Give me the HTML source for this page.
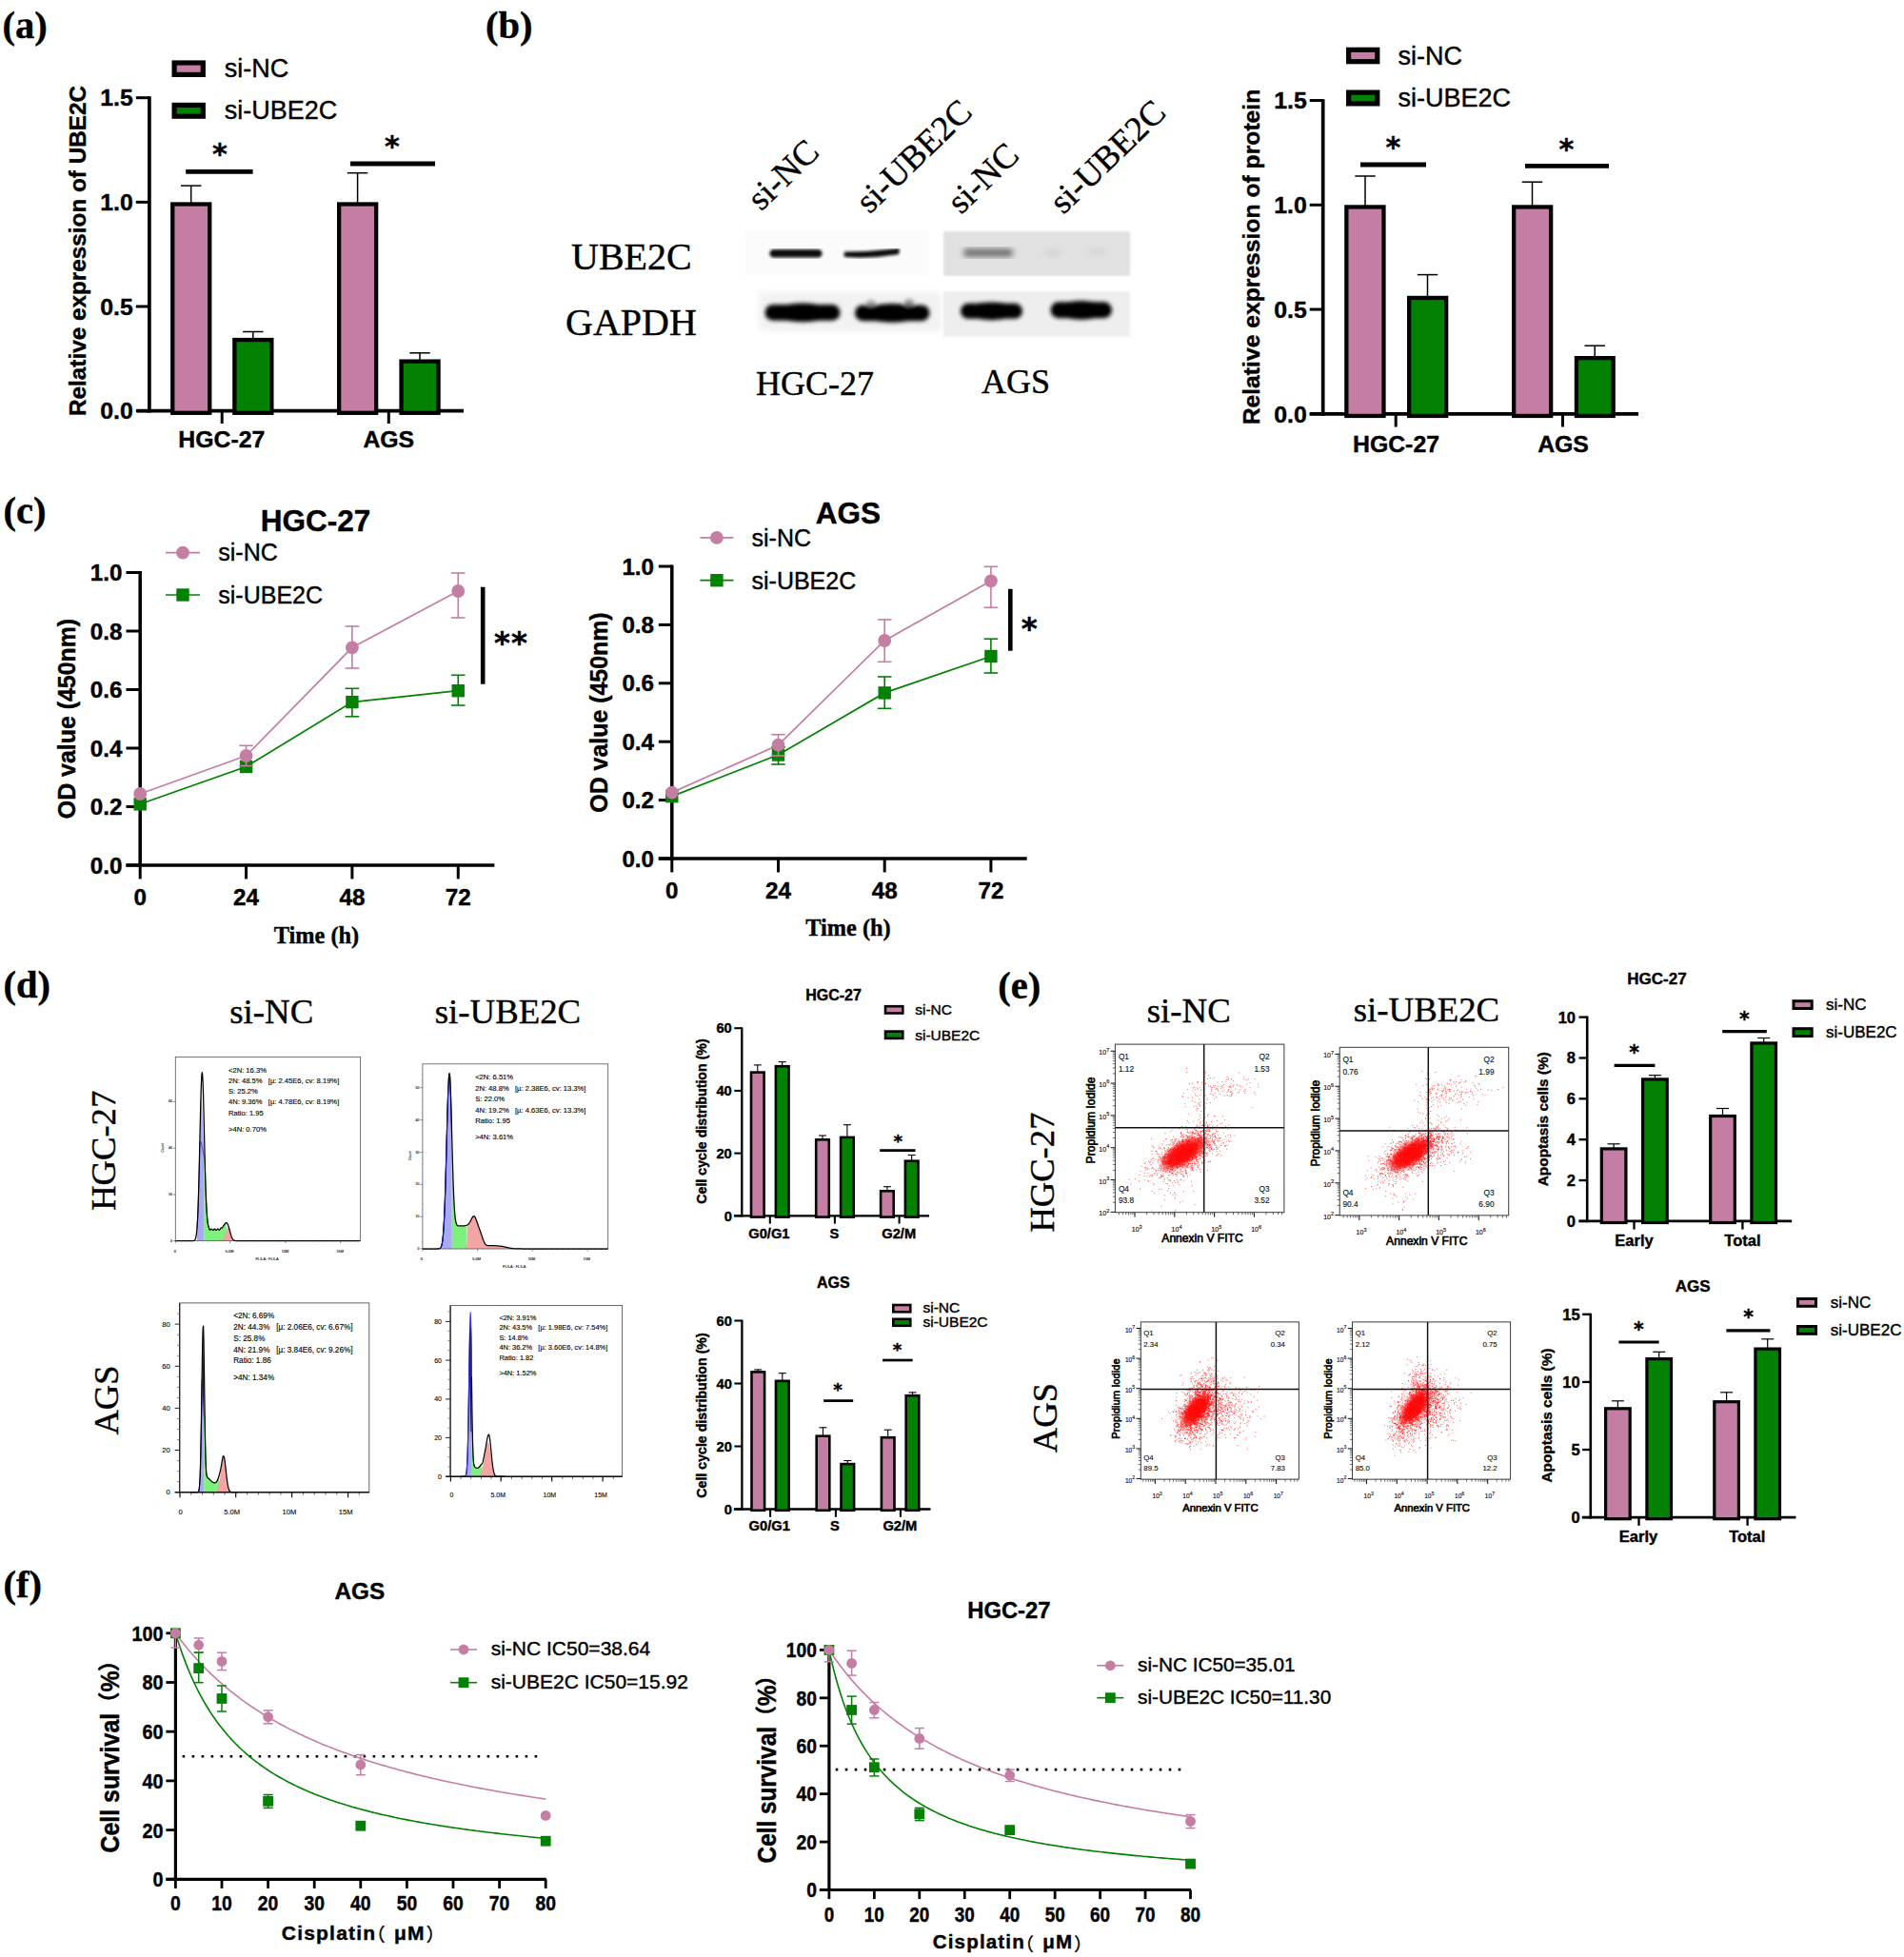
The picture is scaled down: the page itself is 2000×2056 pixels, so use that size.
<!DOCTYPE html>
<html><head><meta charset="utf-8"><title>Figure</title>
<style>
html,body{margin:0;padding:0;background:#fff}
svg{display:block}
text{font-family:'Liberation Sans',Arial,sans-serif;fill:#000;stroke-width:0.4px}
text:not([stroke]){stroke:#000}
.sb{font-weight:bold}
.t{font-family:'Liberation Serif','Times New Roman',serif}
.tb{font-family:'Liberation Serif','Times New Roman',serif;font-weight:bold}
.a{font-family:'DejaVu Sans',sans-serif;font-weight:bold}
.cb{font-family:'Liberation Sans','Noto Sans CJK SC',sans-serif;font-weight:bold}
.c{font-family:'Liberation Sans','Noto Sans CJK SC',sans-serif;font-weight:normal}
line:not([stroke]){stroke:#000}
</style></head><body>
<svg width="2000" height="2056" viewBox="0 0 2000 2056">
<defs>
<filter id="bl2" x="-5%" y="-20%" width="110%" height="140%"><feGaussianBlur stdDeviation="1.2"/></filter>
<filter id="bl3" x="-10%" y="-10%" width="120%" height="120%"><feGaussianBlur stdDeviation="1.6"/></filter>
<filter id="bl4" x="-10%" y="-30%" width="120%" height="160%"><feGaussianBlur stdDeviation="2.3"/></filter>
<filter id="bl5" x="-10%" y="-30%" width="120%" height="160%"><feGaussianBlur stdDeviation="3"/></filter>
<radialGradient id="rg"><stop offset="0" stop-color="#ff0a0a" stop-opacity="1"/><stop offset="0.55" stop-color="#ff0a0a" stop-opacity="0.9"/><stop offset="0.8" stop-color="#ff1a1a" stop-opacity="0.45"/><stop offset="1" stop-color="#ff2a2a" stop-opacity="0"/></radialGradient>
</defs>
<rect x="0" y="0" width="2000" height="2056" fill="#fff"/>
<text class="tb" x="2.5" y="40" font-size="40.5">(a)</text>
<line x1="156.9" y1="101.3" x2="156.9" y2="433.5" stroke-width="3.7"/>
<line x1="143.6" y1="431.65" x2="487" y2="431.65" stroke-width="3.7"/>
<line x1="142.8" y1="431.65" x2="156.9" y2="431.65" stroke-width="3"/>
<text class="sb" x="139.8" y="440.35" font-size="24.8" text-anchor="end">0.0</text>
<line x1="142.8" y1="322" x2="156.9" y2="322" stroke-width="3"/>
<text class="sb" x="139.8" y="330.7" font-size="24.8" text-anchor="end">0.5</text>
<line x1="142.8" y1="212.35" x2="156.9" y2="212.35" stroke-width="3"/>
<text class="sb" x="139.8" y="221.05" font-size="24.8" text-anchor="end">1.0</text>
<line x1="142.8" y1="102.7" x2="156.9" y2="102.7" stroke-width="3"/>
<text class="sb" x="139.8" y="111.4" font-size="24.8" text-anchor="end">1.5</text>
<line x1="233.2" y1="431.65" x2="233.2" y2="445" stroke-width="3"/>
<line x1="408.3" y1="431.65" x2="408.3" y2="445" stroke-width="3"/>
<text class="sb" x="232.8" y="470" font-size="24.8" text-anchor="middle">HGC-27</text>
<text class="sb" x="408.3" y="470" font-size="24.8" text-anchor="middle">AGS</text>
<line x1="200.7" y1="214" x2="200.7" y2="195.1" stroke-width="1.5"/>
<line x1="190" y1="195.1" x2="211.4" y2="195.1" stroke-width="1.5"/>
<line x1="265.8" y1="357" x2="265.8" y2="348.5" stroke-width="1.5"/>
<line x1="255.1" y1="348.5" x2="276.5" y2="348.5" stroke-width="1.5"/>
<line x1="375.6" y1="214" x2="375.6" y2="181.7" stroke-width="1.5"/>
<line x1="364.9" y1="181.7" x2="386.3" y2="181.7" stroke-width="1.5"/>
<line x1="441" y1="379" x2="441" y2="370.8" stroke-width="1.5"/>
<line x1="430.3" y1="370.8" x2="451.7" y2="370.8" stroke-width="1.5"/>
<rect x="181.25" y="214.5" width="39" height="219.3" fill="#c57ea3" stroke="#000" stroke-width="4.3"/>
<rect x="246.35" y="357.04" width="39" height="76.75" fill="#028102" stroke="#000" stroke-width="4.3"/>
<rect x="356.15" y="214.5" width="39" height="219.3" fill="#c57ea3" stroke="#000" stroke-width="4.3"/>
<rect x="421.55" y="379.63" width="39" height="54.17" fill="#028102" stroke="#000" stroke-width="4.3"/>
<line x1="195.2" y1="180.3" x2="265.6" y2="180.3" stroke-width="4.8"/>
<text class="a" x="223.12" y="171.71" font-size="30.11">*</text>
<line x1="368" y1="172" x2="457" y2="172" stroke-width="4.8"/>
<text class="a" x="404.12" y="163.91" font-size="30.11">*</text>
<text class="sb" x="90.4" y="263.5" font-size="24.3" text-anchor="middle" transform="rotate(-90 90.4 263.5)">Relative expression of UBE2C</text>
<rect x="183.1" y="66" width="30.2" height="12.4" fill="#c57ea3" stroke="#000" stroke-width="5.2"/>
<rect x="183.1" y="110.4" width="30.2" height="11.8" fill="#028102" stroke="#000" stroke-width="5.2"/>
<text class="s" x="235.8" y="81" font-size="27">si-NC</text>
<text class="s" x="235.8" y="125" font-size="27">si-UBE2C</text>
<text class="tb" x="510" y="40" font-size="40.5">(b)</text>
<text class="t" x="799.5" y="222.5" font-size="36.5" transform="rotate(-44 799.5 222.5)">si-NC</text>
<text class="t" x="913.5" y="225.5" font-size="36.5" transform="rotate(-44 913.5 225.5)">si-UBE2C</text>
<text class="t" x="1009.5" y="226" font-size="36.5" transform="rotate(-44 1009.5 226)">si-NC</text>
<text class="t" x="1117" y="226" font-size="36.5" transform="rotate(-44 1117 226)">si-UBE2C</text>
<text class="t" x="600" y="282.6" font-size="40">UBE2C</text>
<text class="t" x="594" y="352" font-size="40">GAPDH</text>
<text class="t" x="794" y="415" font-size="36">HGC-27</text>
<text class="t" x="1031" y="413" font-size="36">AGS</text>
<g filter="url(#bl2)">
<rect x="782" y="243.1" width="194" height="46.7" fill="#fbfbfb" stroke="none"/>
<rect x="991.1" y="243.1" width="196" height="46.7" fill="#e1e1e1" stroke="none"/>
<rect x="991.1" y="306" width="196" height="47.6" fill="#eeeeee" stroke="none"/>
</g>
<g filter="url(#bl5)">
<rect x="797" y="307" width="192" height="41" fill="#f2f2f2" stroke="none"/>
</g>
<g filter="url(#bl3)">
<rect x="808.5" y="262" width="55" height="8.6" rx="4.3" fill="#0a0a0a"/>
<path d="M888 268.8 Q915 270.8 943 266 L943.5 262.2 Q915 265.5 888 265.8Z" fill="#111" stroke="#111" stroke-width="2.6" stroke-linejoin="round"/>
</g>
<g filter="url(#bl4)">
<ellipse cx="843" cy="328.3" rx="30" ry="9.9" fill="#000"/><rect x="803.5" y="320" width="79" height="16.8" rx="8.4" fill="#000"/>
<ellipse cx="937" cy="328.8" rx="30" ry="9.9" fill="#000"/><rect x="898" y="320.4" width="78.5" height="16.8" rx="8.4" fill="#000"/>
<ellipse cx="915" cy="318.5" rx="5" ry="3" fill="#999"/><ellipse cx="955" cy="318" rx="5" ry="3.5" fill="#888"/>
<ellipse cx="1041.5" cy="326.8" rx="25" ry="9.4" fill="#000"/><rect x="1009" y="318.8" width="65" height="16" rx="8" fill="#000"/>
<ellipse cx="1135.7" cy="325.8" rx="25" ry="9.9" fill="#000"/><rect x="1103.5" y="317.3" width="64.5" height="17" rx="8.5" fill="#000"/>
</g>
<g filter="url(#bl5)">
<rect x="1012" y="261.5" width="52" height="8" rx="4" fill="#666"/>
<rect x="1098" y="263.5" width="16" height="5" rx="2.5" fill="#cfcfcf"/>
<rect x="1144" y="262" width="18" height="5" rx="2.5" fill="#d2d2d2"/>
</g>
<line x1="1389.7" y1="104.15" x2="1389.7" y2="436.65" stroke-width="3.7"/>
<line x1="1375.7" y1="434.8" x2="1721" y2="434.8" stroke-width="3.7"/>
<line x1="1375.7" y1="434.8" x2="1389.7" y2="434.8" stroke-width="3"/>
<text class="sb" x="1372.7" y="443.5" font-size="24.8" text-anchor="end">0.0</text>
<line x1="1375.7" y1="325.05" x2="1389.7" y2="325.05" stroke-width="3"/>
<text class="sb" x="1372.7" y="333.75" font-size="24.8" text-anchor="end">0.5</text>
<line x1="1375.7" y1="215.3" x2="1389.7" y2="215.3" stroke-width="3"/>
<text class="sb" x="1372.7" y="224" font-size="24.8" text-anchor="end">1.0</text>
<line x1="1375.7" y1="105.55" x2="1389.7" y2="105.55" stroke-width="3"/>
<text class="sb" x="1372.7" y="114.25" font-size="24.8" text-anchor="end">1.5</text>
<line x1="1466.2" y1="434.8" x2="1466.2" y2="448.5" stroke-width="3"/>
<line x1="1641.5" y1="434.8" x2="1641.5" y2="448.5" stroke-width="3"/>
<text class="sb" x="1466.5" y="474.6" font-size="24.8" text-anchor="middle">HGC-27</text>
<text class="sb" x="1642" y="474.6" font-size="24.8" text-anchor="middle">AGS</text>
<line x1="1434" y1="218" x2="1434" y2="185" stroke-width="1.5"/>
<line x1="1423.3" y1="185" x2="1444.7" y2="185" stroke-width="1.5"/>
<line x1="1499.5" y1="313" x2="1499.5" y2="288.6" stroke-width="1.5"/>
<line x1="1488.8" y1="288.6" x2="1510.2" y2="288.6" stroke-width="1.5"/>
<line x1="1609.5" y1="218" x2="1609.5" y2="191.2" stroke-width="1.5"/>
<line x1="1598.8" y1="191.2" x2="1620.2" y2="191.2" stroke-width="1.5"/>
<line x1="1675.2" y1="376" x2="1675.2" y2="363.2" stroke-width="1.5"/>
<line x1="1664.5" y1="363.2" x2="1685.9" y2="363.2" stroke-width="1.5"/>
<rect x="1414.35" y="217.45" width="39.1" height="219.5" fill="#c57ea3" stroke="#000" stroke-width="4.3"/>
<rect x="1480.15" y="312.93" width="39" height="124.02" fill="#028102" stroke="#000" stroke-width="4.3"/>
<rect x="1590.15" y="217.45" width="39" height="219.5" fill="#c57ea3" stroke="#000" stroke-width="4.3"/>
<rect x="1655.95" y="376.15" width="38.7" height="60.8" fill="#028102" stroke="#000" stroke-width="4.3"/>
<line x1="1429" y1="173" x2="1498" y2="173" stroke-width="4.8"/>
<text class="a" x="1455.42" y="165.31" font-size="30.11">*</text>
<line x1="1602" y1="174.3" x2="1690" y2="174.3" stroke-width="4.8"/>
<text class="a" x="1637.62" y="166.71" font-size="30.11">*</text>
<text class="sb" x="1323.3" y="270" font-size="24.7" text-anchor="middle" transform="rotate(-90 1323.3 270)">Relative expression of protein</text>
<rect x="1416.6" y="52.3" width="30.2" height="12.4" fill="#c57ea3" stroke="#000" stroke-width="5.2"/>
<rect x="1416.6" y="97.1" width="30.2" height="11.8" fill="#028102" stroke="#000" stroke-width="5.2"/>
<text class="s" x="1468.4" y="67.6" font-size="27">si-NC</text>
<text class="s" x="1468.4" y="112" font-size="27">si-UBE2C</text>
<text class="tb" x="3.5" y="550" font-size="40.5">(c)</text>
<line x1="147.2" y1="600.1" x2="147.2" y2="910.75" stroke-width="3.5"/>
<line x1="132.5" y1="909" x2="519.4" y2="909" stroke-width="3.5"/>
<line x1="132.5" y1="909" x2="147.2" y2="909" stroke-width="3"/>
<text class="sb" x="128.4" y="917.6" font-size="24.2" text-anchor="end">0.0</text>
<line x1="132.5" y1="847.5" x2="147.2" y2="847.5" stroke-width="3"/>
<text class="sb" x="128.4" y="856.1" font-size="24.2" text-anchor="end">0.2</text>
<line x1="132.5" y1="786" x2="147.2" y2="786" stroke-width="3"/>
<text class="sb" x="128.4" y="794.6" font-size="24.2" text-anchor="end">0.4</text>
<line x1="132.5" y1="724.5" x2="147.2" y2="724.5" stroke-width="3"/>
<text class="sb" x="128.4" y="733.1" font-size="24.2" text-anchor="end">0.6</text>
<line x1="132.5" y1="663" x2="147.2" y2="663" stroke-width="3"/>
<text class="sb" x="128.4" y="671.6" font-size="24.2" text-anchor="end">0.8</text>
<line x1="132.5" y1="601.5" x2="147.2" y2="601.5" stroke-width="3"/>
<text class="sb" x="128.4" y="610.1" font-size="24.2" text-anchor="end">1.0</text>
<line x1="147.2" y1="909" x2="147.2" y2="923.4" stroke-width="3"/>
<text class="sb" x="147.2" y="950.6" font-size="24.2" text-anchor="middle">0</text>
<line x1="258.55" y1="909" x2="258.55" y2="923.4" stroke-width="3"/>
<text class="sb" x="258.55" y="950.6" font-size="24.2" text-anchor="middle">24</text>
<line x1="369.9" y1="909" x2="369.9" y2="923.4" stroke-width="3"/>
<text class="sb" x="369.9" y="950.6" font-size="24.2" text-anchor="middle">48</text>
<line x1="481.25" y1="909" x2="481.25" y2="923.4" stroke-width="3"/>
<text class="sb" x="481.25" y="950.6" font-size="24.2" text-anchor="middle">72</text>
<text class="sb" x="331.5" y="558" font-size="31.5" text-anchor="middle">HGC-27</text>
<text class="sb" x="78.8" y="755" font-size="24.9" text-anchor="middle" transform="rotate(-90 78.8 755)">OD value (450nm)</text>
<text class="tb" x="332.5" y="990.5" font-size="24.3" text-anchor="middle">Time (h)</text>
<line x1="369.9" y1="723.3" x2="369.9" y2="752.8" stroke-width="1.6" stroke="#028102"/>
<line x1="362.6" y1="723.3" x2="377.2" y2="723.3" stroke-width="1.6" stroke="#028102"/>
<line x1="362.6" y1="752.8" x2="377.2" y2="752.8" stroke-width="1.6" stroke="#028102"/>
<line x1="481.25" y1="709.3" x2="481.25" y2="741" stroke-width="1.6" stroke="#028102"/>
<line x1="473.95" y1="709.3" x2="488.55" y2="709.3" stroke-width="1.6" stroke="#028102"/>
<line x1="473.95" y1="741" x2="488.55" y2="741" stroke-width="1.6" stroke="#028102"/>
<polyline points="147.2,834 258.55,794 369.9,680.3 481.25,621" fill="none" stroke="#c57ea3" stroke-width="1.7"/>
<polyline points="147.2,844.8 258.55,805.5 369.9,737.6 481.25,725.7" fill="none" stroke="#028102" stroke-width="1.7"/>
<rect x="140.5" y="838.1" width="13.4" height="13.4" fill="#028102" stroke="none"/>
<rect x="251.85" y="798.8" width="13.4" height="13.4" fill="#028102" stroke="none"/>
<rect x="363.2" y="730.9" width="13.4" height="13.4" fill="#028102" stroke="none"/>
<rect x="474.55" y="719" width="13.4" height="13.4" fill="#028102" stroke="none"/>
<line x1="258.55" y1="783.3" x2="258.55" y2="804.6" stroke-width="1.6" stroke="#c57ea3"/>
<line x1="251.25" y1="783.3" x2="265.85" y2="783.3" stroke-width="1.6" stroke="#c57ea3"/>
<line x1="251.25" y1="804.6" x2="265.85" y2="804.6" stroke-width="1.6" stroke="#c57ea3"/>
<line x1="369.9" y1="658" x2="369.9" y2="702" stroke-width="1.6" stroke="#c57ea3"/>
<line x1="362.6" y1="658" x2="377.2" y2="658" stroke-width="1.6" stroke="#c57ea3"/>
<line x1="362.6" y1="702" x2="377.2" y2="702" stroke-width="1.6" stroke="#c57ea3"/>
<line x1="481.25" y1="602" x2="481.25" y2="649" stroke-width="1.6" stroke="#c57ea3"/>
<line x1="473.95" y1="602" x2="488.55" y2="602" stroke-width="1.6" stroke="#c57ea3"/>
<line x1="473.95" y1="649" x2="488.55" y2="649" stroke-width="1.6" stroke="#c57ea3"/>
<circle cx="147.2" cy="834" r="6.9" fill="#c57ea3"/>
<circle cx="258.55" cy="794" r="6.9" fill="#c57ea3"/>
<circle cx="369.9" cy="680.3" r="6.9" fill="#c57ea3"/>
<circle cx="481.25" cy="621" r="6.9" fill="#c57ea3"/>
<line x1="174" y1="580.7" x2="210" y2="580.7" stroke-width="1.7" stroke="#c57ea3"/>
<circle cx="192" cy="580.7" r="6.9" fill="#c57ea3"/>
<line x1="174" y1="625" x2="210" y2="625" stroke-width="1.7" stroke="#028102"/>
<rect x="185.3" y="618.3" width="13.4" height="13.4" fill="#028102" stroke="none"/>
<text class="s" x="229.3" y="589.2" font-size="25">si-NC</text>
<text class="s" x="229.3" y="633.8" font-size="25">si-UBE2C</text>
<line x1="507.2" y1="616.7" x2="507.2" y2="718.7" stroke-width="4.6"/>
<text class="a" x="519.07" y="685.71" font-size="32.26">*</text>
<text class="a" x="537.07" y="685.71" font-size="32.26">*</text>
<line x1="705.8" y1="593.6" x2="705.8" y2="903.75" stroke-width="3.5"/>
<line x1="691.8" y1="902" x2="1078.7" y2="902" stroke-width="3.5"/>
<line x1="691.8" y1="902" x2="705.8" y2="902" stroke-width="3"/>
<text class="sb" x="687" y="910.6" font-size="24.2" text-anchor="end">0.0</text>
<line x1="691.8" y1="840.6" x2="705.8" y2="840.6" stroke-width="3"/>
<text class="sb" x="687" y="849.2" font-size="24.2" text-anchor="end">0.2</text>
<line x1="691.8" y1="779.2" x2="705.8" y2="779.2" stroke-width="3"/>
<text class="sb" x="687" y="787.8" font-size="24.2" text-anchor="end">0.4</text>
<line x1="691.8" y1="717.8" x2="705.8" y2="717.8" stroke-width="3"/>
<text class="sb" x="687" y="726.4" font-size="24.2" text-anchor="end">0.6</text>
<line x1="691.8" y1="656.4" x2="705.8" y2="656.4" stroke-width="3"/>
<text class="sb" x="687" y="665" font-size="24.2" text-anchor="end">0.8</text>
<line x1="691.8" y1="595" x2="705.8" y2="595" stroke-width="3"/>
<text class="sb" x="687" y="603.6" font-size="24.2" text-anchor="end">1.0</text>
<line x1="705.8" y1="902" x2="705.8" y2="916.4" stroke-width="3"/>
<text class="sb" x="705.8" y="943.8" font-size="24.2" text-anchor="middle">0</text>
<line x1="817.5" y1="902" x2="817.5" y2="916.4" stroke-width="3"/>
<text class="sb" x="817.5" y="943.8" font-size="24.2" text-anchor="middle">24</text>
<line x1="929.2" y1="902" x2="929.2" y2="916.4" stroke-width="3"/>
<text class="sb" x="929.2" y="943.8" font-size="24.2" text-anchor="middle">48</text>
<line x1="1040.9" y1="902" x2="1040.9" y2="916.4" stroke-width="3"/>
<text class="sb" x="1040.9" y="943.8" font-size="24.2" text-anchor="middle">72</text>
<text class="sb" x="890.8" y="550.3" font-size="31.5" text-anchor="middle">AGS</text>
<text class="sb" x="637.5" y="748.5" font-size="24.9" text-anchor="middle" transform="rotate(-90 637.5 748.5)">OD value (450nm)</text>
<text class="tb" x="891" y="983.2" font-size="24.3" text-anchor="middle">Time (h)</text>
<line x1="817.5" y1="784.8" x2="817.5" y2="803" stroke-width="1.6" stroke="#028102"/>
<line x1="810.2" y1="784.8" x2="824.8" y2="784.8" stroke-width="1.6" stroke="#028102"/>
<line x1="810.2" y1="803" x2="824.8" y2="803" stroke-width="1.6" stroke="#028102"/>
<line x1="929.2" y1="711" x2="929.2" y2="744.3" stroke-width="1.6" stroke="#028102"/>
<line x1="921.9" y1="711" x2="936.5" y2="711" stroke-width="1.6" stroke="#028102"/>
<line x1="921.9" y1="744.3" x2="936.5" y2="744.3" stroke-width="1.6" stroke="#028102"/>
<line x1="1040.9" y1="671.2" x2="1040.9" y2="707" stroke-width="1.6" stroke="#028102"/>
<line x1="1033.6" y1="671.2" x2="1048.2" y2="671.2" stroke-width="1.6" stroke="#028102"/>
<line x1="1033.6" y1="707" x2="1048.2" y2="707" stroke-width="1.6" stroke="#028102"/>
<polyline points="705.8,832.6 817.5,782.7 929.2,673 1040.9,610.3" fill="none" stroke="#c57ea3" stroke-width="1.7"/>
<polyline points="705.8,836.6 817.5,793 929.2,727.9 1040.9,689.5" fill="none" stroke="#028102" stroke-width="1.7"/>
<rect x="699.1" y="829.9" width="13.4" height="13.4" fill="#028102" stroke="none"/>
<rect x="810.8" y="786.3" width="13.4" height="13.4" fill="#028102" stroke="none"/>
<rect x="922.5" y="721.2" width="13.4" height="13.4" fill="#028102" stroke="none"/>
<rect x="1034.2" y="682.8" width="13.4" height="13.4" fill="#028102" stroke="none"/>
<line x1="817.5" y1="771.7" x2="817.5" y2="794" stroke-width="1.6" stroke="#c57ea3"/>
<line x1="810.2" y1="771.7" x2="824.8" y2="771.7" stroke-width="1.6" stroke="#c57ea3"/>
<line x1="810.2" y1="794" x2="824.8" y2="794" stroke-width="1.6" stroke="#c57ea3"/>
<line x1="929.2" y1="651" x2="929.2" y2="695.3" stroke-width="1.6" stroke="#c57ea3"/>
<line x1="921.9" y1="651" x2="936.5" y2="651" stroke-width="1.6" stroke="#c57ea3"/>
<line x1="921.9" y1="695.3" x2="936.5" y2="695.3" stroke-width="1.6" stroke="#c57ea3"/>
<line x1="1040.9" y1="595.3" x2="1040.9" y2="638.3" stroke-width="1.6" stroke="#c57ea3"/>
<line x1="1033.6" y1="595.3" x2="1048.2" y2="595.3" stroke-width="1.6" stroke="#c57ea3"/>
<line x1="1033.6" y1="638.3" x2="1048.2" y2="638.3" stroke-width="1.6" stroke="#c57ea3"/>
<circle cx="705.8" cy="832.6" r="6.9" fill="#c57ea3"/>
<circle cx="817.5" cy="782.7" r="6.9" fill="#c57ea3"/>
<circle cx="929.2" cy="673" r="6.9" fill="#c57ea3"/>
<circle cx="1040.9" cy="610.3" r="6.9" fill="#c57ea3"/>
<line x1="735.4" y1="564.9" x2="770.4" y2="564.9" stroke-width="1.7" stroke="#c57ea3"/>
<circle cx="752.9" cy="564.9" r="6.9" fill="#c57ea3"/>
<line x1="735.4" y1="609.7" x2="770.4" y2="609.7" stroke-width="1.7" stroke="#028102"/>
<rect x="746.2" y="603" width="13.4" height="13.4" fill="#028102" stroke="none"/>
<text class="s" x="789.5" y="573.8" font-size="25">si-NC</text>
<text class="s" x="789.5" y="618.6" font-size="25">si-UBE2C</text>
<line x1="1061.3" y1="618.8" x2="1061.3" y2="683.7" stroke-width="4.6"/>
<text class="a" x="1072.77" y="670.51" font-size="32.26">*</text>
<text class="tb" x="3.5" y="1048" font-size="40.5">(d)</text>
<text class="t" x="241.3" y="1075.4" font-size="36.8">si-NC</text>
<text class="t" x="456.8" y="1075.4" font-size="36.8">si-UBE2C</text>
<text class="t" x="120.9" y="1208.8" font-size="36.6" text-anchor="middle" transform="rotate(-90 120.9 1208.8)">HGC-27</text>
<text class="t" x="124" y="1471" font-size="36.6" text-anchor="middle" transform="rotate(-90 124 1471)">AGS</text>
<polygon points="206.9,1303.6 206.9,1290.97 207.3,1285.19 207.7,1277.54 208.1,1267.76 208.5,1255.72 208.9,1241.45 209.3,1225.24 209.7,1207.62 210.1,1189.4 210.5,1171.6 210.9,1155.38 211.3,1141.92 214.5,1215.6 214.5,1303.6" fill="#a9a9f5" fill-opacity="1"/>
<polygon points="214.5,1303.6 214.5,1215.6 214.9,1215.6 215.3,1222.24 215.7,1236.87 216.1,1249.37 216.5,1259.72 216.9,1268.08 217.3,1274.69 217.7,1279.81 218.1,1283.66 218.5,1286.46 218.9,1288.41 219.3,1289.28 219.7,1290.62 220.1,1291.61 220.5,1292.1 220.9,1292.07 221.3,1291.69 221.7,1291.27 222.1,1291.07 222.5,1291.25 222.9,1291.71 223.3,1292.22 223.7,1292.49 224.1,1292.38 224.5,1291.95 224.9,1291.44 225.3,1291.12 225.7,1291.18 226.1,1291.58 226.5,1292.1 226.9,1292.45 227.3,1292.44 227.7,1292.07 228.1,1291.54 228.5,1291.13 228.9,1291.07 229.3,1291.36 229.7,1291.83 230.1,1292.19 230.5,1292.2 230.9,1291.81 231.3,1291.16 231.7,1290.52 232.1,1290.13 232.5,1290.07 232.9,1290.21 233.3,1289.77 233.7,1289.3 234.1,1288.78 234.5,1288.21 234.9,1287.61 235.3,1286.99 235.7,1286.4 236.1,1285.84 236.5,1285.35 236.9,1284.97 237.3,1284.72 237.7,1284.64 238,1303.6" fill="#7df07d" fill-opacity="1"/>
<polygon points="232.5,1303.6 232.5,1303.06 232.9,1302.85 233.3,1302.56 233.7,1302.2 234.1,1301.73 234.5,1301.16 234.9,1300.47 235.3,1299.66 235.7,1298.72 236.1,1297.67 236.5,1296.52 236.9,1295.29 237.3,1294.02 237.7,1292.75 238.1,1291.53 238.5,1290.4 238.9,1289.43 239.3,1288.65 239.7,1288.11 240.1,1288.5 240.5,1289.82 240.9,1291.25 241.3,1292.74 241.7,1294.24 242.1,1295.71 242.5,1297.08 242.9,1298.34 243.3,1299.45 243.7,1300.4 244.1,1301.19 244.5,1301.82 244.9,1302.32 245.3,1302.7 245.7,1302.98 246.1,1303.18 246.5,1303.32 246.9,1303.42 247.3,1303.49 247.7,1303.53 248.1,1303.56 248.5,1303.57 248.9,1303.58 249.3,1303.59 249.7,1303.59 250,1303.6" fill="#f2a0a0" fill-opacity="0.95"/>
<line x1="211.2" y1="1199.6" x2="214.5" y2="1215.6" stroke-width="0.8" stroke="#3030d0"/>
<polyline points="206.9,1290.97 207.3,1285.19 207.7,1277.54 208.1,1267.76 208.5,1255.72 208.9,1241.45 209.3,1225.24 209.7,1207.62 210.1,1199.6 210.5,1199.6 210.9,1199.6" fill="none" stroke="#3030d0" stroke-width="0.8" stroke-linejoin="round"/>
<polyline points="214.5,1215.6 214.9,1215.6 215.3,1222.24 215.7,1236.87 216.1,1249.37 216.5,1259.72 216.9,1268.08 217.3,1274.69 217.7,1279.81 218.1,1283.66 218.5,1286.46 218.9,1288.41 219.3,1289.28 219.7,1290.62 220.1,1291.61 220.5,1292.1 220.9,1292.07 221.3,1291.69 221.7,1291.27 222.1,1291.07 222.5,1291.25 222.9,1291.71 223.3,1292.22 223.7,1292.49 224.1,1292.38 224.5,1291.95 224.9,1291.44 225.3,1291.12 225.7,1291.18 226.1,1291.58 226.5,1292.1 226.9,1292.45 227.3,1292.44 227.7,1292.07 228.1,1291.54 228.5,1291.13 228.9,1291.07 229.3,1291.36 229.7,1291.83 230.1,1292.19 230.5,1292.2 230.9,1291.81 231.3,1291.16 231.7,1290.52 232.1,1290.13 232.5,1290.07 232.9,1290.21 233.3,1289.77 233.7,1289.3 234.1,1288.78 234.5,1288.21 234.9,1287.61 235.3,1286.99 235.7,1286.4" fill="none" stroke="#10c010" stroke-width="0.9" stroke-linejoin="round"/>
<rect x="184.3" y="1110.4" width="194.3" height="193.2" fill="none" stroke="#555" stroke-width="0.8"/>
<polyline points="184.3,1303.6 184.7,1303.6 185.1,1303.6 185.5,1303.6 185.9,1303.6 186.3,1303.6 186.7,1303.6 187.1,1303.6 187.5,1303.6 187.9,1303.6 188.3,1303.6 188.7,1303.6 189.1,1303.6 189.5,1303.6 189.9,1303.6 190.3,1303.6 190.7,1303.6 191.1,1303.6 191.5,1303.6 191.9,1303.6 192.3,1303.6 192.7,1303.6 193.1,1303.6 193.5,1303.6 193.9,1303.6 194.3,1303.6 194.7,1303.6 195.1,1303.6 195.5,1303.6 195.9,1303.6 196.3,1303.6 196.7,1303.6 197.1,1303.6 197.5,1303.6 197.9,1303.6 198.3,1303.6 198.7,1303.6 199.1,1303.6 199.5,1303.6 199.9,1303.6 200.3,1303.6 200.7,1303.6 201.1,1303.6 201.5,1303.6 201.9,1303.59 202.3,1303.58 202.7,1303.56 203.1,1303.52 203.5,1303.44 203.9,1303.3 204.3,1303.06 204.7,1302.65 205.1,1301.98 205.5,1300.91 205.9,1299.26 206.3,1296.8 206.7,1293.25 207.1,1288.3 207.5,1281.62 207.9,1272.93 208.3,1262.02 208.7,1248.85 209.1,1233.56 209.5,1216.56 209.9,1198.53 210.3,1180.38 210.7,1163.22 211.1,1148.24 211.5,1136.56 211.9,1129.14 212.3,1126.6 212.7,1129.13 213.1,1136.53 213.5,1148.13 213.9,1162.94 214.3,1179.73 214.7,1197.23 215.1,1214.23 215.5,1229.8 215.9,1243.39 216.3,1254.81 216.7,1264.13 217.1,1271.59 217.5,1277.43 217.9,1281.88 218.3,1285.18 218.7,1287.53 219.1,1288.52 219.5,1289.98 219.9,1291.17 220.3,1291.92 220.7,1292.14 221.1,1291.91 221.5,1291.47 221.9,1291.13 222.3,1291.11 222.7,1291.46 223.1,1291.98 223.5,1292.4 223.9,1292.48 224.3,1292.19 224.7,1291.69 225.1,1291.24 225.5,1291.1 225.9,1291.35 226.3,1291.84 226.7,1292.31 227.1,1292.49 227.5,1292.29 227.9,1291.81 228.3,1291.3 228.7,1291.05 229.1,1291.17 229.5,1291.59 229.9,1292.04 230.3,1292.25 230.7,1292.05 231.1,1291.5 231.5,1290.82 231.9,1290.28 232.3,1290.06 232.7,1290.13 233.1,1289.99 233.5,1289.54 233.9,1289.05 234.3,1288.5 234.7,1287.91 235.1,1287.3 235.5,1286.69 235.9,1286.11 236.3,1285.58 236.7,1285.14 237.1,1284.83 237.5,1284.66 237.9,1284.67 238.3,1284.88 238.7,1285.31 239.1,1285.96 239.5,1286.83 239.9,1287.9 240.3,1289.15 240.7,1290.52 241.1,1291.99 241.5,1293.5 241.9,1294.98 242.3,1296.41 242.7,1297.73 243.1,1298.91 243.5,1299.94 243.9,1300.81 244.3,1301.52 244.7,1302.09 245.1,1302.52 245.5,1302.85 245.9,1303.09 246.3,1303.26 246.7,1303.38 247.1,1303.46 247.5,1303.51 247.9,1303.54 248.3,1303.57 248.7,1303.58 249.1,1303.59 249.5,1303.59 249.9,1303.6 250.3,1303.6 250.7,1303.6 251.1,1303.6 251.5,1303.6 251.9,1303.6 252.3,1303.6 252.7,1303.6 253.1,1303.6 253.5,1303.6 253.9,1303.6 254.3,1303.6 254.7,1303.6 255.1,1303.6 255.5,1303.6 255.9,1303.6 256.3,1303.6 256.7,1303.6 257.1,1303.6 257.5,1303.6 257.9,1303.6 258.3,1303.6 258.7,1303.6 259.1,1303.6 259.5,1303.6 259.9,1303.6 260.3,1303.6 260.7,1303.6 261.1,1303.6 261.5,1303.6 261.9,1303.6 262.3,1303.6 262.7,1303.6 263.1,1303.6 263.5,1303.6 263.9,1303.6 264.3,1303.6 264.7,1303.6 265.1,1303.6 265.5,1303.6 265.9,1303.6 266.3,1303.6 266.7,1303.6 267.1,1303.6 267.5,1303.6 267.9,1303.6 268.3,1303.6 268.7,1303.6 269.1,1303.6 269.5,1303.6 269.9,1303.6 270.3,1303.6 270.7,1303.6 271.1,1303.6 271.5,1303.6 271.9,1303.6 272.3,1303.6 272.7,1303.6 273.1,1303.6 273.5,1303.6 273.9,1303.6 274.3,1303.6 274.7,1303.6 275.1,1303.6 275.5,1303.6 275.9,1303.6 276.3,1303.6 276.7,1303.6 277.1,1303.6 277.5,1303.6 277.9,1303.6 278.3,1303.6 278.7,1303.6 279.1,1303.6 279.5,1303.6 279.9,1303.6 280.3,1303.6 280.7,1303.6 281.1,1303.6 281.5,1303.6 281.9,1303.6 282.3,1303.6 282.7,1303.6 283.1,1303.6 283.5,1303.6 283.9,1303.6 284.3,1303.6 284.7,1303.6 285.1,1303.6 285.5,1303.6 285.9,1303.6 286.3,1303.6 286.7,1303.6 287.1,1303.6 287.5,1303.6 287.9,1303.6 288.3,1303.6 288.7,1303.6 289.1,1303.6 289.5,1303.6 289.9,1303.6 290.3,1303.6 290.7,1303.6 291.1,1303.6 291.5,1303.6 291.9,1303.6 292.3,1303.6 292.7,1303.6 293.1,1303.6 293.5,1303.6 293.9,1303.6 294.3,1303.6 294.7,1303.6 295.1,1303.6 295.5,1303.6 295.9,1303.6 296.3,1303.6 296.7,1303.6 297.1,1303.6 297.5,1303.6 297.9,1303.6 298.3,1303.6 298.7,1303.6 299.1,1303.6 299.5,1303.6 299.9,1303.6 300.3,1303.6 300.7,1303.6 301.1,1303.6 301.5,1303.6 301.9,1303.6 302.3,1303.6 302.7,1303.6 303.1,1303.6 303.5,1303.6 303.9,1303.6 304.3,1303.6 304.7,1303.6 305.1,1303.6 305.5,1303.6 305.9,1303.6 306.3,1303.6 306.7,1303.6 307.1,1303.6 307.5,1303.6 307.9,1303.6 308.3,1303.6 308.7,1303.6 309.1,1303.6 309.5,1303.6 309.9,1303.6 310.3,1303.6 310.7,1303.6 311.1,1303.6 311.5,1303.6 311.9,1303.6 312.3,1303.6 312.7,1303.6 313.1,1303.6 313.5,1303.6 313.9,1303.6 314.3,1303.6 314.7,1303.6 315.1,1303.6 315.5,1303.6 315.9,1303.6 316.3,1303.6 316.7,1303.6 317.1,1303.6 317.5,1303.6 317.9,1303.6 318.3,1303.6 318.7,1303.6 319.1,1303.6 319.5,1303.6 319.9,1303.6 320.3,1303.6 320.7,1303.6 321.1,1303.6 321.5,1303.6 321.9,1303.6 322.3,1303.6 322.7,1303.6 323.1,1303.6 323.5,1303.6 323.9,1303.6 324.3,1303.6 324.7,1303.6 325.1,1303.6 325.5,1303.6 325.9,1303.6 326.3,1303.6 326.7,1303.6 327.1,1303.6 327.5,1303.6 327.9,1303.6 328.3,1303.6 328.7,1303.6 329.1,1303.6 329.5,1303.6 329.9,1303.6 330.3,1303.6 330.7,1303.6 331.1,1303.6 331.5,1303.6 331.9,1303.6 332.3,1303.6 332.7,1303.6 333.1,1303.6 333.5,1303.6 333.9,1303.6 334.3,1303.6 334.7,1303.6 335.1,1303.6 335.5,1303.6 335.9,1303.6 336.3,1303.6 336.7,1303.6 337.1,1303.6 337.5,1303.6 337.9,1303.6 338.3,1303.6 338.7,1303.6 339.1,1303.6 339.5,1303.6 339.9,1303.6 340.3,1303.6 340.7,1303.6 341.1,1303.6 341.5,1303.6 341.9,1303.6 342.3,1303.6 342.7,1303.6 343.1,1303.6 343.5,1303.6 343.9,1303.6 344.3,1303.6 344.7,1303.6 345.1,1303.6 345.5,1303.6 345.9,1303.6 346.3,1303.6 346.7,1303.6 347.1,1303.6 347.5,1303.6 347.9,1303.6 348.3,1303.6 348.7,1303.6 349.1,1303.6 349.5,1303.6 349.9,1303.6 350.3,1303.6 350.7,1303.6 351.1,1303.6 351.5,1303.6 351.9,1303.6 352.3,1303.6 352.7,1303.6 353.1,1303.6 353.5,1303.6 353.9,1303.6 354.3,1303.6 354.7,1303.6 355.1,1303.6 355.5,1303.6 355.9,1303.6 356.3,1303.6 356.7,1303.6 357.1,1303.6 357.5,1303.6 357.9,1303.6 358.3,1303.6 358.7,1303.6 359.1,1303.6 359.5,1303.6 359.9,1303.6 360.3,1303.6 360.7,1303.6 361.1,1303.6 361.5,1303.6 361.9,1303.6 362.3,1303.6 362.7,1303.6 363.1,1303.6 363.5,1303.6 363.9,1303.6 364.3,1303.6 364.7,1303.6 365.1,1303.6 365.5,1303.6 365.9,1303.6 366.3,1303.6 366.7,1303.6 367.1,1303.6 367.5,1303.6 367.9,1303.6 368.3,1303.6 368.7,1303.6 369.1,1303.6 369.5,1303.6 369.9,1303.6 370.3,1303.6 370.7,1303.6 371.1,1303.6 371.5,1303.6 371.9,1303.6 372.3,1303.6 372.7,1303.6 373.1,1303.6 373.5,1303.6 373.9,1303.6 374.3,1303.6 374.7,1303.6 375.1,1303.6 375.5,1303.6 375.9,1303.6 376.3,1303.6 376.7,1303.6 377.1,1303.6 377.5,1303.6 377.9,1303.6 378.3,1303.6" fill="none" stroke="#000" stroke-width="1.25" stroke-linejoin="round"/>
<text class="s" x="240" y="1126.5" font-size="7.6" fill="#1a1a1a" stroke="#1a1a1a" xml:space="preserve" style="stroke-width:0.15px">&lt;2N: 16.3%</text>
<text class="s" x="240" y="1137.8" font-size="7.6" fill="#1a1a1a" stroke="#1a1a1a" xml:space="preserve" style="stroke-width:0.15px">2N: 48.5%   [µ: 2.45E6, cv: 8.19%]</text>
<text class="s" x="240" y="1149.1" font-size="7.6" fill="#1a1a1a" stroke="#1a1a1a" xml:space="preserve" style="stroke-width:0.15px">S: 25.2%</text>
<text class="s" x="240" y="1160.4" font-size="7.6" fill="#1a1a1a" stroke="#1a1a1a" xml:space="preserve" style="stroke-width:0.15px">4N: 9.36%   [µ: 4.78E6, cv: 8.19%]</text>
<text class="s" x="240" y="1172" font-size="7.6" fill="#1a1a1a" stroke="#1a1a1a" xml:space="preserve" style="stroke-width:0.15px">Ratio: 1.95</text>
<text class="s" x="240" y="1189" font-size="7.6" fill="#1a1a1a" stroke="#1a1a1a" xml:space="preserve" style="stroke-width:0.15px">&gt;4N: 0.70%</text>
<line x1="181.8" y1="1157.4" x2="184.3" y2="1157.4" stroke-width="0.6" stroke="#444"/>
<text class="s" x="180.8" y="1158.4" font-size="3.4" text-anchor="end" fill="#444" stroke="#444"  style="stroke-width:0.15px">60</text>
<line x1="181.8" y1="1206.2" x2="184.3" y2="1206.2" stroke-width="0.6" stroke="#444"/>
<text class="s" x="180.8" y="1207.2" font-size="3.4" text-anchor="end" fill="#444" stroke="#444"  style="stroke-width:0.15px">40</text>
<line x1="181.8" y1="1255" x2="184.3" y2="1255" stroke-width="0.6" stroke="#444"/>
<text class="s" x="180.8" y="1256" font-size="3.4" text-anchor="end" fill="#444" stroke="#444"  style="stroke-width:0.15px">20</text>
<line x1="181.8" y1="1303.6" x2="184.3" y2="1303.6" stroke-width="0.6" stroke="#444"/>
<text class="s" x="180.8" y="1304.6" font-size="3.4" text-anchor="end" fill="#444" stroke="#444"  style="stroke-width:0.15px">0</text>
<line x1="184.3" y1="1303.6" x2="184.3" y2="1306.1" stroke-width="0.6" stroke="#444"/>
<text class="s" x="183.8" y="1315.6" font-size="3.8" text-anchor="middle" fill="#444" stroke="#444"  style="stroke-width:0.15px">0</text>
<line x1="241.6" y1="1303.6" x2="241.6" y2="1306.1" stroke-width="0.6" stroke="#444"/>
<text class="s" x="241.1" y="1315.6" font-size="3.8" text-anchor="middle" fill="#444" stroke="#444"  style="stroke-width:0.15px">5.0M</text>
<line x1="300" y1="1303.6" x2="300" y2="1306.1" stroke-width="0.6" stroke="#444"/>
<text class="s" x="299.5" y="1315.6" font-size="3.8" text-anchor="middle" fill="#444" stroke="#444"  style="stroke-width:0.15px">10M</text>
<line x1="357.7" y1="1303.6" x2="357.7" y2="1306.1" stroke-width="0.6" stroke="#444"/>
<text class="s" x="357.2" y="1315.6" font-size="3.8" text-anchor="middle" fill="#444" stroke="#444"  style="stroke-width:0.15px">15M</text>
<line x1="184.3" y1="1303.6" x2="184.3" y2="1304.8" stroke-width="0.4" stroke="#888"/>
<line x1="190.08" y1="1303.6" x2="190.08" y2="1304.8" stroke-width="0.4" stroke="#888"/>
<line x1="195.86" y1="1303.6" x2="195.86" y2="1304.8" stroke-width="0.4" stroke="#888"/>
<line x1="201.64" y1="1303.6" x2="201.64" y2="1304.8" stroke-width="0.4" stroke="#888"/>
<line x1="207.42" y1="1303.6" x2="207.42" y2="1304.8" stroke-width="0.4" stroke="#888"/>
<line x1="213.2" y1="1303.6" x2="213.2" y2="1304.8" stroke-width="0.4" stroke="#888"/>
<line x1="218.98" y1="1303.6" x2="218.98" y2="1304.8" stroke-width="0.4" stroke="#888"/>
<line x1="224.76" y1="1303.6" x2="224.76" y2="1304.8" stroke-width="0.4" stroke="#888"/>
<line x1="230.54" y1="1303.6" x2="230.54" y2="1304.8" stroke-width="0.4" stroke="#888"/>
<line x1="236.32" y1="1303.6" x2="236.32" y2="1304.8" stroke-width="0.4" stroke="#888"/>
<line x1="242.1" y1="1303.6" x2="242.1" y2="1304.8" stroke-width="0.4" stroke="#888"/>
<line x1="247.88" y1="1303.6" x2="247.88" y2="1304.8" stroke-width="0.4" stroke="#888"/>
<line x1="253.66" y1="1303.6" x2="253.66" y2="1304.8" stroke-width="0.4" stroke="#888"/>
<line x1="259.44" y1="1303.6" x2="259.44" y2="1304.8" stroke-width="0.4" stroke="#888"/>
<line x1="265.22" y1="1303.6" x2="265.22" y2="1304.8" stroke-width="0.4" stroke="#888"/>
<line x1="271" y1="1303.6" x2="271" y2="1304.8" stroke-width="0.4" stroke="#888"/>
<line x1="276.78" y1="1303.6" x2="276.78" y2="1304.8" stroke-width="0.4" stroke="#888"/>
<line x1="282.56" y1="1303.6" x2="282.56" y2="1304.8" stroke-width="0.4" stroke="#888"/>
<line x1="288.34" y1="1303.6" x2="288.34" y2="1304.8" stroke-width="0.4" stroke="#888"/>
<line x1="294.12" y1="1303.6" x2="294.12" y2="1304.8" stroke-width="0.4" stroke="#888"/>
<line x1="299.9" y1="1303.6" x2="299.9" y2="1304.8" stroke-width="0.4" stroke="#888"/>
<line x1="305.68" y1="1303.6" x2="305.68" y2="1304.8" stroke-width="0.4" stroke="#888"/>
<line x1="311.46" y1="1303.6" x2="311.46" y2="1304.8" stroke-width="0.4" stroke="#888"/>
<line x1="317.24" y1="1303.6" x2="317.24" y2="1304.8" stroke-width="0.4" stroke="#888"/>
<line x1="323.02" y1="1303.6" x2="323.02" y2="1304.8" stroke-width="0.4" stroke="#888"/>
<line x1="328.8" y1="1303.6" x2="328.8" y2="1304.8" stroke-width="0.4" stroke="#888"/>
<line x1="334.58" y1="1303.6" x2="334.58" y2="1304.8" stroke-width="0.4" stroke="#888"/>
<line x1="340.36" y1="1303.6" x2="340.36" y2="1304.8" stroke-width="0.4" stroke="#888"/>
<line x1="346.14" y1="1303.6" x2="346.14" y2="1304.8" stroke-width="0.4" stroke="#888"/>
<line x1="351.92" y1="1303.6" x2="351.92" y2="1304.8" stroke-width="0.4" stroke="#888"/>
<line x1="357.7" y1="1303.6" x2="357.7" y2="1304.8" stroke-width="0.4" stroke="#888"/>
<line x1="363.48" y1="1303.6" x2="363.48" y2="1304.8" stroke-width="0.4" stroke="#888"/>
<line x1="369.26" y1="1303.6" x2="369.26" y2="1304.8" stroke-width="0.4" stroke="#888"/>
<line x1="375.04" y1="1303.6" x2="375.04" y2="1304.8" stroke-width="0.4" stroke="#888"/>
<text class="s" x="280.5" y="1324" font-size="3.9" text-anchor="middle" fill="#555" stroke="#555"  style="stroke-width:0.15px">FL3-A : FL3-A</text>
<text class="s" x="172.3" y="1206" font-size="3.6" text-anchor="middle" fill="#555" stroke="#555" transform="rotate(-90 172.3 1206)"  style="stroke-width:0.15px">Count</text>
<polygon points="459.3,1312 459.3,1311.99 459.7,1311.98 460.1,1311.96 460.5,1311.93 460.9,1311.88 461.3,1311.8 461.7,1311.67 462.1,1311.46 462.5,1311.15 462.9,1310.68 463.3,1309.98 463.7,1308.97 464.1,1307.55 464.5,1305.58 464.9,1302.91 465.3,1299.38 465.7,1294.81 466.1,1289.02 466.5,1281.87 466.9,1273.23 467.3,1263.06 467.7,1251.37 468.1,1238.32 468.5,1224.14 468.9,1209.2 469.3,1193.98 469.7,1179.04 470.1,1165.01 470.5,1152.49 470.9,1142.08 471.3,1134.23 471.7,1129.3 472.1,1127.48 472.5,1129.58 472.9,1135.67 473.3,1145.18 473.7,1157.4 474.1,1171.49 474.5,1186.59 474.8,1312" fill="#a9a9f5" fill-opacity="1"/>
<polygon points="474.8,1312 474.8,1198.08 475.2,1213.06 475.6,1227.11 476,1239.78 476.4,1250.8 476.8,1260.05 477.2,1267.55 477.6,1273.44 478,1277.9 478.4,1281.19 478.8,1283.52 479.2,1285.13 479.6,1286.21 480,1286.91 480.4,1287.36 480.8,1287.63 481.2,1287.79 481.6,1287.88 482,1287.94 482.4,1287.97 482.8,1287.98 483.2,1287.99 483.6,1287.99 484,1287.99 484.4,1287.98 484.8,1287.97 485.2,1287.96 485.6,1287.95 486,1287.93 486.4,1287.91 486.8,1287.88 487.2,1287.84 487.6,1287.8 488,1287.74 488.4,1287.67 488.8,1287.59 489.2,1287.5 489.6,1287.38 490,1287.24 490.4,1287.07 490.6,1312" fill="#7df07d" fill-opacity="1"/>
<polygon points="485,1312 485,1311.95 485.4,1311.92 485.8,1311.89 486.2,1311.84 486.6,1311.77 487,1311.67 487.4,1311.54 487.8,1311.37 488.2,1311.15 488.6,1310.86 489,1310.49 489.4,1310.02 489.8,1309.43 490.2,1308.72 490.6,1307.85 491,1286.75 491.4,1286.48 491.8,1286.16 492.2,1285.77 492.6,1285.32 493,1284.79 493.4,1284.19 493.8,1283.51 494.2,1282.78 494.6,1282 495,1281.2 495.4,1280.4 495.8,1279.64 496.2,1278.96 496.6,1278.39 497,1277.97 497.4,1277.72 497.8,1277.67 498.2,1277.83 498.6,1278.2 499,1278.77 499.4,1279.51 499.8,1280.41 500.2,1281.42 500.6,1282.52 501,1283.67 501.4,1284.84 501.8,1286.01 502.2,1287.17 502.6,1288.3 503,1289.42 503.4,1290.52 503.8,1291.62 504.2,1292.73 504.6,1293.85 505,1295 505.4,1296.18 505.8,1297.37 506.2,1298.57 506.6,1299.76 507,1300.92 507.4,1302.04 507.8,1303.09 508.2,1304.06 508.6,1304.94 509,1305.71 509.4,1306.38 509.8,1306.94 510.2,1307.4 510.6,1307.77 511,1308.05 511.4,1308.26 511.8,1308.41 512.2,1308.52 512.6,1308.59 513,1308.62 513.4,1308.64 513.8,1308.65 514.2,1308.64 514.6,1308.63 515,1308.62 515.4,1308.61 515.8,1308.6 516.2,1308.6 516.6,1308.6 517,1308.6 517.4,1308.6 517.8,1308.61 518.2,1308.62 518.6,1308.64 519,1308.66 519.4,1308.68 519.8,1308.7 520.2,1308.72 520.6,1308.75 521,1308.77 521.4,1308.8 521.8,1308.83 522.2,1308.86 522.6,1308.89 523,1308.93 523.4,1308.96 523.8,1309 524.2,1309.04 524.6,1309.08 525,1309.12 525.4,1309.17 525.8,1309.22 526.2,1309.27 526.6,1309.32 527,1309.38 527.4,1309.45 527.8,1309.51 528.2,1309.58 528.6,1309.65 529,1309.73 529.4,1309.81 529.8,1309.89 530.2,1309.98 530.6,1310.07 531,1310.15 531.4,1310.25 531.8,1310.34 532.2,1310.43 532.6,1310.52 533,1310.61 533.4,1310.71 533.8,1310.79 534.2,1310.88 534.6,1310.97 535,1311.05 535.4,1311.13 535.8,1311.2 536,1312" fill="#f2a0a0" fill-opacity="0.95"/>
<polyline points="459.3,1311.99 459.7,1311.98 460.1,1311.96 460.5,1311.93 460.9,1311.88 461.3,1311.8 461.7,1311.67 462.1,1311.46 462.5,1311.15 462.9,1310.68 463.3,1309.98 463.7,1308.97 464.1,1307.55 464.5,1305.58 464.9,1302.91 465.3,1299.38 465.7,1294.81 466.1,1289.02 466.5,1281.87 466.9,1273.23 467.3,1263.06 467.7,1251.37 468.1,1238.32 468.5,1224.14 468.9,1209.2 469.3,1193.98 469.7,1179.04 470.1,1165.01 470.5,1152.49 470.9,1142.08 471.3,1134.23 471.7,1129.3 472.1,1127.48 472.5,1129.58 472.9,1135.67 473.3,1145.18 473.7,1157.4 474.1,1171.49 474.5,1186.59" fill="none" stroke="#2020c0" stroke-width="0.9" stroke-linejoin="round"/>
<rect x="443.9" y="1117.8" width="194.8" height="194.2" fill="none" stroke="#555" stroke-width="0.8"/>
<polyline points="443.9,1312 444.3,1312 444.7,1312 445.1,1312 445.5,1312 445.9,1312 446.3,1312 446.7,1312 447.1,1312 447.5,1312 447.9,1312 448.3,1312 448.7,1312 449.1,1312 449.5,1312 449.9,1312 450.3,1312 450.7,1312 451.1,1312 451.5,1312 451.9,1312 452.3,1312 452.7,1312 453.1,1312 453.5,1312 453.9,1312 454.3,1312 454.7,1312 455.1,1312 455.5,1312 455.9,1312 456.3,1312 456.7,1312 457.1,1312 457.5,1312 457.9,1312 458.3,1312 458.7,1312 459.1,1311.99 459.5,1311.98 459.9,1311.97 460.3,1311.95 460.7,1311.91 461.1,1311.84 461.5,1311.74 461.9,1311.58 462.3,1311.32 462.7,1310.94 463.1,1310.36 463.5,1309.52 463.9,1308.32 464.3,1306.64 464.7,1304.34 465.1,1301.27 465.5,1297.24 465.9,1292.08 466.3,1285.63 466.7,1277.74 467.1,1268.34 467.5,1257.4 467.9,1245.01 468.3,1231.35 468.7,1216.74 469.1,1201.59 469.5,1186.44 469.9,1171.87 470.3,1158.52 470.7,1146.99 471.1,1137.81 471.5,1131.39 471.9,1127.98 472.3,1128.01 472.7,1132.16 473.1,1140.04 473.5,1151.01 473.9,1164.27 474.3,1178.96 474.7,1194.26 475.1,1209.38 475.5,1223.71 475.9,1236.76 476.3,1248.21 476.7,1257.9 477.1,1265.84 477.5,1272.11 477.9,1276.91 478.3,1280.46 478.7,1283.01 479.1,1284.79 479.5,1285.98 479.9,1286.77 480.3,1287.26 480.7,1287.57 481.1,1287.76 481.5,1287.87 481.9,1287.93 482.3,1287.96 482.7,1287.98 483.1,1287.98 483.5,1287.99 483.9,1287.99 484.3,1287.98 484.7,1287.98 485.1,1287.97 485.5,1287.95 485.9,1287.94 486.3,1287.91 486.7,1287.89 487.1,1287.85 487.5,1287.81 487.9,1287.76 488.3,1287.69 488.7,1287.61 489.1,1287.52 489.5,1287.41 489.9,1287.28 490.3,1287.12 490.7,1286.92 491.1,1286.69 491.5,1286.4 491.9,1286.07 492.3,1285.66 492.7,1285.19 493.1,1284.64 493.5,1284.02 493.9,1283.33 494.3,1282.59 494.7,1281.8 495.1,1281 495.5,1280.21 495.9,1279.46 496.3,1278.81 496.7,1278.27 497.1,1277.89 497.5,1277.69 497.9,1277.69 498.3,1277.9 498.7,1278.32 499.1,1278.94 499.5,1279.72 499.9,1280.65 500.3,1281.69 500.7,1282.81 501.1,1283.96 501.5,1285.14 501.9,1286.3 502.3,1287.46 502.7,1288.59 503.1,1289.7 503.5,1290.8 503.9,1291.9 504.3,1293.01 504.7,1294.14 505.1,1295.29 505.5,1296.47 505.9,1297.67 506.3,1298.86 506.7,1300.05 507.1,1301.2 507.5,1302.31 507.9,1303.34 508.3,1304.29 508.7,1305.14 509.1,1305.89 509.5,1306.53 509.9,1307.06 510.3,1307.5 510.7,1307.84 511.1,1308.11 511.5,1308.31 511.9,1308.44 512.3,1308.54 512.7,1308.6 513.1,1308.63 513.5,1308.64 513.9,1308.65 514.3,1308.64 514.7,1308.63 515.1,1308.62 515.5,1308.61 515.9,1308.6 516.3,1308.6 516.7,1308.6 517.1,1308.6 517.5,1308.61 517.9,1308.61 518.3,1308.63 518.7,1308.64 519.1,1308.66 519.5,1308.68 519.9,1308.7 520.3,1308.73 520.7,1308.75 521.1,1308.78 521.5,1308.81 521.9,1308.84 522.3,1308.87 522.7,1308.9 523.1,1308.94 523.5,1308.97 523.9,1309.01 524.3,1309.05 524.7,1309.09 525.1,1309.13 525.5,1309.18 525.9,1309.23 526.3,1309.28 526.7,1309.34 527.1,1309.4 527.5,1309.46 527.9,1309.53 528.3,1309.6 528.7,1309.67 529.1,1309.75 529.5,1309.83 529.9,1309.91 530.3,1310 530.7,1310.09 531.1,1310.18 531.5,1310.27 531.9,1310.36 532.3,1310.45 532.7,1310.55 533.1,1310.64 533.5,1310.73 533.9,1310.82 534.3,1310.9 534.7,1310.99 535.1,1311.07 535.5,1311.15 535.9,1311.22 536.3,1311.29 536.7,1311.36 537.1,1311.42 537.5,1311.48 537.9,1311.54 538.3,1311.59 538.7,1311.63 539.1,1311.68 539.5,1311.72 539.9,1311.75 540.3,1311.78 540.7,1311.81 541.1,1311.84 541.5,1311.86 541.9,1311.88 542.3,1311.9 542.7,1311.91 543.1,1311.93 543.5,1311.94 543.9,1311.95 544.3,1311.96 544.7,1311.96 545.1,1311.97 545.5,1311.98 545.9,1311.98 546.3,1311.98 546.7,1311.99 547.1,1311.99 547.5,1311.99 547.9,1311.99 548.3,1311.99 548.7,1312 549.1,1312 549.5,1312 549.9,1312 550.3,1312 550.7,1312 551.1,1312 551.5,1312 551.9,1312 552.3,1312 552.7,1312 553.1,1312 553.5,1312 553.9,1312 554.3,1312 554.7,1312 555.1,1312 555.5,1312 555.9,1312 556.3,1312 556.7,1312 557.1,1312 557.5,1312 557.9,1312 558.3,1312 558.7,1312 559.1,1312 559.5,1312 559.9,1312 560.3,1312 560.7,1312 561.1,1312 561.5,1312 561.9,1312 562.3,1312 562.7,1312 563.1,1312 563.5,1312 563.9,1312 564.3,1312 564.7,1312 565.1,1312 565.5,1312 565.9,1312 566.3,1312 566.7,1312 567.1,1312 567.5,1312 567.9,1312 568.3,1312 568.7,1312 569.1,1312 569.5,1312 569.9,1312 570.3,1312 570.7,1312 571.1,1312 571.5,1312 571.9,1312 572.3,1312 572.7,1312 573.1,1312 573.5,1312 573.9,1312 574.3,1312 574.7,1312 575.1,1312 575.5,1312 575.9,1312 576.3,1312 576.7,1312 577.1,1312 577.5,1312 577.9,1312 578.3,1312 578.7,1312 579.1,1312 579.5,1312 579.9,1312 580.3,1312 580.7,1312 581.1,1312 581.5,1312 581.9,1312 582.3,1312 582.7,1312 583.1,1312 583.5,1312 583.9,1312 584.3,1312 584.7,1312 585.1,1312 585.5,1312 585.9,1312 586.3,1312 586.7,1312 587.1,1312 587.5,1312 587.9,1312 588.3,1312 588.7,1312 589.1,1312 589.5,1312 589.9,1312 590.3,1312 590.7,1312 591.1,1312 591.5,1312 591.9,1312 592.3,1312 592.7,1312 593.1,1312 593.5,1312 593.9,1312 594.3,1312 594.7,1312 595.1,1312 595.5,1312 595.9,1312 596.3,1312 596.7,1312 597.1,1312 597.5,1312 597.9,1312 598.3,1312 598.7,1312 599.1,1312 599.5,1312 599.9,1312 600.3,1312 600.7,1312 601.1,1312 601.5,1312 601.9,1312 602.3,1312 602.7,1312 603.1,1312 603.5,1312 603.9,1312 604.3,1312 604.7,1312 605.1,1312 605.5,1312 605.9,1312 606.3,1312 606.7,1312 607.1,1312 607.5,1312 607.9,1312 608.3,1312 608.7,1312 609.1,1312 609.5,1312 609.9,1312 610.3,1312 610.7,1312 611.1,1312 611.5,1312 611.9,1312 612.3,1312 612.7,1312 613.1,1312 613.5,1312 613.9,1312 614.3,1312 614.7,1312 615.1,1312 615.5,1312 615.9,1312 616.3,1312 616.7,1312 617.1,1312 617.5,1312 617.9,1312 618.3,1312 618.7,1312 619.1,1312 619.5,1312 619.9,1312 620.3,1312 620.7,1312 621.1,1312 621.5,1312 621.9,1312 622.3,1312 622.7,1312 623.1,1312 623.5,1312 623.9,1312 624.3,1312 624.7,1312 625.1,1312 625.5,1312 625.9,1312 626.3,1312 626.7,1312 627.1,1312 627.5,1312 627.9,1312 628.3,1312 628.7,1312 629.1,1312 629.5,1312 629.9,1312 630.3,1312 630.7,1312 631.1,1312 631.5,1312 631.9,1312 632.3,1312 632.7,1312 633.1,1312 633.5,1312 633.9,1312 634.3,1312 634.7,1312 635.1,1312 635.5,1312 635.9,1312 636.3,1312 636.7,1312 637.1,1312 637.5,1312 637.9,1312 638.3,1312 638.7,1312" fill="none" stroke="#000" stroke-width="1.25" stroke-linejoin="round"/>
<polyline points="460,1311.97 460.4,1311.94 460.8,1311.89 461.2,1311.82 461.6,1311.71 462,1311.52 462.4,1311.24 462.8,1310.81 463.2,1310.18 463.6,1309.26 464,1307.95 464.4,1306.13 464.8,1303.65 465.2,1300.35 465.6,1296.06 466,1290.59 466.4,1283.79 466.8,1275.53 467.2,1265.74 467.6,1254.43 468,1241.7 468.4,1227.77 468.8,1212.98 469.2,1197.78 469.6,1182.72 470,1168.4 470.4,1155.45 470.8,1144.46" fill="none" stroke="#2020c0" stroke-width="0.9" stroke-linejoin="round"/>
<text class="s" x="499.2" y="1134" font-size="7.6" fill="#1a1a1a" stroke="#1a1a1a" xml:space="preserve" style="stroke-width:0.15px">&lt;2N: 6.51%</text>
<text class="s" x="499.2" y="1145.6" font-size="7.6" fill="#1a1a1a" stroke="#1a1a1a" xml:space="preserve" style="stroke-width:0.15px">2N: 48.8%   [µ: 2.38E6, cv: 13.3%]</text>
<text class="s" x="499.2" y="1157" font-size="7.6" fill="#1a1a1a" stroke="#1a1a1a" xml:space="preserve" style="stroke-width:0.15px">S: 22.0%</text>
<text class="s" x="499.2" y="1168.6" font-size="7.6" fill="#1a1a1a" stroke="#1a1a1a" xml:space="preserve" style="stroke-width:0.15px">4N: 19.2%   [µ: 4.63E6, cv: 13.3%]</text>
<text class="s" x="499.2" y="1179.8" font-size="7.6" fill="#1a1a1a" stroke="#1a1a1a" xml:space="preserve" style="stroke-width:0.15px">Ratio: 1.95</text>
<text class="s" x="499.2" y="1196.6" font-size="7.6" fill="#1a1a1a" stroke="#1a1a1a" xml:space="preserve" style="stroke-width:0.15px">&gt;4N: 3.61%</text>
<line x1="441.4" y1="1142.6" x2="443.9" y2="1142.6" stroke-width="0.6" stroke="#444"/>
<text class="s" x="440.4" y="1143.6" font-size="3.4" text-anchor="end" fill="#444" stroke="#444"  style="stroke-width:0.15px">50</text>
<line x1="441.4" y1="1176.5" x2="443.9" y2="1176.5" stroke-width="0.6" stroke="#444"/>
<text class="s" x="440.4" y="1177.5" font-size="3.4" text-anchor="end" fill="#444" stroke="#444"  style="stroke-width:0.15px">40</text>
<line x1="441.4" y1="1210.5" x2="443.9" y2="1210.5" stroke-width="0.6" stroke="#444"/>
<text class="s" x="440.4" y="1211.5" font-size="3.4" text-anchor="end" fill="#444" stroke="#444"  style="stroke-width:0.15px">30</text>
<line x1="441.4" y1="1244.4" x2="443.9" y2="1244.4" stroke-width="0.6" stroke="#444"/>
<text class="s" x="440.4" y="1245.4" font-size="3.4" text-anchor="end" fill="#444" stroke="#444"  style="stroke-width:0.15px">20</text>
<line x1="441.4" y1="1278.4" x2="443.9" y2="1278.4" stroke-width="0.6" stroke="#444"/>
<text class="s" x="440.4" y="1279.4" font-size="3.4" text-anchor="end" fill="#444" stroke="#444"  style="stroke-width:0.15px">10</text>
<line x1="441.4" y1="1311.8" x2="443.9" y2="1311.8" stroke-width="0.6" stroke="#444"/>
<text class="s" x="440.4" y="1312.8" font-size="3.4" text-anchor="end" fill="#444" stroke="#444"  style="stroke-width:0.15px">0</text>
<line x1="442.7" y1="1305.21" x2="443.9" y2="1305.21" stroke-width="0.4" stroke="#888"/>
<line x1="442.7" y1="1298.42" x2="443.9" y2="1298.42" stroke-width="0.4" stroke="#888"/>
<line x1="442.7" y1="1291.63" x2="443.9" y2="1291.63" stroke-width="0.4" stroke="#888"/>
<line x1="442.7" y1="1284.84" x2="443.9" y2="1284.84" stroke-width="0.4" stroke="#888"/>
<line x1="442.7" y1="1278.05" x2="443.9" y2="1278.05" stroke-width="0.4" stroke="#888"/>
<line x1="442.7" y1="1271.26" x2="443.9" y2="1271.26" stroke-width="0.4" stroke="#888"/>
<line x1="442.7" y1="1264.47" x2="443.9" y2="1264.47" stroke-width="0.4" stroke="#888"/>
<line x1="442.7" y1="1257.68" x2="443.9" y2="1257.68" stroke-width="0.4" stroke="#888"/>
<line x1="442.7" y1="1250.89" x2="443.9" y2="1250.89" stroke-width="0.4" stroke="#888"/>
<line x1="442.7" y1="1244.1" x2="443.9" y2="1244.1" stroke-width="0.4" stroke="#888"/>
<line x1="442.7" y1="1237.31" x2="443.9" y2="1237.31" stroke-width="0.4" stroke="#888"/>
<line x1="442.7" y1="1230.52" x2="443.9" y2="1230.52" stroke-width="0.4" stroke="#888"/>
<line x1="442.7" y1="1223.73" x2="443.9" y2="1223.73" stroke-width="0.4" stroke="#888"/>
<line x1="442.7" y1="1216.94" x2="443.9" y2="1216.94" stroke-width="0.4" stroke="#888"/>
<line x1="442.7" y1="1210.15" x2="443.9" y2="1210.15" stroke-width="0.4" stroke="#888"/>
<line x1="442.7" y1="1203.36" x2="443.9" y2="1203.36" stroke-width="0.4" stroke="#888"/>
<line x1="442.7" y1="1196.57" x2="443.9" y2="1196.57" stroke-width="0.4" stroke="#888"/>
<line x1="442.7" y1="1189.78" x2="443.9" y2="1189.78" stroke-width="0.4" stroke="#888"/>
<line x1="442.7" y1="1182.99" x2="443.9" y2="1182.99" stroke-width="0.4" stroke="#888"/>
<line x1="442.7" y1="1176.2" x2="443.9" y2="1176.2" stroke-width="0.4" stroke="#888"/>
<line x1="442.7" y1="1169.41" x2="443.9" y2="1169.41" stroke-width="0.4" stroke="#888"/>
<line x1="442.7" y1="1162.62" x2="443.9" y2="1162.62" stroke-width="0.4" stroke="#888"/>
<line x1="442.7" y1="1155.83" x2="443.9" y2="1155.83" stroke-width="0.4" stroke="#888"/>
<line x1="442.7" y1="1149.04" x2="443.9" y2="1149.04" stroke-width="0.4" stroke="#888"/>
<line x1="442.7" y1="1142.25" x2="443.9" y2="1142.25" stroke-width="0.4" stroke="#888"/>
<line x1="442.7" y1="1135.46" x2="443.9" y2="1135.46" stroke-width="0.4" stroke="#888"/>
<line x1="442.7" y1="1128.67" x2="443.9" y2="1128.67" stroke-width="0.4" stroke="#888"/>
<line x1="442.7" y1="1121.88" x2="443.9" y2="1121.88" stroke-width="0.4" stroke="#888"/>
<line x1="443.9" y1="1312" x2="443.9" y2="1314.5" stroke-width="0.6" stroke="#444"/>
<text class="s" x="442.9" y="1323.8" font-size="3.8" text-anchor="middle" fill="#444" stroke="#444"  style="stroke-width:0.15px">0</text>
<line x1="501.6" y1="1312" x2="501.6" y2="1314.5" stroke-width="0.6" stroke="#444"/>
<text class="s" x="500.6" y="1323.8" font-size="3.8" text-anchor="middle" fill="#444" stroke="#444"  style="stroke-width:0.15px">5.0M</text>
<line x1="559.4" y1="1312" x2="559.4" y2="1314.5" stroke-width="0.6" stroke="#444"/>
<text class="s" x="558.4" y="1323.8" font-size="3.8" text-anchor="middle" fill="#444" stroke="#444"  style="stroke-width:0.15px">10M</text>
<line x1="617.3" y1="1312" x2="617.3" y2="1314.5" stroke-width="0.6" stroke="#444"/>
<text class="s" x="616.3" y="1323.8" font-size="3.8" text-anchor="middle" fill="#444" stroke="#444"  style="stroke-width:0.15px">15M</text>
<line x1="443.9" y1="1312" x2="443.9" y2="1313.2" stroke-width="0.4" stroke="#888"/>
<line x1="449.67" y1="1312" x2="449.67" y2="1313.2" stroke-width="0.4" stroke="#888"/>
<line x1="455.44" y1="1312" x2="455.44" y2="1313.2" stroke-width="0.4" stroke="#888"/>
<line x1="461.21" y1="1312" x2="461.21" y2="1313.2" stroke-width="0.4" stroke="#888"/>
<line x1="466.98" y1="1312" x2="466.98" y2="1313.2" stroke-width="0.4" stroke="#888"/>
<line x1="472.75" y1="1312" x2="472.75" y2="1313.2" stroke-width="0.4" stroke="#888"/>
<line x1="478.52" y1="1312" x2="478.52" y2="1313.2" stroke-width="0.4" stroke="#888"/>
<line x1="484.29" y1="1312" x2="484.29" y2="1313.2" stroke-width="0.4" stroke="#888"/>
<line x1="490.06" y1="1312" x2="490.06" y2="1313.2" stroke-width="0.4" stroke="#888"/>
<line x1="495.83" y1="1312" x2="495.83" y2="1313.2" stroke-width="0.4" stroke="#888"/>
<line x1="501.6" y1="1312" x2="501.6" y2="1313.2" stroke-width="0.4" stroke="#888"/>
<line x1="507.37" y1="1312" x2="507.37" y2="1313.2" stroke-width="0.4" stroke="#888"/>
<line x1="513.14" y1="1312" x2="513.14" y2="1313.2" stroke-width="0.4" stroke="#888"/>
<line x1="518.91" y1="1312" x2="518.91" y2="1313.2" stroke-width="0.4" stroke="#888"/>
<line x1="524.68" y1="1312" x2="524.68" y2="1313.2" stroke-width="0.4" stroke="#888"/>
<line x1="530.45" y1="1312" x2="530.45" y2="1313.2" stroke-width="0.4" stroke="#888"/>
<line x1="536.22" y1="1312" x2="536.22" y2="1313.2" stroke-width="0.4" stroke="#888"/>
<line x1="541.99" y1="1312" x2="541.99" y2="1313.2" stroke-width="0.4" stroke="#888"/>
<line x1="547.76" y1="1312" x2="547.76" y2="1313.2" stroke-width="0.4" stroke="#888"/>
<line x1="553.53" y1="1312" x2="553.53" y2="1313.2" stroke-width="0.4" stroke="#888"/>
<line x1="559.3" y1="1312" x2="559.3" y2="1313.2" stroke-width="0.4" stroke="#888"/>
<line x1="565.07" y1="1312" x2="565.07" y2="1313.2" stroke-width="0.4" stroke="#888"/>
<line x1="570.84" y1="1312" x2="570.84" y2="1313.2" stroke-width="0.4" stroke="#888"/>
<line x1="576.61" y1="1312" x2="576.61" y2="1313.2" stroke-width="0.4" stroke="#888"/>
<line x1="582.38" y1="1312" x2="582.38" y2="1313.2" stroke-width="0.4" stroke="#888"/>
<line x1="588.15" y1="1312" x2="588.15" y2="1313.2" stroke-width="0.4" stroke="#888"/>
<line x1="593.92" y1="1312" x2="593.92" y2="1313.2" stroke-width="0.4" stroke="#888"/>
<line x1="599.69" y1="1312" x2="599.69" y2="1313.2" stroke-width="0.4" stroke="#888"/>
<line x1="605.46" y1="1312" x2="605.46" y2="1313.2" stroke-width="0.4" stroke="#888"/>
<line x1="611.23" y1="1312" x2="611.23" y2="1313.2" stroke-width="0.4" stroke="#888"/>
<line x1="617" y1="1312" x2="617" y2="1313.2" stroke-width="0.4" stroke="#888"/>
<line x1="622.77" y1="1312" x2="622.77" y2="1313.2" stroke-width="0.4" stroke="#888"/>
<line x1="628.54" y1="1312" x2="628.54" y2="1313.2" stroke-width="0.4" stroke="#888"/>
<line x1="634.31" y1="1312" x2="634.31" y2="1313.2" stroke-width="0.4" stroke="#888"/>
<text class="s" x="540.2" y="1332.3" font-size="3.9" text-anchor="middle" fill="#555" stroke="#555"  style="stroke-width:0.15px">FL3-A : FL3-A</text>
<text class="s" x="431.7" y="1214.3" font-size="3.6" text-anchor="middle" fill="#555" stroke="#555" transform="rotate(-90 431.7 1214.3)"  style="stroke-width:0.15px">Count</text>
<polygon points="208.5,1567.7 208.5,1566.87 208.9,1565.79 209.3,1563.61 209.7,1559.51 210.1,1552.45 210.5,1541.24 210.9,1524.93 211.3,1503.32 211.7,1477.41 212.1,1449.68 212.5,1448.3 212.9,1448.3 213.3,1448.3 213.7,1448.3 214.1,1448.3 214.3,1567.7" fill="#a9a9f5" fill-opacity="1"/>
<polygon points="214.3,1567.7 214.3,1488.7 214.7,1488.7 215.1,1488.7 215.5,1510.12 215.9,1528.43 216.3,1540.01 216.7,1546.51 217.1,1549.81 217.5,1551.38 217.9,1552.15 218.3,1552.61 218.7,1552.96 219.1,1553.29 219.5,1553.63 219.9,1553.99 220.3,1554.36 220.7,1554.74 221.1,1555.13 221.5,1555.51 221.9,1555.88 222.3,1556.24 222.7,1556.58 223.1,1556.89 223.5,1557.17 223.9,1557.4 224.3,1557.58 224.7,1557.72 225.1,1557.79 225.5,1557.8 225.9,1557.74 226.3,1557.61 226.7,1557.39 227.1,1557.07 227.5,1556.64 227.9,1556.08 228.3,1555.36 228.7,1554.47 229.1,1553.41 229.5,1552.2 229.9,1550.87 230.2,1567.7" fill="#7df07d" fill-opacity="1"/>
<polygon points="227,1567.7 227,1566.47 227.4,1565.98 227.8,1565.33 228.2,1564.5 228.6,1563.45 229,1562.15 229.4,1560.58 229.8,1558.72 230.2,1556.59 230.6,1554.19 231,1551.56 231.4,1548.76 231.8,1545.86 232.2,1542.97 232.6,1540.19 233,1537.63 233.4,1535.41 233.8,1533.65 234.2,1532.41 234.6,1531.78 235,1531.78 235.4,1532.41 235.8,1533.65 236.2,1535.41 236.6,1538.38 237,1541.9 237.4,1545.57 237.8,1549.2 238.2,1552.63 238.6,1555.73 239,1558.43 239.4,1560.71 239.8,1562.56 240.2,1564.01 240.6,1565.12 241,1565.95 241.4,1566.53 241.8,1566.95 242.2,1567.22 242.6,1567.41 243,1567.52 243.4,1567.6 243.8,1567.64 244.2,1567.67 244.6,1567.68 245,1567.69 245,1567.7" fill="#f2a0a0" fill-opacity="0.95"/>
<polyline points="208.5,1566.87 208.9,1565.79 209.3,1563.61 209.7,1559.51 210.1,1552.45 210.5,1541.24 210.9,1524.93 211.3,1503.32 211.7,1477.41 212.1,1449.68" fill="none" stroke="#2020d0" stroke-width="1" stroke-linejoin="round"/>
<polyline points="214.6,1488.7 215,1488.7 215.4,1504.4 215.8,1524.53 216.2,1537.67 216.6,1545.25 217,1549.19 217.4,1551.09 217.8,1552 218.2,1552.51 218.6,1552.87 219,1553.21 219.4,1553.55 219.8,1553.9 220.2,1554.27 220.6,1554.65 221,1555.03 221.4,1555.41 221.8,1555.79 222.2,1556.16 222.6,1556.5 223,1556.82 223.4,1557.1 223.8,1557.35 224.2,1557.54 224.6,1557.69 225,1557.78 225.4,1557.81 225.8,1557.77 226.2,1557.65 226.6,1557.46 227,1557.16 227.4,1556.76 227.8,1556.23 228.2,1555.55 228.6,1554.71 229,1553.69 229.4,1552.52 229.8,1551.21" fill="none" stroke="#10c010" stroke-width="0.9" stroke-linejoin="round"/>
<rect x="188.7" y="1368.9" width="199.1" height="198.8" fill="none" stroke="#555" stroke-width="0.9"/>
<line x1="188.7" y1="1368.9" x2="188.7" y2="1567.7" stroke-width="1.2" stroke="#222"/>
<line x1="183.7" y1="1567.7" x2="387.8" y2="1567.7" stroke-width="1.4" stroke="#111"/>
<polyline points="200,1567.7 200.4,1567.7 200.8,1567.7 201.2,1567.7 201.6,1567.7 202,1567.7 202.4,1567.7 202.8,1567.7 203.2,1567.7 203.6,1567.7 204,1567.7 204.4,1567.7 204.8,1567.7 205.2,1567.7 205.6,1567.7 206,1567.7 206.4,1567.7 206.8,1567.69 207.2,1567.67 207.6,1567.6 208,1567.44 208.4,1567.04 208.8,1566.14 209.2,1564.3 209.6,1560.77 210,1554.56 210.4,1544.49 210.8,1529.52 211.2,1509.19 211.6,1484.18 212,1456.6 212.4,1429.87 212.8,1408.06 213.2,1394.81 213.6,1393.03 214,1406.5 214.4,1431.82 214.8,1462.39 215.2,1491.7 215.6,1515.38 216,1531.9 216.4,1542.03 216.8,1547.57 217.2,1550.32 217.6,1551.62 218,1552.28 218.4,1552.7 218.8,1553.04 219.2,1553.38 219.6,1553.72 220,1554.08 220.4,1554.46 220.8,1554.84 221.2,1555.22 221.6,1555.6 222,1555.98 222.4,1556.33 222.8,1556.66 223.2,1556.96 223.6,1557.23 224,1557.45 224.4,1557.62 224.8,1557.74 225.2,1557.8 225.6,1557.79 226,1557.72 226.4,1557.56 226.8,1557.32 227.2,1556.98 227.6,1556.51 228,1555.91 228.4,1555.15 228.8,1554.22 229.2,1553.12 229.6,1551.88 230,1550.53 230.4,1549.1 230.8,1547.61 231.2,1546.04 231.6,1544.32 232,1542.38 232.4,1540.18 232.8,1537.79 233.2,1535.34 233.6,1533.06 234,1531.21 234.4,1530 234.8,1529.62 235.2,1530.15 235.6,1531.59 236,1533.83 236.4,1536.74 236.8,1540.11 237.2,1543.73 237.6,1547.4 238,1550.95 238.4,1554.23 238.8,1557.13 239.2,1559.62 239.6,1561.68 240,1563.33 240.4,1564.61 240.8,1565.57 241.2,1566.27 241.6,1566.76 242,1567.1 242.4,1567.33 242.8,1567.47 243.2,1567.57 243.6,1567.62 244,1567.66 244.4,1567.68 244.8,1567.69 245.2,1567.69 245.6,1567.7 246,1567.7 246.4,1567.7 246.8,1567.7 247.2,1567.7 247.6,1567.7 248,1567.7 248.4,1567.7 248.8,1567.7 249.2,1567.7 249.6,1567.7 250,1567.7" fill="none" stroke="#000" stroke-width="1.25" stroke-linejoin="round"/>
<polygon points="212.3,1448.3 213.4,1392.3 214.6,1488.7 213.9,1488.7" fill="#222" fill-opacity="1"/>
<text class="s" x="245.2" y="1385.3" font-size="8.2" fill="#1a1a1a" stroke="#1a1a1a" xml:space="preserve" style="stroke-width:0.15px">&lt;2N: 6.69%</text>
<text class="s" x="245.2" y="1397" font-size="8.2" fill="#1a1a1a" stroke="#1a1a1a" xml:space="preserve" style="stroke-width:0.15px">2N: 44.3%   [µ: 2.06E6, cv: 6.67%]</text>
<text class="s" x="245.2" y="1408.8" font-size="8.2" fill="#1a1a1a" stroke="#1a1a1a" xml:space="preserve" style="stroke-width:0.15px">S: 25.8%</text>
<text class="s" x="245.2" y="1420.5" font-size="8.2" fill="#1a1a1a" stroke="#1a1a1a" xml:space="preserve" style="stroke-width:0.15px">4N: 21.9%   [µ: 3.84E6, cv: 9.26%]</text>
<text class="s" x="245.2" y="1432.2" font-size="8.2" fill="#1a1a1a" stroke="#1a1a1a" xml:space="preserve" style="stroke-width:0.15px">Ratio: 1.86</text>
<text class="s" x="245.2" y="1449.5" font-size="8.2" fill="#1a1a1a" stroke="#1a1a1a" xml:space="preserve" style="stroke-width:0.15px">&gt;4N: 1.34%</text>
<line x1="183.7" y1="1391.1" x2="188.7" y2="1391.1" stroke-width="1" stroke="#222"/>
<text class="s" x="178.8" y="1393.8" font-size="7.6" text-anchor="end" fill="#333" stroke="#333"  style="stroke-width:0.15px">80</text>
<line x1="183.7" y1="1435.3" x2="188.7" y2="1435.3" stroke-width="1" stroke="#222"/>
<text class="s" x="178.8" y="1438" font-size="7.6" text-anchor="end" fill="#333" stroke="#333"  style="stroke-width:0.15px">60</text>
<line x1="183.7" y1="1479.4" x2="188.7" y2="1479.4" stroke-width="1" stroke="#222"/>
<text class="s" x="178.8" y="1482.1" font-size="7.6" text-anchor="end" fill="#333" stroke="#333"  style="stroke-width:0.15px">40</text>
<line x1="183.7" y1="1523.5" x2="188.7" y2="1523.5" stroke-width="1" stroke="#222"/>
<text class="s" x="178.8" y="1526.2" font-size="7.6" text-anchor="end" fill="#333" stroke="#333"  style="stroke-width:0.15px">20</text>
<line x1="183.7" y1="1567.7" x2="188.7" y2="1567.7" stroke-width="1" stroke="#222"/>
<text class="s" x="178.8" y="1570.4" font-size="7.6" text-anchor="end" fill="#333" stroke="#333"  style="stroke-width:0.15px">0</text>
<line x1="186.1" y1="1556.67" x2="188.7" y2="1556.67" stroke-width="0.7" stroke="#555"/>
<line x1="186.1" y1="1545.64" x2="188.7" y2="1545.64" stroke-width="0.7" stroke="#555"/>
<line x1="186.1" y1="1534.61" x2="188.7" y2="1534.61" stroke-width="0.7" stroke="#555"/>
<line x1="186.1" y1="1512.55" x2="188.7" y2="1512.55" stroke-width="0.7" stroke="#555"/>
<line x1="186.1" y1="1501.52" x2="188.7" y2="1501.52" stroke-width="0.7" stroke="#555"/>
<line x1="186.1" y1="1490.49" x2="188.7" y2="1490.49" stroke-width="0.7" stroke="#555"/>
<line x1="186.1" y1="1468.43" x2="188.7" y2="1468.43" stroke-width="0.7" stroke="#555"/>
<line x1="186.1" y1="1457.4" x2="188.7" y2="1457.4" stroke-width="0.7" stroke="#555"/>
<line x1="186.1" y1="1446.37" x2="188.7" y2="1446.37" stroke-width="0.7" stroke="#555"/>
<line x1="186.1" y1="1424.31" x2="188.7" y2="1424.31" stroke-width="0.7" stroke="#555"/>
<line x1="186.1" y1="1413.28" x2="188.7" y2="1413.28" stroke-width="0.7" stroke="#555"/>
<line x1="186.1" y1="1402.25" x2="188.7" y2="1402.25" stroke-width="0.7" stroke="#555"/>
<line x1="186.1" y1="1380.19" x2="188.7" y2="1380.19" stroke-width="0.7" stroke="#555"/>
<line x1="189" y1="1567.7" x2="189" y2="1573.2" stroke-width="1.2" stroke="#111"/>
<text class="s" x="189.7" y="1591.4" font-size="7.6" text-anchor="middle" fill="#333" stroke="#333"  style="stroke-width:0.15px">0</text>
<line x1="247.7" y1="1567.7" x2="247.7" y2="1573.2" stroke-width="1.2" stroke="#111"/>
<text class="s" x="243.7" y="1591.4" font-size="7.6" text-anchor="middle" fill="#333" stroke="#333"  style="stroke-width:0.15px">5.0M</text>
<line x1="306.6" y1="1567.7" x2="306.6" y2="1573.2" stroke-width="1.2" stroke="#111"/>
<text class="s" x="303.9" y="1591.4" font-size="7.6" text-anchor="middle" fill="#333" stroke="#333"  style="stroke-width:0.15px">10M</text>
<line x1="365.6" y1="1567.7" x2="365.6" y2="1573.2" stroke-width="1.2" stroke="#111"/>
<text class="s" x="363.1" y="1591.4" font-size="7.6" text-anchor="middle" fill="#333" stroke="#333"  style="stroke-width:0.15px">15M</text>
<line x1="200.77" y1="1567.7" x2="200.77" y2="1570.5" stroke-width="0.8" stroke="#333"/>
<line x1="212.54" y1="1567.7" x2="212.54" y2="1570.5" stroke-width="0.8" stroke="#333"/>
<line x1="224.31" y1="1567.7" x2="224.31" y2="1570.5" stroke-width="0.8" stroke="#333"/>
<line x1="236.08" y1="1567.7" x2="236.08" y2="1570.5" stroke-width="0.8" stroke="#333"/>
<line x1="259.62" y1="1567.7" x2="259.62" y2="1570.5" stroke-width="0.8" stroke="#333"/>
<line x1="271.39" y1="1567.7" x2="271.39" y2="1570.5" stroke-width="0.8" stroke="#333"/>
<line x1="283.16" y1="1567.7" x2="283.16" y2="1570.5" stroke-width="0.8" stroke="#333"/>
<line x1="294.93" y1="1567.7" x2="294.93" y2="1570.5" stroke-width="0.8" stroke="#333"/>
<line x1="318.47" y1="1567.7" x2="318.47" y2="1570.5" stroke-width="0.8" stroke="#333"/>
<line x1="330.24" y1="1567.7" x2="330.24" y2="1570.5" stroke-width="0.8" stroke="#333"/>
<line x1="342.01" y1="1567.7" x2="342.01" y2="1570.5" stroke-width="0.8" stroke="#333"/>
<line x1="353.78" y1="1567.7" x2="353.78" y2="1570.5" stroke-width="0.8" stroke="#333"/>
<line x1="377.32" y1="1567.7" x2="377.32" y2="1570.5" stroke-width="0.8" stroke="#333"/>
<polygon points="488,1551.2 488,1551.14 488.4,1551.04 488.8,1550.8 489.2,1550.25 489.6,1549.09 490,1546.82 490.4,1542.67 490.8,1535.66 491.2,1524.73 491.6,1509 492,1488.27 492.4,1463.41 492.8,1436.61 493.2,1411.27 493.6,1391.34 494,1380.33 494.4,1381.28 494.8,1399.15 495.2,1429.44 495.6,1463.96 495.8,1551.2" fill="#a9a9f5" fill-opacity="1"/>
<polygon points="495.6,1551.2 495.6,1504.2 496,1504.2 496.4,1510.06 496.8,1524.56 497.2,1533.02 497.6,1537.42 498,1539.54 498.4,1540.55 498.8,1541.1 499.2,1541.47 499.6,1541.76 500,1542 500.4,1542.19 500.8,1542.33 501.2,1542.39 501.6,1542.38 502,1542.29 502.4,1542.11 502.8,1541.82 503.2,1541.43 503.6,1540.94 504,1540.38 504.4,1539.79 504.8,1539.26 505.2,1538.84 505.6,1538.52 506,1538.21 506.4,1537.73 506.5,1551.2" fill="#7df07d" fill-opacity="1"/>
<polygon points="503,1551.2 503,1550.47 503.4,1550.2 503.8,1549.84 504.2,1549.37 504.6,1548.78 505,1548.04 505.4,1547.13 505.8,1546.03 506.2,1544.73 506.6,1543.21 507,1541.47 507.4,1539.51 507.8,1537.35 508.2,1535.02 508.6,1532.55 509,1530.01 509.4,1527.44 509.8,1524.94 510.2,1522.56 510.6,1520.4 511,1518.54 511.4,1517.04 511.8,1515.95 512.2,1515.34 512.6,1515.22 513,1515.59 513.4,1516.44 513.8,1517.74 514.2,1519.43 514.6,1521.45 515,1523.73 515.4,1526.18 515.8,1528.72 516.2,1531.29 516.6,1533.8 517,1536.21 517.4,1538.97 517.8,1541.85 518.2,1544.23 518.6,1546.14 519,1547.62 519.4,1548.73 519.8,1549.54 520.2,1550.11 520.6,1550.5 521,1550.77 521.4,1550.94 521.8,1551.04 522.2,1551.11 522.6,1551.15 523,1551.17 523.4,1551.19 523.5,1551.2" fill="#f2a0a0" fill-opacity="0.95"/>
<polyline points="495.8,1504.2 496.2,1504.2 496.6,1518.17 497,1529.43 497.4,1535.61 497.8,1538.68 498.2,1540.13 498.6,1540.86 499,1541.29 499.4,1541.62 499.8,1541.89 500.2,1542.1 500.6,1542.27 501,1542.37 501.4,1542.4 501.8,1542.35 502.2,1542.21 502.6,1541.98 503,1541.64 503.4,1541.2 503.8,1540.67 504.2,1540.08 504.6,1539.51 505,1539.03 505.4,1538.67 505.8,1538.37 506.2,1538" fill="none" stroke="#10c010" stroke-width="0.9" stroke-linejoin="round"/>
<rect x="473.1" y="1371.6" width="180.5" height="179.6" fill="none" stroke="#555" stroke-width="0.9"/>
<line x1="473.1" y1="1371.6" x2="473.1" y2="1551.2" stroke-width="1.2" stroke="#222"/>
<line x1="468.1" y1="1551.2" x2="653.6" y2="1551.2" stroke-width="1.4" stroke="#111"/>
<polyline points="484,1551.2 484.4,1551.2 484.8,1551.2 485.2,1551.2 485.6,1551.2 486,1551.2 486.4,1551.2 486.8,1551.2 487.2,1551.19 487.6,1551.18 488,1551.15 488.4,1551.05 488.8,1550.83 489.2,1550.32 489.6,1549.24 490,1547.13 490.4,1543.28 490.8,1536.77 491.2,1526.62 491.6,1512.01 492,1492.77 492.4,1469.68 492.8,1444.78 493.2,1421.19 493.6,1402.45 494,1391.56 494.4,1390.98 494.8,1405.26 495.2,1430.75 495.6,1460.6 496,1488.38 496.4,1510.06 496.8,1524.56 497.2,1533.02 497.6,1537.42 498,1539.54 498.4,1540.55 498.8,1541.1 499.2,1541.47 499.6,1541.76 500,1542 500.4,1542.19 500.8,1542.33 501.2,1542.39 501.6,1542.38 502,1542.29 502.4,1542.11 502.8,1541.82 503.2,1541.43 503.6,1540.94 504,1540.38 504.4,1539.79 504.8,1539.26 505.2,1538.84 505.6,1538.52 506,1538.21 506.4,1537.73 506.8,1536.91 507.2,1535.69 507.6,1534.09 508,1532.24 508.4,1530.27 508.8,1528.24 509.2,1526.18 509.6,1524.07 510,1521.86 510.4,1519.56 510.8,1517.18 511.2,1514.81 511.6,1512.56 512,1510.54 512.4,1508.89 512.8,1507.74 513.2,1507.16 513.6,1507.28 514,1508.42 514.4,1510.57 514.8,1513.58 515.2,1517.24 515.6,1521.32 516,1525.58 516.4,1529.78 516.8,1533.75 517.2,1537.34 517.6,1540.47 518,1543.1 518.4,1545.25 518.8,1546.93 519.2,1548.22 519.6,1549.17 520,1549.85 520.4,1550.33 520.8,1550.65 521.2,1550.86 521.6,1551 522,1551.08 522.4,1551.13 522.8,1551.16 523.2,1551.18 523.6,1551.19 524,1551.19 524.4,1551.2 524.8,1551.2 525.2,1551.2 525.6,1551.2 526,1551.2 526.4,1551.2 526.8,1551.2 527.2,1551.2 527.6,1551.2 528,1551.2 528.4,1551.2 528.8,1551.2 529.2,1551.2 529.6,1551.2 530,1551.2" fill="none" stroke="#000" stroke-width="1.2" stroke-linejoin="round"/>
<polyline points="489,1550.58 489.4,1549.77 489.8,1548.13 490.2,1545.03 490.6,1539.59 491,1530.75 491.4,1517.5 491.8,1499.24 492.2,1476.25 492.6,1450.06 493,1423.52 493.4,1400.39 493.8,1384.54 494.2,1378.9 494.6,1388.21 495,1413.23 495.4,1446.69" fill="none" stroke="#3a3af0" stroke-width="1.1" stroke-linejoin="round"/>
<polygon points="493.3,1401.2 494.2,1391.2 495.6,1504.2 494.4,1504.2 493.2,1451.2" fill="#15157a" fill-opacity="1"/>
<text class="s" x="524.4" y="1386.6" font-size="7.45" fill="#1a1a1a" stroke="#1a1a1a" xml:space="preserve" style="stroke-width:0.15px">&lt;2N: 3.91%</text>
<text class="s" x="524.4" y="1397.2" font-size="7.45" fill="#1a1a1a" stroke="#1a1a1a" xml:space="preserve" style="stroke-width:0.15px">2N: 43.5%   [µ: 1.98E6, cv: 7.54%]</text>
<text class="s" x="524.4" y="1407.6" font-size="7.45" fill="#1a1a1a" stroke="#1a1a1a" xml:space="preserve" style="stroke-width:0.15px">S: 14.8%</text>
<text class="s" x="524.4" y="1418.3" font-size="7.45" fill="#1a1a1a" stroke="#1a1a1a" xml:space="preserve" style="stroke-width:0.15px">4N: 36.2%   [µ: 3.60E6, cv: 14.8%]</text>
<text class="s" x="524.4" y="1428.8" font-size="7.45" fill="#1a1a1a" stroke="#1a1a1a" xml:space="preserve" style="stroke-width:0.15px">Ratio: 1.82</text>
<text class="s" x="524.4" y="1444.5" font-size="7.45" fill="#1a1a1a" stroke="#1a1a1a" xml:space="preserve" style="stroke-width:0.15px">&gt;4N: 1.52%</text>
<line x1="468.1" y1="1388.4" x2="473.1" y2="1388.4" stroke-width="1" stroke="#222"/>
<text class="s" x="464" y="1390.9" font-size="7" text-anchor="end" fill="#333" stroke="#333"  style="stroke-width:0.15px">80</text>
<line x1="468.1" y1="1429.1" x2="473.1" y2="1429.1" stroke-width="1" stroke="#222"/>
<text class="s" x="464" y="1431.6" font-size="7" text-anchor="end" fill="#333" stroke="#333"  style="stroke-width:0.15px">60</text>
<line x1="468.1" y1="1469.9" x2="473.1" y2="1469.9" stroke-width="1" stroke="#222"/>
<text class="s" x="464" y="1472.4" font-size="7" text-anchor="end" fill="#333" stroke="#333"  style="stroke-width:0.15px">40</text>
<line x1="468.1" y1="1510.4" x2="473.1" y2="1510.4" stroke-width="1" stroke="#222"/>
<text class="s" x="464" y="1512.9" font-size="7" text-anchor="end" fill="#333" stroke="#333"  style="stroke-width:0.15px">20</text>
<line x1="468.1" y1="1551.2" x2="473.1" y2="1551.2" stroke-width="1" stroke="#222"/>
<text class="s" x="464" y="1553.7" font-size="7" text-anchor="end" fill="#333" stroke="#333"  style="stroke-width:0.15px">0</text>
<line x1="470.5" y1="1541.01" x2="473.1" y2="1541.01" stroke-width="0.7" stroke="#555"/>
<line x1="470.5" y1="1530.82" x2="473.1" y2="1530.82" stroke-width="0.7" stroke="#555"/>
<line x1="470.5" y1="1520.63" x2="473.1" y2="1520.63" stroke-width="0.7" stroke="#555"/>
<line x1="470.5" y1="1500.25" x2="473.1" y2="1500.25" stroke-width="0.7" stroke="#555"/>
<line x1="470.5" y1="1490.06" x2="473.1" y2="1490.06" stroke-width="0.7" stroke="#555"/>
<line x1="470.5" y1="1479.87" x2="473.1" y2="1479.87" stroke-width="0.7" stroke="#555"/>
<line x1="470.5" y1="1459.49" x2="473.1" y2="1459.49" stroke-width="0.7" stroke="#555"/>
<line x1="470.5" y1="1449.3" x2="473.1" y2="1449.3" stroke-width="0.7" stroke="#555"/>
<line x1="470.5" y1="1439.11" x2="473.1" y2="1439.11" stroke-width="0.7" stroke="#555"/>
<line x1="470.5" y1="1418.73" x2="473.1" y2="1418.73" stroke-width="0.7" stroke="#555"/>
<line x1="470.5" y1="1408.54" x2="473.1" y2="1408.54" stroke-width="0.7" stroke="#555"/>
<line x1="470.5" y1="1398.35" x2="473.1" y2="1398.35" stroke-width="0.7" stroke="#555"/>
<line x1="470.5" y1="1377.97" x2="473.1" y2="1377.97" stroke-width="0.7" stroke="#555"/>
<line x1="473.4" y1="1551.2" x2="473.4" y2="1556.4" stroke-width="1.2" stroke="#111"/>
<text class="s" x="474.5" y="1573" font-size="7" text-anchor="middle" fill="#333" stroke="#333"  style="stroke-width:0.15px">0</text>
<line x1="526.2" y1="1551.2" x2="526.2" y2="1556.4" stroke-width="1.2" stroke="#111"/>
<text class="s" x="523.2" y="1573" font-size="7" text-anchor="middle" fill="#333" stroke="#333"  style="stroke-width:0.15px">5.0M</text>
<line x1="579.7" y1="1551.2" x2="579.7" y2="1556.4" stroke-width="1.2" stroke="#111"/>
<text class="s" x="577.4" y="1573" font-size="7" text-anchor="middle" fill="#333" stroke="#333"  style="stroke-width:0.15px">10M</text>
<line x1="633.1" y1="1551.2" x2="633.1" y2="1556.4" stroke-width="1.2" stroke="#111"/>
<text class="s" x="631.1" y="1573" font-size="7" text-anchor="middle" fill="#333" stroke="#333"  style="stroke-width:0.15px">15M</text>
<line x1="484.08" y1="1551.2" x2="484.08" y2="1553.8" stroke-width="0.8" stroke="#333"/>
<line x1="494.76" y1="1551.2" x2="494.76" y2="1553.8" stroke-width="0.8" stroke="#333"/>
<line x1="505.44" y1="1551.2" x2="505.44" y2="1553.8" stroke-width="0.8" stroke="#333"/>
<line x1="516.12" y1="1551.2" x2="516.12" y2="1553.8" stroke-width="0.8" stroke="#333"/>
<line x1="537.48" y1="1551.2" x2="537.48" y2="1553.8" stroke-width="0.8" stroke="#333"/>
<line x1="548.16" y1="1551.2" x2="548.16" y2="1553.8" stroke-width="0.8" stroke="#333"/>
<line x1="558.84" y1="1551.2" x2="558.84" y2="1553.8" stroke-width="0.8" stroke="#333"/>
<line x1="569.52" y1="1551.2" x2="569.52" y2="1553.8" stroke-width="0.8" stroke="#333"/>
<line x1="590.88" y1="1551.2" x2="590.88" y2="1553.8" stroke-width="0.8" stroke="#333"/>
<line x1="601.56" y1="1551.2" x2="601.56" y2="1553.8" stroke-width="0.8" stroke="#333"/>
<line x1="612.24" y1="1551.2" x2="612.24" y2="1553.8" stroke-width="0.8" stroke="#333"/>
<line x1="622.92" y1="1551.2" x2="622.92" y2="1553.8" stroke-width="0.8" stroke="#333"/>
<line x1="644.28" y1="1551.2" x2="644.28" y2="1553.8" stroke-width="0.8" stroke="#333"/>
<line x1="779.3" y1="1079.35" x2="779.3" y2="1278.45" stroke-width="2.3"/>
<line x1="770.9" y1="1277.3" x2="976" y2="1277.3" stroke-width="2.3"/>
<line x1="771.3" y1="1277.3" x2="779.3" y2="1277.3" stroke-width="2.07"/>
<text class="sb" x="768.8" y="1282.56" font-size="14.7" text-anchor="end">0</text>
<line x1="771.3" y1="1211.6" x2="779.3" y2="1211.6" stroke-width="2.07"/>
<text class="sb" x="768.8" y="1216.86" font-size="14.7" text-anchor="end">20</text>
<line x1="771.3" y1="1145.9" x2="779.3" y2="1145.9" stroke-width="2.07"/>
<text class="sb" x="768.8" y="1151.16" font-size="14.7" text-anchor="end">40</text>
<line x1="771.3" y1="1080.2" x2="779.3" y2="1080.2" stroke-width="2.07"/>
<text class="sb" x="768.8" y="1085.46" font-size="14.7" text-anchor="end">60</text>
<line x1="808.8" y1="1277.3" x2="808.8" y2="1285.6" stroke-width="2.07"/>
<line x1="876.9" y1="1277.3" x2="876.9" y2="1285.6" stroke-width="2.07"/>
<line x1="944.6" y1="1277.3" x2="944.6" y2="1285.6" stroke-width="2.07"/>
<text class="sb" x="807.9" y="1301.2" font-size="14.7" text-anchor="middle">G0/G1</text>
<text class="sb" x="876.4" y="1301.2" font-size="14.7" text-anchor="middle">S</text>
<text class="sb" x="944.2" y="1301.2" font-size="14.7" text-anchor="middle">G2/M</text>
<text class="sb" x="875.5" y="1051.1" font-size="16" text-anchor="middle">HGC-27</text>
<line x1="795.8" y1="1127" x2="795.8" y2="1118.9" stroke-width="1.1"/>
<line x1="791.8" y1="1118.9" x2="799.8" y2="1118.9" stroke-width="1.1"/>
<line x1="821.7" y1="1120" x2="821.7" y2="1115.6" stroke-width="1.1"/>
<line x1="817.7" y1="1115.6" x2="825.7" y2="1115.6" stroke-width="1.1"/>
<line x1="864" y1="1198" x2="864" y2="1193" stroke-width="1.1"/>
<line x1="860" y1="1193" x2="868" y2="1193" stroke-width="1.1"/>
<line x1="889.9" y1="1195" x2="889.9" y2="1181.7" stroke-width="1.1"/>
<line x1="885.9" y1="1181.7" x2="893.9" y2="1181.7" stroke-width="1.1"/>
<line x1="931.9" y1="1252" x2="931.9" y2="1246.7" stroke-width="1.1"/>
<line x1="927.9" y1="1246.7" x2="935.9" y2="1246.7" stroke-width="1.1"/>
<line x1="957.7" y1="1220" x2="957.7" y2="1213.5" stroke-width="1.1"/>
<line x1="953.7" y1="1213.5" x2="961.7" y2="1213.5" stroke-width="1.1"/>
<rect x="789" y="1126.6" width="13.6" height="152" fill="#c57ea3" stroke="#000" stroke-width="2.6"/>
<rect x="814.9" y="1120.2" width="13.6" height="158.4" fill="#028102" stroke="#000" stroke-width="2.6"/>
<rect x="857.2" y="1197.3" width="13.6" height="81.3" fill="#c57ea3" stroke="#000" stroke-width="2.6"/>
<rect x="883.1" y="1194.9" width="13.6" height="83.7" fill="#028102" stroke="#000" stroke-width="2.6"/>
<rect x="925.1" y="1251.3" width="13.6" height="27.3" fill="#c57ea3" stroke="#000" stroke-width="2.6"/>
<rect x="950.9" y="1219.7" width="13.6" height="58.9" fill="#028102" stroke="#000" stroke-width="2.6"/>
<line x1="924.2" y1="1208.7" x2="961.5" y2="1208.7" stroke-width="2.7"/>
<text class="a" x="938.44" y="1205.31" font-size="18.28">*</text>
<text class="sb" font-size="14.2" text-anchor="middle" transform="translate(741.6 1178) rotate(-90) scale(1 1.08)">Cell cycle distribution (%)</text>
<rect x="930" y="1057.2" width="18.3" height="7.3" fill="#c57ea3" stroke="#000" stroke-width="2.6"/>
<rect x="930" y="1083.6" width="18.3" height="7.3" fill="#028102" stroke="#000" stroke-width="2.6"/>
<text class="s" x="961.2" y="1066.2" font-size="15.5">si-NC</text>
<text class="s" x="961.2" y="1092.6" font-size="15.5">si-UBE2C</text>
<line x1="779.4" y1="1386.65" x2="779.4" y2="1586.65" stroke-width="2.3"/>
<line x1="770.9" y1="1585.5" x2="977.5" y2="1585.5" stroke-width="2.3"/>
<line x1="771.4" y1="1585.5" x2="779.4" y2="1585.5" stroke-width="2.07"/>
<text class="sb" x="768.9" y="1590.76" font-size="14.7" text-anchor="end">0</text>
<line x1="771.4" y1="1519.5" x2="779.4" y2="1519.5" stroke-width="2.07"/>
<text class="sb" x="768.9" y="1524.76" font-size="14.7" text-anchor="end">20</text>
<line x1="771.4" y1="1453.5" x2="779.4" y2="1453.5" stroke-width="2.07"/>
<text class="sb" x="768.9" y="1458.76" font-size="14.7" text-anchor="end">40</text>
<line x1="771.4" y1="1387.5" x2="779.4" y2="1387.5" stroke-width="2.07"/>
<text class="sb" x="768.9" y="1392.76" font-size="14.7" text-anchor="end">60</text>
<line x1="809.1" y1="1585.5" x2="809.1" y2="1593.8" stroke-width="2.07"/>
<line x1="877.9" y1="1585.5" x2="877.9" y2="1593.8" stroke-width="2.07"/>
<line x1="945.9" y1="1585.5" x2="945.9" y2="1593.8" stroke-width="2.07"/>
<text class="sb" x="808.2" y="1608.4" font-size="14.7" text-anchor="middle">G0/G1</text>
<text class="sb" x="876.9" y="1608.4" font-size="14.7" text-anchor="middle">S</text>
<text class="sb" x="945.4" y="1608.4" font-size="14.7" text-anchor="middle">G2/M</text>
<text class="sb" x="875.3" y="1352.5" font-size="16" text-anchor="middle">AGS</text>
<line x1="796.3" y1="1442" x2="796.3" y2="1438.9" stroke-width="1.1"/>
<line x1="792.3" y1="1438.9" x2="800.3" y2="1438.9" stroke-width="1.1"/>
<line x1="821.8" y1="1451" x2="821.8" y2="1442.7" stroke-width="1.1"/>
<line x1="817.8" y1="1442.7" x2="825.8" y2="1442.7" stroke-width="1.1"/>
<line x1="864.5" y1="1509" x2="864.5" y2="1499.8" stroke-width="1.1"/>
<line x1="860.5" y1="1499.8" x2="868.5" y2="1499.8" stroke-width="1.1"/>
<line x1="890.3" y1="1538" x2="890.3" y2="1534.5" stroke-width="1.1"/>
<line x1="886.3" y1="1534.5" x2="894.3" y2="1534.5" stroke-width="1.1"/>
<line x1="932.7" y1="1510" x2="932.7" y2="1502.2" stroke-width="1.1"/>
<line x1="928.7" y1="1502.2" x2="936.7" y2="1502.2" stroke-width="1.1"/>
<line x1="958.5" y1="1466" x2="958.5" y2="1462.9" stroke-width="1.1"/>
<line x1="954.5" y1="1462.9" x2="962.5" y2="1462.9" stroke-width="1.1"/>
<rect x="789.5" y="1441.4" width="13.6" height="145.4" fill="#c57ea3" stroke="#000" stroke-width="2.6"/>
<rect x="815" y="1450.8" width="13.6" height="136" fill="#028102" stroke="#000" stroke-width="2.6"/>
<rect x="857.7" y="1508.7" width="13.6" height="78.1" fill="#c57ea3" stroke="#000" stroke-width="2.6"/>
<rect x="883.5" y="1538.1" width="13.6" height="48.7" fill="#028102" stroke="#000" stroke-width="2.6"/>
<rect x="925.9" y="1510.2" width="13.6" height="76.6" fill="#c57ea3" stroke="#000" stroke-width="2.6"/>
<rect x="951.7" y="1466.2" width="13.6" height="120.6" fill="#028102" stroke="#000" stroke-width="2.6"/>
<line x1="865.1" y1="1471.6" x2="896.2" y2="1471.6" stroke-width="2.7"/>
<line x1="927.1" y1="1429" x2="958.7" y2="1429" stroke-width="2.7"/>
<text class="a" x="875.24" y="1466.21" font-size="18.28">*</text>
<text class="a" x="937.74" y="1423.61" font-size="18.28">*</text>
<text class="sb" font-size="14.2" text-anchor="middle" transform="translate(741.6 1487) rotate(-90) scale(1 1.08)">Cell cycle distribution (%)</text>
<rect x="938.3" y="1371" width="18" height="7.3" fill="#c57ea3" stroke="#000" stroke-width="2.6"/>
<rect x="938.3" y="1385.8" width="18" height="7" fill="#028102" stroke="#000" stroke-width="2.6"/>
<text class="s" x="969.5" y="1378.9" font-size="15.5">si-NC</text>
<text class="s" x="969.5" y="1393.8" font-size="15.5">si-UBE2C</text>
<text class="tb" x="1048.3" y="1048.6" font-size="40.5">(e)</text>
<text class="t" x="1204.8" y="1074.4" font-size="36.8">si-NC</text>
<text class="t" x="1421.8" y="1073" font-size="36.8">si-UBE2C</text>
<text class="t" x="1107.4" y="1231.6" font-size="36.6" text-anchor="middle" transform="rotate(-90 1107.4 1231.6)">HGC-27</text>
<text class="t" x="1110.3" y="1489.6" font-size="36.6" text-anchor="middle" transform="rotate(-90 1110.3 1489.6)">AGS</text>
<ellipse cx="1242.3" cy="1211.8" rx="30" ry="13.5" transform="rotate(-33 1242.3 1211.8)" fill="url(#rg)" fill-opacity="0.97"/>
<path d="M1231.4 1220.9h1M1250.6 1203.6h1M1229.3 1219.9h1M1249.7 1213.0h1M1227.3 1214.4h1M1250.3 1209.2h1M1259.6 1206.0h1M1240.6 1211.4h1M1266.4 1194.6h1M1231.9 1212.3h1M1243.6 1211.8h1M1238.8 1213.7h1M1246.7 1212.8h1M1253.4 1205.7h1M1226.8 1225.7h1M1228.2 1220.0h1M1228.1 1221.0h1M1235.3 1217.5h1M1274.0 1190.9h1M1247.1 1201.4h1M1241.2 1216.2h1M1242.3 1213.8h1M1240.8 1207.3h1M1245.7 1205.1h1M1259.1 1198.1h1M1248.9 1207.5h1M1250.0 1203.5h1M1251.6 1205.1h1M1256.0 1206.3h1M1241.7 1207.9h1M1250.9 1208.8h1M1257.2 1200.1h1M1248.9 1210.3h1M1245.6 1210.8h1M1242.6 1208.4h1M1231.5 1216.6h1M1251.8 1213.9h1M1254.4 1209.7h1M1251.5 1209.6h1M1246.0 1213.6h1M1258.6 1199.4h1M1240.5 1223.7h1M1247.1 1214.0h1M1247.9 1201.9h1M1270.2 1203.4h1M1245.9 1213.6h1M1241.3 1207.6h1M1242.2 1213.9h1M1254.8 1207.5h1M1246.3 1216.7h1M1236.9 1219.6h1M1252.3 1203.7h1M1222.8 1219.5h1M1245.9 1212.4h1M1254.7 1198.2h1M1243.9 1214.3h1M1234.8 1203.6h1M1255.9 1215.7h1M1249.7 1202.0h1M1238.9 1215.2h1M1267.9 1198.6h1M1247.3 1217.1h1M1246.2 1219.5h1M1234.5 1214.3h1M1252.8 1212.8h1M1249.4 1208.9h1M1222.9 1220.5h1M1235.1 1213.6h1M1247.1 1206.8h1M1250.1 1207.2h1M1239.4 1214.3h1M1248.6 1212.4h1M1237.1 1213.9h1M1233.2 1226.5h1M1255.9 1202.0h1M1234.6 1210.0h1M1244.5 1211.5h1M1264.0 1199.1h1M1228.7 1207.2h1M1256.4 1203.7h1M1227.2 1222.6h1M1235.5 1235.3h1M1254.5 1207.0h1M1235.3 1204.6h1M1237.2 1206.6h1M1242.7 1199.8h1M1236.6 1222.2h1M1255.2 1196.9h1M1229.7 1224.8h1M1248.1 1202.7h1M1233.9 1213.5h1M1229.1 1216.6h1M1256.1 1206.6h1M1261.9 1198.6h1M1238.5 1208.9h1M1237.8 1207.5h1M1226.9 1225.6h1M1258.3 1206.0h1M1255.8 1204.4h1M1235.6 1216.6h1M1235.9 1209.9h1M1222.3 1216.7h1M1242.6 1212.4h1M1241.3 1220.3h1M1245.5 1212.9h1M1252.0 1201.0h1M1225.2 1227.0h1M1238.9 1221.2h1M1248.1 1213.6h1M1244.5 1199.0h1M1247.6 1204.7h1M1233.9 1214.9h1M1251.9 1210.4h1M1247.9 1199.1h1M1230.7 1206.3h1M1242.8 1214.8h1M1235.5 1217.5h1M1247.1 1214.2h1M1232.3 1213.7h1M1239.3 1223.3h1M1252.5 1204.5h1M1244.8 1210.8h1M1243.7 1209.7h1M1235.9 1209.0h1M1240.2 1222.2h1M1247.6 1208.7h1M1240.4 1213.4h1M1244.1 1207.1h1M1244.8 1211.5h1M1233.1 1213.4h1M1230.0 1214.0h1M1245.0 1197.1h1M1238.2 1211.1h1M1236.6 1216.1h1M1253.4 1205.0h1M1239.4 1210.3h1M1243.3 1216.1h1M1235.6 1209.8h1M1227.3 1215.4h1M1231.6 1224.7h1M1245.1 1208.7h1M1254.7 1200.1h1M1251.6 1210.2h1M1223.5 1215.5h1M1235.6 1221.1h1M1251.7 1198.9h1M1251.5 1203.8h1M1237.1 1212.1h1M1234.6 1206.8h1M1229.5 1213.3h1M1252.3 1216.8h1M1267.8 1193.4h1M1224.7 1221.0h1M1238.2 1225.3h1M1246.0 1205.4h1M1252.7 1208.0h1M1225.3 1219.9h1M1240.0 1213.4h1M1242.7 1209.7h1M1242.7 1208.3h1M1237.5 1223.3h1M1246.9 1211.2h1M1226.5 1221.1h1M1247.0 1201.7h1M1251.9 1203.4h1M1245.9 1208.8h1M1247.4 1215.1h1M1242.3 1220.4h1M1232.4 1213.1h1M1246.5 1203.2h1M1241.0 1217.6h1M1249.5 1197.4h1M1251.9 1215.9h1M1253.2 1203.4h1M1235.8 1214.4h1M1230.5 1218.0h1M1240.1 1212.4h1M1253.1 1203.5h1M1230.9 1225.0h1M1230.8 1216.8h1M1240.1 1211.3h1M1232.0 1217.1h1M1261.8 1195.8h1M1243.8 1217.0h1M1251.4 1210.1h1M1245.7 1198.8h1M1234.3 1217.7h1M1250.4 1213.7h1M1246.2 1207.9h1M1242.2 1210.7h1M1246.4 1212.9h1M1237.0 1210.8h1M1236.8 1221.4h1M1257.1 1207.6h1M1252.7 1209.6h1M1243.9 1214.4h1M1231.6 1217.6h1M1237.0 1219.2h1M1236.4 1215.0h1M1249.6 1214.5h1M1232.3 1213.1h1M1247.4 1202.4h1M1245.2 1206.8h1M1236.7 1205.4h1M1247.9 1205.4h1M1238.8 1225.4h1M1258.0 1220.9h1M1245.4 1207.9h1M1247.4 1217.3h1M1243.2 1213.7h1M1245.0 1205.1h1M1242.3 1209.1h1M1232.5 1223.0h1M1248.9 1207.9h1M1228.5 1209.7h1M1246.7 1208.4h1M1225.9 1222.1h1M1227.6 1221.2h1M1244.6 1212.3h1M1244.8 1211.1h1M1230.3 1217.5h1M1236.8 1214.1h1M1246.5 1212.5h1M1251.6 1191.6h1M1245.7 1208.5h1M1266.6 1201.1h1M1227.4 1223.7h1M1239.8 1218.9h1M1231.9 1218.0h1M1240.8 1212.3h1M1232.1 1208.4h1M1249.2 1212.8h1M1239.1 1208.3h1M1245.7 1212.7h1M1240.6 1212.8h1M1253.1 1198.7h1M1232.1 1207.9h1M1233.7 1213.3h1M1231.3 1215.1h1M1259.1 1199.8h1M1246.7 1221.0h1M1237.4 1205.5h1M1243.8 1205.7h1M1255.0 1196.7h1M1232.7 1209.2h1M1240.7 1207.3h1M1240.7 1210.8h1M1238.8 1219.3h1M1251.5 1206.2h1M1230.9 1213.3h1M1250.9 1219.3h1M1235.9 1211.6h1M1232.8 1211.9h1M1232.4 1217.1h1M1256.1 1202.8h1M1233.3 1208.8h1M1244.3 1210.4h1M1227.7 1215.3h1M1244.4 1216.0h1M1248.9 1208.7h1M1240.0 1215.1h1M1247.6 1220.3h1M1230.5 1217.5h1M1253.9 1202.8h1M1255.9 1202.7h1M1242.8 1209.5h1M1226.6 1216.7h1M1265.3 1200.4h1M1250.5 1211.7h1M1250.4 1212.2h1M1239.2 1212.6h1M1250.9 1204.3h1M1228.9 1219.3h1M1238.6 1217.6h1M1232.7 1212.2h1M1243.0 1219.9h1M1242.2 1212.7h1M1243.1 1212.9h1M1254.8 1211.4h1M1229.9 1227.4h1M1241.5 1210.6h1M1265.0 1196.1h1M1263.5 1203.4h1M1233.6 1220.1h1M1249.1 1206.7h1M1219.0 1225.1h1M1237.7 1208.7h1M1259.3 1199.4h1M1237.8 1213.1h1M1232.8 1213.7h1M1244.0 1212.4h1M1237.2 1214.6h1M1230.2 1222.5h1M1235.6 1217.3h1M1232.3 1215.5h1M1241.3 1205.8h1M1266.0 1196.2h1M1239.8 1209.4h1M1261.2 1207.2h1M1241.8 1204.6h1M1239.0 1217.3h1M1234.4 1210.4h1M1228.9 1216.3h1M1240.8 1209.2h1M1249.5 1222.5h1M1256.8 1196.7h1M1245.8 1210.0h1M1243.6 1216.7h1M1238.3 1212.6h1M1238.4 1213.8h1M1256.6 1206.7h1M1228.3 1218.5h1M1236.7 1219.9h1M1246.7 1213.8h1M1236.9 1204.8h1M1247.2 1209.9h1M1243.9 1203.6h1M1241.4 1208.6h1M1236.6 1217.5h1M1243.5 1206.1h1M1219.6 1213.0h1M1239.6 1219.7h1M1236.1 1203.5h1M1235.0 1218.8h1M1261.4 1205.8h1M1246.3 1210.3h1M1231.0 1216.7h1M1237.1 1210.9h1M1241.9 1209.9h1M1249.1 1215.2h1M1250.5 1208.8h1M1236.2 1207.4h1M1242.6 1214.6h1M1235.7 1223.0h1M1240.0 1215.3h1M1236.0 1209.0h1M1259.3 1194.4h1M1249.8 1203.9h1M1243.0 1206.9h1M1240.6 1218.0h1M1258.9 1196.3h1M1244.8 1215.4h1M1238.0 1218.5h1M1236.2 1219.0h1M1249.5 1213.7h1M1242.8 1204.9h1M1245.9 1203.4h1M1253.3 1212.9h1M1246.7 1205.9h1M1254.2 1205.0h1M1229.4 1218.2h1M1255.2 1201.7h1M1242.6 1209.7h1M1224.8 1220.4h1M1246.3 1210.4h1M1235.3 1204.7h1M1255.9 1206.9h1M1255.4 1210.4h1M1236.5 1212.3h1M1249.5 1216.3h1M1225.5 1221.5h1M1236.8 1218.4h1M1255.7 1201.5h1M1230.5 1219.8h1M1235.7 1207.6h1M1249.5 1204.2h1M1245.6 1202.4h1M1249.3 1199.4h1M1247.9 1198.2h1M1254.7 1201.7h1M1226.7 1220.6h1M1243.1 1205.9h1M1238.2 1215.9h1M1233.0 1201.0h1M1239.2 1216.1h1M1247.7 1213.8h1M1242.0 1226.0h1M1250.8 1208.0h1M1255.2 1208.7h1M1241.7 1208.8h1M1253.2 1207.0h1M1221.3 1219.4h1M1247.1 1209.3h1M1246.6 1212.5h1M1247.7 1217.0h1M1235.6 1214.0h1M1247.3 1212.7h1M1253.6 1212.6h1M1240.6 1219.3h1M1244.2 1204.8h1M1246.2 1220.7h1M1248.7 1205.1h1M1217.3 1224.0h1M1235.7 1216.5h1M1266.5 1200.2h1M1243.0 1206.2h1M1230.3 1218.4h1M1245.3 1226.3h1M1236.9 1212.0h1M1253.4 1205.0h1M1233.6 1224.5h1M1236.0 1208.6h1M1246.6 1211.7h1M1240.8 1216.6h1M1248.0 1203.3h1M1216.5 1215.5h1M1244.1 1217.3h1M1255.5 1210.9h1M1260.2 1200.2h1M1248.7 1199.3h1M1249.9 1209.0h1M1240.3 1210.7h1M1231.9 1219.3h1M1253.7 1202.4h1M1245.8 1205.9h1M1242.2 1206.3h1M1245.4 1208.6h1M1243.8 1207.5h1M1230.1 1217.9h1M1256.3 1211.4h1M1241.2 1216.9h1M1250.6 1208.6h1M1228.1 1222.8h1M1235.9 1222.4h1M1251.4 1209.2h1M1219.4 1230.1h1M1245.8 1202.5h1M1251.8 1206.0h1M1238.7 1210.2h1M1231.4 1216.5h1M1272.6 1193.3h1M1242.7 1208.0h1M1235.0 1213.5h1M1235.9 1220.7h1M1241.9 1216.8h1M1233.5 1222.6h1M1243.7 1214.5h1M1239.1 1209.0h1M1252.9 1202.5h1M1238.7 1209.3h1M1243.3 1209.0h1M1245.9 1211.4h1M1232.1 1210.7h1M1248.8 1212.6h1M1246.1 1203.0h1M1249.1 1209.5h1M1246.1 1211.7h1M1239.7 1214.7h1M1250.0 1204.0h1M1228.2 1220.4h1M1239.6 1203.5h1M1237.3 1218.3h1M1241.1 1213.1h1M1232.4 1223.2h1M1258.7 1200.0h1M1232.3 1211.9h1M1251.2 1206.6h1M1237.7 1221.5h1M1251.2 1209.3h1M1225.1 1222.4h1M1245.3 1203.2h1M1254.8 1211.5h1M1250.5 1202.5h1M1237.8 1219.9h1M1255.0 1210.3h1M1253.6 1203.9h1M1233.7 1207.2h1M1255.6 1215.7h1M1236.6 1212.9h1M1249.5 1209.2h1M1227.3 1217.6h1M1236.8 1226.5h1M1237.5 1219.6h1M1265.5 1207.1h1M1260.1 1209.2h1M1229.5 1218.2h1M1234.6 1215.2h1M1263.4 1188.9h1M1244.6 1203.5h1M1258.5 1208.4h1M1242.5 1223.0h1M1246.3 1216.4h1M1243.9 1207.7h1M1238.3 1213.7h1M1248.6 1208.4h1M1264.6 1196.3h1M1236.0 1211.9h1M1231.2 1211.1h1M1235.1 1221.5h1M1242.5 1210.8h1M1248.4 1213.7h1M1250.2 1210.9h1M1236.2 1214.3h1M1234.6 1216.3h1M1233.5 1215.5h1M1240.1 1212.1h1M1238.5 1211.6h1M1254.1 1202.3h1M1233.0 1218.9h1M1229.1 1214.5h1M1238.9 1204.8h1M1212.0 1233.1h1M1248.1 1198.9h1M1235.1 1219.6h1M1220.9 1220.9h1M1230.2 1218.6h1M1225.5 1227.6h1M1241.7 1213.9h1M1233.8 1205.7h1M1237.5 1207.6h1M1240.3 1208.4h1M1238.7 1213.0h1M1251.7 1209.9h1M1232.6 1218.0h1M1257.6 1204.6h1M1235.0 1215.9h1M1241.3 1217.6h1M1243.6 1213.0h1M1260.2 1192.6h1M1228.2 1211.5h1M1229.1 1225.1h1M1249.2 1216.3h1M1221.0 1220.8h1M1258.8 1206.7h1M1253.0 1209.6h1M1242.6 1211.6h1M1244.7 1214.8h1M1241.5 1214.1h1M1253.5 1198.4h1M1236.5 1218.7h1M1239.4 1212.8h1M1263.6 1200.3h1M1241.0 1218.7h1M1263.8 1191.8h1M1236.1 1216.4h1M1241.6 1224.2h1M1246.4 1207.0h1M1245.0 1205.7h1M1236.7 1216.0h1M1259.7 1188.2h1M1249.7 1214.4h1M1254.3 1214.6h1M1247.0 1209.5h1M1238.9 1209.3h1M1255.1 1197.0h1M1239.8 1210.6h1M1229.2 1208.1h1M1239.0 1214.7h1M1245.8 1214.2h1M1239.1 1210.3h1M1246.9 1212.4h1M1229.8 1211.6h1M1235.1 1222.3h1M1249.7 1202.1h1M1245.5 1214.3h1M1253.5 1200.9h1M1243.5 1218.7h1M1269.4 1202.6h1M1232.4 1220.7h1M1239.3 1213.4h1M1234.7 1214.1h1M1246.7 1218.8h1M1250.1 1209.1h1M1240.7 1208.7h1M1243.2 1218.0h1M1255.2 1214.2h1M1244.8 1210.1h1M1227.7 1223.5h1M1229.5 1228.5h1M1236.2 1215.7h1M1228.0 1218.3h1M1236.2 1222.0h1M1241.7 1205.7h1M1223.5 1223.6h1M1234.8 1210.6h1M1247.5 1207.4h1M1241.9 1208.8h1M1235.6 1213.6h1M1228.4 1224.3h1M1241.9 1202.6h1M1246.2 1215.6h1M1247.8 1215.3h1M1239.7 1213.5h1M1227.5 1216.4h1M1222.5 1219.8h1M1246.0 1212.3h1M1253.8 1205.0h1M1233.8 1219.7h1M1245.4 1219.6h1M1263.6 1203.2h1M1230.0 1216.9h1M1242.4 1207.9h1M1249.1 1211.2h1M1251.0 1207.4h1M1231.7 1214.1h1M1244.4 1217.7h1M1259.9 1205.7h1M1247.5 1212.1h1M1253.5 1211.6h1M1246.7 1200.5h1M1252.5 1207.3h1M1239.2 1216.7h1M1244.9 1209.8h1M1226.3 1222.8h1M1247.5 1208.1h1M1228.1 1223.5h1M1249.7 1208.0h1M1245.5 1207.8h1M1237.3 1217.9h1M1239.3 1214.7h1M1275.5 1194.2h1M1239.5 1204.7h1M1245.1 1214.1h1M1234.9 1215.3h1M1222.0 1228.1h1M1238.3 1218.2h1M1255.1 1202.6h1M1252.4 1206.6h1M1239.6 1212.0h1M1237.3 1222.1h1M1248.3 1202.4h1M1248.6 1203.7h1M1230.8 1225.9h1M1232.9 1224.4h1M1246.5 1214.0h1M1250.1 1213.0h1M1247.1 1211.9h1M1247.4 1214.5h1M1241.1 1218.2h1M1256.7 1202.1h1M1245.3 1207.1h1M1240.2 1214.6h1M1236.8 1210.5h1M1242.5 1212.7h1M1247.2 1212.5h1M1228.7 1228.4h1M1238.7 1209.9h1M1239.8 1215.8h1M1249.8 1204.9h1M1239.8 1204.7h1M1243.7 1210.3h1M1240.4 1217.9h1M1262.2 1204.6h1M1238.6 1222.6h1M1239.0 1213.7h1M1237.8 1217.2h1M1248.0 1208.9h1M1239.9 1212.6h1M1240.9 1218.1h1M1236.9 1214.5h1M1238.4 1210.2h1M1236.4 1207.6h1M1247.6 1211.3h1M1243.3 1219.7h1M1235.8 1219.1h1M1245.6 1206.8h1M1242.2 1216.7h1M1243.6 1212.5h1M1256.3 1203.9h1M1224.4 1219.4h1M1250.0 1206.1h1M1227.0 1210.9h1M1249.2 1215.5h1M1224.9 1211.3h1M1245.7 1206.6h1M1238.7 1212.4h1M1234.7 1219.1h1M1252.0 1207.5h1M1239.6 1219.3h1M1242.7 1214.7h1M1235.0 1220.1h1M1252.6 1212.1h1M1243.7 1213.3h1M1239.0 1218.8h1M1252.4 1211.1h1M1235.6 1209.5h1M1241.1 1211.4h1M1236.7 1218.7h1M1252.3 1207.4h1M1253.9 1206.4h1M1231.5 1215.6h1M1240.6 1216.6h1M1251.4 1206.6h1M1250.0 1202.4h1M1244.9 1218.2h1M1249.1 1213.0h1M1220.2 1217.1h1M1236.6 1221.0h1M1256.3 1199.4h1M1230.4 1214.0h1M1235.2 1219.4h1M1244.0 1220.9h1M1247.5 1204.7h1M1244.2 1209.7h1M1252.1 1210.4h1M1241.2 1217.3h1M1247.5 1208.0h1M1246.4 1212.8h1M1237.6 1211.2h1M1254.4 1204.0h1M1237.8 1217.2h1M1228.5 1221.1h1M1228.4 1218.6h1M1223.7 1220.1h1M1250.4 1205.6h1M1235.1 1225.9h1M1240.0 1221.3h1M1233.8 1209.5h1M1258.8 1198.8h1M1252.5 1211.6h1M1230.1 1220.1h1M1238.4 1217.6h1M1239.1 1207.1h1M1244.8 1214.3h1M1241.0 1215.7h1M1237.2 1214.9h1M1246.0 1210.2h1M1256.7 1207.6h1M1252.1 1209.3h1M1241.0 1206.4h1M1256.7 1211.8h1M1243.9 1209.4h1M1245.0 1216.6h1M1242.7 1206.3h1M1238.9 1209.9h1M1238.3 1209.6h1M1237.8 1222.7h1M1248.3 1199.3h1M1232.0 1216.1h1M1235.3 1208.9h1M1246.8 1200.3h1M1250.7 1210.2h1M1237.3 1211.6h1M1243.3 1212.0h1M1219.5 1219.9h1M1247.1 1208.1h1M1236.0 1210.6h1M1233.9 1213.2h1M1265.7 1189.9h1M1258.0 1204.2h1M1244.9 1211.2h1M1242.7 1220.2h1M1247.1 1208.6h1M1241.7 1213.3h1M1230.9 1217.6h1M1238.0 1217.9h1M1243.5 1201.1h1M1242.7 1216.9h1M1227.3 1215.2h1M1251.5 1205.2h1M1235.2 1210.0h1M1242.6 1208.6h1M1245.4 1212.1h1M1248.2 1206.3h1M1237.5 1215.1h1M1241.9 1213.0h1M1236.8 1214.1h1M1235.4 1213.2h1M1246.7 1215.2h1M1238.8 1217.3h1M1245.9 1210.1h1M1247.4 1205.5h1M1248.4 1209.5h1M1210.3 1234.5h1M1252.8 1215.5h1M1232.6 1218.6h1M1243.3 1206.0h1M1254.8 1206.1h1M1231.9 1212.1h1M1244.3 1223.3h1M1256.7 1189.2h1M1226.8 1225.5h1M1239.8 1210.0h1M1248.3 1208.4h1M1245.8 1211.0h1M1235.3 1223.4h1M1240.8 1218.9h1M1249.0 1207.7h1M1243.6 1210.8h1M1224.2 1221.9h1M1242.5 1203.0h1M1231.0 1225.0h1M1246.2 1201.0h1M1246.6 1208.8h1M1250.8 1204.6h1M1238.4 1210.3h1M1243.8 1210.2h1M1235.3 1214.5h1M1236.8 1218.8h1M1228.8 1212.2h1M1235.9 1221.8h1M1239.2 1217.4h1M1248.1 1205.3h1M1250.8 1209.0h1M1240.2 1209.4h1M1238.6 1207.3h1M1238.3 1211.3h1M1247.4 1210.4h1M1238.4 1219.0h1M1253.9 1204.7h1M1234.1 1223.5h1M1201.8 1232.3h1M1262.5 1221.8h1M1239.3 1231.5h1M1289.3 1203.0h1M1211.7 1244.7h1M1251.3 1218.0h1M1237.2 1209.0h1M1247.2 1226.1h1M1254.8 1201.1h1M1253.5 1214.9h1M1251.8 1205.9h1M1228.9 1212.9h1M1233.4 1212.1h1M1211.0 1217.0h1M1251.2 1194.2h1M1222.2 1225.1h1M1272.4 1207.1h1M1231.3 1208.1h1M1229.9 1210.3h1M1236.9 1221.4h1M1222.2 1216.7h1M1238.8 1214.4h1M1226.9 1213.6h1M1221.3 1217.7h1M1250.1 1204.7h1M1197.0 1248.8h1M1237.5 1205.8h1M1223.5 1190.6h1M1222.8 1238.2h1M1288.1 1207.3h1M1231.6 1219.9h1M1249.1 1194.2h1M1267.0 1188.3h1M1242.7 1199.2h1M1248.8 1208.1h1M1254.3 1191.7h1M1252.3 1226.5h1M1225.9 1227.1h1M1247.4 1203.5h1M1246.1 1226.0h1M1264.1 1204.7h1M1241.4 1200.2h1M1253.7 1225.3h1M1252.8 1190.3h1M1206.6 1228.1h1M1242.8 1205.9h1M1239.9 1217.9h1M1258.4 1204.4h1M1255.6 1187.7h1M1252.7 1210.5h1M1225.8 1237.4h1M1210.1 1217.0h1M1292.3 1194.7h1M1256.0 1218.9h1M1255.5 1191.1h1M1258.0 1218.2h1M1240.8 1214.2h1M1239.4 1222.7h1M1231.1 1213.1h1M1218.6 1217.3h1M1249.0 1213.5h1M1231.4 1207.6h1M1250.3 1211.3h1M1260.8 1194.8h1M1239.1 1220.4h1M1267.2 1195.7h1M1236.8 1205.3h1M1241.9 1223.5h1M1262.5 1212.1h1M1221.1 1235.8h1M1231.3 1226.4h1M1204.5 1235.9h1M1235.5 1231.4h1M1251.7 1221.2h1M1246.2 1232.4h1M1245.8 1231.9h1M1230.1 1209.2h1M1255.4 1199.4h1M1235.1 1201.8h1M1238.1 1216.5h1M1233.7 1222.5h1M1210.8 1243.2h1M1244.1 1228.1h1M1234.0 1210.4h1M1237.2 1218.9h1M1250.2 1202.1h1M1232.5 1223.8h1M1247.2 1189.3h1M1222.6 1217.5h1M1277.0 1204.0h1M1258.5 1207.6h1M1230.9 1232.7h1M1231.7 1210.2h1M1266.6 1180.1h1M1266.4 1199.1h1M1229.1 1223.1h1M1230.4 1222.3h1M1226.4 1209.2h1M1283.3 1180.1h1M1258.7 1201.3h1M1247.4 1194.7h1M1209.1 1196.5h1M1261.6 1205.1h1M1228.4 1231.1h1M1268.0 1229.4h1M1251.7 1216.9h1M1257.0 1211.8h1M1240.5 1208.9h1M1261.0 1214.5h1M1218.3 1215.0h1M1251.8 1227.0h1M1230.8 1200.5h1M1260.1 1209.6h1M1275.4 1193.2h1M1271.1 1185.5h1M1258.4 1203.6h1M1222.4 1222.3h1M1270.4 1207.1h1M1242.8 1224.9h1M1262.4 1209.8h1M1249.3 1211.4h1M1229.4 1220.1h1M1241.2 1204.8h1M1239.3 1216.3h1M1252.1 1218.3h1M1224.4 1219.6h1M1245.5 1206.1h1M1246.0 1204.7h1M1260.9 1197.8h1M1228.7 1229.9h1M1259.9 1179.0h1M1241.4 1213.9h1M1267.6 1213.2h1M1232.4 1201.1h1M1259.2 1213.1h1M1251.0 1207.8h1M1242.8 1240.1h1M1215.9 1212.4h1M1260.4 1204.1h1M1255.8 1207.8h1M1277.8 1205.8h1M1239.5 1225.8h1M1215.2 1210.6h1M1260.3 1195.9h1M1208.4 1234.3h1M1235.1 1223.0h1M1238.2 1206.4h1M1235.7 1225.6h1M1228.8 1222.7h1M1229.6 1226.0h1M1274.8 1197.9h1M1263.5 1204.0h1M1226.1 1219.6h1M1246.6 1214.8h1M1236.6 1223.2h1M1231.9 1220.0h1M1237.0 1202.8h1M1259.6 1201.9h1M1244.7 1210.6h1M1201.9 1222.7h1M1233.9 1229.3h1M1237.0 1222.9h1M1222.2 1215.9h1M1241.1 1225.4h1M1215.6 1227.9h1M1250.4 1208.8h1M1246.9 1218.4h1M1242.5 1200.9h1M1249.3 1199.1h1M1245.3 1227.2h1M1290.0 1198.1h1M1245.9 1201.3h1M1239.6 1233.3h1M1241.2 1197.4h1M1271.4 1200.3h1M1266.5 1201.5h1M1204.6 1228.6h1M1240.0 1212.1h1M1263.9 1190.8h1M1241.3 1212.6h1M1236.3 1204.6h1M1210.0 1204.0h1M1247.4 1206.9h1M1240.9 1201.4h1M1238.1 1204.1h1M1228.6 1225.3h1M1256.4 1210.0h1M1240.4 1209.3h1M1272.1 1207.4h1M1227.3 1209.9h1M1250.8 1210.7h1M1240.4 1239.8h1M1205.2 1227.1h1M1252.2 1217.4h1M1211.1 1227.8h1M1273.5 1208.3h1M1239.3 1214.9h1M1231.0 1224.4h1M1215.7 1206.6h1M1219.0 1228.3h1M1227.7 1234.7h1M1268.9 1206.6h1M1259.5 1214.3h1M1251.9 1216.2h1M1254.7 1213.4h1M1223.4 1217.3h1M1231.4 1229.1h1M1247.1 1200.4h1M1224.3 1217.7h1M1256.5 1202.0h1M1235.7 1209.0h1M1249.5 1226.1h1M1230.2 1216.3h1M1274.1 1200.1h1M1230.5 1232.6h1M1225.8 1229.6h1M1197.4 1230.3h1M1254.8 1197.6h1M1231.8 1220.0h1M1240.7 1208.2h1M1241.7 1233.5h1M1268.8 1199.1h1M1221.9 1219.7h1M1241.0 1218.9h1M1266.1 1191.1h1M1243.3 1207.0h1M1241.8 1205.0h1M1255.3 1217.3h1M1235.1 1213.5h1M1238.2 1200.2h1M1265.2 1182.4h1M1232.8 1208.6h1M1264.7 1192.5h1M1244.9 1232.4h1M1237.2 1207.0h1M1244.1 1213.6h1M1230.2 1218.3h1M1243.6 1220.0h1M1259.8 1210.7h1M1245.3 1219.7h1M1245.8 1223.5h1M1247.4 1204.4h1M1255.0 1187.0h1M1223.5 1215.7h1M1234.6 1203.5h1M1214.0 1209.4h1M1241.0 1204.6h1M1282.3 1195.4h1M1231.7 1234.5h1M1250.5 1219.5h1M1231.4 1232.8h1M1258.6 1197.2h1M1227.6 1217.8h1M1259.9 1228.5h1M1280.0 1205.2h1M1237.9 1211.6h1M1247.6 1205.9h1M1234.6 1215.2h1M1256.4 1202.6h1M1245.6 1207.4h1M1238.3 1211.4h1M1264.6 1200.7h1M1266.2 1195.1h1M1253.0 1189.8h1M1236.4 1215.7h1M1232.4 1217.7h1M1227.5 1220.3h1M1232.5 1218.9h1M1233.2 1207.0h1M1236.8 1216.5h1M1223.3 1226.0h1M1262.0 1197.2h1M1255.2 1211.3h1M1237.2 1230.9h1M1278.1 1177.6h1M1273.9 1184.0h1M1257.1 1182.3h1M1262.1 1201.3h1M1218.3 1218.7h1M1221.7 1215.7h1M1248.3 1206.6h1M1201.4 1235.6h1M1251.1 1207.8h1M1260.7 1179.7h1M1247.2 1209.7h1M1247.8 1193.7h1M1221.3 1224.2h1M1235.0 1196.7h1M1249.0 1208.1h1M1241.3 1183.4h1M1246.6 1199.6h1M1239.6 1223.2h1M1271.0 1195.6h1M1248.2 1223.6h1M1228.0 1220.1h1M1229.9 1209.4h1M1256.9 1226.3h1M1249.7 1213.4h1M1248.5 1221.4h1M1241.5 1203.0h1M1252.2 1222.5h1M1248.0 1222.5h1M1252.6 1229.0h1M1251.1 1214.3h1M1242.9 1221.7h1M1231.8 1202.5h1M1241.7 1199.2h1M1271.0 1202.9h1M1247.0 1217.3h1M1209.6 1251.3h1M1236.2 1224.1h1M1275.8 1172.4h1M1238.3 1219.0h1M1241.1 1194.1h1M1236.0 1233.6h1M1236.4 1222.7h1M1216.5 1218.9h1M1215.4 1233.1h1M1262.2 1200.7h1M1240.0 1216.8h1M1249.1 1204.8h1M1262.2 1221.9h1M1275.8 1184.2h1M1232.9 1240.5h1M1265.2 1211.5h1M1251.7 1203.9h1M1264.7 1210.8h1M1256.4 1191.0h1M1257.9 1198.4h1M1239.3 1218.5h1M1249.7 1234.2h1M1253.6 1208.3h1M1241.4 1216.0h1M1242.5 1219.0h1M1261.4 1209.7h1M1221.3 1222.4h1M1238.2 1201.3h1M1248.5 1206.9h1M1246.1 1214.4h1M1241.3 1230.9h1M1257.0 1196.8h1M1254.5 1213.1h1M1229.1 1217.1h1M1241.0 1184.0h1M1223.8 1228.3h1M1248.3 1198.1h1M1268.5 1220.8h1M1246.4 1209.5h1M1239.1 1203.1h1M1253.0 1207.7h1M1262.6 1215.7h1M1244.8 1213.0h1M1257.5 1222.5h1M1219.9 1227.1h1M1233.8 1219.5h1M1256.9 1203.9h1M1256.0 1205.8h1M1228.4 1214.1h1M1222.3 1228.1h1M1241.3 1222.8h1M1254.1 1194.8h1M1229.0 1228.1h1M1230.3 1222.8h1M1251.0 1202.5h1M1267.7 1187.2h1M1247.9 1204.2h1M1196.2 1240.6h1M1243.7 1218.3h1M1237.3 1207.5h1M1233.4 1214.9h1M1254.0 1201.9h1M1267.4 1206.0h1M1236.7 1228.0h1M1207.2 1235.7h1M1227.1 1221.4h1M1261.7 1200.0h1M1247.2 1224.0h1M1226.8 1213.2h1M1262.0 1206.8h1M1221.2 1228.0h1M1254.9 1202.6h1M1237.5 1217.3h1M1243.0 1204.1h1M1248.4 1190.7h1M1253.2 1229.8h1M1226.1 1222.7h1M1202.6 1229.0h1M1225.1 1224.4h1M1244.9 1231.8h1M1228.3 1221.3h1M1250.1 1214.9h1M1249.4 1190.2h1M1276.7 1186.7h1M1223.2 1206.3h1M1226.9 1202.4h1M1243.1 1205.3h1M1244.3 1202.3h1M1255.9 1229.0h1M1262.8 1201.1h1M1235.0 1233.9h1M1208.8 1218.3h1M1260.8 1193.7h1M1267.7 1202.6h1M1287.3 1203.6h1M1249.3 1200.9h1M1259.9 1217.0h1M1230.4 1187.4h1M1235.2 1213.0h1M1240.4 1209.8h1M1254.8 1190.0h1M1239.9 1191.6h1M1203.1 1226.5h1M1226.5 1212.6h1M1235.1 1224.2h1M1252.8 1206.6h1M1242.7 1204.4h1M1220.0 1210.9h1M1230.6 1207.2h1M1241.7 1221.1h1M1258.7 1216.9h1M1216.8 1204.1h1M1235.7 1239.4h1M1252.0 1201.2h1M1262.0 1195.0h1M1267.6 1191.4h1M1240.2 1221.8h1M1223.9 1222.5h1M1276.2 1195.4h1M1224.1 1221.4h1M1238.7 1206.2h1M1256.1 1217.7h1M1248.4 1218.6h1M1248.4 1210.0h1M1236.0 1227.5h1M1262.3 1194.4h1M1231.7 1225.3h1M1250.5 1219.9h1M1250.2 1205.9h1M1224.1 1231.3h1M1238.0 1200.9h1M1209.8 1212.9h1M1250.7 1202.1h1M1185.4 1239.4h1M1232.2 1217.7h1M1241.8 1208.9h1M1260.1 1212.5h1M1247.6 1226.9h1M1236.5 1206.4h1M1238.0 1199.0h1M1232.7 1206.7h1M1237.1 1218.0h1M1205.9 1240.5h1M1246.0 1207.6h1M1256.2 1207.3h1M1231.9 1207.8h1M1258.6 1210.5h1M1215.6 1221.5h1M1228.4 1230.9h1M1227.3 1208.0h1M1269.4 1200.0h1M1248.0 1211.5h1M1240.3 1214.1h1M1259.5 1206.3h1M1236.1 1217.5h1M1269.9 1188.2h1M1222.4 1226.6h1M1238.3 1244.8h1M1255.9 1210.2h1M1259.0 1223.9h1M1226.4 1222.2h1M1222.6 1239.3h1M1250.8 1226.9h1M1233.0 1206.5h1M1235.8 1225.8h1M1231.0 1222.6h1M1227.6 1213.8h1M1242.3 1230.8h1M1227.3 1225.8h1M1251.8 1197.7h1M1226.5 1239.7h1M1269.3 1192.0h1M1228.1 1231.5h1M1237.9 1205.8h1M1224.2 1196.9h1M1223.4 1210.8h1M1224.7 1230.4h1M1255.9 1222.8h1M1196.3 1234.6h1M1236.2 1231.4h1M1260.0 1202.2h1M1240.3 1205.0h1M1232.1 1213.8h1M1212.1 1253.6h1M1265.4 1221.1h1M1265.1 1203.1h1M1247.3 1189.8h1M1230.9 1229.4h1M1228.1 1203.0h1M1235.8 1201.8h1M1250.8 1224.6h1M1222.0 1220.3h1M1251.4 1206.1h1M1241.2 1203.3h1M1224.7 1196.4h1M1246.5 1224.2h1M1223.6 1222.3h1M1260.4 1214.5h1M1256.7 1192.7h1M1245.1 1230.6h1M1236.6 1219.2h1M1225.5 1215.6h1M1191.9 1238.7h1M1201.8 1226.9h1M1233.8 1233.2h1M1257.0 1207.3h1M1226.9 1206.3h1M1245.9 1200.3h1M1245.6 1220.9h1M1239.3 1213.8h1M1231.9 1230.9h1M1254.8 1212.2h1M1260.2 1181.9h1M1246.3 1217.0h1M1249.5 1211.0h1M1242.0 1194.8h1M1247.3 1222.3h1M1240.6 1211.0h1M1246.9 1189.1h1M1256.8 1220.2h1M1234.0 1208.1h1M1248.6 1202.9h1M1230.1 1222.0h1M1219.2 1234.9h1M1220.2 1220.2h1M1254.0 1204.2h1M1253.9 1220.5h1M1277.9 1213.0h1M1238.4 1225.3h1M1219.9 1235.9h1M1259.7 1192.5h1M1254.3 1214.0h1M1236.5 1208.6h1M1259.9 1185.6h1M1250.1 1218.1h1M1254.5 1222.4h1M1268.8 1200.3h1M1275.0 1199.5h1M1220.9 1222.4h1M1247.8 1210.8h1M1227.1 1248.4h1M1211.3 1219.3h1M1250.7 1209.0h1M1268.5 1197.8h1M1252.4 1214.0h1M1223.8 1209.3h1M1240.4 1225.1h1M1244.5 1225.1h1M1237.6 1224.0h1M1247.4 1218.6h1M1243.7 1213.6h1M1241.5 1227.0h1M1244.6 1216.5h1M1248.4 1198.0h1M1228.9 1220.4h1M1257.6 1190.2h1M1220.9 1214.8h1M1230.6 1207.5h1M1232.1 1224.9h1M1224.9 1223.4h1M1222.5 1222.8h1M1240.5 1190.4h1M1244.6 1213.3h1M1243.0 1214.8h1M1242.5 1197.2h1M1244.0 1218.6h1M1256.3 1187.5h1M1225.8 1207.3h1M1236.7 1203.6h1M1230.8 1228.6h1M1268.0 1171.9h1M1264.3 1187.4h1M1255.5 1207.7h1M1261.5 1197.4h1M1228.9 1220.2h1M1250.7 1196.6h1M1249.2 1207.7h1M1245.6 1210.2h1M1256.6 1212.2h1M1236.1 1212.2h1M1203.5 1227.4h1M1221.6 1233.4h1M1221.6 1217.7h1M1256.4 1214.5h1M1257.8 1192.4h1M1252.1 1218.2h1M1227.8 1219.1h1M1219.7 1219.6h1M1254.6 1205.4h1M1233.9 1211.4h1M1271.1 1202.2h1M1234.1 1242.4h1M1235.3 1215.1h1M1231.8 1212.6h1M1245.4 1193.7h1M1241.5 1209.1h1M1272.8 1197.0h1M1252.5 1211.7h1M1252.9 1206.8h1M1205.6 1241.0h1M1241.3 1221.0h1M1244.9 1204.4h1M1223.1 1213.2h1M1246.8 1208.2h1M1226.6 1218.4h1M1244.9 1203.0h1M1237.5 1208.5h1M1201.6 1239.8h1M1248.0 1217.9h1M1259.9 1192.6h1M1253.7 1208.0h1M1248.3 1217.9h1M1250.2 1192.8h1M1265.5 1195.2h1M1228.5 1213.4h1M1233.3 1205.4h1M1262.5 1204.1h1M1232.6 1228.0h1M1247.0 1210.2h1M1257.7 1201.3h1M1241.2 1218.8h1M1207.1 1221.5h1M1256.5 1215.3h1M1215.9 1229.7h1M1230.7 1216.7h1M1260.2 1217.7h1M1276.0 1201.3h1M1253.8 1206.5h1M1214.9 1234.6h1M1217.9 1215.5h1M1236.5 1198.1h1M1274.3 1198.4h1M1251.1 1212.1h1M1247.0 1210.0h1M1250.6 1199.3h1M1248.0 1210.5h1M1249.5 1195.1h1M1246.1 1208.4h1M1255.7 1209.8h1M1248.2 1213.8h1M1257.0 1218.3h1M1250.5 1213.1h1M1226.8 1220.1h1M1260.6 1212.4h1M1227.0 1221.8h1M1238.8 1215.3h1M1232.9 1213.6h1M1242.5 1213.7h1M1254.7 1194.6h1M1231.5 1228.3h1M1249.9 1205.3h1M1229.8 1232.4h1M1231.5 1232.2h1M1246.0 1208.2h1M1244.4 1220.3h1M1234.0 1198.0h1M1220.5 1202.1h1M1254.0 1215.3h1M1252.3 1190.6h1M1286.2 1204.5h1M1230.7 1197.3h1M1234.3 1229.4h1M1273.1 1186.3h1M1208.3 1223.4h1M1273.4 1192.1h1M1209.5 1209.9h1M1257.2 1211.8h1M1234.1 1215.4h1M1242.3 1208.5h1M1231.1 1213.1h1M1239.7 1228.0h1M1254.5 1216.0h1M1260.4 1174.7h1M1246.7 1220.4h1M1236.3 1209.5h1M1246.4 1203.7h1M1227.8 1218.3h1M1243.7 1211.5h1M1257.3 1202.9h1M1251.0 1241.3h1M1237.8 1212.2h1M1236.9 1207.9h1M1218.6 1229.9h1M1256.7 1182.3h1M1232.9 1223.3h1M1234.7 1223.3h1M1236.3 1203.7h1M1236.7 1210.1h1M1238.3 1186.1h1M1256.3 1218.4h1M1246.4 1212.4h1M1236.0 1220.3h1M1233.8 1203.3h1M1211.8 1205.8h1M1250.6 1208.9h1M1261.5 1202.8h1M1246.9 1194.1h1M1210.0 1226.8h1M1239.4 1218.3h1M1239.8 1212.1h1M1244.8 1213.6h1M1247.7 1212.5h1M1234.3 1216.5h1M1213.5 1218.4h1M1240.7 1218.3h1M1223.4 1208.6h1M1253.7 1195.4h1M1210.3 1222.1h1M1211.3 1205.0h1M1245.4 1229.5h1M1226.7 1213.2h1M1261.5 1200.9h1M1248.2 1223.9h1M1223.6 1223.8h1M1251.9 1208.4h1M1219.2 1216.8h1M1270.7 1192.8h1M1244.1 1223.4h1M1213.9 1230.2h1M1221.9 1241.4h1M1227.6 1223.2h1M1228.8 1222.6h1M1247.9 1208.8h1M1239.0 1217.3h1M1236.4 1210.5h1M1257.3 1212.3h1M1216.1 1218.0h1M1232.0 1222.4h1M1228.5 1238.9h1M1244.3 1212.8h1M1252.9 1197.0h1M1250.9 1211.4h1M1258.0 1190.3h1M1268.0 1202.4h1M1252.4 1217.9h1M1237.9 1213.1h1M1254.4 1200.6h1M1267.2 1211.8h1M1247.3 1211.2h1M1227.9 1211.4h1M1260.5 1188.9h1M1245.8 1213.5h1M1225.2 1215.9h1M1242.7 1236.1h1M1256.1 1219.2h1M1280.6 1199.0h1M1261.7 1194.9h1M1239.6 1230.7h1M1261.1 1188.8h1M1262.8 1202.5h1M1260.8 1211.4h1M1270.1 1187.4h1M1249.7 1222.0h1M1241.9 1219.0h1M1233.2 1199.3h1M1239.0 1224.7h1M1226.6 1205.4h1M1235.8 1218.0h1M1252.8 1209.5h1M1246.2 1198.1h1M1229.8 1212.1h1M1238.6 1220.0h1M1263.3 1196.3h1M1266.0 1209.8h1M1220.9 1217.3h1M1238.7 1199.4h1M1263.5 1177.7h1M1227.9 1230.8h1M1235.2 1225.3h1M1233.2 1230.5h1M1237.9 1223.7h1M1251.7 1189.7h1M1220.4 1207.2h1M1230.6 1230.7h1M1247.4 1219.0h1M1271.5 1205.5h1M1252.8 1201.1h1M1239.0 1218.5h1M1263.0 1211.6h1M1246.8 1206.5h1M1250.9 1225.9h1M1258.4 1224.9h1M1236.8 1226.3h1M1251.0 1215.7h1M1233.5 1222.4h1M1241.2 1210.4h1M1217.4 1213.0h1M1241.2 1219.7h1M1249.1 1211.2h1M1241.9 1197.9h1M1261.0 1201.5h1M1229.0 1215.3h1M1260.4 1203.2h1M1228.2 1245.8h1M1229.1 1240.8h1M1252.1 1195.2h1M1270.0 1209.1h1M1263.7 1206.3h1M1250.1 1210.3h1M1236.7 1219.6h1M1263.6 1197.9h1M1267.1 1179.3h1M1236.7 1199.8h1M1217.3 1232.0h1M1235.8 1210.9h1M1225.8 1221.0h1M1217.1 1227.1h1M1229.0 1207.4h1M1240.8 1192.9h1M1252.0 1209.6h1M1252.9 1207.5h1M1255.1 1201.6h1M1228.6 1226.1h1M1229.5 1217.2h1M1241.0 1203.3h1M1251.5 1189.6h1M1263.1 1199.0h1M1276.5 1203.2h1M1256.1 1207.3h1M1238.6 1199.8h1M1230.2 1210.2h1M1231.9 1218.2h1M1232.0 1221.2h1M1237.4 1210.8h1M1252.5 1211.6h1M1221.0 1223.2h1M1290.3 1181.9h1M1246.6 1200.1h1M1267.3 1214.0h1M1252.4 1204.9h1M1234.6 1196.6h1M1251.7 1203.4h1M1252.1 1210.8h1M1258.0 1226.4h1M1255.1 1197.3h1M1256.8 1210.6h1M1251.7 1222.7h1M1229.0 1201.8h1M1229.0 1225.9h1M1229.0 1223.3h1M1221.9 1230.5h1M1235.1 1207.3h1M1233.7 1215.5h1M1259.6 1204.4h1M1241.4 1215.3h1M1260.3 1206.5h1M1267.9 1188.2h1M1257.5 1204.4h1M1236.9 1223.1h1M1262.1 1211.1h1M1247.0 1200.0h1M1248.5 1213.2h1M1270.8 1195.8h1M1254.3 1222.7h1M1242.6 1207.7h1M1252.4 1215.1h1M1237.7 1197.1h1M1242.7 1224.0h1M1236.6 1226.3h1M1242.5 1203.8h1M1245.5 1186.7h1M1202.8 1221.1h1M1250.8 1204.3h1M1253.5 1204.8h1M1243.3 1206.4h1M1242.7 1223.8h1M1249.2 1193.5h1M1263.3 1222.0h1M1251.0 1196.7h1M1256.7 1206.0h1M1243.8 1222.8h1M1260.6 1195.2h1M1243.8 1207.5h1M1252.1 1224.4h1M1240.0 1220.8h1M1248.4 1209.9h1M1229.3 1228.3h1M1230.3 1228.8h1M1243.2 1213.9h1M1232.2 1209.9h1M1227.8 1222.5h1M1244.0 1215.0h1M1243.3 1220.9h1M1246.8 1211.4h1M1240.0 1214.2h1M1250.5 1199.7h1M1226.9 1227.2h1M1250.6 1207.8h1M1241.0 1199.2h1M1228.6 1221.8h1M1237.0 1202.5h1M1241.5 1192.2h1M1258.0 1191.0h1M1229.7 1209.4h1M1221.1 1223.1h1M1212.4 1228.6h1M1245.0 1207.8h1M1236.1 1200.8h1M1208.1 1220.3h1M1262.0 1203.6h1M1224.4 1243.5h1M1259.2 1214.0h1M1266.3 1211.8h1M1217.7 1229.7h1M1241.5 1235.0h1M1254.5 1204.9h1M1229.0 1197.9h1M1241.1 1204.3h1M1268.8 1203.9h1M1240.5 1209.6h1M1258.4 1196.5h1M1262.0 1202.3h1M1241.1 1217.7h1M1263.0 1181.6h1M1259.3 1210.1h1M1247.2 1226.0h1M1257.0 1209.4h1M1230.9 1226.7h1M1226.1 1229.0h1M1272.9 1182.9h1M1262.7 1187.5h1M1248.5 1216.9h1M1222.7 1229.2h1M1228.4 1215.0h1M1256.5 1202.7h1M1250.2 1207.9h1M1257.6 1220.3h1M1244.2 1208.4h1M1247.8 1217.3h1M1240.0 1190.4h1M1244.8 1216.1h1M1281.7 1180.6h1M1233.5 1205.6h1M1233.6 1198.8h1M1230.1 1219.8h1M1218.6 1225.2h1M1239.4 1228.8h1M1279.6 1212.3h1M1249.3 1215.8h1M1277.7 1182.6h1M1265.8 1187.4h1M1252.3 1188.8h1M1236.5 1214.4h1M1229.8 1199.2h1M1244.2 1208.4h1M1270.1 1201.3h1M1210.2 1235.1h1M1260.0 1200.3h1M1225.5 1208.4h1M1233.1 1208.3h1M1237.7 1212.2h1M1258.8 1191.1h1M1243.3 1199.9h1M1253.3 1217.2h1M1228.6 1208.4h1M1244.4 1211.7h1M1235.8 1221.8h1M1248.3 1216.5h1M1225.8 1232.0h1M1259.4 1192.5h1M1276.1 1193.4h1M1217.7 1216.8h1M1228.6 1214.4h1M1241.4 1216.7h1M1238.8 1211.5h1M1218.0 1205.6h1M1226.1 1209.5h1M1245.2 1183.8h1M1247.0 1177.6h1M1240.6 1214.1h1M1221.0 1215.6h1M1251.9 1194.4h1M1242.4 1213.2h1M1247.5 1195.2h1M1263.6 1197.2h1M1252.4 1190.3h1M1260.4 1200.0h1M1252.7 1198.9h1M1257.4 1203.3h1M1226.4 1251.2h1M1235.5 1222.5h1M1238.2 1210.3h1M1242.4 1223.1h1M1263.2 1209.7h1M1221.9 1235.2h1M1231.7 1245.7h1M1255.6 1217.0h1M1244.3 1213.1h1M1242.6 1235.1h1M1244.0 1224.0h1M1230.0 1219.1h1M1236.9 1215.1h1M1238.8 1222.2h1M1245.8 1192.4h1M1229.9 1206.0h1M1254.2 1190.9h1M1251.9 1208.3h1M1232.7 1197.0h1M1269.9 1193.2h1M1259.9 1213.3h1M1222.6 1214.4h1M1281.0 1209.6h1M1230.2 1219.8h1M1258.0 1200.9h1M1267.7 1203.1h1M1245.9 1218.0h1M1242.6 1226.9h1M1239.9 1229.2h1M1274.5 1172.1h1M1263.0 1182.6h1M1252.1 1227.2h1M1264.4 1206.1h1M1250.6 1209.5h1M1250.0 1205.6h1M1232.8 1205.0h1M1271.4 1193.7h1M1277.9 1198.1h1M1245.3 1198.5h1M1239.8 1214.9h1M1240.2 1210.8h1M1205.3 1232.3h1M1237.2 1210.7h1M1230.6 1202.7h1M1237.7 1232.5h1M1226.0 1217.5h1M1229.7 1219.2h1M1245.8 1233.3h1M1234.2 1233.5h1M1238.6 1220.3h1M1284.1 1185.6h1M1228.8 1189.1h1M1237.2 1213.6h1M1247.0 1212.5h1M1221.4 1215.8h1M1254.6 1201.8h1M1247.8 1216.8h1M1246.3 1212.0h1M1226.6 1223.1h1M1225.9 1243.6h1M1240.3 1233.3h1M1235.2 1216.0h1M1265.8 1200.1h1M1245.4 1207.8h1M1236.0 1208.7h1M1222.4 1205.6h1M1237.5 1207.2h1M1277.4 1214.2h1M1268.2 1182.6h1M1237.6 1214.6h1M1227.6 1240.3h1M1256.9 1206.8h1M1277.5 1195.7h1M1240.7 1217.2h1M1239.1 1220.5h1M1225.8 1229.6h1M1237.1 1211.5h1M1237.3 1214.9h1M1219.4 1234.7h1M1250.3 1228.3h1M1248.8 1219.6h1M1242.9 1211.1h1M1222.2 1220.8h1M1222.2 1198.6h1M1235.7 1209.2h1M1254.4 1216.9h1M1245.5 1224.5h1M1268.0 1205.1h1M1239.4 1216.1h1M1278.4 1207.2h1M1253.5 1186.2h1M1217.2 1249.6h1M1262.6 1215.2h1M1251.9 1203.4h1M1251.4 1206.7h1M1272.6 1203.0h1M1225.1 1215.6h1M1265.1 1208.4h1M1250.7 1211.6h1M1219.8 1218.0h1M1243.2 1191.7h1M1255.2 1211.4h1M1259.2 1211.8h1M1276.4 1194.4h1M1222.4 1206.7h1M1208.8 1236.0h1M1249.9 1189.2h1M1243.4 1204.3h1M1241.4 1216.2h1M1238.8 1202.0h1M1255.8 1202.9h1M1218.3 1237.6h1M1267.6 1192.3h1M1261.8 1182.5h1M1247.1 1224.9h1M1268.1 1202.3h1M1259.3 1197.5h1M1260.9 1212.0h1M1261.6 1205.0h1M1260.1 1206.6h1M1246.1 1193.1h1M1249.1 1198.1h1M1238.6 1216.2h1M1241.5 1198.7h1M1237.1 1219.3h1M1237.9 1216.3h1M1249.2 1211.1h1M1236.6 1219.0h1M1246.9 1195.7h1M1251.7 1195.7h1M1253.4 1212.9h1M1248.5 1195.7h1M1223.5 1211.9h1M1254.2 1207.0h1M1219.2 1236.5h1M1260.6 1195.3h1M1244.3 1214.6h1M1225.8 1218.9h1M1251.3 1203.3h1M1244.7 1212.8h1M1273.1 1196.1h1M1247.2 1204.5h1M1264.4 1199.5h1M1250.6 1222.7h1M1261.0 1190.5h1M1245.9 1225.3h1M1244.9 1229.3h1M1251.8 1229.1h1M1218.5 1206.4h1M1231.2 1242.8h1M1230.3 1215.9h1M1231.1 1211.9h1M1247.4 1211.3h1M1231.4 1214.1h1M1270.6 1205.6h1M1266.5 1211.5h1M1245.7 1220.9h1M1266.3 1188.1h1M1253.1 1178.0h1M1206.0 1220.0h1M1223.1 1214.5h1M1240.6 1223.5h1M1230.5 1216.5h1M1215.0 1212.6h1M1237.3 1207.8h1M1258.9 1203.6h1M1218.8 1236.5h1M1222.8 1221.2h1M1223.0 1216.1h1M1228.2 1208.6h1M1230.7 1217.3h1M1259.1 1210.1h1M1264.0 1180.4h1M1243.9 1225.7h1M1224.9 1222.3h1M1263.5 1216.7h1M1254.8 1208.5h1M1244.5 1218.5h1M1247.2 1213.6h1M1232.8 1217.6h1M1224.0 1212.3h1M1225.9 1214.0h1M1230.0 1214.3h1M1221.1 1230.1h1M1256.8 1221.0h1M1198.7 1225.1h1M1223.7 1215.0h1M1240.3 1204.5h1M1235.1 1225.8h1M1232.3 1201.0h1M1270.4 1220.0h1M1260.8 1198.9h1M1265.0 1197.3h1M1239.4 1217.6h1M1264.9 1199.4h1M1231.7 1204.0h1M1241.1 1201.4h1M1234.9 1201.9h1M1224.8 1213.2h1M1227.1 1209.7h1M1267.3 1205.4h1M1232.9 1207.1h1M1259.8 1198.6h1M1257.9 1214.0h1M1239.4 1219.6h1M1248.5 1203.9h1M1237.6 1208.8h1M1187.5 1244.0h1M1275.2 1203.0h1M1287.4 1184.3h1M1254.5 1197.8h1M1227.2 1212.7h1M1254.9 1213.4h1M1216.8 1237.3h1M1262.2 1208.8h1M1224.3 1226.7h1M1241.9 1197.9h1M1236.9 1241.2h1M1230.3 1215.0h1M1209.3 1227.2h1M1267.2 1201.0h1M1230.2 1221.0h1M1252.4 1212.8h1M1229.7 1225.2h1M1230.4 1214.8h1M1225.8 1214.4h1M1242.2 1192.9h1M1260.7 1231.5h1M1227.9 1218.9h1M1250.4 1225.1h1M1223.7 1231.2h1M1252.1 1228.6h1M1250.5 1229.9h1M1230.0 1224.7h1M1222.9 1218.6h1M1221.5 1221.6h1M1265.3 1191.7h1M1291.0 1199.3h1M1248.4 1208.9h1M1244.6 1202.7h1M1253.3 1206.6h1M1212.6 1232.4h1M1252.9 1206.4h1M1248.4 1208.8h1M1241.1 1225.3h1M1264.1 1195.1h1M1250.5 1195.1h1M1259.0 1192.6h1M1249.0 1219.0h1M1235.7 1217.4h1M1256.5 1197.2h1M1254.4 1217.1h1M1243.4 1203.2h1M1235.9 1214.0h1M1246.9 1216.8h1M1218.4 1227.4h1M1254.3 1221.8h1M1215.8 1220.0h1M1257.2 1202.5h1M1260.4 1200.4h1M1232.9 1218.2h1M1266.5 1205.0h1M1247.2 1211.1h1M1263.5 1205.9h1M1251.0 1215.2h1M1239.3 1202.2h1M1263.7 1212.2h1M1265.0 1197.2h1M1226.5 1227.5h1M1224.7 1203.2h1M1241.9 1204.4h1M1242.0 1207.4h1M1260.6 1210.3h1M1257.3 1216.1h1M1247.0 1235.9h1M1220.1 1235.3h1M1257.5 1198.3h1M1239.2 1201.4h1M1238.0 1218.7h1M1213.7 1209.6h1M1233.5 1209.0h1M1227.5 1220.4h1M1227.3 1234.5h1M1261.5 1200.5h1M1233.8 1217.5h1M1237.7 1206.8h1M1235.4 1221.8h1M1226.0 1216.1h1M1231.2 1208.7h1M1240.8 1199.4h1M1261.3 1208.2h1M1247.1 1218.9h1M1258.4 1197.9h1M1239.3 1207.8h1M1235.6 1212.7h1M1247.1 1215.1h1M1279.1 1192.4h1M1256.8 1200.6h1M1269.5 1196.2h1M1239.1 1211.6h1M1241.7 1208.6h1M1254.9 1223.9h1M1240.5 1205.4h1M1214.0 1229.8h1M1223.7 1216.2h1M1247.2 1213.2h1M1256.2 1216.2h1M1225.2 1216.4h1M1224.5 1213.0h1M1228.8 1212.0h1M1248.4 1196.8h1M1283.9 1172.9h1M1268.0 1183.3h1M1252.2 1192.3h1M1263.5 1203.9h1M1254.8 1196.5h1M1246.8 1197.7h1M1249.1 1198.4h1M1265.4 1206.9h1M1247.0 1186.6h1M1259.6 1208.4h1M1249.9 1207.7h1M1243.3 1194.9h1M1259.1 1183.7h1M1248.5 1179.6h1M1249.5 1207.9h1M1253.2 1196.4h1M1265.7 1189.9h1M1245.8 1201.8h1M1261.1 1201.4h1M1262.8 1210.4h1M1268.3 1196.1h1M1286.2 1176.5h1M1262.3 1192.4h1M1289.7 1192.3h1M1273.1 1199.3h1M1278.5 1188.6h1M1267.9 1181.6h1M1272.1 1206.5h1M1274.3 1200.7h1M1237.9 1209.2h1M1261.7 1213.9h1M1270.2 1202.7h1M1279.6 1198.1h1M1241.7 1199.6h1M1238.4 1219.5h1M1255.1 1190.3h1M1266.4 1194.1h1M1261.4 1211.9h1M1230.9 1197.4h1M1259.4 1198.3h1M1274.7 1191.7h1M1273.2 1211.5h1M1239.7 1194.5h1M1251.7 1201.4h1M1248.1 1207.0h1M1254.9 1212.7h1M1269.8 1203.0h1M1264.8 1200.5h1M1240.0 1205.5h1M1242.6 1218.9h1M1244.2 1197.6h1M1262.1 1220.0h1M1252.2 1218.7h1M1270.8 1220.4h1M1256.9 1196.4h1M1259.3 1195.4h1M1254.3 1209.0h1M1258.2 1209.2h1M1271.7 1204.7h1M1284.6 1201.2h1M1253.3 1215.2h1M1233.6 1221.7h1M1273.6 1185.5h1M1272.0 1178.5h1M1273.0 1191.8h1M1257.2 1199.7h1M1256.3 1208.5h1M1260.6 1199.7h1M1260.9 1196.6h1M1250.2 1209.4h1M1268.5 1186.3h1M1277.3 1205.8h1M1267.9 1211.0h1M1237.9 1221.2h1M1252.8 1205.7h1M1257.0 1224.2h1M1258.2 1207.2h1M1241.9 1204.2h1M1266.5 1196.9h1M1256.2 1215.6h1M1242.0 1207.7h1M1258.1 1197.7h1M1270.4 1198.8h1M1261.1 1206.1h1M1262.0 1204.6h1M1278.4 1195.9h1M1260.6 1194.9h1M1282.4 1201.2h1M1269.2 1199.9h1M1251.1 1204.4h1M1261.8 1189.0h1M1249.0 1203.4h1M1287.0 1194.0h1M1246.8 1217.0h1M1275.0 1201.5h1M1254.2 1201.5h1M1292.7 1198.9h1M1314.6 1163.6h1M1240.1 1203.7h1M1247.9 1198.7h1M1274.8 1207.5h1M1245.0 1211.2h1M1273.3 1198.0h1M1282.3 1203.2h1M1251.6 1204.8h1M1261.5 1188.8h1M1261.7 1209.4h1M1266.7 1198.3h1M1296.5 1193.0h1M1271.2 1188.3h1M1275.9 1190.6h1M1258.1 1197.3h1M1247.0 1210.6h1M1248.3 1212.5h1M1255.1 1214.1h1M1269.4 1208.0h1M1249.2 1209.8h1M1272.0 1198.8h1M1258.5 1195.6h1M1221.5 1219.3h1M1242.3 1197.3h1M1258.5 1176.3h1M1254.0 1209.2h1M1261.4 1198.0h1M1252.2 1205.1h1M1240.2 1202.5h1M1269.3 1188.6h1M1258.9 1197.5h1M1239.7 1189.5h1M1248.2 1197.7h1M1248.3 1204.3h1M1267.6 1203.7h1M1262.8 1188.6h1M1280.7 1196.4h1M1267.4 1185.9h1M1282.6 1213.9h1M1271.8 1206.8h1M1254.8 1204.1h1M1263.1 1205.7h1M1264.7 1201.4h1M1246.5 1194.4h1M1269.2 1220.9h1M1250.7 1209.0h1M1277.1 1188.4h1M1241.8 1210.7h1M1258.7 1193.0h1M1283.5 1198.8h1M1257.6 1188.6h1M1281.5 1203.5h1M1277.5 1209.6h1M1245.5 1196.6h1M1274.5 1199.6h1M1259.8 1196.2h1M1276.0 1197.3h1M1269.7 1186.4h1M1263.9 1203.2h1M1270.1 1181.3h1M1257.3 1195.5h1M1261.6 1198.8h1M1269.8 1204.6h1M1265.2 1198.1h1M1277.6 1207.5h1M1260.4 1193.0h1M1287.7 1199.3h1M1289.0 1186.3h1M1256.4 1200.4h1M1256.4 1188.2h1M1268.4 1183.6h1M1225.8 1212.7h1M1248.9 1207.2h1M1242.8 1194.2h1M1231.5 1199.2h1M1264.7 1219.2h1M1268.8 1191.4h1M1280.3 1195.7h1M1232.3 1194.2h1M1240.5 1202.3h1M1260.6 1194.7h1M1252.1 1194.7h1M1266.6 1205.8h1M1251.9 1215.5h1M1250.2 1201.6h1M1285.6 1197.1h1M1256.7 1183.7h1M1262.0 1196.6h1M1262.5 1210.3h1M1260.4 1217.7h1M1263.1 1201.2h1M1258.3 1202.3h1M1280.4 1195.6h1M1246.6 1198.3h1M1278.9 1199.1h1M1250.5 1203.0h1M1265.1 1204.4h1M1249.8 1205.4h1M1242.7 1199.7h1M1263.2 1212.5h1M1265.9 1214.4h1M1271.0 1209.1h1M1254.5 1185.6h1M1232.2 1206.8h1M1284.8 1190.2h1M1257.3 1207.5h1M1256.0 1198.6h1M1265.8 1202.4h1M1251.9 1196.0h1M1280.4 1185.1h1M1249.7 1202.8h1M1261.1 1203.2h1M1286.5 1203.6h1M1261.9 1201.2h1M1274.4 1194.3h1M1260.9 1190.0h1M1267.0 1197.4h1M1244.0 1208.9h1M1292.1 1192.3h1M1255.5 1214.6h1M1267.3 1199.9h1M1284.7 1200.5h1M1286.9 1183.3h1M1277.2 1143.1h1M1287.9 1134.5h1M1289.3 1132.9h1M1274.8 1142.2h1M1289.8 1144.8h1M1271.7 1146.6h1M1290.4 1141.9h1M1285.2 1139.4h1M1318.2 1149.7h1M1290.4 1151.8h1M1269.1 1140.8h1M1279.5 1146.6h1M1278.7 1137.2h1M1257.6 1137.7h1M1302.0 1144.9h1M1261.1 1158.1h1M1276.1 1140.6h1M1282.1 1143.6h1M1278.2 1143.4h1M1299.4 1148.1h1M1272.8 1142.9h1M1271.3 1141.2h1M1283.1 1141.0h1M1295.1 1135.7h1M1292.4 1147.5h1M1279.2 1141.2h1M1295.6 1139.5h1M1279.2 1145.0h1M1241.4 1151.7h1M1289.7 1146.6h1M1260.2 1142.3h1M1293.2 1146.2h1M1274.2 1140.8h1M1312.4 1142.5h1M1306.2 1131.8h1M1292.3 1138.5h1M1276.8 1152.6h1M1265.7 1138.1h1M1272.5 1142.4h1M1285.8 1145.9h1M1307.4 1144.3h1M1317.1 1147.6h1M1294.7 1141.1h1M1309.3 1138.8h1M1302.6 1141.7h1M1275.5 1148.5h1M1297.4 1144.1h1M1304.5 1142.1h1M1272.1 1144.7h1M1317.6 1133.4h1M1252.7 1145.9h1M1267.7 1153.9h1M1287.3 1136.3h1M1283.4 1136.6h1M1294.2 1148.7h1M1307.2 1148.4h1M1285.5 1151.2h1M1293.0 1133.5h1M1308.7 1134.8h1M1273.7 1133.2h1M1269.1 1129.7h1M1262.7 1139.2h1M1263.7 1142.2h1M1298.9 1139.6h1M1293.4 1150.0h1M1275.2 1154.2h1M1284.2 1142.7h1M1292.2 1151.8h1M1264.0 1151.3h1M1276.5 1144.4h1M1265.6 1127.1h1M1306.3 1146.4h1M1265.8 1138.4h1M1263.7 1144.6h1M1321.2 1138.9h1M1255.3 1150.7h1M1268.0 1133.4h1M1291.9 1142.4h1M1288.5 1147.7h1M1300.8 1127.1h1M1288.8 1150.7h1M1306.4 1133.9h1M1251.9 1138.2h1M1291.8 1141.0h1M1299.4 1140.5h1M1261.8 1137.3h1M1281.3 1149.1h1M1310.7 1133.8h1M1292.8 1141.9h1M1263.7 1136.6h1M1312.5 1137.5h1M1283.7 1146.3h1M1291.9 1147.2h1M1270.5 1141.6h1M1289.8 1145.0h1M1271.0 1132.4h1M1300.9 1147.5h1M1301.8 1140.7h1M1252.8 1143.0h1M1321.2 1141.9h1M1288.5 1131.4h1M1274.1 1150.8h1M1290.9 1141.6h1M1307.7 1146.0h1M1294.6 1141.0h1M1293.1 1149.5h1M1289.8 1133.8h1M1281.7 1141.4h1M1293.2 1151.1h1M1283.5 1140.1h1M1263.9 1156.6h1M1251.8 1156.4h1M1259.5 1154.8h1M1245.9 1122.5h1M1246.1 1126.6h1M1265.7 1163.9h1M1247.8 1170.4h1M1249.0 1138.8h1M1275.2 1132.1h1M1263.6 1161.4h1M1266.8 1159.2h1M1260.0 1171.4h1M1257.4 1151.4h1M1261.2 1145.3h1M1256.9 1166.9h1M1270.9 1158.5h1M1257.2 1143.2h1M1255.0 1144.9h1M1254.5 1148.8h1M1256.3 1165.0h1M1246.8 1144.4h1M1264.5 1144.4h1M1254.8 1157.8h1M1257.4 1136.6h1M1259.2 1158.9h1M1244.6 1162.7h1M1244.4 1159.7h1M1247.6 1153.3h1M1257.7 1164.4h1M1257.5 1144.2h1M1252.1 1153.0h1M1256.2 1162.3h1M1261.4 1167.4h1M1263.7 1152.6h1M1257.6 1158.8h1M1264.2 1131.6h1M1261.3 1145.2h1M1260.6 1161.2h1M1242.9 1148.6h1M1266.0 1126.1h1M1259.9 1150.4h1M1253.6 1162.7h1M1265.4 1150.5h1M1269.3 1170.5h1M1259.7 1161.9h1M1265.1 1174.2h1M1264.5 1159.8h1M1259.1 1160.3h1M1270.7 1149.2h1M1257.4 1136.9h1M1278.5 1144.9h1M1254.2 1142.4h1M1267.6 1155.3h1M1242.1 1152.4h1M1272.7 1149.7h1M1232.9 1253.2h1M1239.6 1239.2h1M1233.9 1253.2h1M1242.8 1251.7h1M1236.7 1242.7h1M1222.8 1255.9h1M1251.6 1245.7h1M1219.6 1267.0h1M1239.2 1263.3h1M1233.7 1257.8h1M1234.5 1255.4h1M1253.1 1251.4h1M1231.5 1255.5h1M1233.6 1272.2h1M1233.8 1259.3h1M1223.2 1260.8h1M1241.8 1261.9h1M1219.5 1249.2h1M1209.3 1272.0h1M1234.4 1271.6h1M1254.5 1265.6h1M1229.1 1253.3h1M1243.2 1236.0h1" stroke="#ff0c0c" stroke-width="1" stroke-opacity="0.62" fill="none"/>
<rect x="1171.4" y="1097.1" width="177.5" height="176.6" fill="none" stroke="#3a3a3a" stroke-width="1"/>
<line x1="1264.7" y1="1097.1" x2="1264.7" y2="1273.7" stroke-width="1.5" stroke="#111"/>
<line x1="1171.4" y1="1184.8" x2="1348.9" y2="1184.8" stroke-width="1.5" stroke="#111"/>
<line x1="1166.6" y1="1273.4" x2="1171.4" y2="1273.4" stroke-width="1.1" stroke="#222"/>
<text class="s" x="1165.2" y="1277.4" font-size="7" text-anchor="end" fill="#333" stroke="#333" style="stroke-width:0.15px">10<tspan dy="-3.6" font-size="5.46">2</tspan></text>
<line x1="1168.8" y1="1263.22" x2="1171.4" y2="1263.22" stroke-width="0.7" stroke="#333"/>
<line x1="1168.8" y1="1257.26" x2="1171.4" y2="1257.26" stroke-width="0.7" stroke="#333"/>
<line x1="1168.8" y1="1253.03" x2="1171.4" y2="1253.03" stroke-width="0.7" stroke="#333"/>
<line x1="1168.8" y1="1249.75" x2="1171.4" y2="1249.75" stroke-width="0.7" stroke="#333"/>
<line x1="1168.8" y1="1247.08" x2="1171.4" y2="1247.08" stroke-width="0.7" stroke="#333"/>
<line x1="1168.8" y1="1244.81" x2="1171.4" y2="1244.81" stroke-width="0.7" stroke="#333"/>
<line x1="1168.8" y1="1242.85" x2="1171.4" y2="1242.85" stroke-width="0.7" stroke="#333"/>
<line x1="1168.8" y1="1241.12" x2="1171.4" y2="1241.12" stroke-width="0.7" stroke="#333"/>
<line x1="1166.6" y1="1239.57" x2="1171.4" y2="1239.57" stroke-width="1.1" stroke="#222"/>
<text class="s" x="1165.2" y="1243.57" font-size="7" text-anchor="end" fill="#333" stroke="#333" style="stroke-width:0.15px">10<tspan dy="-3.6" font-size="5.46">3</tspan></text>
<line x1="1168.8" y1="1229.39" x2="1171.4" y2="1229.39" stroke-width="0.7" stroke="#333"/>
<line x1="1168.8" y1="1223.43" x2="1171.4" y2="1223.43" stroke-width="0.7" stroke="#333"/>
<line x1="1168.8" y1="1219.2" x2="1171.4" y2="1219.2" stroke-width="0.7" stroke="#333"/>
<line x1="1168.8" y1="1215.92" x2="1171.4" y2="1215.92" stroke-width="0.7" stroke="#333"/>
<line x1="1168.8" y1="1213.25" x2="1171.4" y2="1213.25" stroke-width="0.7" stroke="#333"/>
<line x1="1168.8" y1="1210.98" x2="1171.4" y2="1210.98" stroke-width="0.7" stroke="#333"/>
<line x1="1168.8" y1="1209.02" x2="1171.4" y2="1209.02" stroke-width="0.7" stroke="#333"/>
<line x1="1168.8" y1="1207.29" x2="1171.4" y2="1207.29" stroke-width="0.7" stroke="#333"/>
<line x1="1166.6" y1="1205.74" x2="1171.4" y2="1205.74" stroke-width="1.1" stroke="#222"/>
<text class="s" x="1165.2" y="1209.74" font-size="7" text-anchor="end" fill="#333" stroke="#333" style="stroke-width:0.15px">10<tspan dy="-3.6" font-size="5.46">4</tspan></text>
<line x1="1168.8" y1="1195.56" x2="1171.4" y2="1195.56" stroke-width="0.7" stroke="#333"/>
<line x1="1168.8" y1="1189.6" x2="1171.4" y2="1189.6" stroke-width="0.7" stroke="#333"/>
<line x1="1168.8" y1="1185.37" x2="1171.4" y2="1185.37" stroke-width="0.7" stroke="#333"/>
<line x1="1168.8" y1="1182.09" x2="1171.4" y2="1182.09" stroke-width="0.7" stroke="#333"/>
<line x1="1168.8" y1="1179.42" x2="1171.4" y2="1179.42" stroke-width="0.7" stroke="#333"/>
<line x1="1168.8" y1="1177.15" x2="1171.4" y2="1177.15" stroke-width="0.7" stroke="#333"/>
<line x1="1168.8" y1="1175.19" x2="1171.4" y2="1175.19" stroke-width="0.7" stroke="#333"/>
<line x1="1168.8" y1="1173.46" x2="1171.4" y2="1173.46" stroke-width="0.7" stroke="#333"/>
<line x1="1166.6" y1="1171.91" x2="1171.4" y2="1171.91" stroke-width="1.1" stroke="#222"/>
<text class="s" x="1165.2" y="1175.91" font-size="7" text-anchor="end" fill="#333" stroke="#333" style="stroke-width:0.15px">10<tspan dy="-3.6" font-size="5.46">5</tspan></text>
<line x1="1168.8" y1="1161.73" x2="1171.4" y2="1161.73" stroke-width="0.7" stroke="#333"/>
<line x1="1168.8" y1="1155.77" x2="1171.4" y2="1155.77" stroke-width="0.7" stroke="#333"/>
<line x1="1168.8" y1="1151.54" x2="1171.4" y2="1151.54" stroke-width="0.7" stroke="#333"/>
<line x1="1168.8" y1="1148.26" x2="1171.4" y2="1148.26" stroke-width="0.7" stroke="#333"/>
<line x1="1168.8" y1="1145.59" x2="1171.4" y2="1145.59" stroke-width="0.7" stroke="#333"/>
<line x1="1168.8" y1="1143.32" x2="1171.4" y2="1143.32" stroke-width="0.7" stroke="#333"/>
<line x1="1168.8" y1="1141.36" x2="1171.4" y2="1141.36" stroke-width="0.7" stroke="#333"/>
<line x1="1168.8" y1="1139.63" x2="1171.4" y2="1139.63" stroke-width="0.7" stroke="#333"/>
<line x1="1166.6" y1="1138.08" x2="1171.4" y2="1138.08" stroke-width="1.1" stroke="#222"/>
<text class="s" x="1165.2" y="1142.08" font-size="7" text-anchor="end" fill="#333" stroke="#333" style="stroke-width:0.15px">10<tspan dy="-3.6" font-size="5.46">6</tspan></text>
<line x1="1168.8" y1="1127.9" x2="1171.4" y2="1127.9" stroke-width="0.7" stroke="#333"/>
<line x1="1168.8" y1="1121.94" x2="1171.4" y2="1121.94" stroke-width="0.7" stroke="#333"/>
<line x1="1168.8" y1="1117.71" x2="1171.4" y2="1117.71" stroke-width="0.7" stroke="#333"/>
<line x1="1168.8" y1="1114.43" x2="1171.4" y2="1114.43" stroke-width="0.7" stroke="#333"/>
<line x1="1168.8" y1="1111.76" x2="1171.4" y2="1111.76" stroke-width="0.7" stroke="#333"/>
<line x1="1168.8" y1="1109.49" x2="1171.4" y2="1109.49" stroke-width="0.7" stroke="#333"/>
<line x1="1168.8" y1="1107.53" x2="1171.4" y2="1107.53" stroke-width="0.7" stroke="#333"/>
<line x1="1168.8" y1="1105.8" x2="1171.4" y2="1105.8" stroke-width="0.7" stroke="#333"/>
<line x1="1166.6" y1="1104.25" x2="1171.4" y2="1104.25" stroke-width="1.1" stroke="#222"/>
<text class="s" x="1165.2" y="1108.25" font-size="7" text-anchor="end" fill="#333" stroke="#333" style="stroke-width:0.15px">10<tspan dy="-3.6" font-size="5.46">7</tspan></text>
<line x1="1192" y1="1273.7" x2="1192" y2="1278.7" stroke-width="1.1" stroke="#222"/>
<text class="s" x="1194.2" y="1294.2" font-size="7" text-anchor="middle" fill="#333" stroke="#333" style="stroke-width:0.15px">10<tspan dy="-3.6" font-size="5.46">3</tspan></text>
<line x1="1204.58" y1="1273.7" x2="1204.58" y2="1276.3" stroke-width="0.7" stroke="#333"/>
<line x1="1211.94" y1="1273.7" x2="1211.94" y2="1276.3" stroke-width="0.7" stroke="#333"/>
<line x1="1217.17" y1="1273.7" x2="1217.17" y2="1276.3" stroke-width="0.7" stroke="#333"/>
<line x1="1221.22" y1="1273.7" x2="1221.22" y2="1276.3" stroke-width="0.7" stroke="#333"/>
<line x1="1224.53" y1="1273.7" x2="1224.53" y2="1276.3" stroke-width="0.7" stroke="#333"/>
<line x1="1227.33" y1="1273.7" x2="1227.33" y2="1276.3" stroke-width="0.7" stroke="#333"/>
<line x1="1229.75" y1="1273.7" x2="1229.75" y2="1276.3" stroke-width="0.7" stroke="#333"/>
<line x1="1231.89" y1="1273.7" x2="1231.89" y2="1276.3" stroke-width="0.7" stroke="#333"/>
<line x1="1233.8" y1="1273.7" x2="1233.8" y2="1278.7" stroke-width="1.1" stroke="#222"/>
<text class="s" x="1236" y="1294.2" font-size="7" text-anchor="middle" fill="#333" stroke="#333" style="stroke-width:0.15px">10<tspan dy="-3.6" font-size="5.46">4</tspan></text>
<line x1="1246.38" y1="1273.7" x2="1246.38" y2="1276.3" stroke-width="0.7" stroke="#333"/>
<line x1="1253.74" y1="1273.7" x2="1253.74" y2="1276.3" stroke-width="0.7" stroke="#333"/>
<line x1="1258.97" y1="1273.7" x2="1258.97" y2="1276.3" stroke-width="0.7" stroke="#333"/>
<line x1="1263.02" y1="1273.7" x2="1263.02" y2="1276.3" stroke-width="0.7" stroke="#333"/>
<line x1="1266.33" y1="1273.7" x2="1266.33" y2="1276.3" stroke-width="0.7" stroke="#333"/>
<line x1="1269.13" y1="1273.7" x2="1269.13" y2="1276.3" stroke-width="0.7" stroke="#333"/>
<line x1="1271.55" y1="1273.7" x2="1271.55" y2="1276.3" stroke-width="0.7" stroke="#333"/>
<line x1="1273.69" y1="1273.7" x2="1273.69" y2="1276.3" stroke-width="0.7" stroke="#333"/>
<line x1="1275.6" y1="1273.7" x2="1275.6" y2="1278.7" stroke-width="1.1" stroke="#222"/>
<text class="s" x="1277.8" y="1294.2" font-size="7" text-anchor="middle" fill="#333" stroke="#333" style="stroke-width:0.15px">10<tspan dy="-3.6" font-size="5.46">5</tspan></text>
<line x1="1288.18" y1="1273.7" x2="1288.18" y2="1276.3" stroke-width="0.7" stroke="#333"/>
<line x1="1295.54" y1="1273.7" x2="1295.54" y2="1276.3" stroke-width="0.7" stroke="#333"/>
<line x1="1300.77" y1="1273.7" x2="1300.77" y2="1276.3" stroke-width="0.7" stroke="#333"/>
<line x1="1304.82" y1="1273.7" x2="1304.82" y2="1276.3" stroke-width="0.7" stroke="#333"/>
<line x1="1308.13" y1="1273.7" x2="1308.13" y2="1276.3" stroke-width="0.7" stroke="#333"/>
<line x1="1310.93" y1="1273.7" x2="1310.93" y2="1276.3" stroke-width="0.7" stroke="#333"/>
<line x1="1313.35" y1="1273.7" x2="1313.35" y2="1276.3" stroke-width="0.7" stroke="#333"/>
<line x1="1315.49" y1="1273.7" x2="1315.49" y2="1276.3" stroke-width="0.7" stroke="#333"/>
<line x1="1317.4" y1="1273.7" x2="1317.4" y2="1278.7" stroke-width="1.1" stroke="#222"/>
<text class="s" x="1319.6" y="1294.2" font-size="7" text-anchor="middle" fill="#333" stroke="#333" style="stroke-width:0.15px">10<tspan dy="-3.6" font-size="5.46">6</tspan></text>
<line x1="1329.98" y1="1273.7" x2="1329.98" y2="1276.3" stroke-width="0.7" stroke="#333"/>
<line x1="1337.34" y1="1273.7" x2="1337.34" y2="1276.3" stroke-width="0.7" stroke="#333"/>
<line x1="1342.57" y1="1273.7" x2="1342.57" y2="1276.3" stroke-width="0.7" stroke="#333"/>
<line x1="1346.62" y1="1273.7" x2="1346.62" y2="1276.3" stroke-width="0.7" stroke="#333"/>
<line x1="1175.37" y1="1273.7" x2="1175.37" y2="1276.3" stroke-width="0.7" stroke="#333"/>
<line x1="1179.42" y1="1273.7" x2="1179.42" y2="1276.3" stroke-width="0.7" stroke="#333"/>
<line x1="1182.73" y1="1273.7" x2="1182.73" y2="1276.3" stroke-width="0.7" stroke="#333"/>
<line x1="1185.53" y1="1273.7" x2="1185.53" y2="1276.3" stroke-width="0.7" stroke="#333"/>
<line x1="1187.95" y1="1273.7" x2="1187.95" y2="1276.3" stroke-width="0.7" stroke="#333"/>
<line x1="1190.09" y1="1273.7" x2="1190.09" y2="1276.3" stroke-width="0.7" stroke="#333"/>
<text class="s" x="1174.9" y="1112.8" font-size="8.3" fill="#4a4a4a" stroke="#4a4a4a"  style="stroke-width:0.15px">Q1</text>
<text class="s" x="1174.9" y="1125.5" font-size="8.3" fill="#4a4a4a" stroke="#4a4a4a"  style="stroke-width:0.15px">1.12</text>
<text class="s" x="1333.6" y="1112.8" font-size="8.3" text-anchor="end" fill="#4a4a4a" stroke="#4a4a4a"  style="stroke-width:0.15px">Q2</text>
<text class="s" x="1333.6" y="1125.5" font-size="8.3" text-anchor="end" fill="#4a4a4a" stroke="#4a4a4a"  style="stroke-width:0.15px">1.53</text>
<text class="s" x="1174.9" y="1252.3" font-size="8.3" fill="#4a4a4a" stroke="#4a4a4a"  style="stroke-width:0.15px">Q4</text>
<text class="s" x="1174.9" y="1264.4" font-size="8.3" fill="#4a4a4a" stroke="#4a4a4a"  style="stroke-width:0.15px">93.8</text>
<text class="s" x="1333.6" y="1252.3" font-size="8.3" text-anchor="end" fill="#4a4a4a" stroke="#4a4a4a"  style="stroke-width:0.15px">Q3</text>
<text class="s" x="1333.6" y="1264.4" font-size="8.3" text-anchor="end" fill="#4a4a4a" stroke="#4a4a4a"  style="stroke-width:0.15px">3.52</text>
<text class="s" x="1150.2" y="1177" font-size="12.1" text-anchor="middle" transform="rotate(-90 1150.2 1177)" style="stroke-width:0.65px">Propidium Iodide</text>
<text class="s" x="1263" y="1304.9" font-size="12.1" text-anchor="middle" style="stroke-width:0.65px">Annexin V FITC</text>
<ellipse cx="1481" cy="1212.5" rx="30" ry="13.5" transform="rotate(-33 1481 1212.5)" fill="url(#rg)" fill-opacity="0.97"/>
<path d="M1467.6 1222.5h1M1477.1 1212.4h1M1490.5 1206.7h1M1482.9 1221.2h1M1473.1 1210.7h1M1466.4 1219.1h1M1489.5 1211.7h1M1496.6 1212.5h1M1499.3 1204.3h1M1495.8 1206.6h1M1478.1 1219.2h1M1481.6 1211.2h1M1502.9 1202.8h1M1476.7 1215.1h1M1503.8 1196.6h1M1490.4 1210.1h1M1488.1 1211.4h1M1475.8 1213.6h1M1479.2 1212.0h1M1493.5 1213.3h1M1474.4 1220.1h1M1470.3 1215.9h1M1479.6 1214.3h1M1470.8 1204.9h1M1494.5 1202.5h1M1477.2 1219.1h1M1472.2 1210.6h1M1487.5 1210.9h1M1475.7 1220.9h1M1482.4 1205.6h1M1499.5 1202.3h1M1471.7 1221.3h1M1485.4 1215.4h1M1471.1 1225.0h1M1492.6 1209.1h1M1491.0 1213.6h1M1489.0 1208.3h1M1476.3 1222.0h1M1492.0 1207.3h1M1485.0 1214.2h1M1457.9 1229.6h1M1457.8 1229.2h1M1496.8 1213.1h1M1478.1 1217.1h1M1475.3 1204.1h1M1488.7 1207.7h1M1479.9 1208.3h1M1481.4 1213.0h1M1494.8 1205.4h1M1514.7 1188.6h1M1478.9 1213.9h1M1477.5 1223.4h1M1484.7 1203.3h1M1485.6 1216.2h1M1468.1 1222.0h1M1485.2 1223.0h1M1484.6 1208.2h1M1480.9 1223.3h1M1482.8 1224.3h1M1465.8 1221.6h1M1477.5 1211.2h1M1481.3 1216.4h1M1471.4 1211.0h1M1498.5 1209.6h1M1475.6 1218.0h1M1459.1 1232.8h1M1467.2 1218.7h1M1499.5 1193.7h1M1479.1 1208.1h1M1460.5 1219.6h1M1480.9 1205.6h1M1477.6 1219.0h1M1476.7 1208.3h1M1496.5 1203.4h1M1492.6 1199.4h1M1494.6 1196.4h1M1463.4 1221.8h1M1478.6 1215.8h1M1477.7 1218.4h1M1493.0 1201.4h1M1467.1 1219.5h1M1491.6 1210.4h1M1475.7 1210.7h1M1483.8 1216.3h1M1477.9 1222.0h1M1484.5 1212.1h1M1478.9 1221.7h1M1478.2 1206.3h1M1488.5 1205.6h1M1492.5 1206.2h1M1475.9 1217.0h1M1474.6 1212.3h1M1483.9 1215.5h1M1482.0 1211.6h1M1477.6 1218.1h1M1486.6 1214.4h1M1490.5 1218.4h1M1466.0 1222.2h1M1489.0 1212.5h1M1463.5 1217.3h1M1483.8 1216.8h1M1488.4 1199.5h1M1485.8 1216.1h1M1479.2 1208.2h1M1471.1 1211.7h1M1492.5 1203.8h1M1475.1 1211.7h1M1477.9 1209.7h1M1471.9 1218.4h1M1480.4 1215.6h1M1485.9 1216.1h1M1481.7 1213.7h1M1481.7 1207.8h1M1491.7 1202.7h1M1469.2 1227.3h1M1486.5 1206.1h1M1493.3 1210.1h1M1485.4 1203.4h1M1480.6 1207.2h1M1474.1 1214.1h1M1474.5 1219.7h1M1475.4 1219.8h1M1481.6 1209.0h1M1484.9 1214.0h1M1492.0 1204.2h1M1499.9 1203.6h1M1490.2 1199.3h1M1474.2 1223.8h1M1480.5 1215.6h1M1489.5 1199.2h1M1490.8 1217.1h1M1489.5 1207.7h1M1487.0 1208.9h1M1492.3 1212.6h1M1480.8 1216.1h1M1486.3 1213.4h1M1486.9 1202.9h1M1495.0 1208.4h1M1470.1 1218.2h1M1466.6 1220.5h1M1481.8 1205.8h1M1471.8 1213.9h1M1472.8 1213.8h1M1472.5 1221.4h1M1477.3 1210.6h1M1489.7 1204.0h1M1487.1 1201.9h1M1494.0 1201.8h1M1473.3 1220.0h1M1465.8 1216.6h1M1482.6 1209.0h1M1485.7 1210.4h1M1484.3 1211.3h1M1488.4 1207.9h1M1494.6 1209.1h1M1458.0 1218.0h1M1495.5 1200.9h1M1483.0 1210.8h1M1489.7 1219.2h1M1474.8 1217.1h1M1478.8 1208.2h1M1472.3 1216.9h1M1482.3 1214.0h1M1458.5 1218.7h1M1497.0 1201.3h1M1488.4 1205.6h1M1479.9 1225.1h1M1467.2 1216.7h1M1488.1 1208.2h1M1465.9 1223.3h1M1484.7 1201.9h1M1478.0 1219.0h1M1494.1 1191.4h1M1474.8 1216.8h1M1470.3 1214.6h1M1477.9 1217.6h1M1473.3 1222.5h1M1491.6 1210.5h1M1495.0 1200.7h1M1483.5 1216.6h1M1496.1 1208.1h1M1475.8 1213.4h1M1467.6 1219.0h1M1471.5 1216.1h1M1479.9 1218.0h1M1489.6 1206.8h1M1470.3 1219.4h1M1487.8 1213.0h1M1485.5 1214.2h1M1476.7 1219.1h1M1487.7 1206.4h1M1477.2 1221.9h1M1473.5 1221.3h1M1478.0 1212.8h1M1477.9 1212.3h1M1485.5 1219.5h1M1495.2 1202.8h1M1488.3 1213.0h1M1481.9 1222.2h1M1483.3 1214.6h1M1469.4 1214.1h1M1470.2 1216.2h1M1490.6 1204.7h1M1488.9 1205.3h1M1472.6 1219.1h1M1473.4 1208.5h1M1484.9 1216.7h1M1476.4 1209.1h1M1471.1 1212.5h1M1476.7 1210.3h1M1480.8 1213.8h1M1491.3 1199.6h1M1465.7 1231.6h1M1484.7 1208.3h1M1484.0 1205.7h1M1479.8 1217.2h1M1478.7 1214.9h1M1486.0 1210.1h1M1480.4 1215.9h1M1497.4 1209.0h1M1474.8 1220.9h1M1459.5 1218.9h1M1486.6 1212.0h1M1490.3 1197.2h1M1490.5 1203.5h1M1478.0 1217.1h1M1492.6 1200.0h1M1463.4 1220.8h1M1483.3 1217.8h1M1484.2 1209.0h1M1475.4 1213.8h1M1486.6 1199.9h1M1472.5 1213.4h1M1492.5 1205.9h1M1476.8 1219.5h1M1502.8 1204.1h1M1468.3 1219.8h1M1487.8 1198.3h1M1468.5 1218.5h1M1484.4 1206.0h1M1482.4 1210.9h1M1481.4 1205.8h1M1454.6 1218.0h1M1485.4 1215.2h1M1482.0 1203.2h1M1463.8 1222.2h1M1467.9 1211.1h1M1473.7 1213.0h1M1481.1 1214.6h1M1483.5 1212.0h1M1486.0 1208.8h1M1476.1 1213.9h1M1492.0 1203.9h1M1493.2 1213.8h1M1492.7 1193.3h1M1485.1 1215.3h1M1475.1 1212.6h1M1465.8 1218.8h1M1476.5 1205.2h1M1479.0 1209.3h1M1478.7 1208.2h1M1482.4 1212.6h1M1472.8 1214.2h1M1491.9 1209.0h1M1474.8 1219.0h1M1468.8 1217.7h1M1451.6 1228.6h1M1486.5 1206.3h1M1485.3 1206.3h1M1483.7 1210.0h1M1477.0 1226.7h1M1469.7 1212.6h1M1483.6 1213.5h1M1484.2 1209.9h1M1488.0 1213.2h1M1483.7 1203.2h1M1497.7 1201.5h1M1463.5 1228.5h1M1480.5 1214.5h1M1499.0 1198.0h1M1472.7 1212.6h1M1484.6 1213.8h1M1485.4 1210.7h1M1461.3 1226.8h1M1490.3 1203.7h1M1473.5 1211.9h1M1479.6 1204.9h1M1499.1 1199.7h1M1472.4 1211.5h1M1488.8 1212.8h1M1476.2 1216.7h1M1486.4 1214.4h1M1490.2 1213.4h1M1474.1 1231.4h1M1473.6 1211.3h1M1473.2 1219.8h1M1494.7 1217.0h1M1491.1 1201.8h1M1476.7 1212.8h1M1475.0 1215.6h1M1478.2 1220.8h1M1486.0 1212.8h1M1476.8 1209.0h1M1484.4 1208.2h1M1503.5 1204.7h1M1467.1 1216.2h1M1475.4 1215.1h1M1491.8 1204.6h1M1484.8 1208.4h1M1482.2 1218.6h1M1486.3 1220.0h1M1481.8 1214.2h1M1486.7 1212.5h1M1498.1 1197.8h1M1473.8 1212.1h1M1499.8 1203.0h1M1486.7 1211.4h1M1465.3 1227.0h1M1483.2 1212.8h1M1481.9 1211.6h1M1479.1 1210.7h1M1480.6 1216.3h1M1462.9 1228.9h1M1484.8 1204.3h1M1486.9 1210.4h1M1480.5 1222.2h1M1482.6 1210.8h1M1474.1 1229.0h1M1484.1 1212.3h1M1484.2 1221.9h1M1483.7 1219.5h1M1493.9 1209.6h1M1490.3 1212.9h1M1474.9 1205.2h1M1458.1 1233.6h1M1464.8 1230.5h1M1506.3 1185.8h1M1488.3 1210.5h1M1469.4 1209.3h1M1484.6 1219.5h1M1480.2 1213.1h1M1482.2 1212.1h1M1489.8 1219.4h1M1468.2 1210.9h1M1488.1 1205.2h1M1472.9 1210.2h1M1478.5 1211.9h1M1484.4 1208.2h1M1468.4 1223.5h1M1475.7 1205.7h1M1479.9 1217.5h1M1479.8 1211.6h1M1485.3 1206.3h1M1475.8 1218.8h1M1478.1 1211.1h1M1484.1 1212.0h1M1492.7 1210.5h1M1482.0 1211.8h1M1472.8 1219.1h1M1479.9 1217.9h1M1490.5 1209.9h1M1481.5 1214.1h1M1500.0 1209.6h1M1468.5 1205.2h1M1483.4 1202.7h1M1482.9 1213.9h1M1495.2 1202.5h1M1478.7 1211.0h1M1481.1 1205.9h1M1487.5 1210.2h1M1493.5 1202.8h1M1484.9 1211.2h1M1478.7 1208.9h1M1476.0 1216.2h1M1488.6 1213.4h1M1476.2 1217.2h1M1489.3 1211.9h1M1484.2 1211.7h1M1478.1 1214.7h1M1475.1 1207.0h1M1468.5 1207.6h1M1488.4 1212.7h1M1478.3 1215.4h1M1482.2 1210.5h1M1495.0 1202.5h1M1484.3 1210.2h1M1496.5 1193.7h1M1480.0 1206.0h1M1472.1 1213.2h1M1486.0 1203.5h1M1470.9 1217.4h1M1469.7 1214.6h1M1494.9 1200.0h1M1477.1 1222.7h1M1485.0 1216.2h1M1465.0 1221.4h1M1486.5 1210.3h1M1489.7 1213.8h1M1489.7 1213.0h1M1486.7 1204.9h1M1486.5 1216.2h1M1473.6 1220.4h1M1490.8 1213.6h1M1471.3 1232.0h1M1466.5 1222.1h1M1502.4 1191.4h1M1503.7 1199.5h1M1503.4 1206.0h1M1480.9 1208.5h1M1475.2 1209.4h1M1469.1 1222.5h1M1468.4 1222.8h1M1480.4 1212.3h1M1468.3 1214.1h1M1486.7 1203.8h1M1475.4 1215.3h1M1492.9 1215.8h1M1502.2 1203.2h1M1489.5 1210.8h1M1478.9 1212.9h1M1466.2 1225.3h1M1477.6 1217.0h1M1505.1 1201.8h1M1494.6 1208.6h1M1474.4 1213.4h1M1465.9 1219.3h1M1484.7 1214.1h1M1486.1 1207.5h1M1470.6 1219.7h1M1479.4 1202.9h1M1478.7 1206.3h1M1476.6 1214.7h1M1470.6 1216.6h1M1478.9 1208.5h1M1489.5 1210.7h1M1484.0 1205.0h1M1478.6 1212.4h1M1484.3 1214.6h1M1476.3 1215.8h1M1488.4 1206.0h1M1488.2 1207.9h1M1467.6 1221.1h1M1481.6 1209.9h1M1498.7 1199.0h1M1466.8 1221.0h1M1480.4 1215.8h1M1506.0 1197.2h1M1487.4 1204.6h1M1470.5 1215.6h1M1478.3 1211.9h1M1479.6 1210.0h1M1467.8 1216.9h1M1485.9 1203.2h1M1492.9 1213.9h1M1474.6 1221.7h1M1482.7 1197.0h1M1491.1 1209.6h1M1478.1 1224.1h1M1467.3 1228.6h1M1481.2 1206.9h1M1478.4 1205.9h1M1488.4 1210.8h1M1496.6 1210.2h1M1475.8 1218.7h1M1468.0 1205.2h1M1493.3 1211.0h1M1487.7 1217.8h1M1476.3 1206.2h1M1476.1 1214.3h1M1482.8 1209.2h1M1456.6 1221.7h1M1482.6 1217.7h1M1471.5 1211.6h1M1478.9 1219.0h1M1490.7 1200.9h1M1491.1 1213.3h1M1486.1 1203.2h1M1485.8 1206.8h1M1481.1 1223.1h1M1482.1 1214.6h1M1497.1 1211.2h1M1482.3 1208.4h1M1479.0 1210.2h1M1479.7 1212.8h1M1464.8 1218.8h1M1467.3 1221.1h1M1490.8 1210.3h1M1480.6 1207.6h1M1477.1 1207.6h1M1482.8 1202.9h1M1479.3 1223.1h1M1482.7 1206.1h1M1476.5 1209.9h1M1472.4 1215.9h1M1473.5 1218.5h1M1489.3 1202.4h1M1470.1 1215.2h1M1475.5 1216.8h1M1472.5 1213.3h1M1477.1 1220.5h1M1493.2 1210.4h1M1480.5 1207.7h1M1500.0 1212.4h1M1473.3 1214.2h1M1493.4 1208.3h1M1490.2 1218.0h1M1477.4 1210.5h1M1478.2 1215.6h1M1486.1 1216.1h1M1486.8 1204.9h1M1487.8 1207.1h1M1498.6 1207.4h1M1476.8 1218.3h1M1469.7 1222.4h1M1483.0 1213.7h1M1467.3 1216.8h1M1475.2 1215.1h1M1485.5 1205.1h1M1460.3 1223.0h1M1490.7 1211.0h1M1470.4 1223.0h1M1483.9 1214.6h1M1485.9 1216.2h1M1479.6 1225.4h1M1488.8 1201.0h1M1468.6 1226.2h1M1464.0 1219.3h1M1485.4 1208.9h1M1477.1 1203.2h1M1475.0 1219.2h1M1502.2 1201.1h1M1481.7 1212.8h1M1492.4 1208.6h1M1467.4 1210.4h1M1477.7 1212.5h1M1496.5 1197.7h1M1483.2 1200.0h1M1485.2 1202.6h1M1480.7 1211.5h1M1481.9 1211.9h1M1471.3 1222.0h1M1472.1 1218.0h1M1472.5 1217.8h1M1479.2 1212.5h1M1476.2 1222.2h1M1479.3 1213.9h1M1461.1 1228.6h1M1465.0 1221.7h1M1465.7 1232.8h1M1462.9 1222.7h1M1465.3 1215.5h1M1467.3 1229.3h1M1501.2 1198.5h1M1487.4 1205.5h1M1474.7 1226.4h1M1483.9 1204.1h1M1479.5 1213.2h1M1477.6 1214.0h1M1473.9 1216.4h1M1475.7 1214.0h1M1477.1 1223.4h1M1475.8 1214.5h1M1483.0 1211.1h1M1470.0 1224.1h1M1467.0 1217.7h1M1483.9 1209.2h1M1473.6 1217.1h1M1470.6 1215.7h1M1465.8 1215.2h1M1470.9 1219.0h1M1475.0 1215.3h1M1487.9 1205.2h1M1462.6 1224.6h1M1490.1 1190.2h1M1474.9 1209.9h1M1467.7 1225.2h1M1479.7 1212.8h1M1466.3 1218.9h1M1473.2 1225.6h1M1474.7 1205.2h1M1480.8 1220.4h1M1472.0 1216.5h1M1480.8 1214.9h1M1483.3 1207.3h1M1478.4 1217.7h1M1469.4 1217.8h1M1482.9 1209.6h1M1474.9 1225.2h1M1481.1 1210.5h1M1454.9 1235.1h1M1489.1 1206.6h1M1478.4 1209.3h1M1502.0 1203.5h1M1507.7 1207.2h1M1464.5 1226.5h1M1461.3 1227.0h1M1479.3 1210.2h1M1487.1 1209.1h1M1476.6 1213.7h1M1490.6 1208.7h1M1489.5 1208.5h1M1475.0 1213.5h1M1481.0 1208.4h1M1476.4 1219.7h1M1482.1 1210.4h1M1481.6 1209.9h1M1492.5 1203.8h1M1478.0 1207.9h1M1470.6 1211.9h1M1486.2 1212.0h1M1485.8 1207.3h1M1482.0 1213.7h1M1472.8 1208.4h1M1500.8 1202.2h1M1491.4 1210.0h1M1473.5 1217.0h1M1478.6 1219.8h1M1480.7 1208.6h1M1490.7 1221.1h1M1481.7 1214.6h1M1498.6 1195.8h1M1486.6 1215.4h1M1485.4 1206.2h1M1480.7 1213.1h1M1492.5 1210.4h1M1461.9 1225.1h1M1474.4 1218.2h1M1477.7 1216.5h1M1466.8 1222.8h1M1489.2 1213.9h1M1495.8 1202.7h1M1478.6 1221.3h1M1485.3 1211.4h1M1482.8 1203.3h1M1469.9 1214.7h1M1474.0 1225.5h1M1462.6 1223.5h1M1477.9 1209.6h1M1482.4 1206.9h1M1464.0 1216.5h1M1492.8 1202.6h1M1484.2 1213.5h1M1483.1 1207.0h1M1491.3 1211.5h1M1469.3 1224.6h1M1488.6 1213.5h1M1486.3 1208.1h1M1475.2 1219.8h1M1485.7 1211.7h1M1479.1 1220.1h1M1492.6 1210.9h1M1476.8 1218.5h1M1487.1 1201.3h1M1474.6 1218.1h1M1466.9 1221.2h1M1478.2 1206.2h1M1486.7 1208.8h1M1493.0 1204.5h1M1476.2 1215.4h1M1480.5 1202.8h1M1480.0 1217.2h1M1489.3 1209.2h1M1470.3 1219.0h1M1485.4 1209.8h1M1487.3 1218.7h1M1498.6 1198.7h1M1472.0 1218.6h1M1491.3 1200.2h1M1468.8 1213.6h1M1490.7 1203.6h1M1484.5 1219.1h1M1486.5 1207.3h1M1471.6 1224.8h1M1481.2 1210.7h1M1481.8 1208.2h1M1483.7 1212.0h1M1471.4 1220.2h1M1490.6 1214.2h1M1495.0 1215.0h1M1489.7 1206.8h1M1484.8 1210.3h1M1471.7 1217.4h1M1480.2 1207.5h1M1482.2 1215.0h1M1497.2 1201.5h1M1476.5 1211.9h1M1467.3 1224.6h1M1474.7 1213.1h1M1474.3 1224.9h1M1495.3 1205.8h1M1474.9 1210.1h1M1458.4 1223.1h1M1477.5 1223.0h1M1474.3 1208.0h1M1496.1 1206.1h1M1478.3 1216.3h1M1486.3 1206.7h1M1473.4 1218.5h1M1488.4 1210.6h1M1468.2 1215.7h1M1479.5 1210.3h1M1483.0 1221.5h1M1464.8 1221.7h1M1471.8 1219.8h1M1500.1 1202.3h1M1491.4 1200.9h1M1487.3 1216.0h1M1475.8 1211.8h1M1470.2 1227.6h1M1483.4 1218.5h1M1483.1 1211.5h1M1489.5 1208.2h1M1491.0 1202.9h1M1475.7 1216.2h1M1475.8 1214.9h1M1489.9 1208.8h1M1484.6 1219.7h1M1466.9 1218.6h1M1481.7 1217.4h1M1488.3 1210.7h1M1495.2 1202.9h1M1477.0 1221.7h1M1493.5 1199.1h1M1475.2 1215.8h1M1484.8 1210.7h1M1484.3 1201.8h1M1472.4 1209.7h1M1491.6 1211.2h1M1483.5 1211.0h1M1479.9 1212.7h1M1474.5 1219.4h1M1485.4 1205.9h1M1488.7 1215.5h1M1502.0 1211.5h1M1503.6 1189.9h1M1475.4 1213.8h1M1489.4 1215.3h1M1468.5 1223.8h1M1487.3 1215.3h1M1484.2 1206.8h1M1482.5 1208.9h1M1478.9 1212.5h1M1482.1 1213.9h1M1487.8 1214.5h1M1483.4 1201.6h1M1486.2 1207.0h1M1489.4 1204.8h1M1469.8 1212.2h1M1481.9 1216.3h1M1473.8 1219.1h1M1473.4 1206.5h1M1478.7 1212.5h1M1481.8 1203.0h1M1487.0 1208.2h1M1488.8 1205.2h1M1474.3 1215.6h1M1483.5 1216.6h1M1473.4 1215.8h1M1470.5 1217.4h1M1487.2 1216.2h1M1480.5 1214.2h1M1484.2 1216.2h1M1477.7 1213.3h1M1483.3 1209.5h1M1483.0 1210.8h1M1480.0 1217.8h1M1478.1 1212.3h1M1490.3 1216.3h1M1483.4 1210.0h1M1489.5 1209.9h1M1474.5 1223.0h1M1492.5 1202.2h1M1479.2 1217.1h1M1484.7 1210.9h1M1489.8 1198.5h1M1477.6 1217.5h1M1484.2 1207.4h1M1467.2 1227.9h1M1490.3 1207.3h1M1486.9 1214.3h1M1500.8 1194.1h1M1476.5 1204.8h1M1472.6 1224.3h1M1473.0 1205.9h1M1472.3 1226.2h1M1488.8 1214.2h1M1494.7 1200.7h1M1479.7 1209.9h1M1474.7 1221.6h1M1481.7 1208.3h1M1464.5 1220.9h1M1476.4 1211.6h1M1489.8 1209.8h1M1488.3 1214.3h1M1477.9 1214.2h1M1498.5 1196.4h1M1485.5 1213.7h1M1483.2 1210.7h1M1487.9 1212.4h1M1482.1 1210.2h1M1454.1 1227.8h1M1466.0 1214.7h1M1460.7 1212.3h1M1469.9 1221.8h1M1455.6 1215.0h1M1505.0 1207.4h1M1475.2 1220.7h1M1480.9 1217.5h1M1485.1 1198.0h1M1456.7 1238.4h1M1485.0 1201.0h1M1504.2 1201.7h1M1491.4 1222.3h1M1510.6 1206.3h1M1485.4 1205.0h1M1482.9 1207.9h1M1499.9 1212.8h1M1488.3 1220.2h1M1469.9 1234.8h1M1476.6 1193.2h1M1486.9 1218.6h1M1485.4 1200.8h1M1500.2 1210.0h1M1490.9 1223.2h1M1475.9 1220.7h1M1471.4 1196.0h1M1491.3 1213.4h1M1472.5 1219.2h1M1497.3 1200.2h1M1493.1 1209.2h1M1488.3 1217.3h1M1449.8 1219.3h1M1470.0 1229.5h1M1498.3 1198.9h1M1465.7 1239.3h1M1469.9 1210.3h1M1483.2 1204.4h1M1493.6 1210.3h1M1475.4 1236.7h1M1483.9 1216.2h1M1510.0 1207.6h1M1442.7 1238.2h1M1480.0 1219.7h1M1500.9 1218.0h1M1451.1 1232.5h1M1497.6 1198.7h1M1513.6 1204.4h1M1492.8 1196.0h1M1452.9 1228.0h1M1480.8 1215.6h1M1497.7 1199.4h1M1473.6 1238.3h1M1493.1 1199.0h1M1459.0 1184.2h1M1462.5 1224.2h1M1488.9 1206.3h1M1475.5 1209.9h1M1477.6 1233.6h1M1518.8 1200.8h1M1463.2 1199.8h1M1488.5 1196.3h1M1477.5 1218.9h1M1500.9 1190.4h1M1480.3 1222.6h1M1494.9 1202.4h1M1490.8 1214.5h1M1465.3 1203.9h1M1487.1 1226.7h1M1458.3 1218.6h1M1504.1 1215.5h1M1489.5 1211.4h1M1447.7 1220.6h1M1461.0 1206.0h1M1490.5 1194.2h1M1513.3 1178.8h1M1484.2 1206.1h1M1483.4 1224.1h1M1463.3 1221.5h1M1495.0 1194.3h1M1517.1 1174.3h1M1495.8 1206.5h1M1489.1 1207.8h1M1477.0 1221.0h1M1468.1 1211.2h1M1500.0 1179.5h1M1489.3 1201.8h1M1436.7 1214.7h1M1469.5 1226.8h1M1502.3 1198.9h1M1502.8 1200.5h1M1486.0 1212.7h1M1495.3 1191.2h1M1458.5 1243.5h1M1484.6 1214.9h1M1501.4 1205.0h1M1488.5 1225.5h1M1498.7 1199.7h1M1483.7 1207.0h1M1476.6 1208.8h1M1489.3 1197.1h1M1475.8 1225.7h1M1493.4 1223.6h1M1473.5 1219.1h1M1484.2 1222.5h1M1483.3 1218.8h1M1455.5 1224.6h1M1506.5 1197.5h1M1493.7 1218.0h1M1482.8 1203.7h1M1483.8 1207.7h1M1482.0 1213.7h1M1502.3 1214.2h1M1502.4 1191.0h1M1493.2 1220.9h1M1470.4 1213.8h1M1515.2 1200.3h1M1493.2 1201.4h1M1510.1 1207.2h1M1485.3 1214.2h1M1492.5 1205.8h1M1491.2 1223.6h1M1470.4 1204.4h1M1508.6 1216.7h1M1477.3 1221.7h1M1481.2 1205.6h1M1472.8 1223.0h1M1456.9 1232.4h1M1539.9 1206.6h1M1450.8 1232.8h1M1468.8 1224.8h1M1475.6 1215.4h1M1487.0 1215.2h1M1491.2 1215.0h1M1509.2 1217.7h1M1494.9 1207.1h1M1504.3 1204.6h1M1492.8 1196.5h1M1466.5 1235.8h1M1456.7 1219.1h1M1476.1 1208.2h1M1496.0 1208.0h1M1497.0 1221.3h1M1483.7 1208.5h1M1461.5 1219.7h1M1472.2 1222.2h1M1510.2 1194.0h1M1476.0 1195.9h1M1506.8 1186.1h1M1479.2 1198.3h1M1496.6 1205.3h1M1476.0 1233.9h1M1508.9 1199.1h1M1476.6 1219.0h1M1475.8 1223.3h1M1472.6 1211.4h1M1492.5 1226.9h1M1465.5 1235.4h1M1495.9 1212.3h1M1490.9 1214.8h1M1449.5 1233.4h1M1449.3 1233.7h1M1480.6 1217.4h1M1485.2 1202.9h1M1483.1 1228.8h1M1501.6 1200.1h1M1470.1 1220.0h1M1497.7 1207.1h1M1493.0 1219.6h1M1493.3 1212.1h1M1482.6 1215.1h1M1481.7 1203.0h1M1467.1 1205.0h1M1472.1 1205.9h1M1495.9 1218.6h1M1478.9 1222.6h1M1489.0 1188.0h1M1493.3 1185.7h1M1452.3 1218.7h1M1450.3 1216.3h1M1488.5 1215.6h1M1498.2 1208.8h1M1501.9 1198.6h1M1484.3 1227.3h1M1479.0 1228.8h1M1470.7 1202.5h1M1465.3 1217.8h1M1487.0 1214.1h1M1496.9 1209.6h1M1491.6 1188.0h1M1498.5 1219.5h1M1475.2 1225.5h1M1495.1 1195.7h1M1444.6 1228.7h1M1483.0 1221.6h1M1494.8 1210.8h1M1478.8 1211.1h1M1472.7 1219.0h1M1476.7 1216.2h1M1467.2 1211.9h1M1486.8 1203.5h1M1500.0 1213.2h1M1478.3 1240.9h1M1454.7 1212.9h1M1457.6 1218.2h1M1488.1 1222.7h1M1495.0 1220.8h1M1451.8 1240.9h1M1456.1 1219.3h1M1527.5 1203.7h1M1479.7 1205.9h1M1464.9 1208.2h1M1478.5 1223.2h1M1490.6 1210.3h1M1478.3 1222.9h1M1501.8 1222.4h1M1491.4 1217.7h1M1498.1 1210.1h1M1493.0 1208.9h1M1489.9 1196.1h1M1463.8 1214.9h1M1472.6 1215.1h1M1503.5 1202.8h1M1483.3 1214.1h1M1489.9 1195.5h1M1478.3 1206.0h1M1500.0 1219.4h1M1491.1 1215.7h1M1501.9 1194.7h1M1479.1 1194.3h1M1489.7 1211.5h1M1492.8 1230.9h1M1486.6 1206.7h1M1476.4 1215.9h1M1454.7 1234.5h1M1471.6 1222.6h1M1500.8 1219.0h1M1478.1 1215.3h1M1485.8 1215.3h1M1474.3 1219.9h1M1476.4 1220.3h1M1508.1 1195.9h1M1508.3 1200.5h1M1509.6 1207.5h1M1454.0 1223.1h1M1460.1 1233.0h1M1470.7 1232.1h1M1483.7 1218.0h1M1456.6 1205.0h1M1471.0 1214.8h1M1488.1 1216.6h1M1468.8 1225.2h1M1480.4 1228.2h1M1472.9 1221.4h1M1505.1 1206.2h1M1501.2 1213.3h1M1497.5 1210.2h1M1478.3 1235.7h1M1509.7 1214.5h1M1480.5 1221.1h1M1449.5 1235.3h1M1471.6 1216.6h1M1490.4 1204.6h1M1482.8 1194.7h1M1515.6 1182.3h1M1461.3 1213.0h1M1486.6 1188.6h1M1477.8 1234.5h1M1459.0 1221.3h1M1472.3 1230.5h1M1472.8 1222.3h1M1470.7 1215.0h1M1455.7 1237.0h1M1478.0 1210.8h1M1488.2 1207.7h1M1484.0 1214.6h1M1487.0 1202.2h1M1497.0 1208.0h1M1469.5 1213.5h1M1497.5 1204.4h1M1457.5 1214.1h1M1510.0 1183.1h1M1469.5 1219.2h1M1474.3 1238.4h1M1463.1 1214.5h1M1481.2 1202.7h1M1469.2 1230.1h1M1505.6 1214.7h1M1478.8 1205.7h1M1470.6 1211.2h1M1484.9 1213.3h1M1479.9 1223.7h1M1486.0 1197.4h1M1502.2 1192.4h1M1484.0 1223.5h1M1487.5 1203.5h1M1490.1 1214.3h1M1454.6 1201.7h1M1497.7 1187.0h1M1489.8 1234.1h1M1477.4 1224.3h1M1475.9 1239.2h1M1476.8 1234.5h1M1491.4 1225.6h1M1495.7 1198.5h1M1461.7 1206.6h1M1491.6 1222.7h1M1482.0 1217.1h1M1502.7 1206.3h1M1498.4 1210.1h1M1468.5 1213.0h1M1479.2 1207.2h1M1477.0 1198.9h1M1492.2 1218.3h1M1505.4 1198.6h1M1506.4 1224.3h1M1505.0 1202.7h1M1471.1 1226.3h1M1483.7 1200.9h1M1461.6 1205.3h1M1492.4 1191.8h1M1516.0 1188.1h1M1474.9 1219.5h1M1490.6 1211.9h1M1466.7 1210.9h1M1472.9 1219.4h1M1474.1 1223.4h1M1501.3 1205.1h1M1490.6 1217.2h1M1469.2 1225.9h1M1496.1 1222.2h1M1501.0 1196.3h1M1506.8 1185.8h1M1508.3 1199.1h1M1494.2 1204.2h1M1472.8 1204.5h1M1499.8 1199.3h1M1490.5 1198.7h1M1502.3 1204.5h1M1478.7 1217.8h1M1481.6 1220.2h1M1503.1 1185.5h1M1445.6 1230.7h1M1467.5 1232.1h1M1451.8 1205.0h1M1473.9 1209.5h1M1452.3 1228.5h1M1480.8 1205.4h1M1498.7 1197.8h1M1485.9 1185.0h1M1483.9 1205.8h1M1475.6 1218.8h1M1485.9 1215.6h1M1484.6 1216.5h1M1461.9 1197.6h1M1466.2 1201.6h1M1465.0 1214.2h1M1478.6 1216.2h1M1479.3 1208.6h1M1489.0 1202.8h1M1461.6 1229.4h1M1467.5 1226.2h1M1510.8 1194.0h1M1501.0 1214.8h1M1476.8 1207.0h1M1501.3 1209.6h1M1472.8 1226.9h1M1476.4 1212.6h1M1450.4 1222.6h1M1481.9 1196.0h1M1492.3 1215.1h1M1473.5 1247.3h1M1489.0 1196.9h1M1493.1 1223.2h1M1513.0 1179.8h1M1489.8 1203.2h1M1505.8 1195.6h1M1482.0 1206.9h1M1508.8 1185.7h1M1464.7 1208.8h1M1466.8 1218.7h1M1484.0 1194.9h1M1469.1 1207.0h1M1483.5 1200.7h1M1477.3 1198.5h1M1493.6 1199.5h1M1491.6 1204.4h1M1462.5 1224.1h1M1501.9 1194.8h1M1480.6 1220.1h1M1466.9 1223.6h1M1478.5 1224.9h1M1459.2 1216.0h1M1489.6 1211.4h1M1474.9 1205.2h1M1483.1 1205.9h1M1493.1 1192.4h1M1447.3 1217.0h1M1498.5 1215.4h1M1490.6 1207.0h1M1490.5 1226.1h1M1489.7 1226.6h1M1489.7 1208.0h1M1469.1 1215.0h1M1474.2 1201.4h1M1477.1 1215.0h1M1476.9 1219.2h1M1471.2 1223.8h1M1489.3 1217.0h1M1492.1 1203.6h1M1483.5 1207.3h1M1467.6 1213.1h1M1475.9 1220.9h1M1473.1 1210.1h1M1473.0 1224.7h1M1470.7 1219.5h1M1503.3 1217.6h1M1456.4 1215.4h1M1476.1 1207.5h1M1499.2 1197.4h1M1504.1 1198.8h1M1480.7 1210.5h1M1471.1 1210.0h1M1495.2 1216.5h1M1469.9 1200.0h1M1495.6 1199.0h1M1506.1 1209.5h1M1468.1 1231.3h1M1463.0 1220.6h1M1459.0 1215.0h1M1499.0 1196.8h1M1471.7 1230.4h1M1495.8 1202.8h1M1488.2 1209.3h1M1488.0 1183.0h1M1474.5 1219.5h1M1485.4 1223.8h1M1475.5 1201.7h1M1493.4 1177.2h1M1480.0 1223.9h1M1526.8 1196.7h1M1493.9 1200.3h1M1505.1 1190.7h1M1476.2 1198.2h1M1468.7 1208.2h1M1486.8 1221.6h1M1478.1 1229.6h1M1492.6 1228.5h1M1478.4 1219.2h1M1440.2 1246.5h1M1468.9 1213.8h1M1487.7 1210.9h1M1513.1 1207.5h1M1459.7 1218.7h1M1499.1 1203.8h1M1490.6 1227.3h1M1475.0 1222.6h1M1486.4 1210.0h1M1506.2 1206.9h1M1490.2 1201.4h1M1481.5 1219.8h1M1461.5 1230.4h1M1480.3 1214.7h1M1480.3 1229.1h1M1482.3 1229.4h1M1497.2 1200.2h1M1485.3 1210.6h1M1483.3 1216.4h1M1482.6 1202.6h1M1482.7 1220.2h1M1481.2 1212.1h1M1477.9 1211.1h1M1499.1 1195.3h1M1477.8 1216.3h1M1498.8 1203.0h1M1471.5 1203.0h1M1469.0 1218.9h1M1476.5 1200.7h1M1478.6 1193.0h1M1488.4 1204.6h1M1463.1 1206.5h1M1466.0 1213.3h1M1475.2 1216.3h1M1462.1 1207.2h1M1488.5 1201.1h1M1492.3 1199.3h1M1486.6 1191.4h1M1464.8 1231.6h1M1448.3 1226.2h1M1491.0 1207.6h1M1512.5 1192.9h1M1505.4 1197.7h1M1508.1 1195.3h1M1500.8 1216.8h1M1510.9 1182.0h1M1448.6 1217.5h1M1483.3 1209.9h1M1504.0 1224.6h1M1495.8 1202.6h1M1511.0 1200.8h1M1442.3 1249.8h1M1484.0 1207.1h1M1462.2 1222.8h1M1517.8 1191.3h1M1470.2 1226.1h1M1466.3 1235.2h1M1491.3 1204.9h1M1487.8 1197.1h1M1477.1 1215.6h1M1494.9 1227.9h1M1486.2 1198.6h1M1476.4 1208.7h1M1481.6 1194.7h1M1494.6 1198.0h1M1502.8 1214.6h1M1491.3 1192.6h1M1465.6 1204.1h1M1474.4 1214.1h1M1499.4 1202.4h1M1485.1 1202.7h1M1466.2 1220.4h1M1466.8 1216.8h1M1481.1 1226.7h1M1489.0 1235.1h1M1494.4 1200.8h1M1495.7 1222.9h1M1460.8 1236.7h1M1510.8 1197.4h1M1451.8 1216.6h1M1489.6 1209.5h1M1491.4 1190.6h1M1490.9 1222.8h1M1486.1 1199.6h1M1476.9 1212.1h1M1524.2 1204.8h1M1476.3 1215.3h1M1486.5 1214.5h1M1477.9 1211.1h1M1474.9 1225.5h1M1494.7 1203.2h1M1486.4 1223.3h1M1472.4 1188.2h1M1476.0 1214.9h1M1483.5 1208.1h1M1470.7 1224.3h1M1484.5 1201.1h1M1480.9 1214.0h1M1493.8 1241.4h1M1487.7 1210.2h1M1463.1 1214.7h1M1487.5 1215.7h1M1471.5 1215.1h1M1479.4 1221.2h1M1490.7 1190.7h1M1487.5 1199.6h1M1471.2 1228.2h1M1509.5 1222.3h1M1495.3 1224.8h1M1475.3 1211.7h1M1491.7 1194.3h1M1488.5 1217.4h1M1457.8 1231.9h1M1483.8 1188.7h1M1471.1 1225.5h1M1467.3 1212.0h1M1462.4 1244.5h1M1485.3 1207.3h1M1482.3 1215.6h1M1482.2 1216.4h1M1493.7 1199.0h1M1492.2 1215.6h1M1470.4 1213.9h1M1491.5 1209.4h1M1469.2 1220.5h1M1474.9 1226.7h1M1485.9 1204.0h1M1493.1 1218.1h1M1466.6 1207.1h1M1489.8 1228.9h1M1505.9 1197.5h1M1488.7 1215.9h1M1521.8 1207.0h1M1457.9 1245.1h1M1492.7 1201.2h1M1481.4 1206.6h1M1442.1 1234.8h1M1469.3 1202.6h1M1481.0 1211.0h1M1483.8 1207.4h1M1461.8 1232.5h1M1463.4 1209.6h1M1495.0 1202.7h1M1510.1 1201.2h1M1448.8 1248.9h1M1468.9 1219.1h1M1473.5 1208.8h1M1489.9 1202.6h1M1470.6 1217.9h1M1487.2 1202.3h1M1486.1 1213.6h1M1510.7 1186.8h1M1477.4 1219.2h1M1492.5 1220.2h1M1492.1 1209.0h1M1504.2 1203.0h1M1493.4 1212.9h1M1495.0 1196.4h1M1492.1 1225.1h1M1484.2 1193.2h1M1492.7 1202.6h1M1465.9 1216.2h1M1482.6 1206.9h1M1513.3 1187.7h1M1485.6 1223.8h1M1461.9 1220.9h1M1475.5 1219.4h1M1498.9 1194.8h1M1502.3 1190.6h1M1487.6 1217.2h1M1492.2 1214.6h1M1490.3 1222.3h1M1494.9 1216.1h1M1465.4 1204.0h1M1452.6 1242.4h1M1473.4 1234.6h1M1480.7 1189.4h1M1451.2 1228.0h1M1482.0 1204.2h1M1472.0 1200.5h1M1473.4 1226.7h1M1465.2 1226.7h1M1434.1 1235.2h1M1471.3 1199.7h1M1439.6 1227.0h1M1485.9 1217.7h1M1495.4 1191.4h1M1510.5 1200.0h1M1470.6 1208.3h1M1479.8 1222.6h1M1485.2 1210.4h1M1482.3 1210.8h1M1481.0 1215.4h1M1464.3 1207.9h1M1461.3 1229.0h1M1515.2 1194.3h1M1496.4 1216.7h1M1466.7 1231.3h1M1497.3 1197.8h1M1490.1 1215.6h1M1484.9 1223.2h1M1513.6 1175.3h1M1461.0 1208.4h1M1492.2 1205.9h1M1510.4 1217.7h1M1487.0 1188.3h1M1476.6 1224.4h1M1489.4 1207.1h1M1467.6 1216.9h1M1514.9 1196.0h1M1458.2 1219.2h1M1474.8 1214.3h1M1479.3 1218.5h1M1490.8 1223.5h1M1477.3 1209.5h1M1479.1 1213.3h1M1465.9 1205.1h1M1477.1 1236.3h1M1480.6 1227.7h1M1495.0 1220.1h1M1472.8 1211.6h1M1470.6 1212.9h1M1482.8 1231.4h1M1518.5 1184.5h1M1485.8 1210.2h1M1489.6 1212.7h1M1497.3 1217.8h1M1489.2 1198.1h1M1487.7 1198.8h1M1501.7 1203.1h1M1492.8 1201.5h1M1451.8 1226.3h1M1481.4 1201.7h1M1490.8 1221.2h1M1474.9 1224.7h1M1481.9 1208.0h1M1483.1 1216.7h1M1471.3 1216.7h1M1456.7 1208.1h1M1500.9 1190.1h1M1495.7 1202.8h1M1497.0 1202.1h1M1515.5 1213.8h1M1484.1 1216.3h1M1478.8 1214.4h1M1492.7 1214.1h1M1504.2 1205.8h1M1483.1 1196.8h1M1474.7 1206.6h1M1472.5 1220.5h1M1479.7 1208.2h1M1481.7 1199.6h1M1450.9 1227.1h1M1478.0 1221.2h1M1482.9 1210.8h1M1483.5 1222.9h1M1464.0 1228.5h1M1478.3 1217.2h1M1500.2 1218.2h1M1496.6 1204.2h1M1470.8 1214.1h1M1505.4 1199.7h1M1437.6 1219.1h1M1460.2 1208.2h1M1476.4 1225.2h1M1463.9 1211.1h1M1455.0 1235.2h1M1476.8 1203.1h1M1492.8 1209.5h1M1498.0 1206.9h1M1488.4 1217.7h1M1469.2 1199.0h1M1473.5 1221.5h1M1501.1 1188.2h1M1483.1 1182.6h1M1493.3 1224.1h1M1481.5 1213.3h1M1496.3 1216.5h1M1490.3 1203.1h1M1497.5 1224.4h1M1480.2 1209.6h1M1483.4 1226.3h1M1489.3 1198.1h1M1467.0 1223.9h1M1475.8 1192.8h1M1488.3 1235.2h1M1479.3 1219.9h1M1484.2 1209.4h1M1459.2 1213.0h1M1490.0 1208.6h1M1477.3 1220.7h1M1458.7 1204.4h1M1462.0 1227.4h1M1490.0 1211.1h1M1449.8 1233.1h1M1484.4 1215.4h1M1475.5 1217.0h1M1502.7 1192.4h1M1489.3 1231.2h1M1472.2 1223.8h1M1497.4 1193.6h1M1519.4 1178.0h1M1507.1 1210.1h1M1492.8 1223.2h1M1492.2 1213.0h1M1474.4 1218.3h1M1474.8 1199.2h1M1484.2 1205.3h1M1484.3 1216.4h1M1493.7 1212.1h1M1515.5 1194.5h1M1447.1 1236.0h1M1483.9 1219.6h1M1489.0 1203.4h1M1467.6 1231.5h1M1464.8 1218.1h1M1475.7 1202.8h1M1479.6 1216.5h1M1489.2 1203.5h1M1458.8 1215.4h1M1481.3 1196.6h1M1474.2 1210.7h1M1452.4 1233.6h1M1474.4 1233.8h1M1460.8 1219.9h1M1461.3 1212.3h1M1480.2 1214.1h1M1499.3 1207.1h1M1509.1 1204.8h1M1468.4 1233.0h1M1456.1 1219.2h1M1456.2 1220.0h1M1467.5 1213.1h1M1473.3 1203.9h1M1465.6 1221.4h1M1496.8 1200.8h1M1492.3 1206.3h1M1497.3 1204.5h1M1489.0 1226.1h1M1474.0 1208.1h1M1477.3 1219.7h1M1456.4 1224.3h1M1458.9 1243.8h1M1505.5 1199.2h1M1503.6 1181.3h1M1469.2 1219.2h1M1467.7 1220.6h1M1495.4 1206.6h1M1489.8 1204.5h1M1475.6 1209.1h1M1455.8 1223.4h1M1498.3 1199.5h1M1478.6 1213.1h1M1475.8 1226.4h1M1475.9 1195.6h1M1464.7 1212.6h1M1497.2 1194.0h1M1454.2 1240.0h1M1456.8 1227.4h1M1509.2 1203.6h1M1462.2 1208.0h1M1484.6 1204.8h1M1498.9 1211.4h1M1490.0 1218.7h1M1474.4 1212.4h1M1502.8 1210.7h1M1488.3 1222.2h1M1481.4 1208.3h1M1476.0 1209.2h1M1485.9 1197.4h1M1462.0 1220.6h1M1488.4 1194.7h1M1489.9 1226.6h1M1482.9 1198.3h1M1478.6 1206.7h1M1498.5 1202.9h1M1465.8 1236.8h1M1478.4 1194.5h1M1517.7 1190.2h1M1470.9 1219.4h1M1478.3 1215.5h1M1490.0 1190.0h1M1502.9 1204.5h1M1458.6 1225.7h1M1465.7 1243.5h1M1484.5 1205.9h1M1463.8 1217.9h1M1475.7 1236.9h1M1465.2 1223.2h1M1475.1 1225.8h1M1492.2 1217.5h1M1500.5 1196.6h1M1499.2 1204.3h1M1482.7 1207.8h1M1481.8 1208.1h1M1476.2 1213.0h1M1488.6 1199.3h1M1493.1 1197.1h1M1521.8 1175.2h1M1501.9 1179.4h1M1446.7 1221.9h1M1480.1 1202.6h1M1476.4 1215.7h1M1464.4 1221.8h1M1435.7 1229.9h1M1468.2 1233.7h1M1459.1 1235.8h1M1485.8 1202.7h1M1469.1 1194.6h1M1475.8 1207.2h1M1463.7 1225.9h1M1502.1 1202.3h1M1486.8 1222.6h1M1503.1 1201.4h1M1519.7 1187.3h1M1501.4 1224.7h1M1498.8 1203.8h1M1483.9 1205.3h1M1500.3 1191.5h1M1476.2 1223.4h1M1514.0 1197.4h1M1476.2 1223.4h1M1488.0 1214.9h1M1460.0 1219.1h1M1466.9 1224.1h1M1481.8 1215.6h1M1468.1 1221.5h1M1469.1 1224.0h1M1496.6 1206.4h1M1468.3 1212.5h1M1502.5 1199.0h1M1474.4 1230.9h1M1485.6 1193.5h1M1502.8 1203.8h1M1510.7 1191.3h1M1480.1 1226.4h1M1453.8 1227.3h1M1469.8 1206.2h1M1508.6 1194.8h1M1485.0 1210.5h1M1481.6 1213.8h1M1494.8 1197.9h1M1498.4 1203.3h1M1491.9 1215.2h1M1509.8 1212.7h1M1482.5 1212.7h1M1492.3 1214.9h1M1457.2 1212.3h1M1467.6 1231.4h1M1463.6 1217.1h1M1444.5 1215.4h1M1495.9 1206.8h1M1508.1 1202.8h1M1475.6 1207.9h1M1497.3 1223.0h1M1460.1 1232.2h1M1522.6 1209.6h1M1481.6 1202.6h1M1484.9 1207.2h1M1504.0 1211.3h1M1484.6 1202.6h1M1492.6 1210.1h1M1511.0 1196.5h1M1473.2 1212.8h1M1469.1 1199.5h1M1470.3 1227.0h1M1520.0 1194.5h1M1506.4 1203.6h1M1489.6 1206.1h1M1491.6 1202.7h1M1496.8 1190.5h1M1473.7 1198.1h1M1446.9 1236.0h1M1502.7 1195.8h1M1465.3 1221.8h1M1460.2 1212.5h1M1492.8 1209.7h1M1459.1 1240.1h1M1467.9 1221.6h1M1480.5 1216.8h1M1454.4 1231.8h1M1512.7 1190.3h1M1482.9 1208.3h1M1477.6 1223.7h1M1461.2 1201.0h1M1460.2 1229.4h1M1490.4 1197.5h1M1461.6 1222.5h1M1499.4 1206.9h1M1487.1 1211.6h1M1465.4 1207.7h1M1498.0 1194.8h1M1474.2 1218.5h1M1448.3 1218.8h1M1452.9 1222.4h1M1475.4 1202.5h1M1471.1 1220.9h1M1466.9 1228.2h1M1487.9 1205.5h1M1512.4 1185.7h1M1487.1 1213.2h1M1514.4 1193.8h1M1483.6 1232.5h1M1463.1 1215.9h1M1469.4 1208.4h1M1495.4 1208.6h1M1469.5 1224.6h1M1467.5 1226.1h1M1507.7 1201.4h1M1498.4 1211.0h1M1509.7 1184.5h1M1517.5 1223.5h1M1471.5 1219.2h1M1474.3 1212.4h1M1493.4 1223.6h1M1498.7 1196.1h1M1494.9 1214.3h1M1447.5 1241.1h1M1463.3 1221.6h1M1508.8 1193.3h1M1463.2 1237.0h1M1476.1 1234.2h1M1497.2 1210.6h1M1509.2 1194.3h1M1445.4 1229.0h1M1475.6 1207.9h1M1494.6 1229.6h1M1462.7 1240.1h1M1470.8 1221.3h1M1482.6 1215.7h1M1496.8 1204.5h1M1478.8 1205.3h1M1466.7 1226.0h1M1496.8 1208.9h1M1483.6 1193.4h1M1475.4 1216.5h1M1470.8 1227.5h1M1482.0 1213.2h1M1453.9 1220.4h1M1434.1 1248.6h1M1475.0 1210.0h1M1472.7 1216.8h1M1500.5 1185.2h1M1487.7 1197.6h1M1480.5 1221.0h1M1476.3 1209.6h1M1448.8 1214.7h1M1486.6 1199.9h1M1463.2 1230.3h1M1483.7 1215.4h1M1454.7 1209.3h1M1498.2 1217.4h1M1481.1 1221.7h1M1465.6 1222.5h1M1474.3 1218.9h1M1503.8 1202.8h1M1486.9 1203.7h1M1475.9 1217.4h1M1479.1 1228.1h1M1465.3 1228.3h1M1473.9 1197.8h1M1504.7 1222.1h1M1502.2 1190.5h1M1480.9 1209.7h1M1488.2 1205.2h1M1472.4 1218.0h1M1495.7 1192.9h1M1479.6 1214.4h1M1489.8 1206.8h1M1487.9 1212.8h1M1502.1 1188.8h1M1494.7 1220.9h1M1524.8 1193.1h1M1473.1 1195.9h1M1483.4 1215.3h1M1457.0 1211.9h1M1488.2 1207.9h1M1485.1 1223.5h1M1464.2 1214.4h1M1497.3 1202.2h1M1482.9 1195.5h1M1503.0 1192.0h1M1463.8 1225.1h1M1468.5 1201.4h1M1477.8 1221.7h1M1477.3 1221.3h1M1457.0 1229.0h1M1474.6 1202.3h1M1493.9 1217.8h1M1478.3 1204.4h1M1487.3 1214.7h1M1466.6 1241.4h1M1491.7 1208.6h1M1479.4 1199.8h1M1499.4 1207.7h1M1455.5 1222.4h1M1503.3 1189.3h1M1496.5 1207.9h1M1508.4 1183.6h1M1478.7 1208.5h1M1480.4 1213.6h1M1477.7 1220.1h1M1486.1 1211.3h1M1478.1 1222.4h1M1509.5 1220.9h1M1490.0 1220.9h1M1483.6 1205.0h1M1474.7 1224.2h1M1495.1 1206.0h1M1481.9 1227.7h1M1518.9 1201.5h1M1460.0 1220.2h1M1466.7 1230.2h1M1474.4 1220.5h1M1479.3 1221.5h1M1458.8 1222.7h1M1512.9 1213.6h1M1452.0 1222.4h1M1448.9 1232.1h1M1482.6 1223.5h1M1464.8 1225.8h1M1467.5 1200.9h1M1449.3 1229.0h1M1479.7 1213.5h1M1498.3 1220.5h1M1504.2 1192.6h1M1483.1 1195.8h1M1457.7 1227.4h1M1474.2 1219.0h1M1491.9 1206.0h1M1508.5 1203.7h1M1506.4 1198.0h1M1490.5 1215.0h1M1493.6 1189.2h1M1476.1 1212.4h1M1493.2 1206.5h1M1498.9 1200.7h1M1485.8 1229.8h1M1467.9 1213.5h1M1499.3 1204.7h1M1478.3 1219.8h1M1478.6 1235.7h1M1465.4 1207.8h1M1484.7 1184.3h1M1465.1 1215.7h1M1485.5 1221.6h1M1498.9 1216.0h1M1465.0 1213.3h1M1458.3 1215.5h1M1468.0 1226.0h1M1463.0 1245.4h1M1482.9 1199.1h1M1495.3 1204.6h1M1494.6 1202.5h1M1473.2 1221.7h1M1460.3 1201.6h1M1481.7 1215.3h1M1446.9 1238.5h1M1470.8 1222.6h1M1490.8 1202.8h1M1459.8 1208.4h1M1452.3 1237.0h1M1488.6 1197.2h1M1526.5 1192.0h1M1480.6 1223.2h1M1480.4 1205.8h1M1487.4 1196.3h1M1489.5 1205.0h1M1507.1 1211.5h1M1482.6 1195.9h1M1468.3 1228.8h1M1487.5 1206.1h1M1508.7 1196.2h1M1493.5 1196.8h1M1480.5 1188.6h1M1494.5 1199.3h1M1479.7 1215.9h1M1453.5 1222.7h1M1484.7 1218.0h1M1489.0 1210.1h1M1474.2 1215.1h1M1492.7 1206.2h1M1521.2 1192.8h1M1465.3 1228.2h1M1481.8 1226.7h1M1491.7 1217.1h1M1463.3 1254.7h1M1474.1 1205.7h1M1468.7 1218.9h1M1492.6 1196.6h1M1491.6 1214.5h1M1464.9 1231.1h1M1504.6 1211.4h1M1487.5 1219.3h1M1445.9 1245.7h1M1470.0 1224.0h1M1464.2 1188.3h1M1460.6 1225.8h1M1490.2 1193.5h1M1477.7 1212.8h1M1478.1 1216.5h1M1479.9 1208.7h1M1492.7 1206.4h1M1466.9 1225.5h1M1447.0 1244.2h1M1479.5 1213.8h1M1471.7 1224.3h1M1472.2 1213.5h1M1464.3 1221.8h1M1489.5 1218.7h1M1477.3 1212.8h1M1480.8 1205.8h1M1487.0 1228.1h1M1488.7 1210.9h1M1487.6 1207.7h1M1479.8 1223.8h1M1510.8 1207.2h1M1475.1 1209.8h1M1513.3 1203.4h1M1524.8 1190.3h1M1474.4 1207.5h1M1480.4 1194.9h1M1470.5 1199.8h1M1520.9 1204.6h1M1448.8 1247.5h1M1476.6 1224.9h1M1496.9 1193.6h1M1463.8 1215.5h1M1488.8 1215.6h1M1471.7 1219.1h1M1457.3 1215.0h1M1452.3 1233.5h1M1466.1 1216.0h1M1492.6 1211.0h1M1484.5 1221.1h1M1482.6 1211.7h1M1512.1 1194.5h1M1484.3 1225.0h1M1493.7 1219.2h1M1483.5 1214.6h1M1491.2 1195.8h1M1486.2 1221.8h1M1487.2 1233.0h1M1486.5 1200.3h1M1469.9 1224.4h1M1480.0 1208.9h1M1492.5 1210.6h1M1476.4 1200.9h1M1469.5 1226.2h1M1484.4 1211.2h1M1482.3 1201.0h1M1498.4 1226.2h1M1471.9 1220.1h1M1471.0 1209.8h1M1515.8 1209.5h1M1448.7 1233.3h1M1475.3 1211.2h1M1453.4 1226.5h1M1483.7 1217.7h1M1477.9 1200.9h1M1451.3 1232.3h1M1484.6 1212.6h1M1495.3 1204.0h1M1527.7 1184.3h1M1489.8 1205.5h1M1478.5 1212.3h1M1481.3 1206.0h1M1501.4 1209.6h1M1496.3 1227.9h1M1479.3 1221.9h1M1440.0 1236.5h1M1480.2 1219.6h1M1497.3 1204.5h1M1453.5 1210.9h1M1510.7 1190.6h1M1434.3 1239.7h1M1477.7 1208.3h1M1470.4 1236.9h1M1473.5 1224.6h1M1479.1 1206.5h1M1478.3 1221.6h1M1468.9 1223.7h1M1488.6 1200.4h1M1495.3 1199.0h1M1481.9 1227.1h1M1512.1 1205.0h1M1495.7 1203.9h1M1479.1 1215.5h1M1493.2 1205.1h1M1481.5 1212.3h1M1439.4 1237.4h1M1475.0 1200.9h1M1492.5 1215.5h1M1463.0 1200.1h1M1474.8 1212.8h1M1482.1 1224.1h1M1473.6 1229.4h1M1496.7 1221.3h1M1495.0 1221.6h1M1488.1 1208.9h1M1445.2 1248.8h1M1479.6 1222.9h1M1503.9 1188.1h1M1467.8 1228.7h1M1468.2 1215.1h1M1503.8 1210.5h1M1466.8 1211.6h1M1470.9 1224.2h1M1477.3 1224.4h1M1458.2 1216.3h1M1517.2 1192.7h1M1485.1 1213.8h1M1466.1 1216.8h1M1472.1 1210.3h1M1435.6 1237.3h1M1464.0 1229.6h1M1521.7 1213.1h1M1494.1 1232.0h1M1463.8 1213.8h1M1509.4 1208.0h1M1495.8 1188.2h1M1471.3 1199.4h1M1492.1 1212.5h1M1483.9 1209.2h1M1450.0 1223.2h1M1510.2 1197.0h1M1484.7 1229.6h1M1453.9 1227.7h1M1478.6 1209.6h1M1449.9 1227.9h1M1500.8 1193.6h1M1500.8 1213.8h1M1504.9 1204.3h1M1458.6 1236.0h1M1449.8 1242.4h1M1463.1 1187.5h1M1496.7 1225.5h1M1466.6 1222.0h1M1475.9 1215.8h1M1486.5 1216.7h1M1492.8 1226.5h1M1493.1 1195.0h1M1495.2 1226.0h1M1470.2 1211.9h1M1475.5 1202.2h1M1464.7 1241.3h1M1473.2 1216.9h1M1485.7 1206.0h1M1492.0 1205.3h1M1499.6 1202.5h1M1481.6 1202.9h1M1458.1 1215.3h1M1487.3 1199.1h1M1501.4 1202.2h1M1520.3 1185.5h1M1510.1 1199.6h1M1503.1 1196.5h1M1505.8 1199.5h1M1496.5 1202.4h1M1519.8 1199.0h1M1521.0 1205.5h1M1471.4 1194.5h1M1524.6 1189.8h1M1502.3 1192.0h1M1491.9 1190.3h1M1507.7 1203.7h1M1506.5 1202.5h1M1500.4 1211.0h1M1498.7 1208.6h1M1498.7 1212.1h1M1479.3 1202.9h1M1502.3 1193.4h1M1495.6 1206.3h1M1510.7 1205.5h1M1520.0 1212.7h1M1494.2 1205.8h1M1492.5 1206.7h1M1500.8 1200.6h1M1511.6 1199.7h1M1508.8 1204.2h1M1500.4 1224.7h1M1487.7 1200.5h1M1521.6 1194.9h1M1524.1 1201.6h1M1465.7 1219.6h1M1489.1 1226.2h1M1485.8 1210.8h1M1501.6 1198.9h1M1513.1 1224.5h1M1494.4 1204.8h1M1494.8 1201.8h1M1479.8 1215.1h1M1478.5 1208.3h1M1494.2 1218.7h1M1484.3 1197.7h1M1509.1 1194.3h1M1500.8 1193.3h1M1511.5 1216.6h1M1497.3 1191.5h1M1479.1 1216.1h1M1496.8 1211.1h1M1519.8 1199.1h1M1533.8 1176.3h1M1494.4 1206.0h1M1507.0 1200.1h1M1524.3 1208.6h1M1510.3 1195.3h1M1514.6 1196.6h1M1496.0 1218.3h1M1513.8 1208.6h1M1522.0 1206.4h1M1508.8 1196.5h1M1510.2 1194.4h1M1514.8 1196.1h1M1497.7 1211.6h1M1490.1 1206.4h1M1504.4 1208.8h1M1527.0 1213.5h1M1505.9 1213.6h1M1496.3 1197.8h1M1520.1 1191.7h1M1521.3 1213.6h1M1486.7 1196.8h1M1510.1 1208.3h1M1488.1 1212.5h1M1527.0 1200.4h1M1519.3 1208.9h1M1480.8 1203.0h1M1476.4 1201.0h1M1540.2 1184.3h1M1496.2 1203.7h1M1474.5 1220.0h1M1504.5 1197.0h1M1482.1 1211.2h1M1498.4 1198.3h1M1517.1 1190.0h1M1508.6 1192.0h1M1505.4 1195.3h1M1501.7 1187.0h1M1514.8 1211.8h1M1481.8 1215.9h1M1519.0 1194.0h1M1492.6 1206.0h1M1495.5 1199.3h1M1514.6 1212.3h1M1488.5 1208.3h1M1476.2 1217.8h1M1515.4 1195.9h1M1475.7 1210.3h1M1510.7 1192.0h1M1487.0 1219.4h1M1488.4 1195.5h1M1490.8 1206.7h1M1499.3 1207.4h1M1482.9 1211.2h1M1494.1 1203.8h1M1505.4 1199.5h1M1503.0 1213.2h1M1484.8 1208.0h1M1518.4 1204.2h1M1517.4 1196.9h1M1520.6 1176.6h1M1498.5 1196.1h1M1488.8 1223.1h1M1489.8 1203.7h1M1493.0 1196.4h1M1495.7 1200.2h1M1507.6 1203.1h1M1502.0 1206.5h1M1494.8 1211.1h1M1491.8 1208.1h1M1497.1 1205.0h1M1495.5 1212.8h1M1486.8 1218.4h1M1490.0 1206.4h1M1514.3 1198.5h1M1482.2 1202.2h1M1489.1 1202.2h1M1499.9 1205.8h1M1505.9 1210.5h1M1496.4 1182.3h1M1513.2 1198.8h1M1514.5 1207.1h1M1484.2 1214.4h1M1474.3 1212.6h1M1507.9 1186.7h1M1484.3 1211.7h1M1522.2 1221.4h1M1505.9 1197.0h1M1534.4 1199.1h1M1497.7 1202.4h1M1511.8 1193.8h1M1489.4 1207.0h1M1512.7 1221.0h1M1485.6 1193.7h1M1493.0 1195.5h1M1486.0 1211.8h1M1492.1 1201.8h1M1503.4 1201.9h1M1513.1 1210.8h1M1517.5 1199.7h1M1503.3 1204.5h1M1528.7 1187.2h1M1499.1 1194.5h1M1478.3 1205.0h1M1525.3 1208.3h1M1502.5 1208.1h1M1495.2 1187.6h1M1497.2 1197.7h1M1515.6 1191.3h1M1486.3 1203.7h1M1504.0 1205.5h1M1511.2 1195.8h1M1498.4 1198.9h1M1506.0 1196.5h1M1495.3 1199.9h1M1508.3 1184.3h1M1518.0 1178.1h1M1503.1 1221.7h1M1497.7 1203.2h1M1496.3 1211.2h1M1524.1 1195.0h1M1489.3 1206.8h1M1502.1 1214.1h1M1494.2 1215.2h1M1489.4 1188.4h1M1503.7 1194.7h1M1508.7 1210.4h1M1495.0 1203.6h1M1507.1 1203.9h1M1487.2 1213.6h1M1497.4 1217.5h1M1478.4 1185.5h1M1481.3 1207.6h1M1520.9 1201.0h1M1503.7 1193.6h1M1515.6 1195.3h1M1503.1 1217.1h1M1478.9 1210.8h1M1499.1 1206.2h1M1487.1 1208.9h1M1521.7 1196.5h1M1516.0 1214.4h1M1471.8 1213.1h1M1489.9 1203.4h1M1498.0 1203.2h1M1495.2 1203.5h1M1510.2 1204.7h1M1526.2 1197.4h1M1487.1 1220.3h1M1524.5 1197.0h1M1502.7 1193.0h1M1491.7 1179.0h1M1492.1 1214.7h1M1498.0 1195.6h1M1520.4 1190.5h1M1487.4 1215.0h1M1493.3 1205.8h1M1484.7 1217.5h1M1500.1 1187.5h1M1477.8 1209.8h1M1515.2 1201.0h1M1515.6 1196.0h1M1517.6 1197.1h1M1477.6 1200.0h1M1501.3 1195.6h1M1496.7 1188.8h1M1512.8 1194.9h1M1502.4 1194.6h1M1514.2 1200.8h1M1500.6 1206.3h1M1487.3 1195.7h1M1511.3 1197.6h1M1518.8 1207.9h1M1485.5 1208.8h1M1483.7 1225.1h1M1495.1 1209.7h1M1493.1 1210.0h1M1505.0 1211.7h1M1515.6 1188.8h1M1509.5 1203.1h1M1484.3 1217.2h1M1527.9 1204.8h1M1496.4 1198.5h1M1500.4 1207.8h1M1493.2 1209.8h1M1492.7 1192.6h1M1520.0 1187.0h1M1501.5 1193.4h1M1492.1 1211.4h1M1486.1 1206.5h1M1509.2 1218.5h1M1492.8 1220.0h1M1506.3 1203.6h1M1496.6 1202.7h1M1501.4 1200.9h1M1490.5 1204.8h1M1495.4 1212.1h1M1526.4 1204.9h1M1488.0 1218.6h1M1478.9 1191.2h1M1480.7 1212.1h1M1503.4 1192.4h1M1518.1 1205.2h1M1496.9 1206.3h1M1487.7 1203.2h1M1505.1 1199.4h1M1489.3 1218.6h1M1525.2 1201.3h1M1505.3 1185.3h1M1505.4 1189.1h1M1513.8 1205.9h1M1500.9 1189.0h1M1508.0 1209.6h1M1502.1 1200.1h1M1515.5 1189.0h1M1495.9 1217.2h1M1517.7 1219.5h1M1484.7 1212.0h1M1489.7 1215.2h1M1483.3 1224.9h1M1473.2 1201.7h1M1490.7 1212.6h1M1514.0 1198.4h1M1523.6 1191.7h1M1492.6 1207.2h1M1495.4 1213.7h1M1499.2 1215.9h1M1485.1 1194.6h1M1491.5 1207.2h1M1503.4 1199.4h1M1500.5 1198.5h1M1485.1 1205.0h1M1499.6 1203.0h1M1474.6 1218.2h1M1510.8 1196.9h1M1497.6 1203.5h1M1484.3 1209.1h1M1490.2 1185.4h1M1512.3 1217.5h1M1519.4 1199.3h1M1483.9 1213.4h1M1510.8 1194.9h1M1494.7 1194.5h1M1510.5 1177.0h1M1495.3 1212.0h1M1503.1 1180.4h1M1501.2 1215.5h1M1492.3 1215.0h1M1511.3 1216.4h1M1484.1 1213.0h1M1489.8 1218.3h1M1514.5 1199.8h1M1507.5 1191.3h1M1521.7 1188.9h1M1489.9 1217.1h1M1499.8 1179.1h1M1514.0 1205.0h1M1469.7 1207.6h1M1501.8 1195.9h1M1475.6 1193.5h1M1495.1 1197.8h1M1499.5 1193.0h1M1494.4 1198.6h1M1492.2 1193.9h1M1485.3 1202.0h1M1489.5 1215.0h1M1480.3 1218.2h1M1476.1 1202.5h1M1493.6 1192.2h1M1492.5 1203.8h1M1540.9 1190.8h1M1503.8 1143.2h1M1522.1 1138.6h1M1540.4 1147.5h1M1521.5 1159.3h1M1527.2 1146.4h1M1522.0 1146.6h1M1530.1 1154.4h1M1536.6 1147.8h1M1548.3 1140.0h1M1511.6 1145.9h1M1516.3 1155.8h1M1539.1 1161.3h1M1522.1 1153.3h1M1534.1 1149.8h1M1527.5 1138.1h1M1544.0 1146.6h1M1530.7 1158.2h1M1550.4 1143.7h1M1547.0 1150.8h1M1535.0 1149.1h1M1501.9 1144.2h1M1555.0 1144.3h1M1499.2 1154.6h1M1490.7 1150.4h1M1513.9 1150.5h1M1578.4 1142.4h1M1531.6 1138.2h1M1550.1 1130.1h1M1518.6 1158.4h1M1517.3 1140.9h1M1562.5 1144.9h1M1510.0 1162.7h1M1505.3 1155.7h1M1546.9 1137.7h1M1531.5 1150.3h1M1529.7 1145.8h1M1503.4 1157.4h1M1516.1 1145.4h1M1536.0 1155.4h1M1549.2 1141.3h1M1542.8 1152.6h1M1514.1 1139.8h1M1523.4 1134.4h1M1523.3 1134.7h1M1541.4 1147.9h1M1532.0 1157.4h1M1514.3 1146.1h1M1518.7 1150.9h1M1525.5 1156.3h1M1515.5 1154.0h1M1537.5 1159.6h1M1529.0 1136.3h1M1538.8 1147.7h1M1509.9 1144.1h1M1546.2 1147.8h1M1547.2 1154.7h1M1553.3 1139.0h1M1539.8 1144.2h1M1489.2 1157.7h1M1534.8 1165.1h1M1522.7 1135.8h1M1521.9 1144.6h1M1525.4 1156.0h1M1517.9 1143.1h1M1511.6 1154.8h1M1504.4 1144.7h1M1518.0 1145.0h1M1545.6 1149.3h1M1512.4 1157.8h1M1529.0 1141.2h1M1500.3 1143.3h1M1540.2 1158.1h1M1537.4 1136.6h1M1544.7 1144.2h1M1501.0 1144.9h1M1529.5 1148.9h1M1534.5 1142.1h1M1510.2 1138.6h1M1531.2 1145.0h1M1544.4 1146.4h1M1517.3 1142.9h1M1531.4 1130.5h1M1559.6 1150.3h1M1522.6 1154.6h1M1519.5 1137.7h1M1533.0 1147.2h1M1528.0 1149.5h1M1520.2 1139.0h1M1552.8 1138.4h1M1500.9 1155.8h1M1526.8 1151.7h1M1502.2 1148.3h1M1512.9 1161.6h1M1514.9 1146.2h1M1521.5 1155.6h1M1534.5 1134.7h1M1502.6 1148.4h1M1511.2 1140.1h1M1485.2 1156.2h1M1508.9 1148.1h1M1539.2 1135.5h1M1500.5 1146.4h1M1572.9 1144.5h1M1501.0 1147.6h1M1535.5 1146.5h1M1498.0 1154.9h1M1532.8 1137.5h1M1520.4 1144.4h1M1552.0 1145.7h1M1551.4 1160.7h1M1522.1 1144.6h1M1533.6 1157.3h1M1517.9 1146.5h1M1518.4 1156.9h1M1508.6 1152.3h1M1523.0 1144.7h1M1503.2 1153.7h1M1556.9 1150.0h1M1549.2 1131.1h1M1534.6 1147.5h1M1519.2 1148.4h1M1507.5 1149.8h1M1523.9 1140.1h1M1508.1 1153.2h1M1503.5 1143.0h1M1538.8 1148.8h1M1524.0 1153.9h1M1534.7 1151.1h1M1508.2 1148.5h1M1523.3 1146.7h1M1526.5 1136.7h1M1539.2 1136.8h1M1498.4 1158.2h1M1513.6 1150.1h1M1533.6 1136.9h1M1566.2 1145.6h1M1552.2 1157.7h1M1515.9 1143.9h1M1534.3 1152.6h1M1517.7 1148.7h1M1507.5 1126.5h1M1491.8 1169.6h1M1500.8 1170.0h1M1497.7 1164.3h1M1487.3 1139.1h1M1506.1 1143.6h1M1497.8 1147.7h1M1500.0 1154.0h1M1499.1 1127.8h1M1497.9 1139.4h1M1491.4 1147.6h1M1505.0 1160.9h1M1501.5 1150.0h1M1488.8 1165.0h1M1509.2 1171.3h1M1511.1 1172.9h1M1500.0 1141.0h1M1511.9 1151.7h1M1496.9 1132.8h1M1494.5 1140.6h1M1494.4 1170.1h1M1493.4 1125.3h1M1498.1 1133.8h1M1499.6 1139.7h1M1510.1 1156.7h1M1504.9 1152.7h1M1503.2 1162.5h1M1498.8 1170.7h1M1509.3 1145.0h1M1514.0 1152.1h1M1496.5 1152.7h1M1515.2 1147.0h1M1493.6 1154.3h1M1501.8 1146.3h1M1503.7 1140.3h1M1502.1 1167.5h1M1492.0 1151.9h1M1501.0 1133.7h1M1509.7 1139.8h1M1510.3 1139.9h1M1498.3 1172.1h1M1500.7 1163.6h1M1506.1 1140.6h1M1497.2 1175.5h1M1498.6 1155.5h1M1494.3 1179.7h1M1519.1 1172.9h1M1497.6 1161.0h1M1501.6 1174.9h1M1489.4 1168.3h1M1503.6 1144.7h1M1496.8 1174.6h1M1509.8 1153.2h1M1499.2 1166.2h1M1518.1 1152.8h1M1533.2 1220.1h1M1530.9 1210.7h1M1531.0 1210.7h1M1543.9 1210.7h1M1515.9 1220.6h1M1534.7 1217.7h1M1538.9 1221.9h1M1534.3 1218.7h1M1527.1 1230.4h1M1531.3 1210.3h1M1519.7 1216.4h1M1544.1 1217.5h1M1541.5 1204.5h1M1539.8 1215.0h1M1533.7 1201.6h1M1525.7 1210.9h1M1536.0 1211.7h1M1541.3 1205.9h1M1528.9 1205.0h1M1535.8 1208.9h1M1524.2 1210.1h1M1537.8 1215.5h1M1526.8 1208.0h1M1538.6 1220.1h1M1523.8 1211.7h1M1474.1 1263.1h1M1466.6 1256.7h1M1455.1 1256.7h1M1468.3 1263.0h1M1473.0 1271.6h1M1476.4 1257.6h1M1473.8 1262.7h1M1472.7 1270.5h1M1476.4 1254.2h1M1460.0 1253.9h1M1463.0 1246.2h1M1465.1 1255.9h1M1480.3 1255.3h1M1462.3 1259.1h1M1464.0 1254.8h1M1462.5 1264.8h1M1486.1 1254.0h1M1477.6 1259.3h1M1467.3 1237.6h1M1475.4 1261.7h1M1474.6 1268.2h1M1470.1 1239.0h1M1484.4 1259.8h1M1461.9 1234.9h1M1455.3 1251.5h1" stroke="#ff0c0c" stroke-width="1" stroke-opacity="0.62" fill="none"/>
<rect x="1407.2" y="1100.3" width="177.5" height="176.6" fill="none" stroke="#3a3a3a" stroke-width="1"/>
<line x1="1500.3" y1="1100.3" x2="1500.3" y2="1276.9" stroke-width="1.5" stroke="#111"/>
<line x1="1407.2" y1="1188" x2="1584.7" y2="1188" stroke-width="1.5" stroke="#111"/>
<line x1="1402.4" y1="1276.6" x2="1407.2" y2="1276.6" stroke-width="1.1" stroke="#222"/>
<text class="s" x="1401" y="1280.6" font-size="7" text-anchor="end" fill="#333" stroke="#333" style="stroke-width:0.15px">10<tspan dy="-3.6" font-size="5.46">2</tspan></text>
<line x1="1404.6" y1="1266.42" x2="1407.2" y2="1266.42" stroke-width="0.7" stroke="#333"/>
<line x1="1404.6" y1="1260.46" x2="1407.2" y2="1260.46" stroke-width="0.7" stroke="#333"/>
<line x1="1404.6" y1="1256.23" x2="1407.2" y2="1256.23" stroke-width="0.7" stroke="#333"/>
<line x1="1404.6" y1="1252.95" x2="1407.2" y2="1252.95" stroke-width="0.7" stroke="#333"/>
<line x1="1404.6" y1="1250.28" x2="1407.2" y2="1250.28" stroke-width="0.7" stroke="#333"/>
<line x1="1404.6" y1="1248.01" x2="1407.2" y2="1248.01" stroke-width="0.7" stroke="#333"/>
<line x1="1404.6" y1="1246.05" x2="1407.2" y2="1246.05" stroke-width="0.7" stroke="#333"/>
<line x1="1404.6" y1="1244.32" x2="1407.2" y2="1244.32" stroke-width="0.7" stroke="#333"/>
<line x1="1402.4" y1="1242.77" x2="1407.2" y2="1242.77" stroke-width="1.1" stroke="#222"/>
<text class="s" x="1401" y="1246.77" font-size="7" text-anchor="end" fill="#333" stroke="#333" style="stroke-width:0.15px">10<tspan dy="-3.6" font-size="5.46">3</tspan></text>
<line x1="1404.6" y1="1232.59" x2="1407.2" y2="1232.59" stroke-width="0.7" stroke="#333"/>
<line x1="1404.6" y1="1226.63" x2="1407.2" y2="1226.63" stroke-width="0.7" stroke="#333"/>
<line x1="1404.6" y1="1222.4" x2="1407.2" y2="1222.4" stroke-width="0.7" stroke="#333"/>
<line x1="1404.6" y1="1219.12" x2="1407.2" y2="1219.12" stroke-width="0.7" stroke="#333"/>
<line x1="1404.6" y1="1216.45" x2="1407.2" y2="1216.45" stroke-width="0.7" stroke="#333"/>
<line x1="1404.6" y1="1214.18" x2="1407.2" y2="1214.18" stroke-width="0.7" stroke="#333"/>
<line x1="1404.6" y1="1212.22" x2="1407.2" y2="1212.22" stroke-width="0.7" stroke="#333"/>
<line x1="1404.6" y1="1210.49" x2="1407.2" y2="1210.49" stroke-width="0.7" stroke="#333"/>
<line x1="1402.4" y1="1208.94" x2="1407.2" y2="1208.94" stroke-width="1.1" stroke="#222"/>
<text class="s" x="1401" y="1212.94" font-size="7" text-anchor="end" fill="#333" stroke="#333" style="stroke-width:0.15px">10<tspan dy="-3.6" font-size="5.46">4</tspan></text>
<line x1="1404.6" y1="1198.76" x2="1407.2" y2="1198.76" stroke-width="0.7" stroke="#333"/>
<line x1="1404.6" y1="1192.8" x2="1407.2" y2="1192.8" stroke-width="0.7" stroke="#333"/>
<line x1="1404.6" y1="1188.57" x2="1407.2" y2="1188.57" stroke-width="0.7" stroke="#333"/>
<line x1="1404.6" y1="1185.29" x2="1407.2" y2="1185.29" stroke-width="0.7" stroke="#333"/>
<line x1="1404.6" y1="1182.62" x2="1407.2" y2="1182.62" stroke-width="0.7" stroke="#333"/>
<line x1="1404.6" y1="1180.35" x2="1407.2" y2="1180.35" stroke-width="0.7" stroke="#333"/>
<line x1="1404.6" y1="1178.39" x2="1407.2" y2="1178.39" stroke-width="0.7" stroke="#333"/>
<line x1="1404.6" y1="1176.66" x2="1407.2" y2="1176.66" stroke-width="0.7" stroke="#333"/>
<line x1="1402.4" y1="1175.11" x2="1407.2" y2="1175.11" stroke-width="1.1" stroke="#222"/>
<text class="s" x="1401" y="1179.11" font-size="7" text-anchor="end" fill="#333" stroke="#333" style="stroke-width:0.15px">10<tspan dy="-3.6" font-size="5.46">5</tspan></text>
<line x1="1404.6" y1="1164.93" x2="1407.2" y2="1164.93" stroke-width="0.7" stroke="#333"/>
<line x1="1404.6" y1="1158.97" x2="1407.2" y2="1158.97" stroke-width="0.7" stroke="#333"/>
<line x1="1404.6" y1="1154.74" x2="1407.2" y2="1154.74" stroke-width="0.7" stroke="#333"/>
<line x1="1404.6" y1="1151.46" x2="1407.2" y2="1151.46" stroke-width="0.7" stroke="#333"/>
<line x1="1404.6" y1="1148.79" x2="1407.2" y2="1148.79" stroke-width="0.7" stroke="#333"/>
<line x1="1404.6" y1="1146.52" x2="1407.2" y2="1146.52" stroke-width="0.7" stroke="#333"/>
<line x1="1404.6" y1="1144.56" x2="1407.2" y2="1144.56" stroke-width="0.7" stroke="#333"/>
<line x1="1404.6" y1="1142.83" x2="1407.2" y2="1142.83" stroke-width="0.7" stroke="#333"/>
<line x1="1402.4" y1="1141.28" x2="1407.2" y2="1141.28" stroke-width="1.1" stroke="#222"/>
<text class="s" x="1401" y="1145.28" font-size="7" text-anchor="end" fill="#333" stroke="#333" style="stroke-width:0.15px">10<tspan dy="-3.6" font-size="5.46">6</tspan></text>
<line x1="1404.6" y1="1131.1" x2="1407.2" y2="1131.1" stroke-width="0.7" stroke="#333"/>
<line x1="1404.6" y1="1125.14" x2="1407.2" y2="1125.14" stroke-width="0.7" stroke="#333"/>
<line x1="1404.6" y1="1120.91" x2="1407.2" y2="1120.91" stroke-width="0.7" stroke="#333"/>
<line x1="1404.6" y1="1117.63" x2="1407.2" y2="1117.63" stroke-width="0.7" stroke="#333"/>
<line x1="1404.6" y1="1114.96" x2="1407.2" y2="1114.96" stroke-width="0.7" stroke="#333"/>
<line x1="1404.6" y1="1112.69" x2="1407.2" y2="1112.69" stroke-width="0.7" stroke="#333"/>
<line x1="1404.6" y1="1110.73" x2="1407.2" y2="1110.73" stroke-width="0.7" stroke="#333"/>
<line x1="1404.6" y1="1109" x2="1407.2" y2="1109" stroke-width="0.7" stroke="#333"/>
<line x1="1402.4" y1="1107.45" x2="1407.2" y2="1107.45" stroke-width="1.1" stroke="#222"/>
<text class="s" x="1401" y="1111.45" font-size="7" text-anchor="end" fill="#333" stroke="#333" style="stroke-width:0.15px">10<tspan dy="-3.6" font-size="5.46">7</tspan></text>
<line x1="1427.8" y1="1276.9" x2="1427.8" y2="1281.9" stroke-width="1.1" stroke="#222"/>
<text class="s" x="1430" y="1297.4" font-size="7" text-anchor="middle" fill="#333" stroke="#333" style="stroke-width:0.15px">10<tspan dy="-3.6" font-size="5.46">3</tspan></text>
<line x1="1440.38" y1="1276.9" x2="1440.38" y2="1279.5" stroke-width="0.7" stroke="#333"/>
<line x1="1447.74" y1="1276.9" x2="1447.74" y2="1279.5" stroke-width="0.7" stroke="#333"/>
<line x1="1452.97" y1="1276.9" x2="1452.97" y2="1279.5" stroke-width="0.7" stroke="#333"/>
<line x1="1457.02" y1="1276.9" x2="1457.02" y2="1279.5" stroke-width="0.7" stroke="#333"/>
<line x1="1460.33" y1="1276.9" x2="1460.33" y2="1279.5" stroke-width="0.7" stroke="#333"/>
<line x1="1463.13" y1="1276.9" x2="1463.13" y2="1279.5" stroke-width="0.7" stroke="#333"/>
<line x1="1465.55" y1="1276.9" x2="1465.55" y2="1279.5" stroke-width="0.7" stroke="#333"/>
<line x1="1467.69" y1="1276.9" x2="1467.69" y2="1279.5" stroke-width="0.7" stroke="#333"/>
<line x1="1469.6" y1="1276.9" x2="1469.6" y2="1281.9" stroke-width="1.1" stroke="#222"/>
<text class="s" x="1471.8" y="1297.4" font-size="7" text-anchor="middle" fill="#333" stroke="#333" style="stroke-width:0.15px">10<tspan dy="-3.6" font-size="5.46">4</tspan></text>
<line x1="1482.18" y1="1276.9" x2="1482.18" y2="1279.5" stroke-width="0.7" stroke="#333"/>
<line x1="1489.54" y1="1276.9" x2="1489.54" y2="1279.5" stroke-width="0.7" stroke="#333"/>
<line x1="1494.77" y1="1276.9" x2="1494.77" y2="1279.5" stroke-width="0.7" stroke="#333"/>
<line x1="1498.82" y1="1276.9" x2="1498.82" y2="1279.5" stroke-width="0.7" stroke="#333"/>
<line x1="1502.13" y1="1276.9" x2="1502.13" y2="1279.5" stroke-width="0.7" stroke="#333"/>
<line x1="1504.93" y1="1276.9" x2="1504.93" y2="1279.5" stroke-width="0.7" stroke="#333"/>
<line x1="1507.35" y1="1276.9" x2="1507.35" y2="1279.5" stroke-width="0.7" stroke="#333"/>
<line x1="1509.49" y1="1276.9" x2="1509.49" y2="1279.5" stroke-width="0.7" stroke="#333"/>
<line x1="1511.4" y1="1276.9" x2="1511.4" y2="1281.9" stroke-width="1.1" stroke="#222"/>
<text class="s" x="1513.6" y="1297.4" font-size="7" text-anchor="middle" fill="#333" stroke="#333" style="stroke-width:0.15px">10<tspan dy="-3.6" font-size="5.46">5</tspan></text>
<line x1="1523.98" y1="1276.9" x2="1523.98" y2="1279.5" stroke-width="0.7" stroke="#333"/>
<line x1="1531.34" y1="1276.9" x2="1531.34" y2="1279.5" stroke-width="0.7" stroke="#333"/>
<line x1="1536.57" y1="1276.9" x2="1536.57" y2="1279.5" stroke-width="0.7" stroke="#333"/>
<line x1="1540.62" y1="1276.9" x2="1540.62" y2="1279.5" stroke-width="0.7" stroke="#333"/>
<line x1="1543.93" y1="1276.9" x2="1543.93" y2="1279.5" stroke-width="0.7" stroke="#333"/>
<line x1="1546.73" y1="1276.9" x2="1546.73" y2="1279.5" stroke-width="0.7" stroke="#333"/>
<line x1="1549.15" y1="1276.9" x2="1549.15" y2="1279.5" stroke-width="0.7" stroke="#333"/>
<line x1="1551.29" y1="1276.9" x2="1551.29" y2="1279.5" stroke-width="0.7" stroke="#333"/>
<line x1="1553.2" y1="1276.9" x2="1553.2" y2="1281.9" stroke-width="1.1" stroke="#222"/>
<text class="s" x="1555.4" y="1297.4" font-size="7" text-anchor="middle" fill="#333" stroke="#333" style="stroke-width:0.15px">10<tspan dy="-3.6" font-size="5.46">6</tspan></text>
<line x1="1565.78" y1="1276.9" x2="1565.78" y2="1279.5" stroke-width="0.7" stroke="#333"/>
<line x1="1573.14" y1="1276.9" x2="1573.14" y2="1279.5" stroke-width="0.7" stroke="#333"/>
<line x1="1578.37" y1="1276.9" x2="1578.37" y2="1279.5" stroke-width="0.7" stroke="#333"/>
<line x1="1582.42" y1="1276.9" x2="1582.42" y2="1279.5" stroke-width="0.7" stroke="#333"/>
<line x1="1411.17" y1="1276.9" x2="1411.17" y2="1279.5" stroke-width="0.7" stroke="#333"/>
<line x1="1415.22" y1="1276.9" x2="1415.22" y2="1279.5" stroke-width="0.7" stroke="#333"/>
<line x1="1418.53" y1="1276.9" x2="1418.53" y2="1279.5" stroke-width="0.7" stroke="#333"/>
<line x1="1421.33" y1="1276.9" x2="1421.33" y2="1279.5" stroke-width="0.7" stroke="#333"/>
<line x1="1423.75" y1="1276.9" x2="1423.75" y2="1279.5" stroke-width="0.7" stroke="#333"/>
<line x1="1425.89" y1="1276.9" x2="1425.89" y2="1279.5" stroke-width="0.7" stroke="#333"/>
<text class="s" x="1410.4" y="1116" font-size="8.3" fill="#4a4a4a" stroke="#4a4a4a"  style="stroke-width:0.15px">Q1</text>
<text class="s" x="1410.4" y="1128.7" font-size="8.3" fill="#4a4a4a" stroke="#4a4a4a"  style="stroke-width:0.15px">0.76</text>
<text class="s" x="1569.5" y="1116" font-size="8.3" text-anchor="end" fill="#4a4a4a" stroke="#4a4a4a"  style="stroke-width:0.15px">Q2</text>
<text class="s" x="1569.5" y="1128.7" font-size="8.3" text-anchor="end" fill="#4a4a4a" stroke="#4a4a4a"  style="stroke-width:0.15px">1.99</text>
<text class="s" x="1410.4" y="1255.5" font-size="8.3" fill="#4a4a4a" stroke="#4a4a4a"  style="stroke-width:0.15px">Q4</text>
<text class="s" x="1410.4" y="1267.6" font-size="8.3" fill="#4a4a4a" stroke="#4a4a4a"  style="stroke-width:0.15px">90.4</text>
<text class="s" x="1569.5" y="1255.5" font-size="8.3" text-anchor="end" fill="#4a4a4a" stroke="#4a4a4a"  style="stroke-width:0.15px">Q3</text>
<text class="s" x="1569.5" y="1267.6" font-size="8.3" text-anchor="end" fill="#4a4a4a" stroke="#4a4a4a"  style="stroke-width:0.15px">6.90</text>
<text class="s" x="1385.8" y="1180.2" font-size="12.1" text-anchor="middle" transform="rotate(-90 1385.8 1180.2)" style="stroke-width:0.65px">Propidium Iodide</text>
<text class="s" x="1498.8" y="1308" font-size="12.1" text-anchor="middle" style="stroke-width:0.65px">Annexin V FITC</text>
<ellipse cx="1256" cy="1481" rx="23" ry="11.5" transform="rotate(-52 1256 1481)" fill="url(#rg)" fill-opacity="0.95"/>
<path d="M1261.7 1486.6h1M1243.6 1481.8h1M1260.6 1480.8h1M1261.1 1479.3h1M1253.5 1479.8h1M1251.0 1486.2h1M1258.3 1486.7h1M1255.9 1471.3h1M1261.5 1474.6h1M1270.5 1476.0h1M1253.4 1470.1h1M1254.9 1470.0h1M1264.6 1465.3h1M1263.4 1487.9h1M1245.8 1495.3h1M1248.0 1487.7h1M1254.8 1489.3h1M1256.6 1484.1h1M1254.3 1469.5h1M1265.3 1467.9h1M1243.6 1492.2h1M1267.0 1476.4h1M1253.1 1486.5h1M1263.1 1481.8h1M1260.4 1484.7h1M1248.4 1485.6h1M1264.6 1477.2h1M1259.4 1482.8h1M1261.8 1481.2h1M1267.0 1472.3h1M1261.0 1472.2h1M1243.7 1477.4h1M1260.1 1477.1h1M1252.9 1469.8h1M1251.7 1482.7h1M1249.1 1498.6h1M1260.0 1466.0h1M1267.4 1482.3h1M1253.4 1493.9h1M1275.5 1473.1h1M1243.8 1488.4h1M1263.6 1482.6h1M1245.8 1488.6h1M1254.5 1493.5h1M1255.9 1487.0h1M1266.4 1478.7h1M1261.4 1478.0h1M1266.9 1472.2h1M1246.6 1489.3h1M1263.8 1473.2h1M1255.9 1484.2h1M1279.0 1452.1h1M1262.4 1477.8h1M1260.5 1486.6h1M1264.6 1474.4h1M1253.6 1496.0h1M1262.0 1473.6h1M1239.1 1503.1h1M1248.2 1490.0h1M1250.4 1482.0h1M1264.4 1472.2h1M1261.4 1466.7h1M1261.7 1486.5h1M1256.3 1475.3h1M1248.8 1486.0h1M1259.6 1483.4h1M1261.4 1481.7h1M1263.3 1473.7h1M1268.9 1471.9h1M1255.3 1481.4h1M1254.0 1478.1h1M1248.5 1491.9h1M1256.3 1486.7h1M1253.7 1485.8h1M1256.6 1477.2h1M1255.4 1476.4h1M1257.7 1486.7h1M1259.8 1477.1h1M1254.9 1489.4h1M1261.3 1456.3h1M1265.1 1472.2h1M1269.4 1474.9h1M1257.7 1494.8h1M1252.2 1484.6h1M1261.0 1474.8h1M1256.8 1476.5h1M1250.3 1489.3h1M1255.6 1494.1h1M1264.7 1483.0h1M1240.1 1484.2h1M1240.4 1498.6h1M1250.1 1492.6h1M1241.6 1488.3h1M1257.3 1476.8h1M1265.0 1477.3h1M1254.4 1473.4h1M1260.9 1495.3h1M1256.9 1483.3h1M1257.8 1479.3h1M1253.6 1480.1h1M1245.2 1478.2h1M1267.7 1465.9h1M1250.6 1493.3h1M1255.5 1470.0h1M1260.0 1489.8h1M1262.5 1477.3h1M1263.2 1471.6h1M1261.9 1488.2h1M1255.6 1481.8h1M1261.5 1475.2h1M1256.9 1497.1h1M1264.2 1487.0h1M1256.7 1473.2h1M1266.6 1466.8h1M1251.3 1487.7h1M1244.6 1500.0h1M1251.3 1485.8h1M1254.1 1490.2h1M1264.0 1481.0h1M1269.3 1467.3h1M1259.0 1480.7h1M1249.4 1485.6h1M1258.5 1471.2h1M1242.8 1495.7h1M1265.0 1483.1h1M1248.5 1483.5h1M1257.1 1479.1h1M1256.6 1476.7h1M1256.0 1476.9h1M1264.8 1473.0h1M1259.0 1474.2h1M1247.7 1492.7h1M1261.4 1484.5h1M1263.3 1472.2h1M1252.6 1477.6h1M1257.7 1481.5h1M1249.8 1480.4h1M1261.6 1466.6h1M1272.9 1470.4h1M1263.7 1464.7h1M1255.4 1470.7h1M1248.3 1478.6h1M1250.1 1485.0h1M1267.9 1475.9h1M1253.4 1482.7h1M1246.0 1484.7h1M1244.3 1494.9h1M1257.7 1473.0h1M1254.6 1473.7h1M1248.1 1487.2h1M1260.6 1471.4h1M1260.5 1473.0h1M1241.3 1483.3h1M1249.8 1481.4h1M1264.7 1474.4h1M1249.7 1497.0h1M1248.3 1466.7h1M1251.1 1490.1h1M1243.4 1491.6h1M1261.3 1477.0h1M1262.4 1478.8h1M1261.0 1495.7h1M1269.2 1483.1h1M1257.5 1484.6h1M1258.5 1477.2h1M1260.0 1478.8h1M1263.5 1474.8h1M1259.2 1481.7h1M1266.6 1468.7h1M1261.4 1476.0h1M1240.3 1494.1h1M1245.1 1483.8h1M1245.5 1480.1h1M1256.4 1476.6h1M1266.4 1471.6h1M1247.6 1490.5h1M1254.3 1478.0h1M1250.0 1480.1h1M1253.2 1487.6h1M1259.6 1487.3h1M1239.8 1495.7h1M1260.4 1488.5h1M1267.1 1473.8h1M1269.6 1477.7h1M1260.2 1474.3h1M1254.9 1476.8h1M1256.8 1483.7h1M1253.9 1485.2h1M1248.5 1480.0h1M1250.2 1494.8h1M1260.3 1483.1h1M1255.9 1481.5h1M1257.0 1477.4h1M1269.7 1472.5h1M1254.9 1474.1h1M1253.9 1485.8h1M1263.9 1471.0h1M1258.5 1482.6h1M1256.6 1479.3h1M1254.2 1494.0h1M1254.0 1479.6h1M1250.3 1477.4h1M1238.2 1489.0h1M1253.3 1473.5h1M1252.2 1476.1h1M1242.3 1493.6h1M1248.7 1484.8h1M1268.2 1467.2h1M1256.0 1488.6h1M1259.1 1487.4h1M1250.6 1497.3h1M1246.2 1487.5h1M1253.1 1475.8h1M1244.0 1493.2h1M1247.5 1478.1h1M1259.1 1470.2h1M1251.2 1485.3h1M1260.8 1483.9h1M1242.2 1498.8h1M1262.8 1474.4h1M1251.0 1478.0h1M1256.2 1476.6h1M1252.6 1476.5h1M1253.4 1483.1h1M1250.7 1496.5h1M1250.0 1477.9h1M1254.9 1483.5h1M1249.6 1480.5h1M1249.0 1478.5h1M1250.1 1498.5h1M1274.7 1472.9h1M1276.2 1466.6h1M1247.7 1486.9h1M1261.2 1470.4h1M1253.7 1483.8h1M1253.1 1473.1h1M1258.2 1482.3h1M1247.4 1501.6h1M1257.6 1472.0h1M1269.6 1467.2h1M1265.4 1482.0h1M1239.4 1502.3h1M1268.7 1476.7h1M1255.0 1480.7h1M1249.7 1486.3h1M1240.6 1480.4h1M1248.1 1482.6h1M1250.2 1484.5h1M1253.3 1485.4h1M1254.1 1480.4h1M1251.6 1485.8h1M1253.4 1483.2h1M1265.9 1470.4h1M1245.0 1477.7h1M1234.5 1483.6h1M1266.2 1477.2h1M1251.4 1482.9h1M1261.4 1478.9h1M1243.7 1494.6h1M1248.8 1479.6h1M1268.2 1471.7h1M1251.9 1485.9h1M1250.3 1483.9h1M1257.6 1487.5h1M1254.1 1479.4h1M1252.6 1487.5h1M1243.7 1483.1h1M1261.6 1487.3h1M1252.2 1487.2h1M1259.7 1486.6h1M1253.9 1473.0h1M1267.3 1466.6h1M1248.0 1487.0h1M1260.8 1483.9h1M1251.1 1481.0h1M1271.0 1475.1h1M1254.2 1484.4h1M1257.2 1476.9h1M1254.3 1491.9h1M1241.4 1484.2h1M1264.5 1479.9h1M1258.1 1471.8h1M1249.9 1479.5h1M1242.5 1477.5h1M1256.0 1492.7h1M1255.5 1496.3h1M1249.1 1473.3h1M1258.2 1470.1h1M1258.8 1475.9h1M1253.0 1483.3h1M1244.3 1489.5h1M1260.7 1490.0h1M1253.6 1486.8h1M1264.0 1481.2h1M1255.3 1483.6h1M1260.4 1496.9h1M1247.4 1494.2h1M1254.5 1484.4h1M1250.8 1483.9h1M1266.4 1475.8h1M1255.0 1481.1h1M1257.0 1479.2h1M1262.1 1479.7h1M1252.7 1472.0h1M1251.4 1478.0h1M1257.8 1476.3h1M1257.7 1478.2h1M1267.8 1477.5h1M1251.1 1474.7h1M1264.3 1487.3h1M1251.4 1486.4h1M1279.0 1466.1h1M1261.3 1476.3h1M1254.3 1497.2h1M1255.2 1467.9h1M1254.9 1481.5h1M1253.0 1479.3h1M1268.7 1457.5h1M1268.3 1470.8h1M1258.1 1482.3h1M1257.8 1472.2h1M1258.8 1487.9h1M1263.9 1474.3h1M1241.8 1485.6h1M1271.9 1473.1h1M1261.2 1477.9h1M1256.2 1485.2h1M1267.2 1473.4h1M1254.2 1486.6h1M1252.5 1485.1h1M1239.4 1482.4h1M1250.3 1490.2h1M1253.4 1489.2h1M1253.9 1486.5h1M1259.2 1489.3h1M1253.8 1484.2h1M1269.8 1476.2h1M1254.8 1495.2h1M1245.4 1486.6h1M1255.0 1491.0h1M1251.8 1491.6h1M1258.2 1476.8h1M1267.8 1483.7h1M1263.3 1464.8h1M1256.5 1477.4h1M1253.3 1480.2h1M1256.4 1473.6h1M1248.5 1491.3h1M1263.4 1482.0h1M1257.2 1472.5h1M1251.7 1489.5h1M1261.1 1481.0h1M1255.7 1462.7h1M1254.6 1487.7h1M1256.3 1495.1h1M1258.3 1483.4h1M1256.5 1483.7h1M1261.2 1479.2h1M1239.7 1486.1h1M1259.1 1484.0h1M1254.1 1482.3h1M1266.0 1474.1h1M1251.0 1489.2h1M1255.3 1482.7h1M1258.3 1483.3h1M1257.7 1482.0h1M1255.8 1479.9h1M1253.9 1486.4h1M1265.8 1482.1h1M1269.7 1458.2h1M1256.5 1489.5h1M1254.3 1484.6h1M1250.8 1493.1h1M1251.1 1496.0h1M1252.0 1488.4h1M1259.4 1469.9h1M1264.4 1488.5h1M1248.0 1492.7h1M1245.1 1498.3h1M1250.8 1478.6h1M1253.9 1494.6h1M1255.8 1471.4h1M1257.9 1471.1h1M1253.0 1488.6h1M1257.9 1483.4h1M1260.8 1469.8h1M1261.2 1477.2h1M1249.0 1497.0h1M1257.3 1468.1h1M1258.4 1486.6h1M1260.7 1472.2h1M1253.7 1481.7h1M1249.0 1491.2h1M1264.2 1458.9h1M1252.4 1478.0h1M1259.4 1463.1h1M1264.0 1474.8h1M1249.7 1486.8h1M1263.8 1485.8h1M1263.1 1482.3h1M1263.7 1472.3h1M1256.5 1480.2h1M1272.3 1471.4h1M1260.1 1470.6h1M1257.8 1485.5h1M1249.8 1477.9h1M1248.7 1494.6h1M1263.6 1476.2h1M1260.0 1462.9h1M1245.4 1495.9h1M1258.6 1470.9h1M1259.4 1479.8h1M1249.9 1482.0h1M1253.9 1483.2h1M1259.9 1473.8h1M1245.7 1485.3h1M1255.5 1486.2h1M1249.3 1486.7h1M1260.7 1477.4h1M1271.5 1465.5h1M1269.0 1482.4h1M1237.1 1490.8h1M1251.7 1487.7h1M1266.7 1473.3h1M1246.9 1480.7h1M1257.5 1477.0h1M1244.8 1484.9h1M1259.5 1474.3h1M1256.9 1479.0h1M1249.2 1485.7h1M1251.7 1485.9h1M1254.0 1488.7h1M1250.5 1490.0h1M1259.2 1481.9h1M1239.0 1508.0h1M1256.2 1476.8h1M1251.9 1482.8h1M1258.3 1502.9h1M1256.0 1484.3h1M1246.0 1489.6h1M1239.7 1500.5h1M1249.6 1488.6h1M1263.4 1482.3h1M1250.9 1477.6h1M1254.2 1487.4h1M1256.8 1458.4h1M1243.9 1489.6h1M1256.4 1484.9h1M1266.4 1471.8h1M1261.5 1467.6h1M1242.9 1483.0h1M1252.4 1490.2h1M1262.9 1488.0h1M1248.5 1481.1h1M1249.7 1470.7h1M1261.2 1476.1h1M1247.3 1494.9h1M1260.8 1484.0h1M1250.3 1482.3h1M1253.6 1481.4h1M1251.2 1493.5h1M1257.4 1471.6h1M1245.9 1483.2h1M1248.2 1483.6h1M1256.6 1484.3h1M1259.9 1466.6h1M1244.1 1484.7h1M1256.8 1484.9h1M1248.0 1489.4h1M1241.5 1485.8h1M1253.6 1489.2h1M1244.1 1479.4h1M1245.8 1489.4h1M1261.5 1462.0h1M1275.8 1461.9h1M1265.7 1474.6h1M1238.0 1504.0h1M1257.4 1481.7h1M1261.7 1471.3h1M1250.5 1490.3h1M1256.7 1482.1h1M1250.8 1485.6h1M1234.7 1508.3h1M1261.2 1473.6h1M1256.1 1484.5h1M1251.2 1483.8h1M1272.6 1473.2h1M1240.2 1494.8h1M1259.4 1481.8h1M1244.3 1489.9h1M1263.7 1480.1h1M1247.1 1488.6h1M1257.3 1487.7h1M1259.5 1479.0h1M1270.2 1468.6h1M1262.2 1485.8h1M1271.7 1472.5h1M1268.8 1467.3h1M1240.4 1497.3h1M1256.4 1479.7h1M1261.6 1475.8h1M1270.7 1466.8h1M1266.8 1477.1h1M1263.3 1467.2h1M1265.2 1468.9h1M1249.8 1503.6h1M1262.8 1482.8h1M1251.6 1492.0h1M1261.1 1495.0h1M1265.6 1467.9h1M1240.3 1501.5h1M1257.5 1478.2h1M1257.0 1477.0h1M1261.8 1477.1h1M1254.3 1490.2h1M1258.9 1476.0h1M1247.5 1483.9h1M1280.8 1469.2h1M1259.2 1472.9h1M1257.6 1472.2h1M1240.8 1483.3h1M1249.1 1483.7h1M1264.3 1473.4h1M1249.9 1485.6h1M1254.6 1482.1h1M1260.6 1484.8h1M1246.7 1494.4h1M1259.9 1482.8h1M1252.1 1479.1h1M1265.9 1477.9h1M1255.4 1490.9h1M1270.8 1457.8h1M1249.8 1467.0h1M1253.9 1476.0h1M1258.2 1476.4h1M1262.7 1482.2h1M1266.2 1476.0h1M1251.0 1485.8h1M1254.2 1479.8h1M1251.1 1487.8h1M1258.5 1476.0h1M1252.9 1494.0h1M1259.3 1491.8h1M1259.0 1479.3h1M1264.6 1470.8h1M1248.7 1491.7h1M1244.4 1498.8h1M1259.0 1481.8h1M1263.9 1486.9h1M1255.3 1478.0h1M1275.5 1456.2h1M1260.4 1474.0h1M1253.8 1483.3h1M1251.9 1486.0h1M1252.3 1481.3h1M1249.2 1486.7h1M1241.4 1502.0h1M1237.0 1501.9h1M1252.3 1479.8h1M1263.3 1487.2h1M1254.4 1478.5h1M1254.8 1475.9h1M1240.0 1494.2h1M1258.2 1475.6h1M1261.7 1478.9h1M1236.3 1492.8h1M1244.0 1484.6h1M1255.0 1473.6h1M1252.9 1495.6h1M1240.4 1488.9h1M1263.2 1471.7h1M1255.9 1484.8h1M1249.3 1485.8h1M1257.4 1488.4h1M1248.5 1477.9h1M1248.4 1493.8h1M1239.5 1488.6h1M1243.6 1481.9h1M1264.7 1486.3h1M1268.1 1466.1h1M1265.3 1470.1h1M1257.8 1483.6h1M1253.6 1479.5h1M1253.3 1481.3h1M1261.7 1481.9h1M1244.9 1489.9h1M1254.1 1496.5h1M1260.6 1476.0h1M1252.5 1492.7h1M1241.3 1485.3h1M1255.3 1491.7h1M1252.4 1481.0h1M1254.6 1489.6h1M1246.6 1486.9h1M1260.9 1479.1h1M1256.2 1483.9h1M1249.2 1471.9h1M1252.7 1479.3h1M1254.0 1482.4h1M1260.2 1481.8h1M1245.9 1487.5h1M1251.7 1485.2h1M1245.2 1494.7h1M1257.5 1473.3h1M1246.2 1498.9h1M1266.0 1471.4h1M1269.8 1472.5h1M1253.5 1481.3h1M1273.4 1464.1h1M1258.1 1488.8h1M1248.5 1486.6h1M1268.3 1473.2h1M1256.3 1488.3h1M1251.6 1467.7h1M1258.3 1485.5h1M1252.7 1476.1h1M1258.4 1472.8h1M1262.1 1475.5h1M1259.6 1469.8h1M1266.6 1464.9h1M1251.9 1481.4h1M1255.3 1482.8h1M1256.2 1485.9h1M1258.6 1475.8h1M1255.9 1482.6h1M1266.9 1477.8h1M1252.5 1491.2h1M1254.6 1471.1h1M1265.1 1482.9h1M1247.5 1481.5h1M1241.6 1499.3h1M1253.3 1482.7h1M1256.0 1470.6h1M1261.8 1488.0h1M1262.8 1466.6h1M1245.1 1497.2h1M1258.5 1479.1h1M1252.3 1491.4h1M1245.4 1484.9h1M1249.3 1488.6h1M1249.9 1478.0h1M1263.4 1482.2h1M1246.8 1496.7h1M1239.1 1479.2h1M1251.8 1476.3h1M1250.4 1482.0h1M1233.1 1501.7h1M1263.9 1477.0h1M1249.4 1495.0h1M1265.4 1480.9h1M1275.5 1470.1h1M1267.0 1472.8h1M1250.7 1477.0h1M1259.1 1485.0h1M1258.8 1471.6h1M1237.2 1497.0h1M1245.0 1496.7h1M1241.6 1490.1h1M1252.0 1483.0h1M1260.0 1482.6h1M1263.0 1483.2h1M1252.6 1489.4h1M1276.3 1458.1h1M1251.9 1486.8h1M1253.0 1481.7h1M1273.2 1475.0h1M1249.6 1482.3h1M1267.9 1475.9h1M1260.0 1483.4h1M1259.9 1487.6h1M1257.5 1482.0h1M1256.5 1471.9h1M1258.7 1479.7h1M1260.0 1470.6h1M1240.1 1495.8h1M1259.3 1477.3h1M1264.8 1482.4h1M1265.7 1475.6h1M1253.8 1475.6h1M1254.0 1481.4h1M1250.2 1489.3h1M1249.4 1481.9h1M1241.2 1484.6h1M1263.7 1464.8h1M1241.4 1478.9h1M1255.2 1482.8h1M1254.4 1475.5h1M1256.6 1498.0h1M1254.5 1485.6h1M1256.2 1480.3h1M1267.5 1470.4h1M1266.6 1479.3h1M1261.4 1474.2h1M1252.3 1493.0h1M1249.5 1476.6h1M1267.9 1481.3h1M1264.0 1473.7h1M1268.7 1469.2h1M1249.9 1490.4h1M1259.2 1474.4h1M1245.1 1484.2h1M1269.0 1470.6h1M1255.9 1492.6h1M1252.4 1478.0h1M1253.3 1489.7h1M1265.9 1474.8h1M1243.2 1476.2h1M1250.1 1492.2h1M1243.6 1485.8h1M1238.8 1484.8h1M1256.2 1462.4h1M1250.2 1492.2h1M1264.1 1479.4h1M1249.7 1488.5h1M1264.7 1462.8h1M1255.2 1475.6h1M1240.9 1492.2h1M1252.8 1492.2h1M1270.6 1481.1h1M1247.7 1487.6h1M1256.7 1474.9h1M1248.7 1488.7h1M1259.2 1470.9h1M1264.8 1464.5h1M1266.1 1475.4h1M1252.4 1485.9h1M1259.2 1466.0h1M1262.5 1470.9h1M1266.5 1477.2h1M1255.9 1475.4h1M1251.7 1476.8h1M1249.7 1504.9h1M1240.3 1479.9h1M1250.3 1472.6h1M1265.1 1482.9h1M1269.1 1472.7h1M1249.7 1481.2h1M1236.4 1495.4h1M1250.7 1481.3h1M1265.4 1465.7h1M1257.9 1486.9h1M1255.8 1488.9h1M1255.9 1474.1h1M1260.0 1473.4h1M1255.4 1487.3h1M1254.8 1478.6h1M1268.7 1477.6h1M1253.5 1479.3h1M1254.7 1484.1h1M1256.5 1466.0h1M1268.7 1468.3h1M1268.1 1489.7h1M1273.0 1475.9h1M1258.7 1487.9h1M1242.8 1493.3h1M1254.9 1494.2h1M1253.2 1472.8h1M1264.1 1473.5h1M1273.2 1486.3h1M1248.3 1499.2h1M1253.2 1487.8h1M1265.8 1480.9h1M1264.7 1475.6h1M1238.3 1499.7h1M1255.9 1478.4h1M1255.1 1489.1h1M1254.6 1478.9h1M1251.0 1480.9h1M1248.8 1485.3h1M1269.1 1478.8h1M1256.0 1474.3h1M1255.0 1486.5h1M1255.5 1488.7h1M1272.8 1472.5h1M1252.4 1487.8h1M1258.2 1483.2h1M1250.1 1490.0h1M1254.0 1476.3h1M1259.3 1481.8h1M1252.7 1480.4h1M1259.0 1480.1h1M1249.4 1487.4h1M1251.9 1478.2h1M1256.2 1475.6h1M1252.7 1495.1h1M1258.5 1466.5h1M1248.5 1481.7h1M1247.0 1501.2h1M1256.3 1488.2h1M1248.1 1481.4h1M1258.8 1473.2h1M1254.9 1470.0h1M1272.2 1474.4h1M1242.4 1479.9h1M1241.5 1496.8h1M1240.6 1496.7h1M1254.8 1477.3h1M1257.3 1476.0h1M1249.9 1488.4h1M1252.3 1488.3h1M1265.2 1495.7h1M1255.7 1495.7h1M1265.4 1479.8h1M1249.0 1479.8h1M1235.4 1498.1h1M1267.6 1476.0h1M1257.4 1464.6h1M1256.8 1475.9h1M1249.7 1505.1h1M1270.2 1462.2h1M1265.5 1470.1h1M1234.7 1482.6h1M1273.5 1479.6h1M1262.8 1492.5h1M1260.5 1468.3h1M1272.3 1476.0h1M1250.1 1486.3h1M1255.8 1473.5h1M1249.4 1496.0h1M1279.7 1459.8h1M1250.0 1484.1h1M1265.4 1460.0h1M1245.9 1488.0h1M1252.1 1480.2h1M1257.6 1483.6h1M1273.2 1469.5h1M1240.2 1500.1h1M1241.0 1485.8h1M1248.6 1481.4h1M1253.9 1478.5h1M1268.9 1464.6h1M1251.1 1499.5h1M1254.3 1491.4h1M1230.3 1489.9h1M1235.8 1494.4h1M1253.4 1511.4h1M1266.8 1460.2h1M1283.1 1466.4h1M1247.1 1489.8h1M1255.1 1468.4h1M1256.4 1467.8h1M1283.1 1480.7h1M1269.3 1485.1h1M1262.2 1482.5h1M1250.4 1492.4h1M1280.2 1471.1h1M1244.5 1492.0h1M1268.9 1479.5h1M1248.5 1474.3h1M1256.9 1491.9h1M1262.5 1467.0h1M1272.5 1484.9h1M1241.8 1485.4h1M1265.6 1488.6h1M1259.3 1484.2h1M1248.1 1497.7h1M1240.4 1504.9h1M1265.0 1494.5h1M1254.5 1465.4h1M1287.2 1477.3h1M1261.6 1481.2h1M1249.7 1486.2h1M1260.0 1487.0h1M1258.0 1478.6h1M1267.2 1510.6h1M1276.2 1475.2h1M1248.6 1484.1h1M1252.4 1483.3h1M1255.1 1461.3h1M1256.3 1480.6h1M1260.4 1486.9h1M1260.3 1479.0h1M1244.3 1464.8h1M1262.3 1472.2h1M1259.6 1475.0h1M1250.8 1501.4h1M1255.0 1489.8h1M1247.9 1485.9h1M1257.1 1461.0h1M1279.5 1468.4h1M1265.2 1482.9h1M1278.4 1453.6h1M1236.3 1496.5h1M1250.5 1485.6h1M1245.5 1496.5h1M1269.0 1476.6h1M1249.7 1471.8h1M1264.8 1477.0h1M1262.9 1474.9h1M1261.4 1461.6h1M1262.7 1487.6h1M1258.1 1487.3h1M1288.7 1484.2h1M1242.8 1502.2h1M1256.0 1475.2h1M1245.7 1471.4h1M1269.3 1474.6h1M1256.4 1496.3h1M1247.2 1490.1h1M1266.0 1447.4h1M1243.7 1505.7h1M1276.2 1491.0h1M1275.5 1466.6h1M1242.1 1491.0h1M1265.2 1493.3h1M1254.4 1489.6h1M1251.5 1499.2h1M1275.6 1457.9h1M1248.2 1479.3h1M1252.0 1479.9h1M1258.0 1502.3h1M1259.8 1484.4h1M1261.7 1478.8h1M1256.1 1479.9h1M1256.0 1470.5h1M1250.1 1491.2h1M1247.4 1472.2h1M1245.5 1483.1h1M1266.7 1489.7h1M1252.3 1495.6h1M1268.1 1466.0h1M1255.6 1470.2h1M1249.4 1506.0h1M1271.7 1489.8h1M1252.8 1478.2h1M1279.7 1481.1h1M1262.4 1467.5h1M1265.8 1481.6h1M1251.2 1486.8h1M1274.2 1468.7h1M1259.8 1476.3h1M1260.4 1477.6h1M1264.0 1482.2h1M1253.2 1491.1h1M1253.5 1489.1h1M1244.6 1497.6h1M1258.7 1488.9h1M1244.7 1477.1h1M1235.4 1463.5h1M1259.7 1495.8h1M1247.6 1487.9h1M1252.5 1494.0h1M1256.5 1494.0h1M1252.1 1469.8h1M1264.3 1455.1h1M1261.4 1488.0h1M1237.9 1502.9h1M1269.7 1477.9h1M1255.2 1486.1h1M1260.2 1458.4h1M1263.6 1498.3h1M1263.4 1482.2h1M1249.1 1483.5h1M1257.3 1502.5h1M1249.3 1472.6h1M1259.6 1470.8h1M1257.6 1460.8h1M1250.6 1486.9h1M1248.0 1502.0h1M1263.3 1470.3h1M1235.7 1484.9h1M1262.2 1473.5h1M1254.2 1488.4h1M1249.4 1468.5h1M1264.3 1468.2h1M1257.0 1480.3h1M1268.5 1484.9h1M1246.9 1492.0h1M1245.2 1491.2h1M1255.7 1481.3h1M1257.8 1478.5h1M1271.4 1466.8h1M1273.4 1462.9h1M1257.5 1495.8h1M1263.2 1463.2h1M1254.9 1476.3h1M1254.8 1493.2h1M1268.3 1484.7h1M1259.0 1492.0h1M1270.2 1468.8h1M1258.3 1489.7h1M1258.7 1464.0h1M1275.1 1489.8h1M1257.5 1478.0h1M1263.3 1478.3h1M1265.1 1461.3h1M1244.2 1493.4h1M1267.8 1466.8h1M1265.8 1474.6h1M1269.1 1488.1h1M1267.3 1491.1h1M1276.6 1466.3h1M1265.7 1478.9h1M1257.9 1480.0h1M1274.1 1473.8h1M1259.0 1480.4h1M1274.1 1477.1h1M1266.6 1496.0h1M1261.2 1488.8h1M1256.5 1481.3h1M1260.5 1473.4h1M1243.8 1472.5h1M1257.1 1466.5h1M1270.4 1475.1h1M1274.6 1482.3h1M1264.5 1474.5h1M1245.4 1479.4h1M1258.0 1462.3h1M1259.5 1467.0h1M1252.4 1505.3h1M1262.2 1480.3h1M1271.5 1496.2h1M1257.7 1490.8h1M1276.2 1481.2h1M1263.7 1484.5h1M1244.6 1477.2h1M1267.5 1494.9h1M1247.5 1481.8h1M1265.9 1462.8h1M1261.8 1479.1h1M1246.7 1477.3h1M1281.4 1470.7h1M1265.3 1478.8h1M1266.2 1491.8h1M1236.4 1478.8h1M1260.8 1482.8h1M1265.1 1481.5h1M1258.1 1469.9h1M1254.4 1495.7h1M1260.3 1475.2h1M1258.0 1489.1h1M1276.2 1491.1h1M1269.3 1475.9h1M1261.8 1454.6h1M1249.5 1479.4h1M1246.3 1497.8h1M1278.1 1456.5h1M1232.2 1492.8h1M1254.1 1495.0h1M1258.2 1458.8h1M1255.1 1468.1h1M1271.7 1470.6h1M1251.9 1473.6h1M1238.5 1491.5h1M1267.1 1488.5h1M1261.5 1450.1h1M1259.5 1478.9h1M1241.8 1487.6h1M1254.9 1460.0h1M1250.9 1493.1h1M1280.0 1469.5h1M1244.7 1470.2h1M1259.1 1489.7h1M1261.6 1496.5h1M1259.4 1481.2h1M1254.2 1492.4h1M1246.3 1490.2h1M1263.6 1474.7h1M1270.5 1445.5h1M1246.3 1482.4h1M1265.3 1506.6h1M1241.8 1506.0h1M1253.4 1482.9h1M1251.3 1491.8h1M1257.5 1487.1h1M1254.1 1491.3h1M1271.7 1491.2h1M1262.5 1491.1h1M1265.4 1479.0h1M1261.2 1477.2h1M1252.4 1484.0h1M1241.1 1496.1h1M1241.8 1490.8h1M1236.2 1505.5h1M1254.5 1490.9h1M1268.2 1499.4h1M1244.6 1475.5h1M1243.6 1482.3h1M1270.1 1497.5h1M1257.9 1465.3h1M1271.2 1461.0h1M1283.5 1476.6h1M1238.3 1479.4h1M1257.3 1483.7h1M1263.2 1494.5h1M1262.2 1480.1h1M1264.2 1470.6h1M1251.4 1482.0h1M1275.4 1485.0h1M1268.7 1487.2h1M1253.6 1491.8h1M1254.2 1451.2h1M1248.8 1486.0h1M1277.8 1467.6h1M1270.9 1448.1h1M1276.5 1467.5h1M1268.5 1479.0h1M1249.2 1469.0h1M1272.1 1483.3h1M1249.9 1488.4h1M1266.3 1460.3h1M1262.8 1478.8h1M1249.0 1486.0h1M1240.2 1492.3h1M1246.1 1496.9h1M1267.2 1460.5h1M1250.4 1500.3h1M1268.5 1467.8h1M1253.0 1471.2h1M1276.7 1470.2h1M1283.2 1475.8h1M1256.9 1465.4h1M1261.0 1477.5h1M1247.6 1462.9h1M1264.2 1488.6h1M1276.0 1467.5h1M1272.6 1466.0h1M1244.6 1495.9h1M1235.4 1471.3h1M1237.8 1480.8h1M1272.2 1473.1h1M1230.5 1483.1h1M1269.4 1496.8h1M1235.5 1498.8h1M1258.5 1491.0h1M1258.6 1465.8h1M1244.3 1483.7h1M1256.5 1471.8h1M1280.9 1464.1h1M1254.9 1482.5h1M1273.9 1453.6h1M1249.9 1488.6h1M1245.8 1471.6h1M1258.1 1466.7h1M1246.8 1460.4h1M1249.3 1478.8h1M1267.5 1479.1h1M1233.7 1503.0h1M1274.4 1474.2h1M1258.5 1470.2h1M1250.4 1502.0h1M1258.9 1482.2h1M1259.7 1484.3h1M1264.6 1468.1h1M1259.6 1474.6h1M1259.1 1498.3h1M1270.6 1477.1h1M1258.1 1483.4h1M1265.1 1508.0h1M1256.7 1485.8h1M1250.0 1480.3h1M1245.5 1505.1h1M1263.7 1481.2h1M1258.3 1494.7h1M1249.9 1492.7h1M1262.4 1460.2h1M1250.6 1468.3h1M1257.9 1494.7h1M1253.8 1493.3h1M1253.4 1475.3h1M1257.3 1487.4h1M1268.0 1484.1h1M1260.2 1472.0h1M1246.0 1483.9h1M1261.4 1478.3h1M1262.0 1496.4h1M1265.1 1479.0h1M1267.9 1485.3h1M1277.6 1467.8h1M1248.8 1505.1h1M1248.8 1458.5h1M1281.6 1469.8h1M1251.6 1494.5h1M1258.1 1479.6h1M1265.2 1497.8h1M1275.6 1463.2h1M1257.7 1482.1h1M1268.3 1474.6h1M1235.6 1483.1h1M1257.1 1479.5h1M1245.5 1486.2h1M1253.4 1492.0h1M1256.9 1465.9h1M1263.4 1473.3h1M1259.1 1487.3h1M1263.8 1483.4h1M1249.5 1482.4h1M1253.6 1468.1h1M1269.3 1479.4h1M1255.6 1464.1h1M1283.3 1456.6h1M1247.3 1510.9h1M1241.6 1489.5h1M1260.6 1486.9h1M1251.6 1475.6h1M1250.2 1497.9h1M1260.5 1474.6h1M1247.0 1465.1h1M1264.6 1478.6h1M1264.9 1450.6h1M1239.2 1488.2h1M1270.8 1470.2h1M1262.3 1474.4h1M1256.9 1487.6h1M1258.9 1482.0h1M1256.7 1475.1h1M1263.4 1472.8h1M1250.9 1490.6h1M1259.9 1485.6h1M1287.7 1449.3h1M1252.5 1483.6h1M1265.2 1471.6h1M1248.0 1485.4h1M1267.9 1484.6h1M1270.7 1473.6h1M1269.4 1471.4h1M1279.0 1473.2h1M1261.7 1483.7h1M1261.2 1455.5h1M1256.6 1485.4h1M1239.7 1515.6h1M1255.9 1482.8h1M1284.4 1482.4h1M1249.7 1494.7h1M1245.5 1492.4h1M1247.5 1485.7h1M1268.4 1470.8h1M1259.9 1500.6h1M1259.0 1511.5h1M1272.9 1478.4h1M1268.2 1462.9h1M1268.9 1469.8h1M1261.4 1473.0h1M1271.9 1493.9h1M1255.2 1474.4h1M1247.1 1480.4h1M1259.3 1477.9h1M1279.3 1464.6h1M1258.7 1468.8h1M1256.8 1481.3h1M1258.8 1488.6h1M1270.6 1482.4h1M1259.0 1476.8h1M1253.9 1479.4h1M1244.6 1485.3h1M1257.7 1484.5h1M1253.3 1505.3h1M1275.1 1481.5h1M1258.8 1470.6h1M1268.3 1475.0h1M1246.4 1480.0h1M1252.7 1484.3h1M1259.6 1498.4h1M1248.9 1482.4h1M1260.2 1483.4h1M1270.7 1481.9h1M1261.4 1487.1h1M1260.9 1468.5h1M1266.7 1483.9h1M1262.2 1469.8h1M1267.8 1470.0h1M1247.0 1485.0h1M1269.8 1483.8h1M1260.9 1489.3h1M1266.4 1477.6h1M1276.3 1477.5h1M1261.9 1496.4h1M1277.4 1462.6h1M1261.8 1493.3h1M1248.3 1471.9h1M1266.6 1470.9h1M1249.4 1499.6h1M1275.0 1483.6h1M1260.7 1467.7h1M1268.3 1482.7h1M1250.0 1481.5h1M1255.4 1477.0h1M1264.0 1491.3h1M1248.0 1484.2h1M1250.3 1473.4h1M1257.9 1477.8h1M1251.9 1492.8h1M1255.1 1504.1h1M1251.0 1481.6h1M1251.7 1486.2h1M1263.7 1474.2h1M1263.2 1479.8h1M1266.6 1480.7h1M1271.0 1469.3h1M1278.4 1486.0h1M1253.9 1486.5h1M1253.6 1507.5h1M1267.0 1465.8h1M1260.2 1463.5h1M1264.6 1447.5h1M1253.6 1486.5h1M1261.9 1488.2h1M1246.5 1473.6h1M1253.0 1475.3h1M1261.4 1494.0h1M1254.7 1482.3h1M1253.7 1457.5h1M1268.9 1479.7h1M1250.7 1501.3h1M1257.6 1466.1h1M1272.8 1494.7h1M1258.1 1477.6h1M1265.2 1465.5h1M1249.5 1483.2h1M1244.0 1511.5h1M1250.9 1474.6h1M1280.7 1483.2h1M1258.0 1453.1h1M1275.6 1477.4h1M1268.1 1468.3h1M1263.4 1464.3h1M1247.6 1480.8h1M1245.7 1502.0h1M1238.5 1488.2h1M1263.2 1482.8h1M1259.5 1477.4h1M1270.2 1481.3h1M1257.7 1478.2h1M1266.7 1490.7h1M1263.7 1469.4h1M1270.6 1480.6h1M1266.9 1484.5h1M1263.5 1471.0h1M1261.2 1479.1h1M1256.1 1486.7h1M1250.5 1469.3h1M1239.7 1498.3h1M1251.3 1488.6h1M1242.6 1484.5h1M1246.6 1464.6h1M1264.9 1480.0h1M1260.2 1483.5h1M1248.2 1500.1h1M1257.5 1478.9h1M1262.5 1469.3h1M1261.2 1471.0h1M1261.8 1488.2h1M1258.8 1482.5h1M1272.4 1475.2h1M1252.1 1479.2h1M1265.9 1472.0h1M1282.8 1493.5h1M1252.3 1478.5h1M1259.6 1477.4h1M1263.6 1475.3h1M1256.2 1499.6h1M1247.0 1488.5h1M1253.3 1468.4h1M1274.8 1468.5h1M1273.8 1467.9h1M1252.0 1496.0h1M1246.1 1491.9h1M1268.5 1481.4h1M1260.0 1482.8h1M1237.3 1486.1h1M1255.9 1475.1h1M1240.2 1489.1h1M1252.1 1486.2h1M1255.5 1482.6h1M1243.9 1490.7h1M1274.7 1482.6h1M1264.0 1462.7h1M1267.5 1473.9h1M1253.3 1488.1h1M1232.1 1483.5h1M1273.3 1485.8h1M1245.1 1480.8h1M1269.0 1461.4h1M1262.4 1501.8h1M1256.4 1491.8h1M1247.1 1463.6h1M1270.5 1457.3h1M1260.6 1487.4h1M1276.9 1475.2h1M1248.3 1491.7h1M1250.1 1489.2h1M1245.3 1482.4h1M1264.5 1462.2h1M1245.4 1487.1h1M1265.7 1486.1h1M1260.8 1483.6h1M1267.7 1499.1h1M1262.2 1488.8h1M1266.0 1479.3h1M1253.8 1483.2h1M1277.3 1469.2h1M1246.0 1491.7h1M1261.2 1488.8h1M1263.6 1481.1h1M1249.0 1483.6h1M1263.7 1509.6h1M1263.2 1483.7h1M1249.3 1466.0h1M1263.7 1480.8h1M1261.5 1480.3h1M1267.6 1488.0h1M1251.9 1461.4h1M1267.5 1472.5h1M1259.2 1495.9h1M1257.6 1466.9h1M1249.8 1489.5h1M1256.7 1478.4h1M1243.4 1485.0h1M1262.5 1478.5h1M1278.1 1482.4h1M1253.8 1484.6h1M1261.8 1471.7h1M1279.0 1463.5h1M1264.4 1472.3h1M1249.1 1466.7h1M1277.6 1454.3h1M1268.1 1473.7h1M1263.4 1483.5h1M1270.3 1465.8h1M1264.3 1483.9h1M1279.0 1471.6h1M1254.9 1476.4h1M1265.9 1485.6h1M1273.3 1482.4h1M1250.7 1497.2h1M1263.5 1471.8h1M1269.8 1481.9h1M1249.2 1481.5h1M1248.3 1486.8h1M1256.4 1484.7h1M1246.8 1493.1h1M1273.7 1466.3h1M1263.7 1473.8h1M1268.5 1488.7h1M1268.8 1462.3h1M1252.0 1492.3h1M1247.1 1493.1h1M1280.1 1477.3h1M1257.0 1473.5h1M1234.7 1471.8h1M1245.4 1482.3h1M1252.8 1478.5h1M1262.9 1485.4h1M1245.9 1497.7h1M1253.6 1481.1h1M1242.9 1495.3h1M1256.6 1496.0h1M1268.9 1464.8h1M1262.7 1477.9h1M1266.9 1472.3h1M1242.6 1490.6h1M1262.7 1467.6h1M1244.8 1511.5h1M1250.3 1489.5h1M1261.6 1491.0h1M1241.3 1479.9h1M1273.3 1483.8h1M1265.1 1469.9h1M1263.9 1483.9h1M1262.3 1483.5h1M1239.8 1484.1h1M1270.7 1479.1h1M1267.9 1465.9h1M1286.0 1457.1h1M1243.3 1483.2h1M1265.5 1475.9h1M1265.7 1479.8h1M1272.6 1490.9h1M1251.6 1503.6h1M1244.1 1493.0h1M1287.9 1487.5h1M1260.4 1467.2h1M1271.4 1488.6h1M1247.8 1490.4h1M1239.5 1497.0h1M1277.8 1485.9h1M1237.7 1478.0h1M1262.3 1482.1h1M1254.2 1485.7h1M1282.6 1462.2h1M1235.2 1476.5h1M1259.4 1462.2h1M1280.0 1477.9h1M1253.4 1493.8h1M1247.6 1483.4h1M1246.6 1488.5h1M1259.6 1469.6h1M1254.2 1495.6h1M1251.5 1493.1h1M1266.0 1480.8h1M1277.0 1490.2h1M1257.7 1475.7h1M1259.4 1483.3h1M1276.2 1443.6h1M1258.5 1500.3h1M1259.4 1495.2h1M1270.8 1459.2h1M1253.7 1478.1h1M1262.7 1483.9h1M1266.6 1476.9h1M1255.7 1492.7h1M1253.1 1484.3h1M1283.8 1473.8h1M1267.1 1475.6h1M1238.2 1482.2h1M1258.2 1472.0h1M1253.8 1471.5h1M1260.6 1466.5h1M1282.4 1473.1h1M1248.5 1476.1h1M1261.7 1490.5h1M1274.4 1476.7h1M1269.7 1474.3h1M1278.2 1468.2h1M1272.1 1487.5h1M1251.1 1474.8h1M1247.6 1478.1h1M1251.3 1491.9h1M1261.5 1492.6h1M1233.8 1508.7h1M1270.0 1461.9h1M1268.8 1484.4h1M1255.8 1477.0h1M1250.0 1460.9h1M1258.1 1476.0h1M1266.8 1477.6h1M1258.3 1457.4h1M1254.0 1489.6h1M1266.4 1461.4h1M1265.3 1470.5h1M1246.3 1480.6h1M1248.3 1495.0h1M1247.6 1502.1h1M1249.6 1497.9h1M1264.9 1459.2h1M1273.1 1488.8h1M1255.9 1499.4h1M1266.2 1444.8h1M1267.9 1469.6h1M1261.6 1491.6h1M1235.4 1468.1h1M1251.6 1481.7h1M1261.6 1471.2h1M1261.0 1478.8h1M1257.6 1472.9h1M1254.5 1477.6h1M1251.4 1484.7h1M1269.6 1487.2h1M1265.7 1477.5h1M1263.9 1489.7h1M1268.3 1478.5h1M1265.7 1485.7h1M1260.3 1475.4h1M1273.9 1475.0h1M1268.8 1471.1h1M1243.1 1497.4h1M1251.7 1472.4h1M1255.6 1470.7h1M1257.2 1464.4h1M1242.1 1496.2h1M1257.3 1486.5h1M1270.9 1468.1h1M1276.7 1468.3h1M1264.4 1482.1h1M1263.0 1477.6h1M1268.1 1460.2h1M1248.3 1486.7h1M1265.2 1484.3h1M1280.2 1456.7h1M1232.9 1481.2h1M1257.8 1460.4h1M1276.2 1467.9h1M1257.0 1495.8h1M1267.8 1491.1h1M1250.5 1489.6h1M1249.6 1477.4h1M1265.9 1479.0h1M1266.2 1463.9h1M1258.1 1471.4h1M1254.1 1494.7h1M1255.3 1488.0h1M1256.2 1469.0h1M1265.9 1470.5h1M1261.1 1481.0h1M1271.0 1496.1h1M1239.4 1486.1h1M1245.0 1498.1h1M1277.4 1461.3h1M1263.2 1485.2h1M1268.7 1460.3h1M1275.6 1471.8h1M1256.9 1494.5h1M1265.8 1457.2h1M1271.6 1483.2h1M1244.5 1489.6h1M1280.1 1474.4h1M1231.9 1483.3h1M1251.3 1487.8h1M1257.7 1481.5h1M1258.8 1473.2h1M1267.0 1474.9h1M1283.0 1467.8h1M1257.4 1505.3h1M1260.8 1491.3h1M1268.9 1467.0h1M1261.4 1475.6h1M1260.8 1462.8h1M1258.5 1488.8h1M1253.8 1485.4h1M1271.6 1476.0h1M1272.4 1451.2h1M1244.6 1490.8h1M1252.9 1500.2h1M1264.8 1484.4h1M1242.1 1481.1h1M1238.3 1496.3h1M1242.4 1501.8h1M1265.6 1477.5h1M1253.4 1448.6h1M1270.8 1476.1h1M1255.9 1496.4h1M1273.7 1487.3h1M1271.7 1451.6h1M1264.8 1477.7h1M1261.7 1476.0h1M1279.7 1492.6h1M1279.2 1477.1h1M1267.2 1475.2h1M1236.4 1497.9h1M1265.8 1474.0h1M1256.2 1474.8h1M1264.8 1476.2h1M1257.2 1472.2h1M1250.9 1495.9h1M1248.8 1482.2h1M1277.5 1471.5h1M1266.1 1467.7h1M1273.4 1486.9h1M1259.1 1477.1h1M1265.8 1467.0h1M1258.0 1492.4h1M1272.2 1488.5h1M1264.9 1474.6h1M1251.4 1486.4h1M1257.3 1476.0h1M1264.6 1493.0h1M1250.5 1476.0h1M1256.6 1456.7h1M1270.0 1487.7h1M1271.8 1501.8h1M1252.8 1491.0h1M1267.3 1460.6h1M1253.2 1493.4h1M1262.7 1485.5h1M1260.1 1488.4h1M1263.1 1482.5h1M1273.6 1475.0h1M1253.6 1489.3h1M1292.4 1447.6h1M1266.8 1472.1h1M1229.6 1508.0h1M1259.7 1506.5h1M1241.4 1499.4h1M1265.7 1475.1h1M1244.8 1489.2h1M1265.8 1473.9h1M1255.0 1484.9h1M1255.6 1485.8h1M1263.3 1486.8h1M1264.4 1476.5h1M1257.3 1473.0h1M1250.8 1502.3h1M1263.3 1470.8h1M1274.4 1465.0h1M1258.7 1492.4h1M1261.2 1479.2h1M1279.1 1485.4h1M1237.9 1483.2h1M1259.5 1500.6h1M1271.3 1468.8h1M1251.2 1507.0h1M1263.6 1471.6h1M1269.2 1485.6h1M1249.7 1503.2h1M1269.8 1479.8h1M1263.6 1476.8h1M1258.5 1489.8h1M1256.0 1465.6h1M1280.4 1475.1h1M1265.4 1476.3h1M1246.3 1495.0h1M1256.1 1486.6h1M1250.3 1501.2h1M1252.6 1481.0h1M1244.9 1487.3h1M1252.0 1490.2h1M1245.4 1494.3h1M1271.3 1483.2h1M1253.3 1481.1h1M1254.1 1495.0h1M1247.1 1486.9h1M1264.6 1462.2h1M1247.9 1482.5h1M1248.4 1502.6h1M1288.6 1478.4h1M1265.5 1492.5h1M1228.6 1485.1h1M1264.2 1474.2h1M1245.9 1485.1h1M1252.4 1482.1h1M1229.2 1507.8h1M1273.6 1473.0h1M1238.2 1485.2h1M1258.7 1478.1h1M1270.2 1475.5h1M1238.3 1487.8h1M1251.9 1494.6h1M1263.3 1460.4h1M1259.1 1479.9h1M1261.1 1488.8h1M1255.5 1479.9h1M1269.2 1486.3h1M1262.8 1476.4h1M1269.5 1482.9h1M1268.1 1471.0h1M1278.6 1448.2h1M1261.0 1496.2h1M1258.5 1484.0h1M1253.6 1490.7h1M1262.3 1485.0h1M1247.6 1477.8h1M1239.0 1490.1h1M1288.4 1450.2h1M1282.0 1450.0h1M1249.6 1484.1h1M1246.0 1500.0h1M1250.6 1492.6h1M1266.5 1493.9h1M1278.4 1462.8h1M1263.9 1498.1h1M1269.9 1472.2h1M1253.6 1519.2h1M1273.5 1459.2h1M1262.8 1471.6h1M1265.9 1475.4h1M1247.2 1489.6h1M1247.4 1497.6h1M1269.8 1476.1h1M1255.6 1479.1h1M1271.3 1475.3h1M1246.5 1477.6h1M1278.6 1464.2h1M1262.2 1473.8h1M1268.9 1478.8h1M1257.0 1479.5h1M1253.1 1478.7h1M1262.3 1470.1h1M1253.1 1494.6h1M1261.5 1502.4h1M1258.4 1482.3h1M1271.2 1466.9h1M1252.6 1478.2h1M1270.8 1476.3h1M1265.9 1485.0h1M1264.3 1491.9h1M1245.6 1483.6h1M1263.1 1502.0h1M1245.8 1498.9h1M1244.6 1491.0h1M1275.4 1494.0h1M1272.0 1475.0h1M1276.7 1473.7h1M1268.3 1474.9h1M1282.4 1473.3h1M1268.1 1477.9h1M1265.8 1488.1h1M1268.2 1494.4h1M1254.4 1493.5h1M1253.9 1485.1h1M1255.2 1477.3h1M1253.5 1481.3h1M1282.6 1466.1h1M1251.0 1487.3h1M1266.1 1477.8h1M1256.4 1463.1h1M1254.7 1471.6h1M1251.4 1481.3h1M1255.4 1476.2h1M1259.7 1498.2h1M1257.2 1493.4h1M1253.0 1481.4h1M1265.4 1473.6h1M1264.2 1453.4h1M1263.2 1477.3h1M1273.5 1447.7h1M1249.5 1474.5h1M1274.5 1480.9h1M1259.1 1495.0h1M1282.0 1459.1h1M1248.2 1487.7h1M1256.2 1492.9h1M1269.8 1460.3h1M1284.7 1464.3h1M1270.7 1486.4h1M1275.6 1457.0h1M1257.1 1480.1h1M1268.1 1464.7h1M1258.8 1467.8h1M1268.0 1468.7h1M1281.8 1484.7h1M1257.7 1496.2h1M1249.6 1481.7h1M1263.3 1471.9h1M1268.7 1485.7h1M1278.9 1482.3h1M1268.0 1472.9h1M1287.2 1454.5h1M1257.2 1474.7h1M1263.1 1471.2h1M1260.7 1501.4h1M1250.3 1481.0h1M1256.7 1498.2h1M1254.7 1481.3h1M1269.7 1488.1h1M1281.3 1469.0h1M1268.0 1479.4h1M1267.6 1487.5h1M1249.9 1497.4h1M1267.9 1484.5h1M1254.7 1478.9h1M1260.3 1482.8h1M1248.6 1513.7h1M1266.0 1468.9h1M1259.4 1493.1h1M1258.2 1473.9h1M1249.3 1496.0h1M1258.6 1485.6h1M1257.4 1453.1h1M1255.3 1499.3h1M1269.5 1462.8h1M1252.1 1477.0h1M1263.4 1469.8h1M1247.1 1497.6h1M1265.6 1473.1h1M1268.9 1466.4h1M1243.9 1489.1h1M1256.9 1499.1h1M1248.1 1485.1h1M1270.2 1476.0h1M1255.2 1483.8h1M1237.5 1511.6h1M1271.9 1476.1h1M1256.5 1472.5h1M1278.0 1458.9h1M1251.1 1484.1h1M1254.7 1482.8h1M1257.3 1490.1h1M1239.5 1479.6h1M1227.0 1483.3h1M1256.1 1479.0h1M1265.0 1469.4h1M1256.5 1479.0h1M1270.4 1465.2h1M1234.9 1486.5h1M1264.6 1489.5h1M1234.7 1491.5h1M1259.7 1475.7h1M1278.3 1460.6h1M1257.6 1487.2h1M1239.6 1498.1h1M1259.6 1481.0h1M1245.7 1488.1h1M1249.4 1484.0h1M1245.5 1493.4h1M1251.7 1479.9h1M1255.0 1466.2h1M1264.2 1493.6h1M1261.8 1478.5h1M1255.3 1472.6h1M1234.6 1493.0h1M1246.1 1485.9h1M1259.3 1483.3h1M1256.5 1488.7h1M1249.1 1469.2h1M1263.1 1489.0h1M1255.3 1479.1h1M1281.8 1476.9h1M1265.1 1491.9h1M1253.3 1488.9h1M1250.5 1483.6h1M1268.4 1485.1h1M1257.5 1484.2h1M1271.5 1473.6h1M1250.7 1489.0h1M1261.8 1490.4h1M1283.7 1451.1h1M1259.8 1469.6h1M1242.2 1497.2h1M1267.3 1488.2h1M1258.0 1491.4h1M1268.4 1451.1h1M1269.5 1450.5h1M1262.9 1484.1h1M1265.8 1461.9h1M1260.4 1454.2h1M1255.7 1450.5h1M1266.4 1464.4h1M1255.5 1479.5h1M1245.1 1465.5h1M1275.3 1473.1h1M1266.1 1471.5h1M1256.4 1490.8h1M1279.7 1455.3h1M1257.2 1464.6h1M1239.2 1445.2h1M1252.8 1471.9h1M1261.8 1472.7h1M1260.8 1474.1h1M1269.4 1456.1h1M1264.8 1488.9h1M1256.6 1469.8h1M1270.0 1463.3h1M1271.4 1448.9h1M1269.1 1480.9h1M1256.2 1473.3h1M1270.0 1469.3h1M1265.8 1494.6h1M1267.4 1459.0h1M1252.6 1471.9h1M1266.2 1457.9h1M1270.4 1466.4h1M1248.6 1460.7h1M1265.0 1470.4h1M1258.5 1469.7h1M1270.8 1467.4h1M1255.4 1461.4h1M1260.1 1479.1h1M1251.0 1465.7h1M1266.6 1485.2h1M1249.9 1477.4h1M1255.0 1451.1h1M1260.0 1474.5h1M1267.6 1473.9h1M1253.4 1481.2h1M1263.5 1481.9h1M1253.4 1462.4h1M1251.8 1467.2h1M1248.9 1483.0h1M1266.3 1473.9h1M1260.4 1465.7h1M1256.6 1470.9h1M1245.6 1466.0h1M1250.1 1499.2h1M1251.6 1473.9h1M1268.6 1465.0h1M1259.4 1455.3h1M1272.7 1463.3h1M1260.3 1471.4h1M1250.5 1448.5h1M1266.9 1448.4h1M1279.3 1480.3h1M1250.3 1478.3h1M1248.8 1462.8h1M1263.0 1460.0h1M1262.4 1447.2h1M1262.6 1478.2h1M1274.5 1445.6h1M1259.2 1478.3h1M1280.9 1465.1h1M1270.2 1482.1h1M1263.1 1470.8h1M1244.4 1483.1h1M1272.8 1460.8h1M1281.6 1470.6h1M1259.6 1486.8h1M1262.8 1476.9h1M1264.4 1477.2h1M1252.0 1466.6h1M1273.5 1483.7h1M1260.2 1480.8h1M1254.0 1465.3h1M1264.5 1466.4h1M1262.4 1469.1h1M1272.6 1480.9h1M1271.2 1483.5h1M1254.7 1463.1h1M1263.3 1459.0h1M1257.8 1485.6h1M1265.7 1481.4h1M1270.4 1463.7h1M1267.8 1486.1h1M1276.2 1453.6h1M1262.2 1477.2h1M1264.4 1480.7h1M1255.0 1473.0h1M1250.7 1442.7h1M1252.3 1469.4h1M1263.4 1453.9h1M1268.6 1471.8h1M1240.3 1444.7h1M1272.1 1466.2h1M1269.6 1459.3h1M1266.3 1467.9h1M1262.2 1457.5h1M1264.9 1471.2h1M1260.0 1467.0h1M1260.2 1475.6h1M1255.3 1469.7h1M1251.1 1451.0h1M1272.8 1465.7h1M1265.0 1461.4h1M1262.2 1470.6h1M1241.8 1454.9h1M1241.1 1462.6h1M1260.4 1465.1h1M1251.9 1458.6h1M1264.2 1461.2h1M1274.1 1451.9h1M1261.0 1478.9h1M1256.9 1488.2h1M1265.7 1456.0h1M1257.0 1462.5h1M1262.0 1475.6h1M1256.3 1476.4h1M1263.4 1445.5h1M1256.4 1455.2h1M1243.5 1488.2h1M1277.5 1475.6h1M1262.6 1478.0h1M1260.1 1462.5h1M1263.2 1467.2h1M1253.5 1457.3h1M1262.9 1463.6h1M1260.0 1430.7h1M1258.5 1462.6h1M1269.4 1449.8h1M1260.5 1485.6h1M1253.3 1463.1h1M1269.7 1486.0h1M1275.0 1453.9h1M1272.7 1479.3h1M1249.1 1490.3h1M1262.8 1468.2h1M1251.9 1472.2h1M1265.8 1454.4h1M1256.6 1469.3h1M1274.9 1464.1h1M1269.5 1469.9h1M1247.4 1474.3h1M1267.5 1451.5h1M1259.1 1475.7h1M1265.3 1472.0h1M1269.6 1479.9h1M1257.5 1485.5h1M1270.9 1469.9h1M1257.3 1461.4h1M1274.3 1470.5h1M1281.2 1484.5h1M1241.8 1485.6h1M1267.9 1486.9h1M1256.6 1485.3h1M1271.2 1470.4h1M1259.7 1471.3h1M1265.4 1479.6h1M1263.5 1497.9h1M1272.3 1460.5h1M1246.6 1469.2h1M1244.8 1471.1h1M1272.7 1465.0h1M1270.7 1468.3h1M1255.3 1463.7h1M1249.5 1461.3h1M1264.2 1442.7h1M1265.4 1489.6h1M1260.7 1483.1h1M1260.8 1472.5h1M1266.4 1474.6h1M1250.4 1451.3h1M1250.2 1448.3h1M1276.2 1464.1h1M1263.8 1465.9h1M1255.6 1481.8h1M1250.8 1459.2h1M1264.4 1465.1h1M1259.8 1471.1h1M1275.0 1435.2h1M1255.5 1444.8h1M1273.0 1473.5h1M1265.5 1461.4h1M1251.6 1458.9h1M1255.4 1464.2h1M1266.6 1489.2h1M1275.9 1462.7h1M1259.6 1466.6h1M1265.4 1457.5h1M1270.0 1458.4h1M1260.5 1459.9h1M1266.4 1468.5h1M1263.8 1462.1h1M1263.5 1472.5h1M1259.9 1490.0h1M1266.3 1455.4h1M1259.1 1459.6h1M1270.1 1474.8h1M1269.3 1460.7h1M1256.5 1456.5h1M1268.8 1450.1h1M1271.4 1459.0h1M1257.9 1467.7h1M1281.2 1468.7h1M1276.9 1461.0h1M1252.7 1470.5h1M1249.8 1483.1h1M1258.6 1441.9h1M1249.0 1464.4h1M1265.2 1465.4h1M1259.5 1457.4h1M1243.5 1463.6h1M1259.3 1452.7h1M1262.2 1464.6h1M1265.6 1451.6h1M1255.9 1484.2h1M1266.7 1478.4h1M1258.2 1474.4h1M1268.9 1466.8h1M1274.6 1468.0h1M1274.9 1476.7h1M1264.4 1448.6h1M1266.1 1490.0h1M1256.5 1465.6h1M1260.1 1480.4h1M1252.5 1477.3h1M1257.4 1473.2h1M1258.6 1465.2h1M1250.5 1482.5h1M1261.2 1473.5h1M1270.4 1456.0h1M1244.5 1470.7h1M1274.0 1460.3h1M1263.6 1480.4h1M1259.8 1465.4h1M1268.3 1470.6h1M1262.8 1467.9h1M1257.5 1453.5h1M1262.6 1479.8h1M1264.4 1477.0h1M1254.2 1488.1h1M1270.4 1479.9h1M1271.8 1464.7h1M1269.0 1482.3h1M1258.3 1453.4h1M1264.2 1476.1h1M1274.8 1450.8h1M1250.5 1467.3h1M1248.3 1476.9h1M1264.0 1467.5h1M1262.2 1492.7h1M1263.2 1468.3h1M1261.9 1455.7h1M1262.8 1462.3h1M1257.4 1450.9h1M1252.1 1453.3h1M1263.2 1469.4h1M1258.5 1462.7h1M1263.7 1461.7h1M1258.9 1472.8h1M1270.5 1460.1h1M1282.3 1480.0h1M1260.3 1478.9h1M1262.9 1456.4h1M1256.4 1487.2h1M1276.3 1479.8h1M1246.2 1477.0h1M1275.6 1480.8h1M1254.1 1455.4h1M1261.1 1472.7h1M1262.2 1474.7h1M1262.1 1475.8h1M1256.7 1460.9h1M1252.8 1478.4h1M1269.0 1447.6h1M1271.6 1452.2h1M1262.7 1472.2h1M1253.1 1456.1h1M1255.5 1464.5h1M1269.6 1469.5h1M1258.2 1462.1h1M1259.5 1454.4h1M1266.5 1469.2h1M1259.9 1475.2h1M1256.8 1455.5h1M1251.4 1474.8h1M1261.5 1483.4h1M1264.1 1478.8h1M1266.0 1477.1h1M1251.2 1446.8h1M1263.3 1490.3h1M1249.4 1475.4h1M1268.9 1464.1h1M1244.3 1475.4h1M1293.1 1463.5h1M1282.5 1469.6h1M1313.7 1460.2h1M1295.2 1464.9h1M1291.9 1506.7h1M1271.1 1475.1h1M1258.0 1479.9h1M1266.0 1500.8h1M1270.9 1492.1h1M1297.5 1500.7h1M1278.3 1480.4h1M1322.4 1456.5h1M1262.6 1479.3h1M1291.9 1478.5h1M1288.8 1495.1h1M1310.8 1473.2h1M1267.4 1470.5h1M1307.3 1461.5h1M1303.0 1488.2h1M1289.0 1480.1h1M1273.6 1490.0h1M1291.4 1486.7h1M1282.6 1479.5h1M1308.8 1457.4h1M1300.6 1467.4h1M1264.9 1472.3h1M1281.9 1482.8h1M1259.0 1486.6h1M1301.4 1462.3h1M1282.5 1479.2h1M1269.2 1466.5h1M1318.2 1504.4h1M1283.5 1470.4h1M1273.5 1472.8h1M1289.0 1493.2h1M1289.1 1480.8h1M1301.5 1472.4h1M1279.0 1486.2h1M1300.0 1472.0h1M1291.6 1487.2h1M1269.2 1472.2h1M1284.9 1476.2h1M1273.8 1482.7h1M1327.5 1488.0h1M1264.1 1473.7h1M1309.7 1489.2h1M1278.7 1496.7h1M1282.5 1493.2h1M1291.1 1489.4h1M1274.5 1459.0h1M1302.5 1495.8h1M1248.8 1508.1h1M1295.4 1465.4h1M1269.2 1486.6h1M1286.0 1477.1h1M1291.5 1473.0h1M1315.6 1483.9h1M1283.1 1485.0h1M1286.9 1487.6h1M1266.1 1468.3h1M1299.6 1478.6h1M1301.0 1459.4h1M1306.6 1447.1h1M1271.1 1454.6h1M1300.0 1501.1h1M1296.3 1476.9h1M1294.1 1469.6h1M1283.0 1502.1h1M1283.3 1502.3h1M1305.3 1490.1h1M1289.9 1491.6h1M1298.1 1474.6h1M1279.8 1471.5h1M1298.0 1469.1h1M1278.6 1508.1h1M1300.2 1507.6h1M1289.0 1481.2h1M1294.3 1485.9h1M1267.5 1491.4h1M1289.8 1471.5h1M1293.7 1474.0h1M1293.4 1499.9h1M1242.4 1452.9h1M1304.0 1464.5h1M1263.0 1474.1h1M1303.7 1485.8h1M1291.6 1459.8h1M1295.5 1463.9h1M1267.1 1481.1h1M1303.7 1477.1h1M1280.3 1489.9h1M1289.9 1499.8h1M1283.0 1505.4h1M1252.1 1504.7h1M1279.2 1475.9h1M1286.7 1476.5h1M1293.3 1479.8h1M1282.1 1488.3h1M1278.0 1463.4h1M1274.7 1466.7h1M1277.7 1487.9h1M1274.0 1505.7h1M1305.4 1492.6h1M1291.1 1501.9h1M1275.9 1478.4h1M1287.0 1493.2h1M1262.9 1461.4h1M1287.5 1477.5h1M1268.1 1474.5h1M1302.3 1486.2h1M1281.9 1474.7h1M1284.1 1491.1h1M1284.0 1496.0h1M1283.0 1496.1h1M1291.5 1452.6h1M1291.8 1475.6h1M1284.0 1483.3h1M1264.2 1487.9h1M1313.3 1488.3h1M1290.9 1493.8h1M1265.4 1475.3h1M1275.4 1491.7h1M1293.4 1476.3h1M1290.0 1469.0h1M1295.6 1484.6h1M1288.1 1500.5h1M1282.2 1478.1h1M1279.7 1495.2h1M1280.7 1510.7h1M1296.3 1495.6h1M1265.3 1467.2h1M1268.2 1487.4h1M1285.9 1490.2h1M1284.6 1478.5h1M1262.3 1456.9h1M1320.7 1462.6h1M1302.4 1460.6h1M1290.9 1478.6h1M1277.7 1482.2h1M1302.1 1499.1h1M1284.5 1461.3h1M1301.5 1505.3h1M1302.0 1504.6h1M1320.1 1471.2h1M1291.1 1492.8h1M1261.2 1505.6h1M1288.6 1467.3h1M1242.0 1501.1h1M1304.2 1487.0h1M1286.3 1507.7h1M1252.1 1480.3h1M1263.0 1496.1h1M1293.0 1473.2h1M1265.7 1488.0h1M1292.1 1498.6h1M1246.0 1488.7h1M1291.9 1482.2h1M1313.7 1473.3h1M1290.2 1483.3h1M1250.4 1494.3h1M1267.8 1455.2h1M1296.3 1501.9h1M1280.5 1481.4h1M1312.2 1489.5h1M1290.0 1488.5h1M1266.3 1477.0h1M1259.8 1457.5h1M1293.1 1482.4h1M1276.7 1488.4h1M1295.5 1494.1h1M1280.2 1484.6h1M1290.4 1457.2h1M1284.0 1487.4h1M1260.6 1488.1h1M1301.6 1489.7h1M1297.8 1457.8h1M1281.2 1478.5h1M1267.1 1481.1h1M1308.8 1510.3h1M1286.3 1480.0h1M1278.6 1478.5h1M1317.5 1509.2h1M1282.7 1502.1h1M1295.3 1466.4h1M1280.2 1497.5h1M1273.4 1470.8h1M1299.6 1518.5h1M1301.7 1480.3h1M1274.4 1485.2h1M1273.8 1519.5h1M1283.0 1495.2h1M1275.0 1491.8h1M1258.7 1481.0h1M1297.2 1484.2h1M1277.5 1485.4h1M1296.3 1482.5h1M1301.2 1482.3h1M1273.9 1470.3h1M1288.2 1484.5h1M1277.4 1485.6h1M1294.3 1483.3h1M1295.8 1501.8h1M1296.5 1478.8h1M1267.7 1494.4h1M1282.4 1492.1h1M1265.1 1471.8h1M1307.3 1471.8h1M1307.8 1483.2h1M1289.5 1471.0h1M1287.6 1496.3h1M1272.9 1462.6h1M1284.5 1487.8h1M1307.1 1495.4h1M1276.8 1485.5h1M1301.6 1482.1h1M1280.8 1491.4h1M1277.7 1492.9h1M1309.5 1494.5h1M1298.8 1470.2h1M1268.4 1463.3h1M1271.6 1491.8h1M1297.4 1486.9h1M1255.3 1480.9h1M1286.6 1480.9h1M1286.7 1472.1h1M1284.3 1470.3h1M1278.8 1482.8h1M1309.9 1522.7h1M1286.9 1464.8h1M1285.6 1500.4h1M1243.3 1476.0h1M1281.0 1504.6h1M1297.6 1494.0h1M1284.1 1502.4h1M1295.5 1484.7h1M1279.5 1472.3h1M1281.6 1471.0h1M1315.0 1482.8h1M1270.1 1518.2h1M1263.5 1481.1h1M1291.6 1474.0h1M1268.5 1480.8h1M1285.9 1478.7h1M1301.0 1463.8h1M1297.0 1477.2h1M1284.4 1460.5h1M1284.4 1482.3h1M1309.9 1472.1h1M1305.3 1503.6h1M1284.6 1468.9h1M1287.7 1474.8h1M1317.1 1460.4h1M1267.0 1486.1h1M1277.7 1487.1h1M1297.2 1510.6h1M1308.0 1459.5h1M1273.0 1469.1h1M1268.1 1468.8h1M1289.8 1487.4h1M1284.3 1502.6h1M1310.3 1478.3h1M1293.5 1475.4h1M1284.2 1479.8h1M1287.5 1476.0h1M1287.4 1481.1h1M1291.6 1479.1h1M1288.9 1479.6h1M1269.4 1495.5h1M1289.0 1481.5h1M1261.8 1489.0h1M1270.9 1465.3h1M1314.1 1472.8h1M1283.8 1493.3h1M1302.1 1479.6h1M1279.8 1490.0h1M1310.5 1492.3h1M1269.6 1460.6h1M1292.2 1453.7h1M1261.4 1486.2h1M1280.1 1473.0h1M1305.3 1462.6h1M1276.5 1467.7h1M1266.4 1491.5h1M1261.6 1499.0h1M1271.8 1474.0h1M1283.8 1470.0h1M1296.3 1489.6h1M1256.8 1504.2h1M1279.9 1490.4h1M1280.0 1506.3h1M1315.8 1482.6h1M1313.2 1464.9h1M1264.7 1497.4h1M1285.1 1483.2h1M1275.6 1467.5h1M1296.7 1470.5h1M1278.0 1445.7h1M1300.8 1458.7h1M1299.0 1507.7h1M1304.7 1481.7h1M1256.8 1471.6h1M1263.1 1496.2h1M1320.8 1487.9h1M1282.3 1492.6h1M1287.1 1490.1h1M1278.9 1456.6h1M1288.8 1486.2h1M1261.8 1478.7h1M1289.4 1485.4h1M1286.0 1456.1h1M1282.2 1492.3h1M1280.7 1481.5h1M1248.3 1494.6h1M1277.5 1494.5h1M1309.6 1463.0h1M1298.2 1481.5h1M1249.1 1470.8h1M1297.0 1467.3h1M1284.2 1487.9h1M1283.5 1448.0h1M1288.0 1466.5h1M1270.8 1503.7h1M1257.2 1487.2h1M1269.0 1468.3h1M1301.7 1499.7h1M1272.0 1454.1h1M1282.9 1486.5h1M1294.7 1477.3h1M1290.2 1476.7h1M1259.5 1462.4h1M1318.5 1480.4h1M1300.8 1488.5h1M1304.3 1478.1h1M1274.0 1485.5h1M1287.7 1464.6h1M1288.5 1468.4h1M1281.0 1494.7h1M1277.0 1474.0h1M1301.0 1470.3h1M1272.7 1507.6h1M1271.1 1502.0h1M1278.5 1470.7h1M1323.8 1490.8h1M1322.1 1478.2h1M1285.7 1485.0h1M1274.4 1518.0h1M1278.5 1510.3h1M1290.2 1473.7h1M1277.0 1482.1h1M1297.5 1464.9h1M1292.8 1480.4h1M1295.8 1485.9h1M1270.6 1500.8h1M1297.6 1459.2h1M1289.5 1475.0h1M1285.3 1492.7h1M1296.0 1510.7h1M1287.0 1510.3h1M1284.4 1448.0h1M1271.9 1483.1h1M1290.5 1468.2h1M1290.2 1494.0h1M1309.5 1497.9h1M1274.8 1471.6h1M1292.3 1473.5h1M1269.0 1499.3h1M1278.9 1475.7h1M1282.0 1478.6h1M1267.6 1517.4h1M1290.4 1477.2h1M1264.5 1463.4h1M1288.6 1462.7h1M1302.8 1494.8h1M1316.9 1467.6h1M1311.3 1493.2h1M1255.0 1462.8h1M1308.2 1512.2h1M1257.5 1469.3h1M1266.1 1496.1h1M1282.5 1475.3h1M1281.0 1475.8h1M1302.9 1490.4h1M1302.8 1472.2h1M1274.0 1476.2h1M1303.8 1470.2h1M1267.8 1468.8h1M1296.5 1480.3h1M1308.0 1486.5h1M1290.7 1472.9h1M1312.2 1487.8h1M1278.5 1483.3h1M1306.3 1474.2h1M1299.3 1483.3h1M1278.0 1495.0h1M1258.4 1471.1h1M1281.9 1481.7h1M1293.9 1462.9h1M1280.7 1474.6h1M1286.4 1482.9h1M1272.3 1497.0h1M1289.5 1480.3h1M1270.1 1499.9h1M1287.6 1492.6h1M1276.2 1497.3h1M1268.8 1471.2h1M1285.4 1496.9h1M1273.9 1478.3h1M1276.5 1495.6h1M1293.3 1483.6h1M1286.1 1447.2h1M1279.2 1479.6h1M1269.1 1486.8h1M1276.9 1493.7h1M1300.4 1487.8h1M1291.2 1483.6h1M1275.6 1482.4h1M1291.5 1464.0h1M1297.0 1475.4h1M1305.8 1491.2h1M1291.2 1476.2h1M1243.7 1502.9h1M1257.4 1504.0h1M1234.0 1514.2h1M1244.3 1501.1h1M1239.3 1501.9h1M1277.0 1506.9h1M1243.1 1508.1h1M1262.5 1489.0h1M1260.7 1522.4h1M1236.3 1504.6h1M1250.5 1514.9h1M1253.1 1512.9h1M1255.3 1497.9h1M1246.2 1516.8h1M1237.7 1503.1h1M1252.0 1514.8h1M1244.5 1498.2h1M1256.1 1517.5h1M1266.1 1502.1h1M1244.2 1511.2h1M1259.3 1497.7h1M1239.0 1513.8h1M1255.7 1495.7h1M1250.3 1506.4h1M1250.3 1496.9h1M1249.3 1508.1h1M1240.7 1489.9h1M1233.9 1510.0h1M1241.3 1516.0h1M1255.3 1502.6h1M1247.1 1504.4h1M1256.5 1505.1h1M1220.1 1490.6h1M1249.9 1500.5h1M1246.4 1493.1h1M1251.9 1500.7h1M1235.4 1512.8h1M1261.6 1501.2h1M1241.3 1513.6h1M1255.9 1501.7h1M1248.6 1501.9h1M1255.0 1495.8h1M1254.2 1500.6h1M1256.1 1502.3h1M1242.1 1503.0h1M1255.4 1513.6h1M1258.2 1514.9h1M1250.1 1494.9h1M1260.1 1510.5h1M1261.5 1516.1h1M1253.3 1506.6h1M1259.3 1499.8h1M1250.1 1522.8h1M1251.3 1502.2h1M1245.0 1482.7h1M1253.6 1502.6h1M1260.0 1510.0h1M1246.4 1505.1h1M1236.4 1504.4h1M1246.5 1502.6h1M1245.5 1501.7h1M1246.8 1517.2h1M1253.9 1494.3h1M1256.5 1502.2h1M1244.5 1504.7h1M1254.5 1508.4h1M1256.9 1497.9h1M1247.4 1516.9h1M1264.8 1509.6h1M1250.4 1502.8h1M1255.4 1509.0h1M1234.3 1494.3h1M1239.2 1499.1h1M1248.5 1516.9h1M1249.9 1516.2h1M1244.9 1496.9h1M1238.1 1514.4h1M1265.9 1514.9h1M1243.3 1499.8h1M1242.7 1499.0h1M1257.6 1497.7h1M1250.1 1510.3h1M1246.8 1494.6h1M1236.7 1502.8h1M1235.7 1488.8h1M1244.3 1511.2h1M1239.0 1511.2h1M1244.9 1504.3h1M1253.5 1486.9h1M1242.4 1513.9h1M1248.8 1497.5h1M1256.1 1509.2h1M1255.3 1496.1h1M1242.0 1492.1h1M1235.3 1509.7h1M1254.3 1510.0h1M1252.2 1504.8h1M1265.1 1493.1h1M1261.6 1501.6h1M1248.8 1494.9h1M1257.7 1516.9h1M1254.0 1492.8h1M1237.5 1499.9h1M1254.6 1496.1h1M1248.0 1508.3h1M1260.7 1501.0h1M1270.1 1500.2h1M1254.4 1502.2h1M1259.8 1512.8h1M1249.8 1500.3h1M1242.5 1493.9h1M1251.2 1504.0h1M1262.3 1502.8h1M1246.7 1512.3h1M1243.1 1500.6h1M1236.8 1497.4h1M1249.5 1515.7h1M1247.8 1506.5h1M1253.8 1500.2h1M1253.7 1510.4h1M1238.9 1507.3h1M1236.5 1498.2h1M1267.6 1504.1h1M1256.4 1499.9h1M1239.4 1502.8h1M1249.0 1520.5h1M1255.8 1499.8h1M1240.7 1499.5h1M1252.3 1511.8h1M1240.0 1513.1h1M1250.8 1506.8h1M1274.0 1502.0h1M1261.3 1503.6h1M1246.0 1505.4h1M1266.7 1519.1h1M1249.7 1519.5h1M1244.5 1516.5h1M1246.5 1505.7h1M1254.8 1506.8h1M1254.4 1507.3h1M1254.3 1503.0h1M1237.7 1506.5h1M1263.8 1483.2h1M1249.5 1514.6h1M1256.0 1510.3h1M1244.3 1492.7h1M1250.9 1512.6h1M1262.2 1510.2h1M1256.5 1510.5h1M1247.1 1497.9h1M1243.7 1506.9h1M1267.6 1505.9h1M1254.8 1499.0h1M1246.9 1498.5h1M1255.4 1510.8h1M1240.8 1511.2h1M1248.1 1496.4h1M1239.5 1493.4h1M1250.1 1519.6h1M1234.2 1513.7h1M1279.3 1452.9h1M1261.5 1470.8h1M1267.6 1459.1h1M1265.8 1443.3h1M1249.8 1459.1h1M1257.5 1454.6h1M1259.2 1448.3h1M1261.5 1445.7h1M1262.7 1450.8h1M1254.3 1441.4h1M1270.3 1436.3h1M1263.1 1457.1h1M1277.0 1438.8h1M1266.6 1452.1h1M1264.2 1459.5h1M1268.9 1440.9h1M1261.7 1456.5h1M1267.7 1436.0h1M1266.4 1455.6h1M1260.0 1452.2h1M1256.8 1439.6h1M1273.5 1448.6h1M1274.3 1451.8h1M1279.2 1440.3h1M1259.6 1453.1h1M1265.8 1442.5h1M1274.5 1461.0h1M1260.8 1448.0h1M1263.4 1464.8h1M1276.8 1448.2h1M1270.8 1444.2h1M1252.4 1446.3h1M1272.0 1466.7h1M1267.3 1444.1h1M1269.9 1439.2h1M1275.2 1447.5h1M1260.7 1454.8h1M1272.2 1439.0h1M1268.1 1450.2h1M1265.0 1463.4h1M1263.0 1439.4h1M1276.7 1459.0h1M1269.1 1467.4h1M1269.2 1437.4h1M1268.2 1439.5h1M1266.2 1456.4h1M1273.4 1450.3h1M1274.8 1450.6h1M1272.3 1460.3h1M1268.6 1428.8h1M1260.0 1431.3h1M1264.3 1441.2h1M1266.1 1456.6h1M1259.9 1463.2h1M1257.8 1462.3h1M1265.3 1452.6h1M1272.3 1443.3h1M1271.8 1465.8h1M1276.4 1446.9h1M1269.6 1442.7h1M1270.4 1457.4h1M1279.6 1452.8h1M1272.3 1426.9h1M1256.5 1442.6h1M1271.5 1446.5h1M1271.0 1437.4h1M1259.5 1454.4h1M1274.4 1439.8h1M1272.4 1443.4h1M1265.2 1442.7h1M1261.9 1448.5h1M1272.1 1445.3h1M1268.0 1456.7h1M1254.6 1452.7h1M1258.4 1449.8h1M1278.1 1429.2h1M1264.8 1462.9h1M1266.8 1451.5h1M1273.7 1426.4h1M1269.8 1452.9h1M1266.7 1445.3h1M1262.2 1448.8h1M1274.7 1448.9h1M1260.5 1441.8h1M1269.2 1438.4h1M1263.4 1444.3h1M1270.3 1448.2h1M1265.6 1462.7h1M1271.8 1449.1h1M1261.7 1448.3h1" stroke="#ff0c0c" stroke-width="1" stroke-opacity="0.62" fill="none"/>
<rect x="1198.3" y="1388.9" width="166.1" height="165.2" fill="none" stroke="#3a3a3a" stroke-width="1"/>
<line x1="1277.4" y1="1388.9" x2="1277.4" y2="1554.1" stroke-width="1.5" stroke="#111"/>
<line x1="1198.3" y1="1459.6" x2="1364.4" y2="1459.6" stroke-width="1.5" stroke="#111"/>
<line x1="1193.5" y1="1553.5" x2="1198.3" y2="1553.5" stroke-width="1.1" stroke="#222"/>
<text class="s" x="1192.1" y="1557.5" font-size="6.6" text-anchor="end" fill="#333" stroke="#333" style="stroke-width:0.15px">10<tspan dy="-3.6" font-size="5.15">2</tspan></text>
<line x1="1195.7" y1="1543.99" x2="1198.3" y2="1543.99" stroke-width="0.7" stroke="#333"/>
<line x1="1195.7" y1="1538.42" x2="1198.3" y2="1538.42" stroke-width="0.7" stroke="#333"/>
<line x1="1195.7" y1="1534.47" x2="1198.3" y2="1534.47" stroke-width="0.7" stroke="#333"/>
<line x1="1195.7" y1="1531.41" x2="1198.3" y2="1531.41" stroke-width="0.7" stroke="#333"/>
<line x1="1195.7" y1="1528.91" x2="1198.3" y2="1528.91" stroke-width="0.7" stroke="#333"/>
<line x1="1195.7" y1="1526.79" x2="1198.3" y2="1526.79" stroke-width="0.7" stroke="#333"/>
<line x1="1195.7" y1="1524.96" x2="1198.3" y2="1524.96" stroke-width="0.7" stroke="#333"/>
<line x1="1195.7" y1="1523.35" x2="1198.3" y2="1523.35" stroke-width="0.7" stroke="#333"/>
<line x1="1193.5" y1="1521.9" x2="1198.3" y2="1521.9" stroke-width="1.1" stroke="#222"/>
<text class="s" x="1192.1" y="1525.9" font-size="6.6" text-anchor="end" fill="#333" stroke="#333" style="stroke-width:0.15px">10<tspan dy="-3.6" font-size="5.15">3</tspan></text>
<line x1="1195.7" y1="1512.39" x2="1198.3" y2="1512.39" stroke-width="0.7" stroke="#333"/>
<line x1="1195.7" y1="1506.82" x2="1198.3" y2="1506.82" stroke-width="0.7" stroke="#333"/>
<line x1="1195.7" y1="1502.87" x2="1198.3" y2="1502.87" stroke-width="0.7" stroke="#333"/>
<line x1="1195.7" y1="1499.81" x2="1198.3" y2="1499.81" stroke-width="0.7" stroke="#333"/>
<line x1="1195.7" y1="1497.31" x2="1198.3" y2="1497.31" stroke-width="0.7" stroke="#333"/>
<line x1="1195.7" y1="1495.19" x2="1198.3" y2="1495.19" stroke-width="0.7" stroke="#333"/>
<line x1="1195.7" y1="1493.36" x2="1198.3" y2="1493.36" stroke-width="0.7" stroke="#333"/>
<line x1="1195.7" y1="1491.75" x2="1198.3" y2="1491.75" stroke-width="0.7" stroke="#333"/>
<line x1="1193.5" y1="1490.3" x2="1198.3" y2="1490.3" stroke-width="1.1" stroke="#222"/>
<text class="s" x="1192.1" y="1494.3" font-size="6.6" text-anchor="end" fill="#333" stroke="#333" style="stroke-width:0.15px">10<tspan dy="-3.6" font-size="5.15">4</tspan></text>
<line x1="1195.7" y1="1480.79" x2="1198.3" y2="1480.79" stroke-width="0.7" stroke="#333"/>
<line x1="1195.7" y1="1475.22" x2="1198.3" y2="1475.22" stroke-width="0.7" stroke="#333"/>
<line x1="1195.7" y1="1471.27" x2="1198.3" y2="1471.27" stroke-width="0.7" stroke="#333"/>
<line x1="1195.7" y1="1468.21" x2="1198.3" y2="1468.21" stroke-width="0.7" stroke="#333"/>
<line x1="1195.7" y1="1465.71" x2="1198.3" y2="1465.71" stroke-width="0.7" stroke="#333"/>
<line x1="1195.7" y1="1463.59" x2="1198.3" y2="1463.59" stroke-width="0.7" stroke="#333"/>
<line x1="1195.7" y1="1461.76" x2="1198.3" y2="1461.76" stroke-width="0.7" stroke="#333"/>
<line x1="1195.7" y1="1460.15" x2="1198.3" y2="1460.15" stroke-width="0.7" stroke="#333"/>
<line x1="1193.5" y1="1458.7" x2="1198.3" y2="1458.7" stroke-width="1.1" stroke="#222"/>
<text class="s" x="1192.1" y="1462.7" font-size="6.6" text-anchor="end" fill="#333" stroke="#333" style="stroke-width:0.15px">10<tspan dy="-3.6" font-size="5.15">5</tspan></text>
<line x1="1195.7" y1="1449.19" x2="1198.3" y2="1449.19" stroke-width="0.7" stroke="#333"/>
<line x1="1195.7" y1="1443.62" x2="1198.3" y2="1443.62" stroke-width="0.7" stroke="#333"/>
<line x1="1195.7" y1="1439.67" x2="1198.3" y2="1439.67" stroke-width="0.7" stroke="#333"/>
<line x1="1195.7" y1="1436.61" x2="1198.3" y2="1436.61" stroke-width="0.7" stroke="#333"/>
<line x1="1195.7" y1="1434.11" x2="1198.3" y2="1434.11" stroke-width="0.7" stroke="#333"/>
<line x1="1195.7" y1="1431.99" x2="1198.3" y2="1431.99" stroke-width="0.7" stroke="#333"/>
<line x1="1195.7" y1="1430.16" x2="1198.3" y2="1430.16" stroke-width="0.7" stroke="#333"/>
<line x1="1195.7" y1="1428.55" x2="1198.3" y2="1428.55" stroke-width="0.7" stroke="#333"/>
<line x1="1193.5" y1="1427.1" x2="1198.3" y2="1427.1" stroke-width="1.1" stroke="#222"/>
<text class="s" x="1192.1" y="1431.1" font-size="6.6" text-anchor="end" fill="#333" stroke="#333" style="stroke-width:0.15px">10<tspan dy="-3.6" font-size="5.15">6</tspan></text>
<line x1="1195.7" y1="1417.59" x2="1198.3" y2="1417.59" stroke-width="0.7" stroke="#333"/>
<line x1="1195.7" y1="1412.02" x2="1198.3" y2="1412.02" stroke-width="0.7" stroke="#333"/>
<line x1="1195.7" y1="1408.07" x2="1198.3" y2="1408.07" stroke-width="0.7" stroke="#333"/>
<line x1="1195.7" y1="1405.01" x2="1198.3" y2="1405.01" stroke-width="0.7" stroke="#333"/>
<line x1="1195.7" y1="1402.51" x2="1198.3" y2="1402.51" stroke-width="0.7" stroke="#333"/>
<line x1="1195.7" y1="1400.39" x2="1198.3" y2="1400.39" stroke-width="0.7" stroke="#333"/>
<line x1="1195.7" y1="1398.56" x2="1198.3" y2="1398.56" stroke-width="0.7" stroke="#333"/>
<line x1="1195.7" y1="1396.95" x2="1198.3" y2="1396.95" stroke-width="0.7" stroke="#333"/>
<line x1="1193.5" y1="1395.5" x2="1198.3" y2="1395.5" stroke-width="1.1" stroke="#222"/>
<text class="s" x="1192.1" y="1399.5" font-size="6.6" text-anchor="end" fill="#333" stroke="#333" style="stroke-width:0.15px">10<tspan dy="-3.6" font-size="5.15">7</tspan></text>
<line x1="1213.4" y1="1554.1" x2="1213.4" y2="1559.1" stroke-width="1.1" stroke="#222"/>
<text class="s" x="1215.6" y="1574.3" font-size="6.6" text-anchor="middle" fill="#333" stroke="#333" style="stroke-width:0.15px">10<tspan dy="-3.6" font-size="5.15">3</tspan></text>
<line x1="1222.97" y1="1554.1" x2="1222.97" y2="1556.7" stroke-width="0.7" stroke="#333"/>
<line x1="1228.57" y1="1554.1" x2="1228.57" y2="1556.7" stroke-width="0.7" stroke="#333"/>
<line x1="1232.55" y1="1554.1" x2="1232.55" y2="1556.7" stroke-width="0.7" stroke="#333"/>
<line x1="1235.63" y1="1554.1" x2="1235.63" y2="1556.7" stroke-width="0.7" stroke="#333"/>
<line x1="1238.15" y1="1554.1" x2="1238.15" y2="1556.7" stroke-width="0.7" stroke="#333"/>
<line x1="1240.27" y1="1554.1" x2="1240.27" y2="1556.7" stroke-width="0.7" stroke="#333"/>
<line x1="1242.12" y1="1554.1" x2="1242.12" y2="1556.7" stroke-width="0.7" stroke="#333"/>
<line x1="1243.74" y1="1554.1" x2="1243.74" y2="1556.7" stroke-width="0.7" stroke="#333"/>
<line x1="1245.2" y1="1554.1" x2="1245.2" y2="1559.1" stroke-width="1.1" stroke="#222"/>
<text class="s" x="1247.4" y="1574.3" font-size="6.6" text-anchor="middle" fill="#333" stroke="#333" style="stroke-width:0.15px">10<tspan dy="-3.6" font-size="5.15">4</tspan></text>
<line x1="1254.77" y1="1554.1" x2="1254.77" y2="1556.7" stroke-width="0.7" stroke="#333"/>
<line x1="1260.37" y1="1554.1" x2="1260.37" y2="1556.7" stroke-width="0.7" stroke="#333"/>
<line x1="1264.35" y1="1554.1" x2="1264.35" y2="1556.7" stroke-width="0.7" stroke="#333"/>
<line x1="1267.43" y1="1554.1" x2="1267.43" y2="1556.7" stroke-width="0.7" stroke="#333"/>
<line x1="1269.95" y1="1554.1" x2="1269.95" y2="1556.7" stroke-width="0.7" stroke="#333"/>
<line x1="1272.07" y1="1554.1" x2="1272.07" y2="1556.7" stroke-width="0.7" stroke="#333"/>
<line x1="1273.92" y1="1554.1" x2="1273.92" y2="1556.7" stroke-width="0.7" stroke="#333"/>
<line x1="1275.54" y1="1554.1" x2="1275.54" y2="1556.7" stroke-width="0.7" stroke="#333"/>
<line x1="1277" y1="1554.1" x2="1277" y2="1559.1" stroke-width="1.1" stroke="#222"/>
<text class="s" x="1279.2" y="1574.3" font-size="6.6" text-anchor="middle" fill="#333" stroke="#333" style="stroke-width:0.15px">10<tspan dy="-3.6" font-size="5.15">5</tspan></text>
<line x1="1286.57" y1="1554.1" x2="1286.57" y2="1556.7" stroke-width="0.7" stroke="#333"/>
<line x1="1292.17" y1="1554.1" x2="1292.17" y2="1556.7" stroke-width="0.7" stroke="#333"/>
<line x1="1296.15" y1="1554.1" x2="1296.15" y2="1556.7" stroke-width="0.7" stroke="#333"/>
<line x1="1299.23" y1="1554.1" x2="1299.23" y2="1556.7" stroke-width="0.7" stroke="#333"/>
<line x1="1301.75" y1="1554.1" x2="1301.75" y2="1556.7" stroke-width="0.7" stroke="#333"/>
<line x1="1303.87" y1="1554.1" x2="1303.87" y2="1556.7" stroke-width="0.7" stroke="#333"/>
<line x1="1305.72" y1="1554.1" x2="1305.72" y2="1556.7" stroke-width="0.7" stroke="#333"/>
<line x1="1307.34" y1="1554.1" x2="1307.34" y2="1556.7" stroke-width="0.7" stroke="#333"/>
<line x1="1308.8" y1="1554.1" x2="1308.8" y2="1559.1" stroke-width="1.1" stroke="#222"/>
<text class="s" x="1311" y="1574.3" font-size="6.6" text-anchor="middle" fill="#333" stroke="#333" style="stroke-width:0.15px">10<tspan dy="-3.6" font-size="5.15">6</tspan></text>
<line x1="1318.37" y1="1554.1" x2="1318.37" y2="1556.7" stroke-width="0.7" stroke="#333"/>
<line x1="1323.97" y1="1554.1" x2="1323.97" y2="1556.7" stroke-width="0.7" stroke="#333"/>
<line x1="1327.95" y1="1554.1" x2="1327.95" y2="1556.7" stroke-width="0.7" stroke="#333"/>
<line x1="1331.03" y1="1554.1" x2="1331.03" y2="1556.7" stroke-width="0.7" stroke="#333"/>
<line x1="1333.55" y1="1554.1" x2="1333.55" y2="1556.7" stroke-width="0.7" stroke="#333"/>
<line x1="1335.67" y1="1554.1" x2="1335.67" y2="1556.7" stroke-width="0.7" stroke="#333"/>
<line x1="1337.52" y1="1554.1" x2="1337.52" y2="1556.7" stroke-width="0.7" stroke="#333"/>
<line x1="1339.14" y1="1554.1" x2="1339.14" y2="1556.7" stroke-width="0.7" stroke="#333"/>
<line x1="1340.6" y1="1554.1" x2="1340.6" y2="1559.1" stroke-width="1.1" stroke="#222"/>
<text class="s" x="1342.8" y="1574.3" font-size="6.6" text-anchor="middle" fill="#333" stroke="#333" style="stroke-width:0.15px">10<tspan dy="-3.6" font-size="5.15">7</tspan></text>
<line x1="1350.17" y1="1554.1" x2="1350.17" y2="1556.7" stroke-width="0.7" stroke="#333"/>
<line x1="1355.77" y1="1554.1" x2="1355.77" y2="1556.7" stroke-width="0.7" stroke="#333"/>
<line x1="1359.75" y1="1554.1" x2="1359.75" y2="1556.7" stroke-width="0.7" stroke="#333"/>
<line x1="1362.83" y1="1554.1" x2="1362.83" y2="1556.7" stroke-width="0.7" stroke="#333"/>
<line x1="1200.75" y1="1554.1" x2="1200.75" y2="1556.7" stroke-width="0.7" stroke="#333"/>
<line x1="1203.83" y1="1554.1" x2="1203.83" y2="1556.7" stroke-width="0.7" stroke="#333"/>
<line x1="1206.35" y1="1554.1" x2="1206.35" y2="1556.7" stroke-width="0.7" stroke="#333"/>
<line x1="1208.47" y1="1554.1" x2="1208.47" y2="1556.7" stroke-width="0.7" stroke="#333"/>
<line x1="1210.32" y1="1554.1" x2="1210.32" y2="1556.7" stroke-width="0.7" stroke="#333"/>
<line x1="1211.94" y1="1554.1" x2="1211.94" y2="1556.7" stroke-width="0.7" stroke="#333"/>
<text class="s" x="1201.3" y="1403.4" font-size="7.8" fill="#4a4a4a" stroke="#4a4a4a"  style="stroke-width:0.15px">Q1</text>
<text class="s" x="1201.3" y="1414.9" font-size="7.8" fill="#4a4a4a" stroke="#4a4a4a"  style="stroke-width:0.15px">2.34</text>
<text class="s" x="1349.9" y="1403.4" font-size="7.8" text-anchor="end" fill="#4a4a4a" stroke="#4a4a4a"  style="stroke-width:0.15px">Q2</text>
<text class="s" x="1349.9" y="1414.9" font-size="7.8" text-anchor="end" fill="#4a4a4a" stroke="#4a4a4a"  style="stroke-width:0.15px">0.34</text>
<text class="s" x="1201.3" y="1533.9" font-size="7.8" fill="#4a4a4a" stroke="#4a4a4a"  style="stroke-width:0.15px">Q4</text>
<text class="s" x="1201.3" y="1545.3" font-size="7.8" fill="#4a4a4a" stroke="#4a4a4a"  style="stroke-width:0.15px">89.5</text>
<text class="s" x="1349.9" y="1533.9" font-size="7.8" text-anchor="end" fill="#4a4a4a" stroke="#4a4a4a"  style="stroke-width:0.15px">Q3</text>
<text class="s" x="1349.9" y="1545.3" font-size="7.8" text-anchor="end" fill="#4a4a4a" stroke="#4a4a4a"  style="stroke-width:0.15px">7.83</text>
<text class="s" x="1176.2" y="1469.4" font-size="11.25" text-anchor="middle" transform="rotate(-90 1176.2 1469.4)" style="stroke-width:0.65px">Propidium Iodide</text>
<text class="s" x="1281.9" y="1587.6" font-size="11.25" text-anchor="middle" style="stroke-width:0.65px">Annexin V FITC</text>
<ellipse cx="1486" cy="1478.5" rx="25" ry="11" transform="rotate(-52 1486 1478.5)" fill="url(#rg)" fill-opacity="0.95"/>
<path d="M1498.5 1470.4h1M1468.7 1485.0h1M1488.3 1481.8h1M1479.2 1475.3h1M1488.1 1487.4h1M1480.4 1494.2h1M1491.6 1475.2h1M1489.3 1469.9h1M1492.3 1485.1h1M1481.6 1480.7h1M1474.2 1489.8h1M1496.2 1475.6h1M1493.1 1474.6h1M1491.5 1474.2h1M1492.6 1468.9h1M1493.3 1468.6h1M1469.8 1488.9h1M1482.9 1478.8h1M1474.5 1487.1h1M1488.9 1478.1h1M1488.7 1468.2h1M1492.7 1478.2h1M1495.4 1480.7h1M1482.7 1482.7h1M1485.7 1475.7h1M1486.6 1479.6h1M1483.9 1477.3h1M1482.6 1482.2h1M1476.0 1492.8h1M1477.4 1487.5h1M1478.8 1488.5h1M1482.4 1481.1h1M1481.3 1485.4h1M1490.1 1458.8h1M1490.5 1474.6h1M1478.4 1478.1h1M1497.7 1465.0h1M1491.5 1468.5h1M1484.9 1488.5h1M1490.0 1471.0h1M1486.9 1482.3h1M1477.3 1483.1h1M1489.6 1481.9h1M1492.7 1471.4h1M1494.8 1466.1h1M1491.7 1489.9h1M1484.9 1484.7h1M1490.4 1473.9h1M1490.3 1478.6h1M1487.7 1471.8h1M1491.4 1482.6h1M1489.5 1470.7h1M1482.7 1474.9h1M1475.2 1488.3h1M1494.8 1462.4h1M1472.0 1495.6h1M1484.2 1486.7h1M1493.4 1466.5h1M1483.5 1474.7h1M1491.6 1465.6h1M1495.5 1485.3h1M1480.4 1487.1h1M1487.6 1480.3h1M1495.1 1478.8h1M1491.8 1475.9h1M1479.2 1490.5h1M1481.6 1493.8h1M1489.5 1481.8h1M1483.6 1483.5h1M1488.9 1479.3h1M1483.2 1477.6h1M1481.1 1479.8h1M1475.2 1482.9h1M1483.3 1497.0h1M1476.8 1481.6h1M1494.1 1470.5h1M1489.6 1483.0h1M1495.7 1459.5h1M1498.1 1467.6h1M1492.1 1466.6h1M1502.2 1467.1h1M1473.2 1505.1h1M1490.1 1462.4h1M1487.8 1474.9h1M1484.4 1473.9h1M1493.5 1474.9h1M1485.2 1479.1h1M1476.4 1495.3h1M1477.5 1489.7h1M1490.7 1493.3h1M1492.1 1483.0h1M1485.7 1478.6h1M1491.1 1471.8h1M1501.6 1457.3h1M1492.8 1460.5h1M1482.4 1488.4h1M1484.2 1496.5h1M1490.2 1474.0h1M1496.4 1461.2h1M1471.0 1477.2h1M1471.6 1494.7h1M1474.7 1499.1h1M1494.7 1471.1h1M1471.6 1490.2h1M1479.3 1492.8h1M1492.4 1468.6h1M1487.5 1478.5h1M1487.8 1469.2h1M1482.6 1489.3h1M1491.6 1475.3h1M1489.5 1480.2h1M1487.1 1472.4h1M1502.2 1466.5h1M1484.1 1480.3h1M1475.8 1480.6h1M1473.3 1483.4h1M1482.8 1485.3h1M1480.1 1474.6h1M1482.3 1478.3h1M1482.8 1491.6h1M1482.4 1490.5h1M1475.4 1494.3h1M1485.0 1487.6h1M1485.9 1472.5h1M1495.5 1476.6h1M1501.1 1471.0h1M1492.0 1488.2h1M1481.5 1483.3h1M1474.6 1491.5h1M1476.5 1491.7h1M1481.1 1499.8h1M1498.1 1476.0h1M1495.0 1468.4h1M1490.3 1474.8h1M1468.5 1491.7h1M1487.1 1484.8h1M1477.3 1491.3h1M1485.1 1485.8h1M1487.5 1468.4h1M1484.0 1493.1h1M1493.5 1468.8h1M1492.3 1471.1h1M1488.0 1472.9h1M1496.6 1478.6h1M1501.4 1469.2h1M1490.9 1480.2h1M1482.1 1481.3h1M1483.0 1473.7h1M1480.9 1471.4h1M1501.1 1466.2h1M1485.6 1473.5h1M1480.5 1482.5h1M1472.9 1492.0h1M1483.1 1489.2h1M1501.3 1470.8h1M1471.4 1486.3h1M1499.4 1467.9h1M1496.3 1470.9h1M1496.3 1482.7h1M1495.1 1472.6h1M1479.8 1487.9h1M1497.9 1468.0h1M1491.9 1469.5h1M1489.1 1470.2h1M1489.2 1483.3h1M1497.0 1462.1h1M1483.8 1479.6h1M1485.0 1480.2h1M1493.8 1471.5h1M1488.0 1479.8h1M1473.2 1493.9h1M1496.1 1457.4h1M1483.1 1484.4h1M1492.3 1468.5h1M1484.8 1492.6h1M1466.2 1496.7h1M1471.8 1478.0h1M1503.4 1472.1h1M1473.9 1490.8h1M1487.1 1482.8h1M1487.1 1481.9h1M1489.0 1473.7h1M1492.0 1482.3h1M1490.0 1478.8h1M1488.8 1480.9h1M1498.0 1464.0h1M1479.8 1480.5h1M1490.3 1466.8h1M1499.5 1481.9h1M1494.8 1482.0h1M1485.9 1478.0h1M1486.9 1470.4h1M1468.8 1500.3h1M1481.9 1485.6h1M1502.5 1462.5h1M1477.0 1493.6h1M1464.9 1487.9h1M1497.7 1456.1h1M1470.2 1498.2h1M1486.6 1481.6h1M1484.2 1479.3h1M1491.6 1470.1h1M1482.3 1486.3h1M1486.5 1486.9h1M1485.7 1477.5h1M1485.5 1484.2h1M1492.3 1468.2h1M1473.5 1501.0h1M1483.2 1487.2h1M1483.5 1485.2h1M1481.2 1478.2h1M1476.5 1490.0h1M1480.8 1471.9h1M1469.9 1501.4h1M1498.6 1455.9h1M1480.0 1477.4h1M1483.1 1494.7h1M1475.5 1494.2h1M1483.3 1487.0h1M1498.1 1464.5h1M1488.4 1484.6h1M1476.6 1475.4h1M1493.8 1464.4h1M1496.8 1483.3h1M1494.2 1470.8h1M1494.7 1460.2h1M1469.7 1490.1h1M1487.9 1478.1h1M1490.0 1491.4h1M1493.0 1471.4h1M1481.1 1484.5h1M1487.0 1474.5h1M1514.0 1457.0h1M1491.2 1472.3h1M1478.2 1497.6h1M1485.7 1488.0h1M1484.2 1470.3h1M1486.0 1477.2h1M1484.4 1480.1h1M1486.3 1476.7h1M1494.5 1472.4h1M1484.7 1479.2h1M1482.5 1480.1h1M1486.1 1480.5h1M1476.7 1475.2h1M1483.3 1474.8h1M1496.1 1486.4h1M1484.1 1461.4h1M1477.6 1497.8h1M1474.3 1480.6h1M1473.1 1493.9h1M1480.4 1485.8h1M1484.1 1481.2h1M1479.9 1479.8h1M1497.6 1476.7h1M1479.4 1485.9h1M1496.4 1456.2h1M1480.3 1490.4h1M1492.7 1470.0h1M1494.1 1467.4h1M1487.7 1476.3h1M1488.7 1475.4h1M1499.6 1467.3h1M1497.5 1462.8h1M1478.2 1483.7h1M1484.7 1483.1h1M1484.3 1483.1h1M1484.7 1470.8h1M1481.4 1495.4h1M1489.2 1490.1h1M1478.6 1476.8h1M1474.6 1486.7h1M1497.6 1448.3h1M1465.6 1497.2h1M1495.5 1484.9h1M1489.7 1466.0h1M1502.7 1468.0h1M1483.8 1486.3h1M1488.4 1474.4h1M1480.7 1480.7h1M1487.4 1472.6h1M1495.2 1472.5h1M1476.3 1494.5h1M1488.1 1482.5h1M1488.4 1485.4h1M1495.9 1473.5h1M1485.2 1468.3h1M1490.2 1482.4h1M1495.1 1471.9h1M1485.9 1478.4h1M1469.3 1485.3h1M1488.2 1482.6h1M1482.2 1479.1h1M1490.2 1484.3h1M1481.5 1483.7h1M1493.0 1478.5h1M1487.2 1472.9h1M1478.1 1479.5h1M1488.7 1483.3h1M1485.8 1475.4h1M1477.0 1487.4h1M1494.2 1473.3h1M1493.0 1476.8h1M1496.0 1467.7h1M1483.3 1466.4h1M1489.7 1471.2h1M1484.5 1473.1h1M1479.9 1477.3h1M1481.7 1475.8h1M1492.6 1467.8h1M1485.0 1474.9h1M1482.6 1477.3h1M1482.3 1487.6h1M1476.8 1481.0h1M1492.5 1488.9h1M1494.9 1469.4h1M1489.7 1476.6h1M1498.6 1481.5h1M1498.0 1464.9h1M1470.6 1491.0h1M1486.5 1474.5h1M1488.5 1473.3h1M1491.8 1475.2h1M1478.2 1478.4h1M1481.6 1478.8h1M1480.3 1486.9h1M1493.7 1466.1h1M1479.5 1478.4h1M1489.6 1476.4h1M1494.1 1481.2h1M1492.7 1478.8h1M1485.7 1482.5h1M1483.7 1488.3h1M1493.3 1462.2h1M1481.9 1486.4h1M1490.1 1480.8h1M1465.5 1500.5h1M1491.3 1474.1h1M1481.8 1490.2h1M1487.7 1477.0h1M1484.5 1479.9h1M1485.4 1468.4h1M1464.9 1511.1h1M1470.0 1501.0h1M1488.1 1479.0h1M1480.9 1490.1h1M1482.4 1479.5h1M1481.3 1477.9h1M1495.5 1461.4h1M1485.1 1477.2h1M1488.1 1476.6h1M1484.6 1481.0h1M1488.6 1477.4h1M1493.8 1468.2h1M1488.0 1480.6h1M1487.2 1480.7h1M1482.1 1465.9h1M1485.7 1475.9h1M1470.3 1488.7h1M1480.5 1494.2h1M1494.9 1467.9h1M1481.5 1475.7h1M1507.4 1463.9h1M1485.2 1473.4h1M1483.1 1477.3h1M1473.5 1485.9h1M1477.4 1484.5h1M1485.7 1471.4h1M1490.7 1474.5h1M1498.8 1473.5h1M1506.9 1460.0h1M1482.9 1481.0h1M1502.1 1449.5h1M1492.0 1481.2h1M1488.5 1479.6h1M1502.9 1464.7h1M1489.5 1479.5h1M1491.5 1477.4h1M1489.7 1471.9h1M1488.2 1478.2h1M1483.3 1478.2h1M1484.6 1462.8h1M1489.0 1483.6h1M1484.4 1471.7h1M1487.6 1493.0h1M1491.2 1471.8h1M1486.2 1476.4h1M1485.8 1472.2h1M1487.5 1476.4h1M1491.7 1479.2h1M1473.6 1494.0h1M1488.7 1477.2h1M1488.0 1479.7h1M1492.5 1467.0h1M1491.2 1478.7h1M1489.6 1482.7h1M1486.6 1487.9h1M1494.2 1480.1h1M1492.8 1462.8h1M1495.3 1471.2h1M1485.8 1476.0h1M1488.5 1473.9h1M1487.0 1477.8h1M1486.3 1476.6h1M1477.7 1491.1h1M1464.5 1508.6h1M1485.2 1479.0h1M1484.1 1483.8h1M1488.2 1472.0h1M1478.4 1480.7h1M1479.8 1490.4h1M1491.4 1483.3h1M1471.3 1488.6h1M1485.7 1475.6h1M1485.5 1472.7h1M1494.2 1466.2h1M1493.3 1478.4h1M1476.6 1487.9h1M1482.4 1490.2h1M1472.0 1492.8h1M1485.3 1486.8h1M1498.1 1463.8h1M1502.3 1463.5h1M1476.3 1489.8h1M1482.4 1489.8h1M1490.7 1475.3h1M1479.5 1485.4h1M1477.6 1489.0h1M1495.4 1464.9h1M1497.1 1465.8h1M1486.4 1482.7h1M1482.4 1496.1h1M1483.8 1472.6h1M1487.8 1468.7h1M1497.6 1473.9h1M1488.5 1466.0h1M1488.1 1484.7h1M1491.8 1475.5h1M1506.9 1460.2h1M1480.0 1476.9h1M1476.0 1479.8h1M1481.3 1485.7h1M1477.4 1490.0h1M1484.2 1484.7h1M1474.3 1487.6h1M1488.5 1479.5h1M1475.2 1468.7h1M1477.1 1475.0h1M1481.0 1476.9h1M1477.0 1485.6h1M1489.1 1473.9h1M1489.7 1473.7h1M1487.7 1486.3h1M1496.7 1458.8h1M1481.0 1473.2h1M1482.8 1475.7h1M1496.5 1468.0h1M1491.8 1479.8h1M1477.4 1467.2h1M1503.5 1469.4h1M1491.7 1481.0h1M1483.7 1469.8h1M1480.7 1497.0h1M1498.8 1475.5h1M1498.9 1460.6h1M1493.9 1473.8h1M1493.4 1473.3h1M1484.0 1483.9h1M1474.8 1496.6h1M1480.0 1480.3h1M1489.8 1476.3h1M1485.3 1473.6h1M1480.8 1483.4h1M1483.5 1478.5h1M1479.2 1488.7h1M1481.0 1484.5h1M1469.6 1480.7h1M1488.2 1478.8h1M1488.4 1482.7h1M1486.4 1476.4h1M1495.7 1468.7h1M1481.8 1485.1h1M1479.6 1479.2h1M1490.3 1471.8h1M1482.0 1482.9h1M1505.9 1465.1h1M1490.6 1463.8h1M1475.3 1491.9h1M1489.2 1479.6h1M1490.2 1479.5h1M1482.1 1489.3h1M1488.8 1482.4h1M1483.2 1468.3h1M1490.9 1482.6h1M1497.2 1471.2h1M1481.1 1481.3h1M1486.8 1468.1h1M1490.8 1471.0h1M1498.6 1473.8h1M1483.1 1476.3h1M1482.8 1484.4h1M1469.2 1505.2h1M1489.1 1482.1h1M1491.2 1453.9h1M1476.6 1489.6h1M1474.7 1492.5h1M1494.7 1457.7h1M1477.0 1486.4h1M1487.7 1466.6h1M1489.2 1474.2h1M1477.9 1474.4h1M1485.9 1479.6h1M1485.2 1498.1h1M1482.8 1475.2h1M1486.4 1475.2h1M1480.3 1475.5h1M1491.6 1470.7h1M1485.2 1485.7h1M1480.3 1489.1h1M1492.7 1478.1h1M1497.2 1467.9h1M1486.2 1472.0h1M1471.6 1503.6h1M1486.5 1467.3h1M1464.9 1495.6h1M1477.2 1491.6h1M1488.5 1470.2h1M1479.1 1492.5h1M1477.6 1477.0h1M1483.0 1486.0h1M1481.1 1471.9h1M1480.2 1485.1h1M1495.8 1470.2h1M1493.6 1459.8h1M1481.7 1475.5h1M1489.9 1461.2h1M1487.5 1486.0h1M1484.9 1483.9h1M1481.2 1485.1h1M1501.0 1452.1h1M1488.2 1480.6h1M1499.5 1478.5h1M1486.1 1491.6h1M1492.4 1470.1h1M1486.3 1474.9h1M1497.8 1466.7h1M1486.8 1483.0h1M1473.2 1494.4h1M1479.4 1490.6h1M1484.4 1476.9h1M1484.0 1481.0h1M1489.0 1478.7h1M1500.9 1476.0h1M1494.6 1468.5h1M1487.2 1477.5h1M1491.4 1467.3h1M1487.9 1467.1h1M1472.2 1489.9h1M1490.9 1472.4h1M1465.2 1482.0h1M1492.2 1478.2h1M1477.4 1479.9h1M1484.5 1477.9h1M1492.4 1482.5h1M1479.7 1474.6h1M1483.6 1467.8h1M1492.1 1470.8h1M1490.2 1475.0h1M1481.1 1476.9h1M1486.6 1476.4h1M1470.5 1504.6h1M1483.3 1491.1h1M1489.5 1463.3h1M1486.4 1485.9h1M1482.4 1473.2h1M1475.0 1501.4h1M1491.7 1483.7h1M1484.3 1489.7h1M1478.3 1471.3h1M1484.4 1471.5h1M1473.6 1488.4h1M1477.4 1471.1h1M1487.6 1476.6h1M1494.4 1464.8h1M1492.8 1473.6h1M1492.5 1475.6h1M1498.1 1473.1h1M1494.1 1475.4h1M1494.0 1471.1h1M1490.4 1483.0h1M1488.3 1481.2h1M1483.4 1497.4h1M1490.0 1473.1h1M1484.5 1477.7h1M1487.6 1489.5h1M1478.5 1475.8h1M1478.5 1488.5h1M1497.7 1467.3h1M1478.7 1481.8h1M1491.7 1476.1h1M1485.4 1475.9h1M1472.2 1488.1h1M1482.2 1475.6h1M1481.6 1479.0h1M1490.2 1484.6h1M1495.5 1472.6h1M1484.2 1478.7h1M1500.4 1464.1h1M1481.4 1464.0h1M1501.3 1469.0h1M1475.7 1487.4h1M1492.3 1477.5h1M1487.2 1478.4h1M1483.4 1478.4h1M1500.2 1467.8h1M1485.9 1475.3h1M1483.0 1484.0h1M1485.3 1486.9h1M1488.2 1483.0h1M1476.7 1493.7h1M1489.6 1478.6h1M1481.0 1486.5h1M1488.6 1479.8h1M1484.8 1466.7h1M1497.5 1471.7h1M1484.1 1482.0h1M1518.4 1451.9h1M1495.7 1472.2h1M1476.3 1478.0h1M1483.8 1478.3h1M1484.8 1482.7h1M1476.8 1476.2h1M1492.2 1481.2h1M1489.8 1481.3h1M1491.7 1477.9h1M1487.2 1478.0h1M1480.0 1495.5h1M1474.6 1484.4h1M1482.3 1484.3h1M1487.7 1480.0h1M1481.2 1481.6h1M1484.3 1478.9h1M1482.3 1477.1h1M1493.8 1476.1h1M1495.0 1481.0h1M1478.0 1481.3h1M1472.8 1492.5h1M1478.3 1481.3h1M1477.4 1486.5h1M1472.1 1485.4h1M1478.6 1468.1h1M1488.9 1475.3h1M1505.4 1466.7h1M1483.5 1488.5h1M1479.8 1489.2h1M1476.4 1480.7h1M1492.5 1479.2h1M1487.0 1469.9h1M1481.1 1486.4h1M1482.2 1487.7h1M1494.6 1477.7h1M1492.1 1473.3h1M1499.5 1462.7h1M1481.4 1487.8h1M1489.0 1464.6h1M1491.7 1482.6h1M1488.7 1482.7h1M1495.6 1471.8h1M1480.2 1481.1h1M1484.9 1484.6h1M1471.3 1480.5h1M1488.1 1464.9h1M1484.4 1472.7h1M1488.3 1491.5h1M1496.3 1463.5h1M1487.4 1479.7h1M1482.9 1479.9h1M1486.7 1473.5h1M1487.3 1480.7h1M1484.3 1475.6h1M1492.5 1476.9h1M1489.0 1476.8h1M1490.3 1468.8h1M1488.5 1480.4h1M1484.9 1477.9h1M1478.1 1487.9h1M1478.7 1486.0h1M1487.4 1475.4h1M1483.9 1476.5h1M1489.7 1475.0h1M1489.3 1483.5h1M1488.8 1479.9h1M1500.0 1471.5h1M1488.8 1471.0h1M1480.9 1473.0h1M1488.3 1461.0h1M1480.0 1483.4h1M1481.8 1489.6h1M1492.8 1472.6h1M1498.8 1470.0h1M1488.6 1479.8h1M1489.3 1485.2h1M1480.3 1478.4h1M1485.3 1480.8h1M1477.0 1491.9h1M1474.7 1489.3h1M1471.2 1492.8h1M1488.0 1468.7h1M1486.7 1473.7h1M1500.0 1476.4h1M1486.2 1485.2h1M1496.3 1472.5h1M1483.9 1477.9h1M1486.7 1480.2h1M1482.7 1485.4h1M1473.8 1487.7h1M1480.8 1489.5h1M1495.5 1464.4h1M1499.9 1469.1h1M1473.7 1498.4h1M1494.5 1474.9h1M1497.3 1461.8h1M1486.7 1462.3h1M1488.5 1466.2h1M1499.1 1466.4h1M1483.2 1482.2h1M1503.6 1470.1h1M1491.1 1472.1h1M1482.8 1462.9h1M1498.2 1484.4h1M1477.3 1483.9h1M1478.4 1488.7h1M1481.9 1482.2h1M1485.6 1471.7h1M1484.9 1483.8h1M1494.2 1478.2h1M1488.6 1472.7h1M1478.0 1472.4h1M1469.6 1494.4h1M1490.8 1465.5h1M1483.0 1473.6h1M1494.3 1473.8h1M1481.6 1485.5h1M1491.8 1479.4h1M1504.7 1448.6h1M1499.4 1474.9h1M1487.9 1484.1h1M1489.9 1465.3h1M1486.9 1474.5h1M1481.3 1485.1h1M1484.8 1477.9h1M1478.5 1493.4h1M1476.5 1481.9h1M1490.4 1472.8h1M1480.9 1483.5h1M1489.8 1485.1h1M1477.5 1484.8h1M1495.2 1471.7h1M1474.4 1489.3h1M1479.7 1482.0h1M1474.0 1488.1h1M1489.3 1489.3h1M1508.7 1469.9h1M1506.5 1445.0h1M1493.5 1469.5h1M1498.9 1469.1h1M1473.0 1488.5h1M1485.2 1478.3h1M1488.8 1459.1h1M1479.7 1482.4h1M1492.9 1466.6h1M1490.9 1465.8h1M1494.2 1466.9h1M1486.7 1479.0h1M1492.0 1474.8h1M1489.2 1491.4h1M1492.2 1475.5h1M1476.9 1486.2h1M1484.7 1480.8h1M1492.4 1475.3h1M1488.1 1466.9h1M1484.6 1475.7h1M1497.6 1460.6h1M1473.4 1502.8h1M1480.3 1486.8h1M1483.1 1477.5h1M1482.3 1478.4h1M1492.5 1465.0h1M1490.0 1460.8h1M1476.9 1480.8h1M1494.5 1481.3h1M1484.9 1471.7h1M1492.2 1471.6h1M1474.2 1487.0h1M1486.2 1477.3h1M1480.2 1480.5h1M1489.3 1487.2h1M1481.1 1488.9h1M1472.2 1482.9h1M1491.5 1470.0h1M1482.9 1485.8h1M1493.7 1489.7h1M1480.4 1490.1h1M1465.3 1483.6h1M1490.3 1488.6h1M1459.6 1499.5h1M1479.3 1482.4h1M1483.4 1489.2h1M1483.6 1495.1h1M1483.9 1489.8h1M1494.0 1479.5h1M1482.3 1484.9h1M1504.0 1486.0h1M1507.8 1478.1h1M1477.3 1486.9h1M1486.0 1485.8h1M1483.1 1472.7h1M1468.4 1500.2h1M1475.6 1485.9h1M1466.8 1478.3h1M1476.5 1491.5h1M1480.5 1483.7h1M1480.2 1468.6h1M1493.4 1477.9h1M1478.6 1457.5h1M1486.5 1481.0h1M1489.2 1475.3h1M1496.5 1464.1h1M1488.6 1470.5h1M1473.6 1492.2h1M1491.9 1442.8h1M1505.4 1472.6h1M1512.3 1464.0h1M1495.6 1464.9h1M1478.5 1490.5h1M1477.5 1487.0h1M1488.5 1484.4h1M1484.7 1477.5h1M1491.4 1476.9h1M1482.4 1481.9h1M1501.7 1476.4h1M1480.7 1462.5h1M1478.8 1464.3h1M1488.3 1463.8h1M1480.4 1481.6h1M1506.6 1459.8h1M1474.5 1498.0h1M1482.4 1473.2h1M1482.4 1476.1h1M1500.2 1457.2h1M1493.3 1476.1h1M1476.7 1482.1h1M1481.1 1465.7h1M1491.0 1470.0h1M1510.6 1461.9h1M1477.9 1482.6h1M1489.1 1483.4h1M1475.3 1484.2h1M1493.6 1488.6h1M1474.6 1481.2h1M1486.3 1502.9h1M1467.4 1487.9h1M1484.0 1478.0h1M1486.7 1470.4h1M1472.0 1494.4h1M1501.8 1459.0h1M1479.3 1483.1h1M1493.8 1489.8h1M1464.0 1488.6h1M1484.3 1452.7h1M1465.2 1474.9h1M1483.5 1469.9h1M1470.0 1487.6h1M1475.8 1474.3h1M1500.3 1479.4h1M1489.8 1483.7h1M1483.1 1470.8h1M1498.9 1451.9h1M1481.7 1477.7h1M1488.6 1479.5h1M1498.4 1460.9h1M1490.4 1492.7h1M1481.0 1462.6h1M1472.6 1474.4h1M1491.1 1476.9h1M1500.2 1474.3h1M1499.6 1481.3h1M1482.6 1474.5h1M1474.6 1504.0h1M1498.7 1475.4h1M1485.3 1476.7h1M1484.3 1483.6h1M1483.5 1481.8h1M1485.1 1482.4h1M1466.9 1490.7h1M1492.0 1484.4h1M1477.5 1491.2h1M1491.8 1479.8h1M1484.5 1509.5h1M1489.6 1490.1h1M1502.9 1476.6h1M1472.1 1464.4h1M1493.6 1479.2h1M1490.5 1480.3h1M1475.1 1479.0h1M1491.1 1471.8h1M1488.2 1485.2h1M1485.1 1484.3h1M1485.9 1492.5h1M1497.4 1468.9h1M1490.7 1480.5h1M1488.6 1487.0h1M1489.9 1463.1h1M1491.1 1469.7h1M1498.9 1466.4h1M1477.8 1486.3h1M1488.5 1478.8h1M1468.7 1481.9h1M1503.8 1464.3h1M1488.8 1468.1h1M1505.1 1448.9h1M1486.0 1471.1h1M1498.1 1470.6h1M1513.4 1465.4h1M1476.3 1490.0h1M1485.0 1482.5h1M1481.7 1464.0h1M1496.4 1472.7h1M1487.5 1450.6h1M1491.8 1459.6h1M1475.6 1513.0h1M1483.5 1492.7h1M1510.7 1465.4h1M1477.9 1505.7h1M1485.7 1469.6h1M1472.6 1490.9h1M1499.2 1476.7h1M1493.7 1495.6h1M1488.5 1485.3h1M1497.0 1446.1h1M1486.6 1472.0h1M1489.7 1481.4h1M1492.3 1499.8h1M1481.0 1473.7h1M1487.8 1453.2h1M1491.3 1476.1h1M1498.2 1456.8h1M1491.7 1470.4h1M1480.2 1463.2h1M1470.8 1495.7h1M1494.6 1472.2h1M1464.2 1495.5h1M1493.7 1478.1h1M1480.3 1474.5h1M1482.9 1459.7h1M1495.4 1483.3h1M1493.7 1474.6h1M1498.1 1486.9h1M1502.1 1460.0h1M1506.9 1476.9h1M1462.0 1494.3h1M1502.3 1455.8h1M1464.5 1487.2h1M1482.1 1491.7h1M1468.5 1500.0h1M1488.2 1492.9h1M1485.9 1481.7h1M1480.6 1479.6h1M1483.6 1476.8h1M1486.0 1478.2h1M1493.6 1476.4h1M1476.0 1476.5h1M1504.0 1481.4h1M1496.5 1479.2h1M1475.7 1482.9h1M1470.4 1489.2h1M1487.7 1472.4h1M1480.9 1492.9h1M1491.8 1466.3h1M1492.9 1471.5h1M1510.2 1473.8h1M1485.6 1458.6h1M1488.5 1489.2h1M1495.5 1494.4h1M1479.3 1510.2h1M1499.3 1471.9h1M1482.2 1468.2h1M1486.5 1480.8h1M1471.0 1495.3h1M1481.1 1491.5h1M1462.9 1508.5h1M1520.8 1464.3h1M1510.7 1483.3h1M1487.4 1491.1h1M1496.2 1461.0h1M1507.1 1469.2h1M1490.6 1478.6h1M1489.3 1486.5h1M1486.9 1460.7h1M1497.0 1466.1h1M1494.0 1461.6h1M1492.3 1474.2h1M1486.4 1454.8h1M1491.6 1473.3h1M1481.3 1469.9h1M1488.9 1480.8h1M1473.2 1487.3h1M1479.0 1484.0h1M1500.3 1459.2h1M1495.1 1471.4h1M1488.9 1479.6h1M1468.8 1495.3h1M1483.4 1492.0h1M1480.9 1508.9h1M1489.3 1492.1h1M1475.8 1479.5h1M1489.2 1466.4h1M1481.6 1477.5h1M1492.8 1494.2h1M1497.6 1455.1h1M1502.2 1465.0h1M1486.4 1485.4h1M1467.2 1489.9h1M1479.1 1490.1h1M1479.0 1484.1h1M1495.1 1491.9h1M1484.1 1470.5h1M1480.0 1474.2h1M1492.9 1484.4h1M1475.1 1508.0h1M1477.3 1491.3h1M1493.6 1471.4h1M1503.9 1465.7h1M1492.6 1464.9h1M1483.7 1466.4h1M1474.0 1499.0h1M1484.3 1488.5h1M1483.5 1480.5h1M1470.2 1502.1h1M1501.5 1465.3h1M1490.0 1484.8h1M1488.1 1468.8h1M1474.1 1483.5h1M1472.7 1483.1h1M1489.4 1478.4h1M1488.1 1471.0h1M1473.2 1484.2h1M1488.4 1470.6h1M1475.5 1460.5h1M1490.8 1465.3h1M1469.3 1489.3h1M1489.3 1478.0h1M1511.2 1465.0h1M1478.3 1481.7h1M1491.9 1489.1h1M1467.9 1472.4h1M1494.7 1477.9h1M1493.4 1468.9h1M1500.9 1471.0h1M1482.7 1494.8h1M1488.9 1486.3h1M1468.7 1467.0h1M1481.4 1486.4h1M1465.3 1482.5h1M1496.0 1463.9h1M1477.2 1470.2h1M1499.1 1464.9h1M1499.3 1470.8h1M1482.8 1489.2h1M1468.1 1478.4h1M1496.2 1501.8h1M1479.4 1490.5h1M1471.1 1478.8h1M1480.7 1487.8h1M1499.6 1492.7h1M1467.7 1480.8h1M1479.9 1466.8h1M1491.6 1481.0h1M1459.5 1506.2h1M1474.7 1492.6h1M1481.1 1473.4h1M1490.6 1488.6h1M1495.9 1479.0h1M1480.2 1484.5h1M1487.7 1489.9h1M1473.7 1489.2h1M1463.2 1484.1h1M1488.3 1489.6h1M1494.0 1464.9h1M1501.3 1462.7h1M1483.6 1482.3h1M1485.3 1480.6h1M1487.2 1460.9h1M1476.3 1483.8h1M1496.7 1470.5h1M1470.7 1496.3h1M1470.0 1484.7h1M1504.6 1458.3h1M1490.5 1490.8h1M1489.0 1491.2h1M1486.6 1490.4h1M1467.0 1496.4h1M1485.3 1485.0h1M1480.0 1492.4h1M1491.2 1475.7h1M1489.3 1484.2h1M1489.2 1484.1h1M1486.3 1498.1h1M1477.4 1471.9h1M1479.8 1487.2h1M1494.1 1467.1h1M1465.4 1490.9h1M1481.0 1477.4h1M1497.9 1486.1h1M1485.0 1478.9h1M1480.0 1474.2h1M1489.2 1477.3h1M1489.8 1482.4h1M1514.3 1480.0h1M1501.7 1463.2h1M1463.4 1495.7h1M1484.1 1467.4h1M1489.7 1469.1h1M1472.7 1511.3h1M1478.9 1485.9h1M1483.2 1496.3h1M1488.7 1471.7h1M1490.2 1462.1h1M1492.8 1472.8h1M1478.5 1491.5h1M1460.7 1489.6h1M1462.4 1489.9h1M1481.1 1466.9h1M1493.1 1454.0h1M1491.1 1496.6h1M1483.6 1473.0h1M1470.5 1494.9h1M1496.7 1463.5h1M1508.0 1478.2h1M1499.1 1463.1h1M1498.5 1463.5h1M1487.9 1476.4h1M1484.3 1469.5h1M1508.1 1456.0h1M1478.6 1490.4h1M1484.4 1471.4h1M1478.4 1469.8h1M1485.6 1489.0h1M1483.3 1475.9h1M1483.3 1492.6h1M1510.2 1475.1h1M1511.3 1458.7h1M1500.7 1483.4h1M1482.3 1476.0h1M1480.0 1486.4h1M1491.6 1470.8h1M1488.7 1483.8h1M1494.3 1463.6h1M1500.3 1494.8h1M1487.2 1484.3h1M1483.6 1465.2h1M1486.0 1473.8h1M1468.8 1501.5h1M1506.1 1469.2h1M1492.7 1477.9h1M1484.8 1479.4h1M1480.5 1468.5h1M1484.8 1496.5h1M1482.9 1501.6h1M1487.5 1482.2h1M1480.0 1480.5h1M1472.8 1481.8h1M1488.7 1481.3h1M1489.3 1468.7h1M1485.6 1493.5h1M1503.1 1470.9h1M1488.5 1481.3h1M1494.9 1463.9h1M1503.5 1465.2h1M1477.3 1488.7h1M1475.6 1480.6h1M1486.2 1452.3h1M1499.0 1484.6h1M1488.8 1482.8h1M1466.8 1487.9h1M1474.8 1475.9h1M1473.4 1478.3h1M1480.2 1481.2h1M1471.6 1476.1h1M1499.1 1495.3h1M1468.3 1510.2h1M1480.8 1506.8h1M1479.7 1488.8h1M1496.6 1487.1h1M1483.1 1466.9h1M1496.4 1475.4h1M1491.4 1457.0h1M1507.4 1472.2h1M1493.8 1478.9h1M1483.7 1462.0h1M1490.8 1482.4h1M1490.9 1489.2h1M1505.9 1454.3h1M1481.5 1491.6h1M1482.4 1508.5h1M1497.6 1449.6h1M1480.7 1505.5h1M1490.6 1468.6h1M1475.0 1490.8h1M1494.4 1481.1h1M1459.1 1509.8h1M1480.2 1490.0h1M1486.7 1460.1h1M1474.2 1479.0h1M1477.2 1489.3h1M1495.0 1467.6h1M1499.5 1501.1h1M1489.0 1455.0h1M1479.8 1487.3h1M1498.6 1479.5h1M1474.5 1487.4h1M1496.5 1503.3h1M1497.5 1471.3h1M1481.9 1466.8h1M1484.5 1454.0h1M1476.8 1480.7h1M1470.6 1477.2h1M1475.3 1466.7h1M1490.0 1461.5h1M1475.6 1483.2h1M1485.4 1502.2h1M1464.7 1495.5h1M1484.1 1493.0h1M1496.2 1482.4h1M1474.7 1474.9h1M1470.6 1500.0h1M1481.9 1469.9h1M1487.7 1481.6h1M1492.6 1477.0h1M1474.1 1501.6h1M1491.1 1463.7h1M1500.0 1493.3h1M1482.5 1470.7h1M1481.1 1486.5h1M1477.7 1505.3h1M1491.9 1468.1h1M1489.9 1447.4h1M1498.4 1463.7h1M1461.1 1468.6h1M1479.4 1445.0h1M1476.8 1485.3h1M1482.5 1485.7h1M1494.7 1466.0h1M1501.2 1506.1h1M1486.6 1476.3h1M1493.0 1491.4h1M1484.3 1487.5h1M1492.8 1478.9h1M1475.2 1475.4h1M1483.9 1455.0h1M1497.3 1476.0h1M1499.8 1458.2h1M1473.7 1495.2h1M1479.3 1492.6h1M1487.3 1484.9h1M1472.4 1466.7h1M1482.3 1465.9h1M1483.9 1475.4h1M1478.1 1489.9h1M1473.6 1498.4h1M1491.6 1468.7h1M1479.1 1478.2h1M1492.4 1493.4h1M1485.4 1477.4h1M1484.5 1461.5h1M1476.8 1492.3h1M1497.0 1480.6h1M1476.0 1482.0h1M1498.0 1471.8h1M1486.4 1490.5h1M1504.0 1473.2h1M1462.9 1490.8h1M1490.6 1474.3h1M1491.2 1478.8h1M1484.3 1465.9h1M1480.6 1489.2h1M1486.5 1462.7h1M1484.6 1480.9h1M1495.8 1472.3h1M1477.9 1478.1h1M1461.5 1490.8h1M1491.5 1493.2h1M1472.5 1478.8h1M1497.5 1477.0h1M1483.1 1496.9h1M1505.1 1463.4h1M1481.7 1481.6h1M1483.3 1469.6h1M1468.0 1482.9h1M1499.2 1464.3h1M1494.4 1486.5h1M1498.3 1474.7h1M1470.5 1489.8h1M1487.6 1491.3h1M1497.2 1457.6h1M1501.6 1476.9h1M1474.4 1471.1h1M1511.7 1463.6h1M1474.2 1494.8h1M1491.8 1488.2h1M1480.7 1481.5h1M1476.0 1472.3h1M1481.7 1464.0h1M1488.4 1491.1h1M1480.2 1488.9h1M1492.9 1478.8h1M1487.7 1481.9h1M1465.3 1488.2h1M1487.6 1466.4h1M1482.3 1482.2h1M1471.1 1487.4h1M1475.8 1490.7h1M1499.4 1461.1h1M1467.3 1489.3h1M1487.3 1471.0h1M1487.5 1466.7h1M1478.9 1482.3h1M1474.3 1489.4h1M1493.2 1472.0h1M1490.3 1461.6h1M1489.8 1468.1h1M1494.4 1486.1h1M1482.7 1480.2h1M1486.8 1471.9h1M1495.9 1488.3h1M1481.8 1491.5h1M1501.3 1473.6h1M1502.5 1481.7h1M1476.4 1484.1h1M1486.6 1469.2h1M1496.9 1478.4h1M1460.9 1461.7h1M1473.7 1465.0h1M1474.3 1504.9h1M1493.0 1495.3h1M1498.8 1468.2h1M1508.3 1480.0h1M1497.3 1482.0h1M1486.7 1511.1h1M1468.0 1499.8h1M1484.2 1492.9h1M1468.9 1467.6h1M1504.8 1469.2h1M1492.6 1487.1h1M1478.0 1498.5h1M1495.9 1454.6h1M1475.6 1502.0h1M1509.9 1445.8h1M1496.8 1468.5h1M1490.9 1499.4h1M1498.4 1458.4h1M1492.3 1503.4h1M1499.4 1472.6h1M1476.4 1486.5h1M1476.7 1500.3h1M1490.7 1485.2h1M1487.7 1492.1h1M1475.2 1486.8h1M1494.7 1464.6h1M1483.2 1482.5h1M1478.8 1479.9h1M1490.8 1500.2h1M1495.8 1480.8h1M1487.7 1481.4h1M1484.2 1473.4h1M1483.3 1498.2h1M1495.6 1489.4h1M1488.4 1473.3h1M1490.0 1471.9h1M1504.0 1467.2h1M1479.5 1476.5h1M1472.4 1497.2h1M1489.5 1475.4h1M1470.3 1498.3h1M1489.5 1501.8h1M1494.8 1470.9h1M1471.8 1479.0h1M1485.1 1471.4h1M1474.1 1499.3h1M1497.6 1471.1h1M1480.0 1464.9h1M1490.1 1454.0h1M1475.6 1480.8h1M1473.4 1489.4h1M1486.1 1486.9h1M1512.4 1472.0h1M1508.0 1484.7h1M1483.6 1483.7h1M1487.2 1484.7h1M1479.6 1485.1h1M1494.6 1485.6h1M1502.3 1475.6h1M1483.9 1477.6h1M1506.5 1458.2h1M1482.6 1482.1h1M1487.6 1475.5h1M1499.9 1475.3h1M1471.9 1460.1h1M1480.8 1469.0h1M1491.8 1475.0h1M1487.1 1476.2h1M1488.6 1457.5h1M1510.0 1462.5h1M1494.9 1478.8h1M1492.9 1489.3h1M1500.8 1485.0h1M1482.9 1479.2h1M1494.0 1480.2h1M1500.8 1483.7h1M1493.5 1460.7h1M1497.0 1472.0h1M1491.1 1489.2h1M1478.1 1471.7h1M1498.9 1475.7h1M1470.0 1472.9h1M1471.9 1471.1h1M1509.6 1470.5h1M1487.3 1488.9h1M1481.0 1466.8h1M1483.5 1471.6h1M1472.6 1502.4h1M1479.0 1476.6h1M1495.2 1477.4h1M1480.7 1479.7h1M1489.3 1477.3h1M1482.7 1458.3h1M1485.8 1488.0h1M1481.1 1506.4h1M1488.2 1498.2h1M1475.6 1492.1h1M1474.3 1477.8h1M1490.7 1460.3h1M1485.1 1465.4h1M1468.0 1477.1h1M1477.6 1487.1h1M1475.9 1486.9h1M1483.4 1473.2h1M1507.8 1489.3h1M1459.7 1477.4h1M1479.3 1476.4h1M1490.3 1458.0h1M1487.1 1498.5h1M1507.5 1477.7h1M1468.8 1498.5h1M1497.6 1451.2h1M1488.5 1490.3h1M1488.9 1474.6h1M1495.8 1487.8h1M1459.4 1498.0h1M1476.1 1487.1h1M1468.0 1496.7h1M1485.0 1486.8h1M1467.9 1473.2h1M1478.4 1467.7h1M1489.5 1492.7h1M1473.1 1476.8h1M1500.8 1495.7h1M1481.7 1495.0h1M1481.7 1478.3h1M1478.8 1475.0h1M1484.1 1464.6h1M1500.8 1465.8h1M1505.3 1469.1h1M1489.8 1473.6h1M1506.9 1468.2h1M1484.6 1456.1h1M1498.8 1470.7h1M1491.0 1456.6h1M1470.4 1487.4h1M1476.0 1498.3h1M1503.3 1480.1h1M1466.3 1504.7h1M1482.0 1494.4h1M1499.1 1456.4h1M1492.0 1471.8h1M1507.8 1463.8h1M1461.1 1497.9h1M1494.0 1464.7h1M1479.1 1490.1h1M1483.6 1480.8h1M1490.9 1469.4h1M1477.8 1500.3h1M1488.3 1477.9h1M1488.8 1465.8h1M1491.8 1473.6h1M1475.4 1488.3h1M1499.8 1456.7h1M1479.1 1474.6h1M1487.8 1458.1h1M1501.6 1485.6h1M1485.1 1488.8h1M1483.9 1472.6h1M1462.1 1498.6h1M1474.7 1505.8h1M1468.2 1472.8h1M1468.4 1489.1h1M1494.8 1456.2h1M1467.6 1499.0h1M1483.0 1476.2h1M1485.7 1477.4h1M1486.7 1462.8h1M1488.8 1484.8h1M1478.7 1495.6h1M1486.8 1489.3h1M1483.0 1492.5h1M1479.3 1482.7h1M1493.9 1467.7h1M1487.3 1465.2h1M1509.1 1473.3h1M1478.0 1489.7h1M1487.8 1473.8h1M1517.2 1468.2h1M1491.5 1472.5h1M1490.9 1450.9h1M1467.0 1479.8h1M1479.3 1471.0h1M1482.4 1480.0h1M1484.8 1467.9h1M1459.2 1500.8h1M1482.0 1482.3h1M1481.9 1472.6h1M1488.4 1467.0h1M1478.9 1492.4h1M1503.1 1467.4h1M1481.3 1482.3h1M1486.4 1485.6h1M1496.7 1473.0h1M1478.5 1474.6h1M1485.5 1467.2h1M1475.4 1489.2h1M1506.5 1486.7h1M1464.2 1472.0h1M1481.0 1479.5h1M1508.5 1474.8h1M1487.1 1475.3h1M1476.1 1471.4h1M1491.4 1474.6h1M1460.0 1477.1h1M1468.0 1494.5h1M1494.1 1486.8h1M1462.4 1484.5h1M1469.1 1476.5h1M1497.3 1474.4h1M1485.6 1477.4h1M1487.4 1501.8h1M1507.7 1450.9h1M1468.9 1486.4h1M1504.1 1451.0h1M1470.6 1481.4h1M1474.9 1485.4h1M1470.5 1489.0h1M1499.1 1485.1h1M1512.2 1448.5h1M1492.7 1481.7h1M1495.7 1468.3h1M1492.2 1462.6h1M1495.6 1473.3h1M1491.1 1480.5h1M1486.7 1488.2h1M1491.1 1459.8h1M1472.4 1470.0h1M1485.8 1502.7h1M1474.6 1506.7h1M1500.4 1482.2h1M1480.4 1473.9h1M1480.8 1488.6h1M1462.0 1509.9h1M1485.5 1480.8h1M1485.6 1472.1h1M1491.5 1473.2h1M1493.1 1461.2h1M1457.1 1498.2h1M1464.3 1491.7h1M1465.7 1507.0h1M1491.0 1477.3h1M1480.6 1485.8h1M1472.8 1503.0h1M1494.5 1456.1h1M1491.9 1464.6h1M1479.3 1485.4h1M1477.8 1490.2h1M1493.2 1463.8h1M1475.8 1471.2h1M1482.9 1494.8h1M1489.1 1486.4h1M1499.4 1495.1h1M1500.8 1480.4h1M1488.2 1474.6h1M1485.7 1482.4h1M1479.3 1507.2h1M1488.9 1475.3h1M1488.2 1476.5h1M1506.0 1464.6h1M1479.2 1498.4h1M1474.3 1495.0h1M1467.3 1486.0h1M1491.3 1482.0h1M1481.3 1471.6h1M1480.1 1491.8h1M1493.6 1472.5h1M1482.5 1473.3h1M1467.0 1486.4h1M1470.5 1479.3h1M1480.0 1472.9h1M1519.3 1458.3h1M1482.4 1456.3h1M1486.4 1490.9h1M1458.3 1489.5h1M1493.7 1472.7h1M1476.0 1495.0h1M1479.9 1465.0h1M1482.8 1458.5h1M1494.5 1458.5h1M1479.5 1494.8h1M1491.7 1474.4h1M1483.6 1472.1h1M1509.4 1460.8h1M1492.8 1479.0h1M1509.3 1465.4h1M1480.4 1494.7h1M1480.9 1484.6h1M1481.1 1476.6h1M1483.6 1474.4h1M1515.2 1465.8h1M1471.9 1481.1h1M1483.7 1479.8h1M1481.9 1476.1h1M1486.1 1489.2h1M1488.6 1471.4h1M1480.1 1462.0h1M1488.3 1496.4h1M1484.4 1470.4h1M1476.2 1482.3h1M1491.9 1465.0h1M1506.6 1473.2h1M1501.6 1459.2h1M1483.3 1458.7h1M1498.4 1491.7h1M1481.0 1474.7h1M1480.5 1486.2h1M1481.4 1477.6h1M1479.9 1485.2h1M1511.6 1477.5h1M1461.9 1492.9h1M1502.6 1460.3h1M1486.0 1481.1h1M1493.2 1465.4h1M1499.1 1478.3h1M1480.4 1475.4h1M1490.3 1475.0h1M1479.4 1484.3h1M1468.7 1476.5h1M1485.5 1487.6h1M1490.7 1469.5h1M1459.6 1509.6h1M1495.2 1474.2h1M1482.8 1495.0h1M1498.3 1472.9h1M1482.9 1493.1h1M1511.8 1453.5h1M1493.2 1491.5h1M1459.3 1490.1h1M1485.5 1493.3h1M1496.5 1472.3h1M1488.3 1472.7h1M1483.2 1485.3h1M1492.8 1483.0h1M1488.6 1488.0h1M1493.8 1471.6h1M1455.2 1513.1h1M1494.5 1476.3h1M1494.9 1476.5h1M1500.0 1457.1h1M1493.0 1475.1h1M1487.7 1481.0h1M1473.9 1496.0h1M1475.8 1489.4h1M1485.2 1483.3h1M1491.7 1481.6h1M1467.8 1483.5h1M1480.4 1486.2h1M1487.4 1486.5h1M1488.3 1494.9h1M1467.7 1484.3h1M1481.1 1497.3h1M1475.6 1491.5h1M1489.1 1467.9h1M1491.1 1463.2h1M1470.3 1508.9h1M1492.7 1463.1h1M1493.8 1474.6h1M1492.4 1460.0h1M1492.3 1474.2h1M1513.6 1458.4h1M1488.9 1497.4h1M1505.3 1471.3h1M1474.5 1479.0h1M1518.0 1466.1h1M1484.6 1467.7h1M1503.2 1471.4h1M1487.1 1466.6h1M1492.3 1488.3h1M1485.4 1469.3h1M1488.5 1475.5h1M1479.5 1488.6h1M1488.4 1495.0h1M1472.4 1477.0h1M1502.2 1483.7h1M1491.7 1479.8h1M1502.3 1469.8h1M1498.6 1483.5h1M1472.6 1479.5h1M1476.1 1494.3h1M1487.8 1499.1h1M1496.4 1476.1h1M1471.9 1495.8h1M1494.9 1480.6h1M1488.1 1480.4h1M1472.1 1468.5h1M1481.2 1471.9h1M1473.1 1473.1h1M1483.5 1480.8h1M1461.2 1477.8h1M1484.6 1479.2h1M1496.7 1475.9h1M1483.3 1491.6h1M1496.2 1465.4h1M1489.8 1480.5h1M1501.6 1468.3h1M1506.9 1461.0h1M1472.4 1458.6h1M1486.3 1485.0h1M1477.4 1487.6h1M1470.0 1497.8h1M1473.0 1477.6h1M1467.8 1473.6h1M1504.8 1492.4h1M1482.2 1476.6h1M1495.2 1483.0h1M1484.9 1485.7h1M1511.7 1464.6h1M1488.6 1485.1h1M1482.3 1482.6h1M1486.5 1458.9h1M1483.0 1468.6h1M1471.3 1483.6h1M1476.7 1479.3h1M1470.9 1470.2h1M1489.9 1476.3h1M1475.7 1477.4h1M1501.6 1483.3h1M1485.8 1481.6h1M1486.6 1487.8h1M1469.7 1490.9h1M1497.9 1470.2h1M1474.0 1478.2h1M1492.8 1465.3h1M1498.5 1455.8h1M1492.6 1482.7h1M1495.6 1472.1h1M1497.7 1442.0h1M1496.7 1472.2h1M1481.1 1482.0h1M1490.7 1470.9h1M1468.7 1476.9h1M1512.0 1484.4h1M1480.9 1479.6h1M1498.1 1480.8h1M1478.6 1476.3h1M1465.0 1506.0h1M1504.6 1455.7h1M1495.0 1488.1h1M1511.3 1472.8h1M1502.0 1496.5h1M1479.0 1498.1h1M1495.3 1476.7h1M1489.4 1490.8h1M1490.3 1491.8h1M1493.7 1459.6h1M1481.0 1483.5h1M1472.0 1493.3h1M1481.5 1474.7h1M1509.9 1466.8h1M1479.0 1484.4h1M1508.0 1492.8h1M1485.5 1470.3h1M1486.3 1464.6h1M1488.8 1484.7h1M1481.7 1495.5h1M1472.3 1485.5h1M1494.4 1469.4h1M1500.7 1483.4h1M1490.0 1483.9h1M1506.7 1473.5h1M1474.5 1501.8h1M1489.6 1510.1h1M1498.9 1454.9h1M1490.7 1483.5h1M1486.3 1495.8h1M1473.4 1482.2h1M1494.2 1484.2h1M1464.9 1495.8h1M1481.6 1495.0h1M1473.7 1480.8h1M1486.6 1465.8h1M1476.6 1484.2h1M1480.1 1489.2h1M1481.9 1473.3h1M1489.8 1465.4h1M1488.0 1478.5h1M1463.7 1484.0h1M1488.3 1473.4h1M1476.4 1487.7h1M1490.7 1463.6h1M1478.9 1478.7h1M1488.2 1479.0h1M1515.0 1470.4h1M1498.6 1455.4h1M1483.6 1473.8h1M1498.1 1484.6h1M1493.9 1468.7h1M1491.4 1483.2h1M1498.5 1480.5h1M1487.9 1473.5h1M1505.4 1449.6h1M1483.9 1466.9h1M1483.3 1475.2h1M1491.4 1467.9h1M1477.1 1500.5h1M1486.8 1485.8h1M1497.5 1482.2h1M1480.1 1485.4h1M1483.1 1478.5h1M1498.9 1461.2h1M1484.6 1475.3h1M1505.8 1458.1h1M1484.9 1484.6h1M1499.6 1469.4h1M1483.8 1482.1h1M1475.6 1472.1h1M1494.3 1471.3h1M1478.3 1505.0h1M1469.5 1475.6h1M1469.2 1492.3h1M1487.7 1468.2h1M1487.2 1468.7h1M1473.9 1462.2h1M1479.0 1478.5h1M1521.1 1456.4h1M1504.5 1471.8h1M1484.6 1472.6h1M1485.6 1465.5h1M1484.4 1469.4h1M1474.9 1484.1h1M1487.2 1467.9h1M1490.9 1483.8h1M1473.4 1484.1h1M1488.4 1472.5h1M1499.2 1482.6h1M1496.7 1488.4h1M1488.1 1480.3h1M1498.1 1464.5h1M1477.4 1473.4h1M1497.8 1470.5h1M1500.2 1480.4h1M1486.1 1473.1h1M1508.1 1473.4h1M1517.3 1443.4h1M1478.6 1484.8h1M1506.0 1471.8h1M1472.9 1488.9h1M1506.7 1466.7h1M1495.5 1503.1h1M1495.3 1460.3h1M1492.6 1462.8h1M1482.4 1466.6h1M1500.2 1482.1h1M1522.8 1457.7h1M1487.0 1494.0h1M1482.9 1504.0h1M1493.5 1474.6h1M1506.8 1462.3h1M1492.4 1495.5h1M1501.1 1482.2h1M1498.0 1487.6h1M1490.5 1498.3h1M1483.6 1468.4h1M1500.1 1468.0h1M1504.2 1483.6h1M1491.8 1455.5h1M1489.8 1462.6h1M1509.9 1470.1h1M1492.1 1460.0h1M1483.4 1473.9h1M1484.7 1445.4h1M1500.4 1460.7h1M1486.5 1481.6h1M1477.5 1433.7h1M1478.4 1472.7h1M1497.7 1458.0h1M1487.6 1469.8h1M1484.0 1450.9h1M1483.9 1465.3h1M1492.9 1461.6h1M1502.4 1453.2h1M1486.1 1444.7h1M1492.7 1463.5h1M1481.7 1464.5h1M1487.9 1462.2h1M1497.0 1434.7h1M1489.9 1444.5h1M1495.7 1460.6h1M1497.3 1457.0h1M1480.2 1464.0h1M1489.7 1455.3h1M1500.9 1469.1h1M1487.0 1446.7h1M1500.9 1475.9h1M1483.8 1446.5h1M1489.4 1456.6h1M1494.9 1474.0h1M1495.7 1458.4h1M1494.6 1468.4h1M1493.9 1465.4h1M1497.8 1464.4h1M1487.7 1453.0h1M1479.0 1450.5h1M1478.8 1470.9h1M1493.3 1466.4h1M1487.1 1464.1h1M1499.5 1472.3h1M1482.2 1468.1h1M1485.1 1446.7h1M1490.5 1469.2h1M1491.6 1451.0h1M1504.6 1462.3h1M1503.9 1462.1h1M1486.9 1466.2h1M1492.6 1484.9h1M1496.1 1451.1h1M1482.9 1443.0h1M1495.4 1460.1h1M1492.2 1460.4h1M1474.8 1442.6h1M1503.5 1468.0h1M1503.8 1453.6h1M1499.9 1463.7h1M1483.0 1474.2h1M1484.4 1464.6h1M1493.2 1466.3h1M1496.4 1457.8h1M1484.3 1466.0h1M1480.9 1462.7h1M1481.7 1454.4h1M1478.9 1450.9h1M1486.0 1454.3h1M1481.2 1469.3h1M1483.6 1452.8h1M1497.7 1454.5h1M1498.8 1446.9h1M1487.2 1462.0h1M1492.7 1470.8h1M1495.7 1475.8h1M1486.2 1465.9h1M1486.6 1467.4h1M1488.0 1463.5h1M1490.5 1472.8h1M1495.3 1461.4h1M1492.7 1460.8h1M1501.7 1449.4h1M1490.0 1468.7h1M1485.0 1450.8h1M1484.4 1453.2h1M1489.9 1456.1h1M1482.1 1450.7h1M1489.1 1476.9h1M1504.3 1462.5h1M1499.4 1453.3h1M1485.6 1461.8h1M1500.8 1455.5h1M1487.5 1472.2h1M1494.1 1459.0h1M1484.1 1453.8h1M1497.6 1451.0h1M1485.0 1459.2h1M1501.6 1446.8h1M1487.6 1466.5h1M1493.7 1448.9h1M1491.0 1459.2h1M1492.9 1461.9h1M1486.9 1449.7h1M1485.3 1473.2h1M1480.9 1443.3h1M1491.0 1466.0h1M1497.9 1471.3h1M1499.1 1455.9h1M1500.0 1477.9h1M1492.7 1457.7h1M1500.1 1445.9h1M1489.6 1456.7h1M1490.6 1457.4h1M1475.7 1453.8h1M1498.2 1453.9h1M1490.2 1462.7h1M1495.4 1433.2h1M1485.9 1474.3h1M1501.8 1451.5h1M1495.6 1455.9h1M1493.9 1442.8h1M1489.7 1450.2h1M1488.1 1471.3h1M1490.4 1474.4h1M1499.8 1447.7h1M1487.6 1459.3h1M1485.2 1471.4h1M1490.8 1447.2h1M1484.5 1456.4h1M1504.7 1461.7h1M1477.3 1464.0h1M1497.1 1450.3h1M1495.0 1464.1h1M1497.4 1454.4h1M1487.2 1444.4h1M1502.0 1475.5h1M1495.3 1446.2h1M1497.9 1480.3h1M1490.3 1463.9h1M1485.8 1478.8h1M1498.4 1462.6h1M1498.5 1472.1h1M1484.8 1457.9h1M1486.7 1460.5h1M1479.8 1444.5h1M1498.6 1463.5h1M1499.4 1464.0h1M1500.8 1468.3h1M1493.9 1455.9h1M1496.2 1442.3h1M1487.0 1462.9h1M1491.8 1463.5h1M1489.3 1458.2h1M1506.3 1451.1h1M1486.3 1480.1h1M1485.6 1471.9h1M1499.4 1474.9h1M1505.0 1472.8h1M1492.6 1442.5h1M1482.2 1465.7h1M1507.4 1462.0h1M1496.0 1464.5h1M1480.5 1429.0h1M1494.8 1452.9h1M1492.6 1440.7h1M1492.9 1469.9h1M1492.9 1469.2h1M1487.4 1460.9h1M1498.5 1469.2h1M1492.5 1440.6h1M1472.9 1453.4h1M1482.9 1461.0h1M1496.3 1454.1h1M1489.3 1471.1h1M1496.7 1455.5h1M1488.1 1459.6h1M1490.7 1458.6h1M1488.7 1459.7h1M1481.1 1459.2h1M1483.9 1440.7h1M1506.6 1459.0h1M1498.9 1431.0h1M1486.2 1448.2h1M1491.1 1446.6h1M1502.3 1445.9h1M1487.5 1461.6h1M1507.9 1467.2h1M1500.6 1480.2h1M1485.3 1455.5h1M1495.4 1449.5h1M1486.5 1455.7h1M1491.0 1443.1h1M1481.8 1452.1h1M1488.3 1452.9h1M1488.6 1442.7h1M1478.8 1469.3h1M1493.7 1470.6h1M1486.8 1463.6h1M1495.5 1470.8h1M1500.5 1452.4h1M1506.7 1465.7h1M1488.8 1460.2h1M1494.5 1460.8h1M1500.7 1459.0h1M1482.9 1446.4h1M1486.6 1459.1h1M1493.7 1467.9h1M1479.4 1471.0h1M1495.1 1450.0h1M1484.8 1459.0h1M1493.4 1461.3h1M1491.8 1454.9h1M1497.7 1468.1h1M1486.6 1451.2h1M1488.1 1456.3h1M1488.7 1456.4h1M1493.4 1471.4h1M1495.2 1457.1h1M1503.9 1453.8h1M1489.3 1458.5h1M1497.3 1461.8h1M1489.0 1453.5h1M1501.1 1476.1h1M1494.0 1461.0h1M1493.4 1455.4h1M1482.4 1460.6h1M1486.4 1470.2h1M1486.7 1446.2h1M1495.9 1461.2h1M1486.9 1469.9h1M1512.3 1457.2h1M1484.7 1471.7h1M1491.8 1438.5h1M1498.3 1456.3h1M1494.2 1452.3h1M1492.6 1464.4h1M1494.3 1473.7h1M1488.4 1454.5h1M1495.5 1443.4h1M1490.9 1460.5h1M1491.7 1451.7h1M1492.5 1464.9h1M1501.4 1477.5h1M1485.4 1466.5h1M1490.9 1468.0h1M1504.2 1456.5h1M1492.8 1456.6h1M1499.3 1461.3h1M1483.3 1448.0h1M1489.2 1463.0h1M1490.0 1455.9h1M1494.0 1454.8h1M1490.2 1458.0h1M1503.7 1462.6h1M1502.6 1461.4h1M1502.1 1461.5h1M1489.8 1473.6h1M1484.7 1471.1h1M1487.4 1467.2h1M1494.4 1454.0h1M1488.5 1452.3h1M1488.4 1456.3h1M1520.0 1456.6h1M1515.8 1494.1h1M1521.3 1492.9h1M1502.4 1473.8h1M1496.2 1491.3h1M1503.3 1489.5h1M1510.1 1498.0h1M1517.9 1454.7h1M1512.4 1472.3h1M1499.8 1492.8h1M1518.4 1461.8h1M1507.8 1455.4h1M1513.7 1464.0h1M1491.9 1472.0h1M1497.3 1478.4h1M1499.9 1453.8h1M1516.6 1474.0h1M1505.1 1486.1h1M1483.7 1479.6h1M1507.8 1479.2h1M1503.0 1477.1h1M1502.2 1510.4h1M1496.6 1474.4h1M1507.7 1510.2h1M1531.9 1471.7h1M1520.6 1497.4h1M1508.7 1466.9h1M1501.3 1490.9h1M1489.6 1504.3h1M1509.8 1473.3h1M1491.5 1461.9h1M1509.3 1485.7h1M1496.9 1484.0h1M1508.8 1489.7h1M1525.3 1502.5h1M1518.4 1461.7h1M1507.6 1477.8h1M1511.1 1470.1h1M1507.5 1486.5h1M1513.2 1487.6h1M1526.1 1494.5h1M1490.6 1464.1h1M1512.4 1478.9h1M1511.2 1478.6h1M1526.3 1471.2h1M1494.7 1462.1h1M1480.7 1487.2h1M1502.4 1497.5h1M1515.1 1469.6h1M1520.7 1473.7h1M1504.2 1493.4h1M1523.2 1481.4h1M1496.3 1459.5h1M1504.4 1460.3h1M1496.3 1462.7h1M1508.2 1492.9h1M1502.2 1502.3h1M1507.8 1457.3h1M1514.9 1470.9h1M1501.8 1469.4h1M1499.1 1462.0h1M1502.6 1451.3h1M1511.1 1464.9h1M1507.2 1475.5h1M1495.4 1479.7h1M1530.2 1462.7h1M1519.2 1501.8h1M1502.4 1468.8h1M1515.8 1449.9h1M1505.8 1494.6h1M1495.8 1483.0h1M1507.3 1510.2h1M1490.3 1479.2h1M1495.8 1487.5h1M1533.7 1479.8h1M1488.5 1454.7h1M1503.1 1490.6h1M1511.7 1473.5h1M1519.8 1479.3h1M1502.5 1476.6h1M1509.9 1465.5h1M1505.7 1480.2h1M1533.8 1480.6h1M1523.9 1513.0h1M1489.0 1474.9h1M1519.0 1492.5h1M1507.8 1488.2h1M1496.4 1481.9h1M1501.6 1478.9h1M1523.8 1488.8h1M1507.5 1489.3h1M1499.2 1480.9h1M1516.8 1474.0h1M1505.0 1466.0h1M1481.4 1488.8h1M1486.3 1497.0h1M1514.6 1469.0h1M1518.6 1461.0h1M1513.8 1504.9h1M1519.8 1497.0h1M1501.0 1464.1h1M1493.9 1482.7h1M1508.7 1461.9h1M1514.1 1474.5h1M1515.9 1488.3h1M1523.3 1480.8h1M1515.8 1468.5h1M1491.1 1494.9h1M1502.3 1459.1h1M1508.7 1483.6h1M1507.2 1471.1h1M1501.2 1475.4h1M1501.7 1475.5h1M1517.1 1492.3h1M1508.9 1476.2h1M1491.3 1457.0h1M1506.3 1457.5h1M1526.9 1475.0h1M1497.7 1493.0h1M1498.8 1466.3h1M1516.7 1479.9h1M1508.3 1457.2h1M1519.3 1472.3h1M1496.8 1486.8h1M1517.1 1472.0h1M1507.9 1461.5h1M1495.6 1479.5h1M1520.9 1478.7h1M1515.2 1467.6h1M1508.9 1479.2h1M1509.6 1476.4h1M1514.5 1487.0h1M1502.3 1454.2h1M1503.8 1474.2h1M1512.7 1484.9h1M1504.1 1467.4h1M1505.1 1479.9h1M1506.4 1461.3h1M1487.1 1492.0h1M1497.6 1483.0h1M1493.9 1466.3h1M1509.8 1474.6h1M1502.5 1491.4h1M1518.6 1502.2h1M1502.4 1478.5h1M1511.8 1478.3h1M1498.1 1478.8h1M1507.7 1463.0h1M1503.8 1477.3h1M1505.8 1453.4h1M1497.6 1510.9h1M1528.6 1469.4h1M1506.3 1482.2h1M1504.7 1484.4h1M1511.3 1467.5h1M1508.2 1479.9h1M1496.5 1476.8h1M1516.0 1460.3h1M1520.4 1457.7h1M1512.3 1469.6h1M1503.5 1483.8h1M1499.2 1475.1h1M1502.7 1493.4h1M1500.1 1477.9h1M1504.3 1463.3h1M1502.7 1489.3h1M1522.9 1484.7h1M1507.7 1468.5h1M1522.7 1454.2h1M1512.3 1478.1h1M1516.9 1484.2h1M1508.9 1477.6h1M1506.7 1463.4h1M1509.9 1473.3h1M1516.4 1474.0h1M1513.5 1489.2h1M1512.9 1496.3h1M1500.2 1474.8h1M1503.1 1464.3h1M1497.4 1470.7h1M1511.4 1493.4h1M1514.8 1488.3h1M1497.8 1488.5h1M1483.9 1449.3h1M1510.6 1471.3h1M1514.6 1485.5h1M1527.1 1460.1h1M1513.1 1468.1h1M1528.5 1473.2h1M1493.0 1464.3h1M1498.9 1491.9h1M1512.6 1491.3h1M1513.0 1490.0h1M1515.8 1479.0h1M1509.0 1470.0h1M1491.1 1520.7h1M1491.9 1472.8h1M1492.3 1453.8h1M1505.0 1494.3h1M1489.5 1488.3h1M1512.7 1443.6h1M1509.1 1497.6h1M1499.9 1479.2h1M1526.5 1490.4h1M1481.8 1473.8h1M1504.8 1488.8h1M1496.7 1482.5h1M1512.9 1484.7h1M1498.6 1463.9h1M1502.6 1485.7h1M1511.0 1498.1h1M1515.6 1481.8h1M1497.6 1475.3h1M1500.5 1485.2h1M1517.2 1489.0h1M1511.8 1460.9h1M1496.2 1478.7h1M1504.7 1496.8h1M1516.6 1467.4h1M1491.8 1462.4h1M1505.8 1490.5h1M1510.6 1485.3h1M1506.8 1494.0h1M1509.8 1461.7h1M1509.1 1491.3h1M1506.0 1463.7h1M1502.0 1463.9h1M1500.2 1491.7h1M1504.2 1467.5h1M1519.9 1483.2h1M1506.8 1459.7h1M1512.1 1490.3h1M1476.2 1489.4h1M1523.3 1452.6h1M1497.1 1469.5h1M1500.8 1472.3h1M1507.2 1469.0h1M1502.8 1490.8h1M1505.4 1471.6h1M1514.3 1482.0h1M1500.3 1485.6h1M1494.4 1455.4h1M1531.1 1479.5h1M1502.0 1504.8h1M1504.3 1497.7h1M1502.4 1521.2h1M1501.1 1478.4h1M1502.2 1483.8h1M1536.4 1468.8h1M1500.1 1486.5h1M1497.9 1482.9h1M1520.0 1491.0h1M1496.1 1480.4h1M1491.7 1496.7h1M1505.4 1470.3h1M1501.2 1478.6h1M1495.3 1480.8h1M1480.4 1494.6h1M1513.7 1480.5h1M1513.4 1467.4h1M1511.9 1448.5h1M1493.6 1468.7h1M1524.7 1489.9h1M1486.8 1503.9h1M1507.4 1479.4h1M1519.4 1439.3h1M1501.6 1485.0h1M1511.8 1491.5h1M1539.6 1475.6h1M1522.2 1506.8h1M1497.3 1486.2h1M1502.0 1493.4h1M1515.2 1474.4h1M1488.2 1461.9h1M1503.4 1467.6h1M1499.1 1489.4h1M1491.8 1444.9h1M1526.2 1513.5h1M1503.7 1469.5h1M1508.6 1465.3h1M1508.5 1480.4h1M1533.0 1478.1h1M1502.4 1499.5h1M1501.4 1483.7h1M1521.0 1498.2h1M1529.9 1476.6h1M1501.1 1483.0h1M1487.2 1479.6h1M1501.8 1486.3h1M1507.0 1479.5h1M1489.8 1459.4h1M1522.4 1482.2h1M1492.5 1470.5h1M1517.8 1489.0h1M1519.8 1461.4h1M1487.3 1479.5h1M1518.5 1481.3h1M1544.7 1463.6h1M1510.9 1478.7h1M1506.7 1482.1h1M1528.1 1482.3h1M1509.2 1474.1h1M1499.4 1453.6h1M1513.4 1476.9h1M1490.2 1498.4h1M1503.6 1491.7h1M1511.4 1487.2h1M1501.9 1472.8h1M1507.4 1472.3h1M1515.7 1489.8h1M1494.4 1477.5h1M1498.4 1496.7h1M1507.9 1474.3h1M1514.7 1496.4h1M1496.9 1518.4h1M1489.3 1493.1h1M1525.6 1505.2h1M1532.2 1449.4h1M1512.9 1487.6h1M1509.7 1472.2h1M1501.1 1474.9h1M1501.7 1482.1h1M1510.9 1479.3h1M1508.1 1495.2h1M1528.5 1513.8h1M1506.4 1485.8h1M1493.7 1503.7h1M1502.2 1485.5h1M1484.4 1480.9h1M1533.8 1474.2h1M1525.8 1471.2h1M1519.0 1470.2h1M1488.5 1466.3h1M1524.1 1471.5h1M1506.1 1483.3h1M1509.0 1438.2h1M1502.4 1468.9h1M1509.1 1461.4h1M1487.6 1476.4h1M1511.8 1476.8h1M1502.1 1450.9h1M1502.6 1478.0h1M1497.6 1486.3h1M1533.1 1492.5h1M1516.6 1477.0h1M1513.8 1469.2h1M1518.8 1498.3h1M1492.0 1500.9h1M1497.9 1477.4h1M1498.0 1484.0h1M1504.7 1472.2h1M1506.1 1491.5h1M1506.1 1482.0h1M1502.1 1473.8h1M1521.1 1459.9h1M1516.4 1447.5h1M1508.0 1483.7h1M1501.8 1449.5h1M1513.1 1498.4h1M1495.6 1482.7h1M1507.9 1494.5h1M1505.9 1491.0h1M1504.9 1499.6h1M1516.1 1480.8h1M1505.1 1476.5h1M1521.2 1475.9h1M1506.1 1487.5h1M1504.0 1486.7h1M1506.8 1471.4h1M1516.6 1476.3h1M1508.5 1462.6h1M1516.9 1485.6h1M1520.4 1479.6h1M1533.0 1470.2h1M1502.1 1493.7h1M1488.3 1463.6h1M1512.5 1481.2h1M1500.0 1465.7h1M1499.3 1494.6h1M1507.0 1478.2h1M1528.8 1447.8h1M1526.9 1473.8h1M1503.9 1507.7h1M1517.5 1459.8h1M1495.4 1459.7h1M1515.0 1469.3h1M1513.4 1471.4h1M1508.9 1469.8h1M1523.4 1488.0h1M1508.2 1461.0h1M1520.5 1508.1h1M1504.7 1472.5h1M1497.1 1478.0h1M1499.4 1514.3h1M1512.1 1486.0h1M1495.0 1474.4h1M1509.9 1470.2h1M1500.2 1473.1h1M1502.5 1492.2h1M1491.2 1457.9h1M1496.2 1476.1h1M1499.8 1467.5h1M1499.8 1479.5h1M1519.8 1502.0h1M1490.9 1499.9h1M1504.9 1474.7h1M1504.3 1489.9h1M1510.2 1498.8h1M1503.1 1474.0h1M1516.1 1465.7h1M1487.9 1483.6h1M1492.0 1500.1h1M1517.9 1470.4h1M1510.0 1474.0h1M1522.1 1483.9h1M1531.1 1455.2h1M1492.5 1486.0h1M1512.1 1479.0h1M1520.5 1486.8h1M1507.7 1476.3h1M1498.8 1486.6h1M1522.4 1464.0h1M1501.8 1498.2h1M1510.7 1464.4h1M1519.3 1497.0h1M1509.0 1497.3h1M1499.1 1454.2h1M1513.5 1504.3h1M1499.6 1475.7h1M1494.6 1461.2h1M1497.0 1490.7h1M1517.2 1462.0h1M1519.8 1464.1h1M1500.5 1487.3h1M1505.4 1462.7h1M1505.8 1474.2h1M1501.0 1511.7h1M1487.4 1499.4h1M1506.0 1467.5h1M1522.1 1477.7h1M1466.6 1516.6h1M1489.8 1511.5h1M1467.7 1500.1h1M1476.3 1481.7h1M1475.8 1492.3h1M1461.7 1501.7h1M1466.5 1512.3h1M1483.2 1507.6h1M1484.3 1515.3h1M1461.8 1503.4h1M1473.2 1505.2h1M1478.1 1508.2h1M1472.6 1510.2h1M1472.9 1506.5h1M1469.6 1499.2h1M1475.9 1515.1h1M1469.2 1509.4h1M1466.7 1503.6h1M1471.1 1488.1h1M1460.7 1512.1h1M1457.4 1511.9h1M1486.6 1505.6h1M1481.4 1497.5h1M1483.9 1486.2h1M1473.2 1489.9h1M1472.2 1502.2h1M1482.9 1502.8h1M1468.6 1498.4h1M1491.6 1513.7h1M1485.3 1523.4h1M1473.1 1506.5h1M1462.9 1522.1h1M1473.9 1510.7h1M1462.4 1512.4h1M1482.3 1500.5h1M1477.4 1498.7h1M1470.2 1489.5h1M1487.2 1496.1h1M1486.9 1489.4h1M1476.3 1499.3h1M1469.9 1519.0h1M1475.2 1498.5h1M1460.2 1507.7h1M1463.8 1489.3h1M1467.0 1492.6h1M1476.9 1512.1h1M1464.6 1510.0h1M1474.9 1513.5h1M1467.9 1511.6h1M1473.7 1513.0h1M1468.7 1499.9h1M1471.0 1523.8h1M1475.1 1493.1h1M1481.1 1492.4h1M1463.1 1514.2h1M1472.7 1496.6h1M1482.1 1496.9h1M1474.7 1495.0h1M1467.8 1513.2h1M1472.6 1503.7h1M1469.5 1500.5h1M1481.7 1512.0h1M1489.0 1485.5h1M1490.1 1495.2h1M1484.5 1512.2h1M1479.9 1515.1h1M1468.5 1500.1h1M1485.6 1503.0h1M1480.3 1498.6h1M1453.9 1497.6h1M1470.9 1504.2h1M1460.9 1509.9h1M1472.7 1505.5h1M1467.4 1510.4h1M1485.4 1513.9h1M1479.2 1503.0h1M1477.7 1508.5h1M1483.1 1506.3h1M1477.8 1501.2h1M1479.2 1516.5h1M1473.5 1520.4h1M1465.8 1517.0h1M1483.7 1513.8h1M1480.8 1477.4h1M1482.4 1502.3h1M1464.5 1529.4h1M1466.3 1496.0h1M1474.8 1492.5h1M1483.1 1497.0h1M1489.9 1507.0h1M1471.5 1508.7h1M1481.2 1490.4h1M1471.0 1501.3h1M1463.6 1506.0h1M1470.1 1485.5h1M1475.1 1518.8h1M1459.1 1493.5h1M1471.1 1526.0h1M1486.7 1502.6h1M1467.2 1508.5h1M1474.0 1509.2h1M1477.9 1513.5h1M1472.0 1510.1h1M1469.3 1500.7h1M1480.7 1501.7h1M1469.9 1506.8h1M1476.9 1512.0h1M1464.1 1495.1h1M1482.1 1518.5h1M1483.5 1524.7h1M1458.1 1511.6h1M1470.3 1493.4h1M1467.1 1500.8h1M1472.2 1504.7h1M1471.3 1510.6h1M1481.0 1500.1h1M1471.6 1504.3h1M1469.7 1513.6h1M1470.0 1492.1h1M1473.8 1511.3h1M1469.9 1523.3h1M1472.5 1502.0h1M1467.0 1497.1h1M1463.8 1490.5h1M1483.4 1519.8h1M1486.7 1525.8h1M1466.2 1495.1h1M1477.4 1504.3h1M1480.3 1522.5h1M1472.2 1500.9h1M1470.4 1512.9h1M1465.3 1520.0h1M1490.4 1521.7h1M1485.3 1505.5h1M1470.4 1509.1h1M1463.9 1507.4h1M1481.9 1500.0h1M1467.0 1497.2h1M1497.1 1513.1h1M1468.1 1518.8h1M1478.6 1503.5h1M1469.4 1503.8h1M1469.7 1516.4h1M1457.4 1506.2h1M1485.4 1506.5h1M1472.8 1506.4h1M1471.7 1520.1h1M1480.0 1503.2h1M1469.0 1503.7h1M1491.7 1480.9h1M1462.9 1513.5h1M1461.3 1492.0h1M1479.3 1525.0h1M1486.3 1496.2h1M1462.3 1493.3h1M1495.9 1507.0h1M1469.8 1511.6h1M1474.3 1501.5h1M1469.1 1514.7h1M1484.3 1511.9h1M1465.9 1499.2h1M1482.7 1492.0h1M1468.6 1508.0h1M1484.8 1501.4h1M1473.0 1497.4h1M1474.7 1514.5h1M1481.9 1493.2h1M1465.3 1491.7h1M1462.7 1517.9h1M1463.4 1507.3h1M1502.5 1442.7h1M1496.5 1447.7h1M1486.7 1441.0h1M1489.7 1433.8h1M1478.1 1427.8h1M1487.3 1443.9h1M1501.3 1437.5h1M1494.7 1439.9h1M1504.5 1439.2h1M1490.3 1433.3h1M1486.3 1438.6h1M1502.1 1429.6h1M1486.7 1443.3h1M1482.4 1431.4h1M1481.8 1429.9h1M1493.8 1434.5h1M1486.3 1442.0h1M1486.6 1435.6h1M1494.7 1434.0h1M1493.8 1434.3h1M1483.0 1448.7h1M1496.1 1438.4h1M1506.4 1439.8h1M1503.8 1439.1h1M1483.1 1439.5h1M1502.4 1446.1h1M1487.8 1451.5h1M1488.3 1435.6h1M1488.1 1425.6h1M1489.5 1431.5h1M1493.3 1443.1h1M1489.1 1440.8h1M1485.1 1443.2h1M1488.3 1444.4h1M1502.6 1433.7h1" stroke="#ff0c0c" stroke-width="1" stroke-opacity="0.62" fill="none"/>
<rect x="1420.5" y="1388.9" width="166.1" height="165.2" fill="none" stroke="#3a3a3a" stroke-width="1"/>
<line x1="1499.6" y1="1388.9" x2="1499.6" y2="1554.1" stroke-width="1.5" stroke="#111"/>
<line x1="1420.5" y1="1459.6" x2="1586.6" y2="1459.6" stroke-width="1.5" stroke="#111"/>
<line x1="1415.7" y1="1553.5" x2="1420.5" y2="1553.5" stroke-width="1.1" stroke="#222"/>
<text class="s" x="1414.3" y="1557.5" font-size="6.6" text-anchor="end" fill="#333" stroke="#333" style="stroke-width:0.15px">10<tspan dy="-3.6" font-size="5.15">2</tspan></text>
<line x1="1417.9" y1="1543.99" x2="1420.5" y2="1543.99" stroke-width="0.7" stroke="#333"/>
<line x1="1417.9" y1="1538.42" x2="1420.5" y2="1538.42" stroke-width="0.7" stroke="#333"/>
<line x1="1417.9" y1="1534.47" x2="1420.5" y2="1534.47" stroke-width="0.7" stroke="#333"/>
<line x1="1417.9" y1="1531.41" x2="1420.5" y2="1531.41" stroke-width="0.7" stroke="#333"/>
<line x1="1417.9" y1="1528.91" x2="1420.5" y2="1528.91" stroke-width="0.7" stroke="#333"/>
<line x1="1417.9" y1="1526.79" x2="1420.5" y2="1526.79" stroke-width="0.7" stroke="#333"/>
<line x1="1417.9" y1="1524.96" x2="1420.5" y2="1524.96" stroke-width="0.7" stroke="#333"/>
<line x1="1417.9" y1="1523.35" x2="1420.5" y2="1523.35" stroke-width="0.7" stroke="#333"/>
<line x1="1415.7" y1="1521.9" x2="1420.5" y2="1521.9" stroke-width="1.1" stroke="#222"/>
<text class="s" x="1414.3" y="1525.9" font-size="6.6" text-anchor="end" fill="#333" stroke="#333" style="stroke-width:0.15px">10<tspan dy="-3.6" font-size="5.15">3</tspan></text>
<line x1="1417.9" y1="1512.39" x2="1420.5" y2="1512.39" stroke-width="0.7" stroke="#333"/>
<line x1="1417.9" y1="1506.82" x2="1420.5" y2="1506.82" stroke-width="0.7" stroke="#333"/>
<line x1="1417.9" y1="1502.87" x2="1420.5" y2="1502.87" stroke-width="0.7" stroke="#333"/>
<line x1="1417.9" y1="1499.81" x2="1420.5" y2="1499.81" stroke-width="0.7" stroke="#333"/>
<line x1="1417.9" y1="1497.31" x2="1420.5" y2="1497.31" stroke-width="0.7" stroke="#333"/>
<line x1="1417.9" y1="1495.19" x2="1420.5" y2="1495.19" stroke-width="0.7" stroke="#333"/>
<line x1="1417.9" y1="1493.36" x2="1420.5" y2="1493.36" stroke-width="0.7" stroke="#333"/>
<line x1="1417.9" y1="1491.75" x2="1420.5" y2="1491.75" stroke-width="0.7" stroke="#333"/>
<line x1="1415.7" y1="1490.3" x2="1420.5" y2="1490.3" stroke-width="1.1" stroke="#222"/>
<text class="s" x="1414.3" y="1494.3" font-size="6.6" text-anchor="end" fill="#333" stroke="#333" style="stroke-width:0.15px">10<tspan dy="-3.6" font-size="5.15">4</tspan></text>
<line x1="1417.9" y1="1480.79" x2="1420.5" y2="1480.79" stroke-width="0.7" stroke="#333"/>
<line x1="1417.9" y1="1475.22" x2="1420.5" y2="1475.22" stroke-width="0.7" stroke="#333"/>
<line x1="1417.9" y1="1471.27" x2="1420.5" y2="1471.27" stroke-width="0.7" stroke="#333"/>
<line x1="1417.9" y1="1468.21" x2="1420.5" y2="1468.21" stroke-width="0.7" stroke="#333"/>
<line x1="1417.9" y1="1465.71" x2="1420.5" y2="1465.71" stroke-width="0.7" stroke="#333"/>
<line x1="1417.9" y1="1463.59" x2="1420.5" y2="1463.59" stroke-width="0.7" stroke="#333"/>
<line x1="1417.9" y1="1461.76" x2="1420.5" y2="1461.76" stroke-width="0.7" stroke="#333"/>
<line x1="1417.9" y1="1460.15" x2="1420.5" y2="1460.15" stroke-width="0.7" stroke="#333"/>
<line x1="1415.7" y1="1458.7" x2="1420.5" y2="1458.7" stroke-width="1.1" stroke="#222"/>
<text class="s" x="1414.3" y="1462.7" font-size="6.6" text-anchor="end" fill="#333" stroke="#333" style="stroke-width:0.15px">10<tspan dy="-3.6" font-size="5.15">5</tspan></text>
<line x1="1417.9" y1="1449.19" x2="1420.5" y2="1449.19" stroke-width="0.7" stroke="#333"/>
<line x1="1417.9" y1="1443.62" x2="1420.5" y2="1443.62" stroke-width="0.7" stroke="#333"/>
<line x1="1417.9" y1="1439.67" x2="1420.5" y2="1439.67" stroke-width="0.7" stroke="#333"/>
<line x1="1417.9" y1="1436.61" x2="1420.5" y2="1436.61" stroke-width="0.7" stroke="#333"/>
<line x1="1417.9" y1="1434.11" x2="1420.5" y2="1434.11" stroke-width="0.7" stroke="#333"/>
<line x1="1417.9" y1="1431.99" x2="1420.5" y2="1431.99" stroke-width="0.7" stroke="#333"/>
<line x1="1417.9" y1="1430.16" x2="1420.5" y2="1430.16" stroke-width="0.7" stroke="#333"/>
<line x1="1417.9" y1="1428.55" x2="1420.5" y2="1428.55" stroke-width="0.7" stroke="#333"/>
<line x1="1415.7" y1="1427.1" x2="1420.5" y2="1427.1" stroke-width="1.1" stroke="#222"/>
<text class="s" x="1414.3" y="1431.1" font-size="6.6" text-anchor="end" fill="#333" stroke="#333" style="stroke-width:0.15px">10<tspan dy="-3.6" font-size="5.15">6</tspan></text>
<line x1="1417.9" y1="1417.59" x2="1420.5" y2="1417.59" stroke-width="0.7" stroke="#333"/>
<line x1="1417.9" y1="1412.02" x2="1420.5" y2="1412.02" stroke-width="0.7" stroke="#333"/>
<line x1="1417.9" y1="1408.07" x2="1420.5" y2="1408.07" stroke-width="0.7" stroke="#333"/>
<line x1="1417.9" y1="1405.01" x2="1420.5" y2="1405.01" stroke-width="0.7" stroke="#333"/>
<line x1="1417.9" y1="1402.51" x2="1420.5" y2="1402.51" stroke-width="0.7" stroke="#333"/>
<line x1="1417.9" y1="1400.39" x2="1420.5" y2="1400.39" stroke-width="0.7" stroke="#333"/>
<line x1="1417.9" y1="1398.56" x2="1420.5" y2="1398.56" stroke-width="0.7" stroke="#333"/>
<line x1="1417.9" y1="1396.95" x2="1420.5" y2="1396.95" stroke-width="0.7" stroke="#333"/>
<line x1="1415.7" y1="1395.5" x2="1420.5" y2="1395.5" stroke-width="1.1" stroke="#222"/>
<text class="s" x="1414.3" y="1399.5" font-size="6.6" text-anchor="end" fill="#333" stroke="#333" style="stroke-width:0.15px">10<tspan dy="-3.6" font-size="5.15">7</tspan></text>
<line x1="1435.5" y1="1554.1" x2="1435.5" y2="1559.1" stroke-width="1.1" stroke="#222"/>
<text class="s" x="1437.7" y="1574.3" font-size="6.6" text-anchor="middle" fill="#333" stroke="#333" style="stroke-width:0.15px">10<tspan dy="-3.6" font-size="5.15">3</tspan></text>
<line x1="1445.07" y1="1554.1" x2="1445.07" y2="1556.7" stroke-width="0.7" stroke="#333"/>
<line x1="1450.67" y1="1554.1" x2="1450.67" y2="1556.7" stroke-width="0.7" stroke="#333"/>
<line x1="1454.65" y1="1554.1" x2="1454.65" y2="1556.7" stroke-width="0.7" stroke="#333"/>
<line x1="1457.73" y1="1554.1" x2="1457.73" y2="1556.7" stroke-width="0.7" stroke="#333"/>
<line x1="1460.25" y1="1554.1" x2="1460.25" y2="1556.7" stroke-width="0.7" stroke="#333"/>
<line x1="1462.37" y1="1554.1" x2="1462.37" y2="1556.7" stroke-width="0.7" stroke="#333"/>
<line x1="1464.22" y1="1554.1" x2="1464.22" y2="1556.7" stroke-width="0.7" stroke="#333"/>
<line x1="1465.84" y1="1554.1" x2="1465.84" y2="1556.7" stroke-width="0.7" stroke="#333"/>
<line x1="1467.3" y1="1554.1" x2="1467.3" y2="1559.1" stroke-width="1.1" stroke="#222"/>
<text class="s" x="1469.5" y="1574.3" font-size="6.6" text-anchor="middle" fill="#333" stroke="#333" style="stroke-width:0.15px">10<tspan dy="-3.6" font-size="5.15">4</tspan></text>
<line x1="1476.87" y1="1554.1" x2="1476.87" y2="1556.7" stroke-width="0.7" stroke="#333"/>
<line x1="1482.47" y1="1554.1" x2="1482.47" y2="1556.7" stroke-width="0.7" stroke="#333"/>
<line x1="1486.45" y1="1554.1" x2="1486.45" y2="1556.7" stroke-width="0.7" stroke="#333"/>
<line x1="1489.53" y1="1554.1" x2="1489.53" y2="1556.7" stroke-width="0.7" stroke="#333"/>
<line x1="1492.05" y1="1554.1" x2="1492.05" y2="1556.7" stroke-width="0.7" stroke="#333"/>
<line x1="1494.17" y1="1554.1" x2="1494.17" y2="1556.7" stroke-width="0.7" stroke="#333"/>
<line x1="1496.02" y1="1554.1" x2="1496.02" y2="1556.7" stroke-width="0.7" stroke="#333"/>
<line x1="1497.64" y1="1554.1" x2="1497.64" y2="1556.7" stroke-width="0.7" stroke="#333"/>
<line x1="1499.1" y1="1554.1" x2="1499.1" y2="1559.1" stroke-width="1.1" stroke="#222"/>
<text class="s" x="1501.3" y="1574.3" font-size="6.6" text-anchor="middle" fill="#333" stroke="#333" style="stroke-width:0.15px">10<tspan dy="-3.6" font-size="5.15">5</tspan></text>
<line x1="1508.67" y1="1554.1" x2="1508.67" y2="1556.7" stroke-width="0.7" stroke="#333"/>
<line x1="1514.27" y1="1554.1" x2="1514.27" y2="1556.7" stroke-width="0.7" stroke="#333"/>
<line x1="1518.25" y1="1554.1" x2="1518.25" y2="1556.7" stroke-width="0.7" stroke="#333"/>
<line x1="1521.33" y1="1554.1" x2="1521.33" y2="1556.7" stroke-width="0.7" stroke="#333"/>
<line x1="1523.85" y1="1554.1" x2="1523.85" y2="1556.7" stroke-width="0.7" stroke="#333"/>
<line x1="1525.97" y1="1554.1" x2="1525.97" y2="1556.7" stroke-width="0.7" stroke="#333"/>
<line x1="1527.82" y1="1554.1" x2="1527.82" y2="1556.7" stroke-width="0.7" stroke="#333"/>
<line x1="1529.44" y1="1554.1" x2="1529.44" y2="1556.7" stroke-width="0.7" stroke="#333"/>
<line x1="1530.9" y1="1554.1" x2="1530.9" y2="1559.1" stroke-width="1.1" stroke="#222"/>
<text class="s" x="1533.1" y="1574.3" font-size="6.6" text-anchor="middle" fill="#333" stroke="#333" style="stroke-width:0.15px">10<tspan dy="-3.6" font-size="5.15">6</tspan></text>
<line x1="1540.47" y1="1554.1" x2="1540.47" y2="1556.7" stroke-width="0.7" stroke="#333"/>
<line x1="1546.07" y1="1554.1" x2="1546.07" y2="1556.7" stroke-width="0.7" stroke="#333"/>
<line x1="1550.05" y1="1554.1" x2="1550.05" y2="1556.7" stroke-width="0.7" stroke="#333"/>
<line x1="1553.13" y1="1554.1" x2="1553.13" y2="1556.7" stroke-width="0.7" stroke="#333"/>
<line x1="1555.65" y1="1554.1" x2="1555.65" y2="1556.7" stroke-width="0.7" stroke="#333"/>
<line x1="1557.77" y1="1554.1" x2="1557.77" y2="1556.7" stroke-width="0.7" stroke="#333"/>
<line x1="1559.62" y1="1554.1" x2="1559.62" y2="1556.7" stroke-width="0.7" stroke="#333"/>
<line x1="1561.24" y1="1554.1" x2="1561.24" y2="1556.7" stroke-width="0.7" stroke="#333"/>
<line x1="1562.7" y1="1554.1" x2="1562.7" y2="1559.1" stroke-width="1.1" stroke="#222"/>
<text class="s" x="1564.9" y="1574.3" font-size="6.6" text-anchor="middle" fill="#333" stroke="#333" style="stroke-width:0.15px">10<tspan dy="-3.6" font-size="5.15">7</tspan></text>
<line x1="1572.27" y1="1554.1" x2="1572.27" y2="1556.7" stroke-width="0.7" stroke="#333"/>
<line x1="1577.87" y1="1554.1" x2="1577.87" y2="1556.7" stroke-width="0.7" stroke="#333"/>
<line x1="1581.85" y1="1554.1" x2="1581.85" y2="1556.7" stroke-width="0.7" stroke="#333"/>
<line x1="1584.93" y1="1554.1" x2="1584.93" y2="1556.7" stroke-width="0.7" stroke="#333"/>
<line x1="1422.85" y1="1554.1" x2="1422.85" y2="1556.7" stroke-width="0.7" stroke="#333"/>
<line x1="1425.93" y1="1554.1" x2="1425.93" y2="1556.7" stroke-width="0.7" stroke="#333"/>
<line x1="1428.45" y1="1554.1" x2="1428.45" y2="1556.7" stroke-width="0.7" stroke="#333"/>
<line x1="1430.57" y1="1554.1" x2="1430.57" y2="1556.7" stroke-width="0.7" stroke="#333"/>
<line x1="1432.42" y1="1554.1" x2="1432.42" y2="1556.7" stroke-width="0.7" stroke="#333"/>
<line x1="1434.04" y1="1554.1" x2="1434.04" y2="1556.7" stroke-width="0.7" stroke="#333"/>
<text class="s" x="1423.7" y="1403.4" font-size="7.8" fill="#4a4a4a" stroke="#4a4a4a"  style="stroke-width:0.15px">Q1</text>
<text class="s" x="1423.7" y="1414.9" font-size="7.8" fill="#4a4a4a" stroke="#4a4a4a"  style="stroke-width:0.15px">2.12</text>
<text class="s" x="1572.7" y="1403.4" font-size="7.8" text-anchor="end" fill="#4a4a4a" stroke="#4a4a4a"  style="stroke-width:0.15px">Q2</text>
<text class="s" x="1572.7" y="1414.9" font-size="7.8" text-anchor="end" fill="#4a4a4a" stroke="#4a4a4a"  style="stroke-width:0.15px">0.75</text>
<text class="s" x="1423.7" y="1533.9" font-size="7.8" fill="#4a4a4a" stroke="#4a4a4a"  style="stroke-width:0.15px">Q4</text>
<text class="s" x="1423.7" y="1545.3" font-size="7.8" fill="#4a4a4a" stroke="#4a4a4a"  style="stroke-width:0.15px">85.0</text>
<text class="s" x="1572.7" y="1533.9" font-size="7.8" text-anchor="end" fill="#4a4a4a" stroke="#4a4a4a"  style="stroke-width:0.15px">Q3</text>
<text class="s" x="1572.7" y="1545.3" font-size="7.8" text-anchor="end" fill="#4a4a4a" stroke="#4a4a4a"  style="stroke-width:0.15px">12.2</text>
<text class="s" x="1398.9" y="1469.4" font-size="11.25" text-anchor="middle" transform="rotate(-90 1398.9 1469.4)" style="stroke-width:0.65px">Propidium Iodide</text>
<text class="s" x="1504.3" y="1587.6" font-size="11.25" text-anchor="middle" style="stroke-width:0.65px">Annexin V FITC</text>
<line x1="1667.2" y1="1067.6" x2="1667.2" y2="1284.2" stroke-width="2.6"/>
<line x1="1658.5" y1="1282.9" x2="1882.2" y2="1282.9" stroke-width="2.6"/>
<line x1="1658.5" y1="1282.9" x2="1667.2" y2="1282.9" stroke-width="2.34"/>
<text class="sb" x="1655" y="1288.81" font-size="16.5" text-anchor="end">0</text>
<line x1="1658.5" y1="1240.04" x2="1667.2" y2="1240.04" stroke-width="2.34"/>
<text class="sb" x="1655" y="1245.95" font-size="16.5" text-anchor="end">2</text>
<line x1="1658.5" y1="1197.18" x2="1667.2" y2="1197.18" stroke-width="2.34"/>
<text class="sb" x="1655" y="1203.09" font-size="16.5" text-anchor="end">4</text>
<line x1="1658.5" y1="1154.32" x2="1667.2" y2="1154.32" stroke-width="2.34"/>
<text class="sb" x="1655" y="1160.23" font-size="16.5" text-anchor="end">6</text>
<line x1="1658.5" y1="1111.46" x2="1667.2" y2="1111.46" stroke-width="2.34"/>
<text class="sb" x="1655" y="1117.37" font-size="16.5" text-anchor="end">8</text>
<line x1="1658.5" y1="1068.6" x2="1667.2" y2="1068.6" stroke-width="2.34"/>
<text class="sb" x="1655" y="1074.51" font-size="16.5" text-anchor="end">10</text>
<line x1="1716.5" y1="1282.9" x2="1716.5" y2="1291.6" stroke-width="2.34"/>
<line x1="1830.4" y1="1282.9" x2="1830.4" y2="1291.6" stroke-width="2.34"/>
<text class="sb" x="1716.5" y="1308.6" font-size="16.5" text-anchor="middle">Early</text>
<text class="sb" x="1830.4" y="1308.6" font-size="16.5" text-anchor="middle">Total</text>
<text class="sb" x="1740.5" y="1034.1" font-size="17" text-anchor="middle">HGC-27</text>
<line x1="1695.1" y1="1207" x2="1695.1" y2="1201.8" stroke-width="1.2"/>
<line x1="1688.6" y1="1201.8" x2="1701.6" y2="1201.8" stroke-width="1.2"/>
<line x1="1738.4" y1="1134" x2="1738.4" y2="1129.7" stroke-width="1.2"/>
<line x1="1731.9" y1="1129.7" x2="1744.9" y2="1129.7" stroke-width="1.2"/>
<line x1="1809.5" y1="1173" x2="1809.5" y2="1164.5" stroke-width="1.2"/>
<line x1="1803" y1="1164.5" x2="1816" y2="1164.5" stroke-width="1.2"/>
<line x1="1852.7" y1="1096" x2="1852.7" y2="1090.5" stroke-width="1.2"/>
<line x1="1846.2" y1="1090.5" x2="1859.2" y2="1090.5" stroke-width="1.2"/>
<rect x="1682.3" y="1206.9" width="25.6" height="77.6" fill="#c57ea3" stroke="#000" stroke-width="3.2"/>
<rect x="1725.6" y="1133.9" width="25.6" height="150.6" fill="#028102" stroke="#000" stroke-width="3.2"/>
<rect x="1796.7" y="1172.5" width="25.6" height="112" fill="#c57ea3" stroke="#000" stroke-width="3.2"/>
<rect x="1839.9" y="1095.9" width="25.6" height="188.6" fill="#028102" stroke="#000" stroke-width="3.2"/>
<line x1="1695.6" y1="1119.4" x2="1738.4" y2="1119.4" stroke-width="3.2"/>
<line x1="1809.2" y1="1083.7" x2="1855.8" y2="1083.7" stroke-width="3.2"/>
<text class="a" x="1711.29" y="1112.92" font-size="20.43">*</text>
<text class="a" x="1827.09" y="1077.52" font-size="20.43">*</text>
<text class="sb" font-size="15.4" text-anchor="middle" transform="translate(1625.6 1175.7) rotate(-90) scale(1 1)">Apoptasis cells (%)</text>
<rect x="1884" y="1051.7" width="19.2" height="7.8" fill="#c57ea3" stroke="#000" stroke-width="3"/>
<rect x="1884" y="1080.7" width="19.2" height="7.8" fill="#028102" stroke="#000" stroke-width="3"/>
<text class="s" x="1918" y="1060.8" font-size="17">si-NC</text>
<text class="s" x="1918" y="1089.8" font-size="17">si-UBE2C</text>
<line x1="1670.8" y1="1379.8" x2="1670.8" y2="1595.4" stroke-width="2.6"/>
<line x1="1661.8" y1="1594.1" x2="1886.4" y2="1594.1" stroke-width="2.6"/>
<line x1="1662.1" y1="1594.1" x2="1670.8" y2="1594.1" stroke-width="2.34"/>
<text class="sb" x="1659.7" y="1600.01" font-size="16.5" text-anchor="end">0</text>
<line x1="1662.1" y1="1523" x2="1670.8" y2="1523" stroke-width="2.34"/>
<text class="sb" x="1659.7" y="1528.91" font-size="16.5" text-anchor="end">5</text>
<line x1="1662.1" y1="1451.9" x2="1670.8" y2="1451.9" stroke-width="2.34"/>
<text class="sb" x="1659.7" y="1457.81" font-size="16.5" text-anchor="end">10</text>
<line x1="1662.1" y1="1380.8" x2="1670.8" y2="1380.8" stroke-width="2.34"/>
<text class="sb" x="1659.7" y="1386.71" font-size="16.5" text-anchor="end">15</text>
<line x1="1721.5" y1="1594.1" x2="1721.5" y2="1602.8" stroke-width="2.34"/>
<line x1="1835.6" y1="1594.1" x2="1835.6" y2="1602.8" stroke-width="2.34"/>
<text class="sb" x="1721" y="1619.8" font-size="16.5" text-anchor="middle">Early</text>
<text class="sb" x="1835.3" y="1619.8" font-size="16.5" text-anchor="middle">Total</text>
<text class="sb" x="1778.2" y="1356.9" font-size="17" text-anchor="middle">AGS</text>
<line x1="1699.4" y1="1480" x2="1699.4" y2="1471.8" stroke-width="1.2"/>
<line x1="1692.9" y1="1471.8" x2="1705.9" y2="1471.8" stroke-width="1.2"/>
<line x1="1742.7" y1="1428" x2="1742.7" y2="1420.3" stroke-width="1.2"/>
<line x1="1736.2" y1="1420.3" x2="1749.2" y2="1420.3" stroke-width="1.2"/>
<line x1="1813.6" y1="1473" x2="1813.6" y2="1462.8" stroke-width="1.2"/>
<line x1="1807.1" y1="1462.8" x2="1820.1" y2="1462.8" stroke-width="1.2"/>
<line x1="1856.7" y1="1417" x2="1856.7" y2="1406.8" stroke-width="1.2"/>
<line x1="1850.2" y1="1406.8" x2="1863.2" y2="1406.8" stroke-width="1.2"/>
<rect x="1686.6" y="1479.8" width="25.6" height="115.9" fill="#c57ea3" stroke="#000" stroke-width="3.2"/>
<rect x="1729.9" y="1427.6" width="25.6" height="168.1" fill="#028102" stroke="#000" stroke-width="3.2"/>
<rect x="1800.8" y="1472.7" width="25.6" height="123" fill="#c57ea3" stroke="#000" stroke-width="3.2"/>
<rect x="1843.9" y="1417.1" width="25.6" height="178.6" fill="#028102" stroke="#000" stroke-width="3.2"/>
<line x1="1700.4" y1="1410" x2="1742.6" y2="1410" stroke-width="3.2"/>
<line x1="1813.4" y1="1397.8" x2="1859.4" y2="1397.8" stroke-width="3.2"/>
<text class="a" x="1716.09" y="1403.52" font-size="20.43">*</text>
<text class="a" x="1831.29" y="1391.22" font-size="20.43">*</text>
<text class="sb" font-size="15.4" text-anchor="middle" transform="translate(1630.2 1487) rotate(-90) scale(1 1)">Apoptasis cells (%)</text>
<rect x="1888.5" y="1364.5" width="19" height="7.8" fill="#c57ea3" stroke="#000" stroke-width="3"/>
<rect x="1888.5" y="1393.5" width="19" height="7.8" fill="#028102" stroke="#000" stroke-width="3"/>
<text class="s" x="1922.8" y="1373.6" font-size="17">si-NC</text>
<text class="s" x="1922.8" y="1402.6" font-size="17">si-UBE2C</text>
<text class="tb" x="3.5" y="1678" font-size="40.5">(f)</text>
<line x1="184.4" y1="1714.5" x2="184.4" y2="1975.9" stroke-width="3.2"/>
<line x1="174.4" y1="1974.3" x2="573.8" y2="1974.3" stroke-width="3.2"/>
<line x1="174.4" y1="1974.3" x2="184.4" y2="1974.3" stroke-width="2.8"/>
<text class="sb" font-size="21" text-anchor="end" transform="translate(171.5 1982.2) scale(0.94 1.05)">0</text>
<line x1="174.4" y1="1922.6" x2="184.4" y2="1922.6" stroke-width="2.8"/>
<text class="sb" font-size="21" text-anchor="end" transform="translate(171.5 1930.5) scale(0.94 1.05)">20</text>
<line x1="174.4" y1="1870.9" x2="184.4" y2="1870.9" stroke-width="2.8"/>
<text class="sb" font-size="21" text-anchor="end" transform="translate(171.5 1878.8) scale(0.94 1.05)">40</text>
<line x1="174.4" y1="1819.2" x2="184.4" y2="1819.2" stroke-width="2.8"/>
<text class="sb" font-size="21" text-anchor="end" transform="translate(171.5 1827.1) scale(0.94 1.05)">60</text>
<line x1="174.4" y1="1767.5" x2="184.4" y2="1767.5" stroke-width="2.8"/>
<text class="sb" font-size="21" text-anchor="end" transform="translate(171.5 1775.4) scale(0.94 1.05)">80</text>
<line x1="174.4" y1="1715.8" x2="184.4" y2="1715.8" stroke-width="2.8"/>
<text class="sb" font-size="21" text-anchor="end" transform="translate(171.5 1723.7) scale(0.94 1.05)">100</text>
<line x1="184.4" y1="1974.3" x2="184.4" y2="1983.9" stroke-width="2.8"/>
<text class="sb" font-size="21" text-anchor="middle" transform="translate(184.4 2007) scale(0.92 1.06)">0</text>
<line x1="233" y1="1974.3" x2="233" y2="1983.9" stroke-width="2.8"/>
<text class="sb" font-size="21" text-anchor="middle" transform="translate(233 2007) scale(0.92 1.06)">10</text>
<line x1="281.6" y1="1974.3" x2="281.6" y2="1983.9" stroke-width="2.8"/>
<text class="sb" font-size="21" text-anchor="middle" transform="translate(281.6 2007) scale(0.92 1.06)">20</text>
<line x1="330.2" y1="1974.3" x2="330.2" y2="1983.9" stroke-width="2.8"/>
<text class="sb" font-size="21" text-anchor="middle" transform="translate(330.2 2007) scale(0.92 1.06)">30</text>
<line x1="378.8" y1="1974.3" x2="378.8" y2="1983.9" stroke-width="2.8"/>
<text class="sb" font-size="21" text-anchor="middle" transform="translate(378.8 2007) scale(0.92 1.06)">40</text>
<line x1="427.4" y1="1974.3" x2="427.4" y2="1983.9" stroke-width="2.8"/>
<text class="sb" font-size="21" text-anchor="middle" transform="translate(427.4 2007) scale(0.92 1.06)">50</text>
<line x1="476" y1="1974.3" x2="476" y2="1983.9" stroke-width="2.8"/>
<text class="sb" font-size="21" text-anchor="middle" transform="translate(476 2007) scale(0.92 1.06)">60</text>
<line x1="524.6" y1="1974.3" x2="524.6" y2="1983.9" stroke-width="2.8"/>
<text class="sb" font-size="21" text-anchor="middle" transform="translate(524.6 2007) scale(0.92 1.06)">70</text>
<line x1="573.2" y1="1974.3" x2="573.2" y2="1983.9" stroke-width="2.8"/>
<text class="sb" font-size="21" text-anchor="middle" transform="translate(573.2 2007) scale(0.92 1.06)">80</text>
<text class="sb" x="377.8" y="1680" font-size="24.3" text-anchor="middle">AGS</text>
<text class="sb" font-size="24.9" transform="translate(124.7 1946.5) rotate(-90) scale(1 1.12)">Cell survival</text>
<text class="cb" font-size="23" transform="translate(123.2 1800.4) rotate(-90) scale(1 1)">（</text>
<text class="sb" font-size="24.9" transform="translate(124.7 1777.6) rotate(-90) scale(1 1.12)">%</text>
<text class="cb" font-size="23" transform="translate(123.2 1756.2) rotate(-90) scale(1 1)">）</text>
<text class="sb" font-size="21" letter-spacing="1.2"><tspan x="295.8" y="2038.4">Cisplatin</tspan><tspan class="c" font-size="19" letter-spacing="0" x="385.4" y="2039.8">（</tspan><tspan x="413.9" y="2038.4">μM</tspan><tspan class="c" font-size="19" letter-spacing="0" x="447.65" y="2039.8">）</tspan></text>
<line x1="191.6" y1="1845.2" x2="567.5" y2="1845.2" stroke-width="2.6" stroke-dasharray="2.6 7.4" />
<polyline points="184.4,1715.8 186.83,1719.1 189.26,1722.32 191.69,1725.46 194.12,1728.52 196.55,1731.51 198.98,1734.42 201.41,1737.27 203.84,1740.05 206.27,1742.76 208.7,1745.42 211.13,1748.01 213.56,1750.54 215.99,1753.02 218.42,1755.45 220.85,1757.82 223.28,1760.14 225.71,1762.41 228.14,1764.64 230.57,1766.81 233,1768.95 235.43,1771.04 237.86,1773.08 240.29,1775.09 242.72,1777.06 245.15,1778.98 247.58,1780.88 250.01,1782.73 252.44,1784.55 254.87,1786.34 257.3,1788.09 259.73,1789.81 262.16,1791.5 264.59,1793.15 267.02,1794.78 269.45,1796.38 271.88,1797.95 274.31,1799.49 276.74,1801.01 279.17,1802.5 281.6,1803.97 284.03,1805.41 286.46,1806.82 288.89,1808.21 291.32,1809.58 293.75,1810.93 296.18,1812.26 298.61,1813.56 301.04,1814.84 303.47,1816.1 305.9,1817.35 308.33,1818.57 310.76,1819.78 313.19,1820.96 315.62,1822.13 318.05,1823.28 320.48,1824.41 322.91,1825.53 325.34,1826.63 327.77,1827.71 330.2,1828.78 332.63,1829.83 335.06,1830.87 337.49,1831.89 339.92,1832.9 342.35,1833.89 344.78,1834.87 347.21,1835.84 349.64,1836.79 352.07,1837.73 354.5,1838.66 356.93,1839.58 359.36,1840.48 361.79,1841.37 364.22,1842.25 366.65,1843.11 369.08,1843.97 371.51,1844.82 373.94,1845.65 376.37,1846.47 378.8,1847.29 381.23,1848.09 383.66,1848.88 386.09,1849.66 388.52,1850.44 390.95,1851.2 393.38,1851.95 395.81,1852.7 398.24,1853.43 400.67,1854.16 403.1,1854.88 405.53,1855.59 407.96,1856.29 410.39,1856.98 412.82,1857.67 415.25,1858.34 417.68,1859.01 420.11,1859.67 422.54,1860.33 424.97,1860.98 427.4,1861.61 429.83,1862.25 432.26,1862.87 434.69,1863.49 437.12,1864.1 439.55,1864.71 441.98,1865.3 444.41,1865.89 446.84,1866.48 449.27,1867.06 451.7,1867.63 454.13,1868.2 456.56,1868.76 458.99,1869.31 461.42,1869.86 463.85,1870.41 466.28,1870.94 468.71,1871.47 471.14,1872 473.57,1872.52 476,1873.04 478.43,1873.55 480.86,1874.05 483.29,1874.56 485.72,1875.05 488.15,1875.54 490.58,1876.03 493.01,1876.51 495.44,1876.98 497.87,1877.46 500.3,1877.92 502.73,1878.39 505.16,1878.84 507.59,1879.3 510.02,1879.75 512.45,1880.19 514.88,1880.63 517.31,1881.07 519.74,1881.51 522.17,1881.93 524.6,1882.36 527.03,1882.78 529.46,1883.2 531.89,1883.61 534.32,1884.02 536.75,1884.43 539.18,1884.83 541.61,1885.23 544.04,1885.62 546.47,1886.02 548.9,1886.4 551.33,1886.79 553.76,1887.17 556.19,1887.55 558.62,1887.92 561.05,1888.3 563.48,1888.67 565.91,1889.03 568.34,1889.39 570.77,1889.75 573.2,1890.11" fill="none" stroke="#c57ea3" stroke-width="1.6"/>
<polyline points="184.4,1715.8 186.83,1723.67 189.26,1731.08 191.69,1738.06 194.12,1744.65 196.55,1750.88 198.98,1756.79 201.41,1762.39 203.84,1767.71 206.27,1772.77 208.7,1777.58 211.13,1782.17 213.56,1786.56 215.99,1790.74 218.42,1794.75 220.85,1798.58 223.28,1802.25 225.71,1805.78 228.14,1809.16 230.57,1812.41 233,1815.53 235.43,1818.53 237.86,1821.43 240.29,1824.22 242.72,1826.9 245.15,1829.5 247.58,1832 250.01,1834.42 252.44,1836.76 254.87,1839.02 257.3,1841.2 259.73,1843.32 262.16,1845.37 264.59,1847.36 267.02,1849.29 269.45,1851.16 271.88,1852.98 274.31,1854.74 276.74,1856.45 279.17,1858.11 281.6,1859.73 284.03,1861.3 286.46,1862.83 288.89,1864.32 291.32,1865.77 293.75,1867.19 296.18,1868.56 298.61,1869.9 301.04,1871.21 303.47,1872.49 305.9,1873.73 308.33,1874.94 310.76,1876.13 313.19,1877.29 315.62,1878.42 318.05,1879.52 320.48,1880.6 322.91,1881.65 325.34,1882.69 327.77,1883.69 330.2,1884.68 332.63,1885.65 335.06,1886.59 337.49,1887.52 339.92,1888.42 342.35,1889.31 344.78,1890.18 347.21,1891.03 349.64,1891.86 352.07,1892.68 354.5,1893.48 356.93,1894.27 359.36,1895.04 361.79,1895.79 364.22,1896.54 366.65,1897.26 369.08,1897.98 371.51,1898.68 373.94,1899.37 376.37,1900.04 378.8,1900.71 381.23,1901.36 383.66,1902 386.09,1902.63 388.52,1903.25 390.95,1903.86 393.38,1904.45 395.81,1905.04 398.24,1905.62 400.67,1906.19 403.1,1906.75 405.53,1907.3 407.96,1907.84 410.39,1908.37 412.82,1908.89 415.25,1909.41 417.68,1909.92 420.11,1910.42 422.54,1910.91 424.97,1911.39 427.4,1911.87 429.83,1912.34 432.26,1912.8 434.69,1913.26 437.12,1913.71 439.55,1914.15 441.98,1914.59 444.41,1915.02 446.84,1915.44 449.27,1915.86 451.7,1916.27 454.13,1916.68 456.56,1917.08 458.99,1917.47 461.42,1917.86 463.85,1918.25 466.28,1918.63 468.71,1919 471.14,1919.37 473.57,1919.73 476,1920.09 478.43,1920.45 480.86,1920.8 483.29,1921.14 485.72,1921.49 488.15,1921.82 490.58,1922.15 493.01,1922.48 495.44,1922.81 497.87,1923.13 500.3,1923.44 502.73,1923.76 505.16,1924.06 507.59,1924.37 510.02,1924.67 512.45,1924.97 514.88,1925.26 517.31,1925.55 519.74,1925.84 522.17,1926.12 524.6,1926.4 527.03,1926.68 529.46,1926.95 531.89,1927.22 534.32,1927.49 536.75,1927.76 539.18,1928.02 541.61,1928.28 544.04,1928.53 546.47,1928.79 548.9,1929.04 551.33,1929.28 553.76,1929.53 556.19,1929.77 558.62,1930.01 561.05,1930.25 563.48,1930.48 565.91,1930.71 568.34,1930.94 570.77,1931.17 573.2,1931.4" fill="none" stroke="#028102" stroke-width="1.6"/>
<line x1="184.4" y1="1715" x2="184.4" y2="1731" stroke-width="1.5" stroke="#c57ea3"/>
<line x1="179.4" y1="1715" x2="189.4" y2="1715" stroke-width="1.5" stroke="#c57ea3"/>
<line x1="179.4" y1="1731" x2="189.4" y2="1731" stroke-width="1.5" stroke="#c57ea3"/>
<line x1="208.7" y1="1721" x2="208.7" y2="1735.8" stroke-width="1.5" stroke="#c57ea3"/>
<line x1="203.7" y1="1721" x2="213.7" y2="1721" stroke-width="1.5" stroke="#c57ea3"/>
<line x1="203.7" y1="1735.8" x2="213.7" y2="1735.8" stroke-width="1.5" stroke="#c57ea3"/>
<line x1="233" y1="1736.2" x2="233" y2="1754.6" stroke-width="1.5" stroke="#c57ea3"/>
<line x1="228" y1="1736.2" x2="238" y2="1736.2" stroke-width="1.5" stroke="#c57ea3"/>
<line x1="228" y1="1754.6" x2="238" y2="1754.6" stroke-width="1.5" stroke="#c57ea3"/>
<line x1="281.6" y1="1796.9" x2="281.6" y2="1810.8" stroke-width="1.5" stroke="#c57ea3"/>
<line x1="276.6" y1="1796.9" x2="286.6" y2="1796.9" stroke-width="1.5" stroke="#c57ea3"/>
<line x1="276.6" y1="1810.8" x2="286.6" y2="1810.8" stroke-width="1.5" stroke="#c57ea3"/>
<line x1="378.8" y1="1843.6" x2="378.8" y2="1864.7" stroke-width="1.5" stroke="#c57ea3"/>
<line x1="373.8" y1="1843.6" x2="383.8" y2="1843.6" stroke-width="1.5" stroke="#c57ea3"/>
<line x1="373.8" y1="1864.7" x2="383.8" y2="1864.7" stroke-width="1.5" stroke="#c57ea3"/>
<line x1="208.7" y1="1736.2" x2="208.7" y2="1767.7" stroke-width="1.5" stroke="#028102"/>
<line x1="203.7" y1="1736.2" x2="213.7" y2="1736.2" stroke-width="1.5" stroke="#028102"/>
<line x1="203.7" y1="1767.7" x2="213.7" y2="1767.7" stroke-width="1.5" stroke="#028102"/>
<line x1="233" y1="1771" x2="233" y2="1798" stroke-width="1.5" stroke="#028102"/>
<line x1="228" y1="1771" x2="238" y2="1771" stroke-width="1.5" stroke="#028102"/>
<line x1="228" y1="1798" x2="238" y2="1798" stroke-width="1.5" stroke="#028102"/>
<line x1="281.6" y1="1885.5" x2="281.6" y2="1899.4" stroke-width="1.5" stroke="#028102"/>
<line x1="276.6" y1="1885.5" x2="286.6" y2="1885.5" stroke-width="1.5" stroke="#028102"/>
<line x1="276.6" y1="1899.4" x2="286.6" y2="1899.4" stroke-width="1.5" stroke="#028102"/>
<rect x="179" y="1710.4" width="10.8" height="10.8" fill="#028102" stroke="none"/>
<rect x="203.3" y="1747.2" width="10.8" height="10.8" fill="#028102" stroke="none"/>
<rect x="227.6" y="1779.1" width="10.8" height="10.8" fill="#028102" stroke="none"/>
<rect x="276.2" y="1886.9" width="10.8" height="10.8" fill="#028102" stroke="none"/>
<rect x="373.4" y="1912.8" width="10.8" height="10.8" fill="#028102" stroke="none"/>
<rect x="567.8" y="1928.8" width="10.8" height="10.8" fill="#028102" stroke="none"/>
<circle cx="184.4" cy="1715.8" r="5.4" fill="#c57ea3"/>
<circle cx="208.7" cy="1728.2" r="5.4" fill="#c57ea3"/>
<circle cx="233" cy="1745.4" r="5.4" fill="#c57ea3"/>
<circle cx="281.6" cy="1803.7" r="5.4" fill="#c57ea3"/>
<circle cx="378.8" cy="1854" r="5.4" fill="#c57ea3"/>
<circle cx="573.2" cy="1907.4" r="5.4" fill="#c57ea3"/>
<line x1="473" y1="1733" x2="501" y2="1733" stroke-width="1.6" stroke="#c57ea3"/>
<circle cx="487" cy="1733" r="5.4" fill="#c57ea3"/>
<line x1="473" y1="1767.7" x2="501" y2="1767.7" stroke-width="1.6" stroke="#028102"/>
<rect x="481.6" y="1762.3" width="10.8" height="10.8" fill="#028102" stroke="none"/>
<text class="s" x="515.7" y="1739" font-size="21">si-NC IC50=38.64</text>
<text class="s" x="515.7" y="1773.7" font-size="21">si-UBE2C IC50=15.92</text>
<line x1="870.9" y1="1732.1" x2="870.9" y2="1987.1" stroke-width="3.2"/>
<line x1="860.9" y1="1985.5" x2="1251" y2="1985.5" stroke-width="3.2"/>
<line x1="860.9" y1="1985.5" x2="870.9" y2="1985.5" stroke-width="2.8"/>
<text class="sb" font-size="20.53" text-anchor="end" transform="translate(858 1993.22) scale(0.94 1.05)">0</text>
<line x1="860.9" y1="1935.08" x2="870.9" y2="1935.08" stroke-width="2.8"/>
<text class="sb" font-size="20.53" text-anchor="end" transform="translate(858 1942.8) scale(0.94 1.05)">20</text>
<line x1="860.9" y1="1884.66" x2="870.9" y2="1884.66" stroke-width="2.8"/>
<text class="sb" font-size="20.53" text-anchor="end" transform="translate(858 1892.38) scale(0.94 1.05)">40</text>
<line x1="860.9" y1="1834.24" x2="870.9" y2="1834.24" stroke-width="2.8"/>
<text class="sb" font-size="20.53" text-anchor="end" transform="translate(858 1841.96) scale(0.94 1.05)">60</text>
<line x1="860.9" y1="1783.82" x2="870.9" y2="1783.82" stroke-width="2.8"/>
<text class="sb" font-size="20.53" text-anchor="end" transform="translate(858 1791.54) scale(0.94 1.05)">80</text>
<line x1="860.9" y1="1733.4" x2="870.9" y2="1733.4" stroke-width="2.8"/>
<text class="sb" font-size="20.53" text-anchor="end" transform="translate(858 1741.12) scale(0.94 1.05)">100</text>
<line x1="870.9" y1="1985.5" x2="870.9" y2="1995.1" stroke-width="2.8"/>
<text class="sb" font-size="20.53" text-anchor="middle" transform="translate(870.9 2018.6) scale(0.92 1.06)">0</text>
<line x1="918.35" y1="1985.5" x2="918.35" y2="1995.1" stroke-width="2.8"/>
<text class="sb" font-size="20.53" text-anchor="middle" transform="translate(918.35 2018.6) scale(0.92 1.06)">10</text>
<line x1="965.8" y1="1985.5" x2="965.8" y2="1995.1" stroke-width="2.8"/>
<text class="sb" font-size="20.53" text-anchor="middle" transform="translate(965.8 2018.6) scale(0.92 1.06)">20</text>
<line x1="1013.25" y1="1985.5" x2="1013.25" y2="1995.1" stroke-width="2.8"/>
<text class="sb" font-size="20.53" text-anchor="middle" transform="translate(1013.25 2018.6) scale(0.92 1.06)">30</text>
<line x1="1060.7" y1="1985.5" x2="1060.7" y2="1995.1" stroke-width="2.8"/>
<text class="sb" font-size="20.53" text-anchor="middle" transform="translate(1060.7 2018.6) scale(0.92 1.06)">40</text>
<line x1="1108.15" y1="1985.5" x2="1108.15" y2="1995.1" stroke-width="2.8"/>
<text class="sb" font-size="20.53" text-anchor="middle" transform="translate(1108.15 2018.6) scale(0.92 1.06)">50</text>
<line x1="1155.6" y1="1985.5" x2="1155.6" y2="1995.1" stroke-width="2.8"/>
<text class="sb" font-size="20.53" text-anchor="middle" transform="translate(1155.6 2018.6) scale(0.92 1.06)">60</text>
<line x1="1203.05" y1="1985.5" x2="1203.05" y2="1995.1" stroke-width="2.8"/>
<text class="sb" font-size="20.53" text-anchor="middle" transform="translate(1203.05 2018.6) scale(0.92 1.06)">70</text>
<line x1="1250.5" y1="1985.5" x2="1250.5" y2="1995.1" stroke-width="2.8"/>
<text class="sb" font-size="20.53" text-anchor="middle" transform="translate(1250.5 2018.6) scale(0.92 1.06)">80</text>
<text class="sb" x="1059.9" y="1699.9" font-size="23.75" text-anchor="middle">HGC-27</text>
<text class="sb" font-size="24.34" transform="translate(814.7 1957.42) rotate(-90) scale(1 1.12)">Cell survival</text>
<text class="cb" font-size="22.48" transform="translate(813.2 1814.61) rotate(-90) scale(1 1)">（</text>
<text class="sb" font-size="24.34" transform="translate(814.7 1792.32) rotate(-90) scale(1 1.12)">%</text>
<text class="cb" font-size="22.48" transform="translate(813.2 1771.4) rotate(-90) scale(1 1)">）</text>
<text class="sb" font-size="20.53" letter-spacing="1.17"><tspan x="979.78" y="2047.4">Cisplatin</tspan><tspan class="c" font-size="18.57" letter-spacing="0" x="1067.37" y="2048.8">（</tspan><tspan x="1095.23" y="2047.4">μM</tspan><tspan class="c" font-size="18.57" letter-spacing="0" x="1128.22" y="2048.8">）</tspan></text>
<line x1="877.7" y1="1859.1" x2="1245.5" y2="1859.1" stroke-width="2.6" stroke-dasharray="2.6 7.4" />
<polyline points="870.9,1733.4 873.27,1736.95 875.64,1740.4 878.02,1743.76 880.39,1747.02 882.76,1750.2 885.13,1753.3 887.51,1756.31 889.88,1759.25 892.25,1762.11 894.62,1764.9 897,1767.63 899.37,1770.28 901.74,1772.88 904.12,1775.41 906.49,1777.88 908.86,1780.29 911.23,1782.65 913.61,1784.95 915.98,1787.21 918.35,1789.41 920.72,1791.56 923.1,1793.67 925.47,1795.73 927.84,1797.75 930.21,1799.73 932.59,1801.66 934.96,1803.56 937.33,1805.41 939.7,1807.23 942.07,1809.01 944.45,1810.76 946.82,1812.47 949.19,1814.15 951.56,1815.8 953.94,1817.42 956.31,1819 958.68,1820.56 961.05,1822.09 963.43,1823.58 965.8,1825.06 968.17,1826.5 970.54,1827.92 972.92,1829.31 975.29,1830.68 977.66,1832.03 980.03,1833.35 982.41,1834.65 984.78,1835.93 987.15,1837.19 989.52,1838.42 991.9,1839.64 994.27,1840.83 996.64,1842.01 999.01,1843.17 1001.39,1844.31 1003.76,1845.43 1006.13,1846.53 1008.5,1847.61 1010.88,1848.68 1013.25,1849.74 1015.62,1850.77 1018,1851.79 1020.37,1852.8 1022.74,1853.79 1025.11,1854.76 1027.48,1855.72 1029.86,1856.67 1032.23,1857.61 1034.6,1858.53 1036.97,1859.43 1039.35,1860.33 1041.72,1861.21 1044.09,1862.08 1046.46,1862.93 1048.84,1863.78 1051.21,1864.61 1053.58,1865.43 1055.95,1866.25 1058.33,1867.05 1060.7,1867.84 1063.07,1868.61 1065.44,1869.38 1067.82,1870.14 1070.19,1870.89 1072.56,1871.63 1074.93,1872.36 1077.31,1873.08 1079.68,1873.79 1082.05,1874.49 1084.42,1875.19 1086.8,1875.87 1089.17,1876.55 1091.54,1877.22 1093.91,1877.88 1096.29,1878.53 1098.66,1879.18 1101.03,1879.81 1103.4,1880.44 1105.78,1881.06 1108.15,1881.68 1110.52,1882.28 1112.89,1882.88 1115.27,1883.48 1117.64,1884.06 1120.01,1884.64 1122.38,1885.22 1124.76,1885.78 1127.13,1886.34 1129.5,1886.9 1131.88,1887.44 1134.25,1887.99 1136.62,1888.52 1138.99,1889.05 1141.37,1889.58 1143.74,1890.09 1146.11,1890.61 1148.48,1891.11 1150.86,1891.62 1153.23,1892.11 1155.6,1892.6 1157.97,1893.09 1160.35,1893.57 1162.72,1894.05 1165.09,1894.52 1167.46,1894.99 1169.84,1895.45 1172.21,1895.9 1174.58,1896.36 1176.95,1896.81 1179.33,1897.25 1181.7,1897.69 1184.07,1898.12 1186.44,1898.55 1188.82,1898.98 1191.19,1899.4 1193.56,1899.82 1195.93,1900.23 1198.31,1900.64 1200.68,1901.05 1203.05,1901.45 1205.42,1901.85 1207.8,1902.24 1210.17,1902.63 1212.54,1903.02 1214.91,1903.41 1217.29,1903.79 1219.66,1904.16 1222.03,1904.53 1224.4,1904.9 1226.78,1905.27 1229.15,1905.63 1231.52,1905.99 1233.89,1906.35 1236.26,1906.7 1238.64,1907.05 1241.01,1907.4 1243.38,1907.74 1245.76,1908.09 1248.13,1908.42 1250.5,1908.76" fill="none" stroke="#c57ea3" stroke-width="1.6"/>
<polyline points="870.9,1733.4 873.27,1744.08 875.64,1753.9 878.02,1762.94 880.39,1771.31 882.76,1779.07 885.13,1786.29 887.51,1793.02 889.88,1799.31 892.25,1805.2 894.62,1810.73 897,1815.93 899.37,1820.83 901.74,1825.46 904.12,1829.83 906.49,1833.97 908.86,1837.9 911.23,1841.62 913.61,1845.17 915.98,1848.54 918.35,1851.76 920.72,1854.82 923.1,1857.75 925.47,1860.56 927.84,1863.24 930.21,1865.81 932.59,1868.27 934.96,1870.63 937.33,1872.9 939.7,1875.08 942.07,1877.18 944.45,1879.2 946.82,1881.15 949.19,1883.03 951.56,1884.84 953.94,1886.59 956.31,1888.27 958.68,1889.91 961.05,1891.48 963.43,1893.01 965.8,1894.49 968.17,1895.92 970.54,1897.3 972.92,1898.65 975.29,1899.95 977.66,1901.22 980.03,1902.45 982.41,1903.64 984.78,1904.8 987.15,1905.93 989.52,1907.02 991.9,1908.09 994.27,1909.13 996.64,1910.14 999.01,1911.12 1001.39,1912.08 1003.76,1913.01 1006.13,1913.92 1008.5,1914.81 1010.88,1915.68 1013.25,1916.52 1015.62,1917.35 1018,1918.15 1020.37,1918.94 1022.74,1919.71 1025.11,1920.46 1027.48,1921.19 1029.86,1921.91 1032.23,1922.61 1034.6,1923.3 1036.97,1923.97 1039.35,1924.63 1041.72,1925.27 1044.09,1925.9 1046.46,1926.52 1048.84,1927.12 1051.21,1927.72 1053.58,1928.3 1055.95,1928.87 1058.33,1929.42 1060.7,1929.97 1063.07,1930.51 1065.44,1931.03 1067.82,1931.55 1070.19,1932.05 1072.56,1932.55 1074.93,1933.04 1077.31,1933.52 1079.68,1933.99 1082.05,1934.45 1084.42,1934.9 1086.8,1935.35 1089.17,1935.78 1091.54,1936.21 1093.91,1936.64 1096.29,1937.05 1098.66,1937.46 1101.03,1937.86 1103.4,1938.26 1105.78,1938.65 1108.15,1939.03 1110.52,1939.4 1112.89,1939.77 1115.27,1940.14 1117.64,1940.5 1120.01,1940.85 1122.38,1941.2 1124.76,1941.54 1127.13,1941.87 1129.5,1942.21 1131.88,1942.53 1134.25,1942.85 1136.62,1943.17 1138.99,1943.48 1141.37,1943.79 1143.74,1944.09 1146.11,1944.39 1148.48,1944.69 1150.86,1944.98 1153.23,1945.26 1155.6,1945.55 1157.97,1945.82 1160.35,1946.1 1162.72,1946.37 1165.09,1946.64 1167.46,1946.9 1169.84,1947.16 1172.21,1947.42 1174.58,1947.67 1176.95,1947.92 1179.33,1948.16 1181.7,1948.41 1184.07,1948.65 1186.44,1948.88 1188.82,1949.12 1191.19,1949.35 1193.56,1949.58 1195.93,1949.8 1198.31,1950.02 1200.68,1950.24 1203.05,1950.46 1205.42,1950.67 1207.8,1950.89 1210.17,1951.1 1212.54,1951.3 1214.91,1951.51 1217.29,1951.71 1219.66,1951.91 1222.03,1952.1 1224.4,1952.3 1226.78,1952.49 1229.15,1952.68 1231.52,1952.87 1233.89,1953.05 1236.26,1953.24 1238.64,1953.42 1241.01,1953.6 1243.38,1953.78 1245.76,1953.95 1248.13,1954.13 1250.5,1954.3" fill="none" stroke="#028102" stroke-width="1.6"/>
<line x1="870.9" y1="1732.6" x2="870.9" y2="1745.8" stroke-width="1.5" stroke="#c57ea3"/>
<line x1="865.9" y1="1732.6" x2="875.9" y2="1732.6" stroke-width="1.5" stroke="#c57ea3"/>
<line x1="865.9" y1="1745.8" x2="875.9" y2="1745.8" stroke-width="1.5" stroke="#c57ea3"/>
<line x1="894.62" y1="1734.2" x2="894.62" y2="1760.1" stroke-width="1.5" stroke="#c57ea3"/>
<line x1="889.62" y1="1734.2" x2="899.62" y2="1734.2" stroke-width="1.5" stroke="#c57ea3"/>
<line x1="889.62" y1="1760.1" x2="899.62" y2="1760.1" stroke-width="1.5" stroke="#c57ea3"/>
<line x1="918.35" y1="1788.5" x2="918.35" y2="1804.8" stroke-width="1.5" stroke="#c57ea3"/>
<line x1="913.35" y1="1788.5" x2="923.35" y2="1788.5" stroke-width="1.5" stroke="#c57ea3"/>
<line x1="913.35" y1="1804.8" x2="923.35" y2="1804.8" stroke-width="1.5" stroke="#c57ea3"/>
<line x1="965.8" y1="1815.6" x2="965.8" y2="1837.2" stroke-width="1.5" stroke="#c57ea3"/>
<line x1="960.8" y1="1815.6" x2="970.8" y2="1815.6" stroke-width="1.5" stroke="#c57ea3"/>
<line x1="960.8" y1="1837.2" x2="970.8" y2="1837.2" stroke-width="1.5" stroke="#c57ea3"/>
<line x1="1060.7" y1="1859.1" x2="1060.7" y2="1871.5" stroke-width="1.5" stroke="#c57ea3"/>
<line x1="1055.7" y1="1859.1" x2="1065.7" y2="1859.1" stroke-width="1.5" stroke="#c57ea3"/>
<line x1="1055.7" y1="1871.5" x2="1065.7" y2="1871.5" stroke-width="1.5" stroke="#c57ea3"/>
<line x1="1250.5" y1="1906.6" x2="1250.5" y2="1920.6" stroke-width="1.5" stroke="#c57ea3"/>
<line x1="1245.5" y1="1906.6" x2="1255.5" y2="1906.6" stroke-width="1.5" stroke="#c57ea3"/>
<line x1="1245.5" y1="1920.6" x2="1255.5" y2="1920.6" stroke-width="1.5" stroke="#c57ea3"/>
<line x1="894.62" y1="1782.1" x2="894.62" y2="1811.2" stroke-width="1.5" stroke="#028102"/>
<line x1="889.62" y1="1782.1" x2="899.62" y2="1782.1" stroke-width="1.5" stroke="#028102"/>
<line x1="889.62" y1="1811.2" x2="899.62" y2="1811.2" stroke-width="1.5" stroke="#028102"/>
<line x1="918.35" y1="1848" x2="918.35" y2="1865.9" stroke-width="1.5" stroke="#028102"/>
<line x1="913.35" y1="1848" x2="923.35" y2="1848" stroke-width="1.5" stroke="#028102"/>
<line x1="913.35" y1="1865.9" x2="923.35" y2="1865.9" stroke-width="1.5" stroke="#028102"/>
<line x1="965.8" y1="1899.4" x2="965.8" y2="1912.6" stroke-width="1.5" stroke="#028102"/>
<line x1="960.8" y1="1899.4" x2="970.8" y2="1899.4" stroke-width="1.5" stroke="#028102"/>
<line x1="960.8" y1="1912.6" x2="970.8" y2="1912.6" stroke-width="1.5" stroke="#028102"/>
<rect x="865.5" y="1728" width="10.8" height="10.8" fill="#028102" stroke="none"/>
<rect x="889.23" y="1791.1" width="10.8" height="10.8" fill="#028102" stroke="none"/>
<rect x="912.95" y="1851.3" width="10.8" height="10.8" fill="#028102" stroke="none"/>
<rect x="960.4" y="1900.4" width="10.8" height="10.8" fill="#028102" stroke="none"/>
<rect x="1055.3" y="1917.2" width="10.8" height="10.8" fill="#028102" stroke="none"/>
<rect x="1245.1" y="1952.7" width="10.8" height="10.8" fill="#028102" stroke="none"/>
<circle cx="870.9" cy="1733.4" r="5.4" fill="#c57ea3"/>
<circle cx="894.62" cy="1747.4" r="5.4" fill="#c57ea3"/>
<circle cx="918.35" cy="1796.5" r="5.4" fill="#c57ea3"/>
<circle cx="965.8" cy="1826.4" r="5.4" fill="#c57ea3"/>
<circle cx="1060.7" cy="1865.1" r="5.4" fill="#c57ea3"/>
<circle cx="1250.5" cy="1913.4" r="5.4" fill="#c57ea3"/>
<line x1="1152.3" y1="1749.8" x2="1180.3" y2="1749.8" stroke-width="1.6" stroke="#c57ea3"/>
<circle cx="1166.3" cy="1749.8" r="5.4" fill="#c57ea3"/>
<line x1="1152.3" y1="1783.7" x2="1180.3" y2="1783.7" stroke-width="1.6" stroke="#028102"/>
<rect x="1160.9" y="1778.3" width="10.8" height="10.8" fill="#028102" stroke="none"/>
<text class="s" x="1195" y="1755.8" font-size="20.76">si-NC IC50=35.01</text>
<text class="s" x="1195" y="1790" font-size="20.76">si-UBE2C IC50=11.30</text>
</svg></body></html>
